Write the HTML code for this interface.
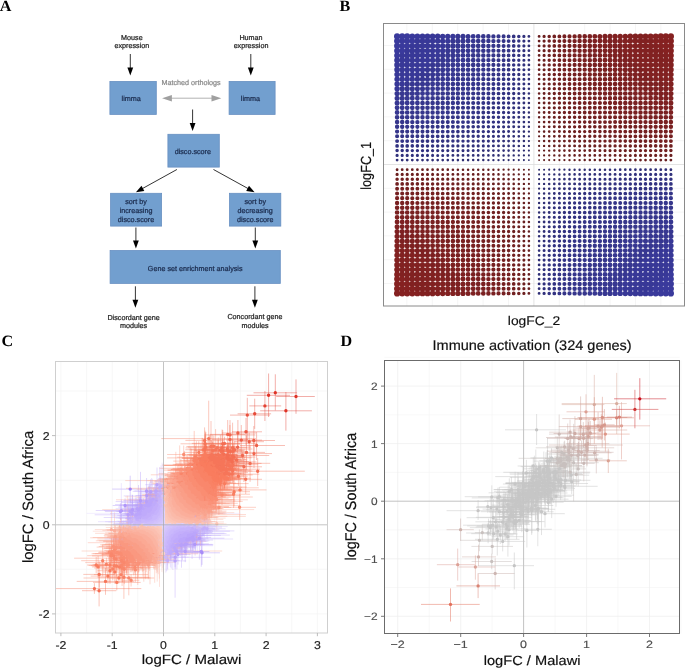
<!DOCTYPE html>
<html><head><meta charset="utf-8"><style>
html,body{margin:0;padding:0;background:#fff;}
body{width:685px;height:669px;overflow:hidden;}
svg{display:block;will-change:transform;}
text{text-rendering:geometricPrecision;}
</style></head><body>
<svg width="685" height="669" viewBox="0 0 685 669">
<rect width="685" height="669" fill="#fff"/>
<text transform="translate(-0.2,10.6) scale(1.030,1)" font-size="15.7" fill="#000" text-anchor="start" font-family='"Liberation Serif", serif' font-weight="bold" >A</text>
<text transform="translate(339.6,10.7) scale(1.030,1)" font-size="15.7" fill="#000" text-anchor="start" font-family='"Liberation Serif", serif' font-weight="bold" >B</text>
<text transform="translate(1.4,345.6) scale(1.030,1)" font-size="15.7" fill="#000" text-anchor="start" font-family='"Liberation Serif", serif' font-weight="bold" >C</text>
<text transform="translate(340.6,345.6) scale(1.030,1)" font-size="15.7" fill="#000" text-anchor="start" font-family='"Liberation Serif", serif' font-weight="bold" >D</text>
<text transform="translate(131.9,39.9)" font-size="7.2" fill="#222" text-anchor="middle" font-family='"Liberation Sans", sans-serif' font-weight="normal"  stroke="#222" stroke-width="0.22">Mouse</text>
<text transform="translate(131.9,47.9)" font-size="7.2" fill="#222" text-anchor="middle" font-family='"Liberation Sans", sans-serif' font-weight="normal"  stroke="#222" stroke-width="0.22">expression</text>
<text transform="translate(251,40.4)" font-size="7.2" fill="#222" text-anchor="middle" font-family='"Liberation Sans", sans-serif' font-weight="normal"  stroke="#222" stroke-width="0.22">Human</text>
<text transform="translate(251,48.4)" font-size="7.2" fill="#222" text-anchor="middle" font-family='"Liberation Sans", sans-serif' font-weight="normal"  stroke="#222" stroke-width="0.22">expression</text>
<line x1="130.3" y1="54" x2="130.3" y2="68.5" stroke="#000" stroke-width="0.8"/>
<path d="M130.3 75.5L127.4 67.5L133.2 67.5Z" fill="#000"/>
<line x1="250.8" y1="54" x2="250.8" y2="68.5" stroke="#000" stroke-width="0.8"/>
<path d="M250.8 75.5L247.9 67.5L253.7 67.5Z" fill="#000"/>
<rect x="109.9" y="81.4" width="46.4" height="33" fill="#729fcf" stroke="#6890c2" stroke-width="0.8"/>
<text transform="translate(131.2,101.1)" font-size="7.2" fill="#1a2a4c" text-anchor="middle" font-family='"Liberation Sans", sans-serif' font-weight="normal"  stroke="#1a2a4c" stroke-width="0.22">limma</text>
<rect x="229.1" y="81.4" width="46" height="33" fill="#729fcf" stroke="#6890c2" stroke-width="0.8"/>
<text transform="translate(250.4,101.1)" font-size="7.2" fill="#1a2a4c" text-anchor="middle" font-family='"Liberation Sans", sans-serif' font-weight="normal"  stroke="#1a2a4c" stroke-width="0.22">limma</text>
<text transform="translate(191,84.8)" font-size="7.2" fill="#8a8a8a" text-anchor="middle" font-family='"Liberation Sans", sans-serif' font-weight="normal"  stroke="#8a8a8a" stroke-width="0.22">Matched orthologs</text>
<line x1="192" y1="98.2" x2="170.9" y2="98.2" stroke="#a0a0a0" stroke-width="0.8"/>
<path d="M162.1 98.2L171.9 94.9L171.9 101.5Z" fill="#a0a0a0"/>
<line x1="192" y1="98.2" x2="212.5" y2="98.2" stroke="#a0a0a0" stroke-width="0.8"/>
<path d="M221.3 98.2L211.5 101.5L211.5 94.9Z" fill="#a0a0a0"/>
<line x1="192.6" y1="109.5" x2="192.6" y2="124" stroke="#000" stroke-width="0.8"/>
<path d="M192.6 131.0L189.7 123.0L195.5 123.0Z" fill="#000"/>
<rect x="167.9" y="134.3" width="51.4" height="32.8" fill="#729fcf" stroke="#6890c2" stroke-width="0.8"/>
<text transform="translate(192.8,153.8)" font-size="7.2" fill="#1a2a4c" text-anchor="middle" font-family='"Liberation Sans", sans-serif' font-weight="normal"  stroke="#1a2a4c" stroke-width="0.22">disco.score</text>
<line x1="176.9" y1="169.5" x2="142" y2="188.8" stroke="#000" stroke-width="0.8"/>
<path d="M135.9 192.2L141.5 185.8L144.3 190.9Z" fill="#000"/>
<line x1="213.5" y1="169.5" x2="248.5" y2="188.8" stroke="#000" stroke-width="0.8"/>
<path d="M254.6 192.2L246.2 190.9L249.0 185.8Z" fill="#000"/>
<rect x="110.6" y="193.3" width="51" height="32.8" fill="#729fcf" stroke="#6890c2" stroke-width="0.8"/>
<text transform="translate(136,204.4)" font-size="7.2" fill="#1a2a4c" text-anchor="middle" font-family='"Liberation Sans", sans-serif' font-weight="normal"  stroke="#1a2a4c" stroke-width="0.22">sort by</text>
<text transform="translate(136,213.2)" font-size="7.2" fill="#1a2a4c" text-anchor="middle" font-family='"Liberation Sans", sans-serif' font-weight="normal"  stroke="#1a2a4c" stroke-width="0.22">increasing</text>
<text transform="translate(136,221.8)" font-size="7.2" fill="#1a2a4c" text-anchor="middle" font-family='"Liberation Sans", sans-serif' font-weight="normal"  stroke="#1a2a4c" stroke-width="0.22">disco.score</text>
<rect x="229.5" y="193.3" width="51.3" height="32.8" fill="#729fcf" stroke="#6890c2" stroke-width="0.8"/>
<text transform="translate(255.2,204.4)" font-size="7.2" fill="#1a2a4c" text-anchor="middle" font-family='"Liberation Sans", sans-serif' font-weight="normal"  stroke="#1a2a4c" stroke-width="0.22">sort by</text>
<text transform="translate(255.2,213.2)" font-size="7.2" fill="#1a2a4c" text-anchor="middle" font-family='"Liberation Sans", sans-serif' font-weight="normal"  stroke="#1a2a4c" stroke-width="0.22">decreasing</text>
<text transform="translate(255.2,221.8)" font-size="7.2" fill="#1a2a4c" text-anchor="middle" font-family='"Liberation Sans", sans-serif' font-weight="normal"  stroke="#1a2a4c" stroke-width="0.22">disco.score</text>
<line x1="135.9" y1="227.5" x2="135.9" y2="241.5" stroke="#000" stroke-width="0.8"/>
<path d="M135.9 248.5L133.0 240.5L138.8 240.5Z" fill="#000"/>
<line x1="255.3" y1="227.5" x2="255.3" y2="241.5" stroke="#000" stroke-width="0.8"/>
<path d="M255.3 248.5L252.4 240.5L258.2 240.5Z" fill="#000"/>
<rect x="110.1" y="250.5" width="170.2" height="32.9" fill="#729fcf" stroke="#6890c2" stroke-width="0.8"/>
<text transform="translate(195.2,271.1)" font-size="7.2" fill="#1a2a4c" text-anchor="middle" font-family='"Liberation Sans", sans-serif' font-weight="normal"  stroke="#1a2a4c" stroke-width="0.22">Gene set enrichment analysis</text>
<line x1="135.4" y1="286.3" x2="135.4" y2="300.8" stroke="#000" stroke-width="0.8"/>
<path d="M135.4 307.8L132.5 299.8L138.3 299.8Z" fill="#000"/>
<line x1="254.9" y1="286.3" x2="254.9" y2="300.8" stroke="#000" stroke-width="0.8"/>
<path d="M254.9 307.8L252.0 299.8L257.8 299.8Z" fill="#000"/>
<text transform="translate(133.6,320)" font-size="7.2" fill="#222" text-anchor="middle" font-family='"Liberation Sans", sans-serif' font-weight="normal"  stroke="#222" stroke-width="0.22">Discordant gene</text>
<text transform="translate(133.6,328.2)" font-size="7.2" fill="#222" text-anchor="middle" font-family='"Liberation Sans", sans-serif' font-weight="normal"  stroke="#222" stroke-width="0.22">modules</text>
<text transform="translate(255,319.4)" font-size="7.2" fill="#222" text-anchor="middle" font-family='"Liberation Sans", sans-serif' font-weight="normal"  stroke="#222" stroke-width="0.22">Concordant gene</text>
<text transform="translate(255,327.6)" font-size="7.2" fill="#222" text-anchor="middle" font-family='"Liberation Sans", sans-serif' font-weight="normal"  stroke="#222" stroke-width="0.22">modules</text>
<rect x="383.5" y="23.5" width="301.0" height="282.5" fill="#fff"/>
<path d="M406.9 23.5V306.0M383.5 45.5H684.5M432.3 23.5V306.0M383.5 69.3H684.5M457.7 23.5V306.0M383.5 93.1H684.5M483.1 23.5V306.0M383.5 116.9H684.5M508.5 23.5V306.0M383.5 140.7H684.5M559.3 23.5V306.0M383.5 188.3H684.5M584.7 23.5V306.0M383.5 212.1H684.5M610.1 23.5V306.0M383.5 235.9H684.5M635.5 23.5V306.0M383.5 259.7H684.5M660.9 23.5V306.0M383.5 283.5H684.5" stroke="#efefef" stroke-width="0.6" fill="none"/>
<path d="M533.9 23.5V306.0M383.5 164.5H684.5" stroke="#dcdcdc" stroke-width="0.8" fill="none"/>
<path d="M528.9 160.1h0M539.1 169.7h0" stroke="#2b2b67" stroke-width="1.94" stroke-linecap="round" fill="none"/>
<path d="M528.9 169.7h0M539.1 160.1h0" stroke="#5c1e20" stroke-width="1.94" stroke-linecap="round" fill="none"/>
<path d="M528.9 155.4h0M539.1 174.4h0M523.9 160.1h0M544.1 169.7h0" stroke="#2c2c6c" stroke-width="2.08" stroke-linecap="round" fill="none"/>
<path d="M528.9 174.4h0M539.1 155.4h0M523.9 169.7h0M544.1 160.1h0" stroke="#601f20" stroke-width="2.08" stroke-linecap="round" fill="none"/>
<path d="M528.9 150.6h0M539.1 179.2h0M518.8 160.1h0M549.2 169.7h0" stroke="#2c2c6c" stroke-width="2.16" stroke-linecap="round" fill="none"/>
<path d="M528.9 179.2h0M539.1 150.6h0M518.8 169.7h0M549.2 160.1h0" stroke="#601f20" stroke-width="2.16" stroke-linecap="round" fill="none"/>
<path d="M528.9 145.9h0M539.1 183.9h0M523.9 155.4h0M544.1 174.4h0M513.7 160.1h0M554.3 169.7h0" stroke="#2c2c6c" stroke-width="2.22" stroke-linecap="round" fill="none"/>
<path d="M528.9 183.9h0M539.1 145.9h0M523.9 174.4h0M544.1 155.4h0M513.7 169.7h0M554.3 160.1h0" stroke="#601f20" stroke-width="2.22" stroke-linecap="round" fill="none"/>
<path d="M528.9 141.1h0M539.1 188.7h0M508.6 160.1h0M559.4 169.7h0" stroke="#2c2c6c" stroke-width="2.26" stroke-linecap="round" fill="none"/>
<path d="M528.9 188.7h0M539.1 141.1h0M508.6 169.7h0M559.4 160.1h0" stroke="#601f20" stroke-width="2.26" stroke-linecap="round" fill="none"/>
<path d="M528.9 136.3h0M539.1 193.5h0M523.9 150.6h0M544.1 179.2h0M518.8 155.4h0M549.2 174.4h0M503.6 160.1h0M564.4 169.7h0" stroke="#2e2e71" stroke-width="2.32" stroke-linecap="round" fill="none"/>
<path d="M528.9 193.5h0M539.1 136.3h0M523.9 179.2h0M544.1 150.6h0M518.8 174.4h0M549.2 155.4h0M503.6 169.7h0M564.4 160.1h0" stroke="#641f20" stroke-width="2.32" stroke-linecap="round" fill="none"/>
<path d="M528.9 131.6h0M539.1 198.2h0M498.5 160.1h0M569.5 169.7h0" stroke="#2e2e71" stroke-width="2.36" stroke-linecap="round" fill="none"/>
<path d="M528.9 198.2h0M539.1 131.6h0M498.5 169.7h0M569.5 160.1h0" stroke="#641f20" stroke-width="2.36" stroke-linecap="round" fill="none"/>
<path d="M528.9 126.8h0M539.1 203.0h0M523.9 145.9h0M544.1 183.9h0M513.7 155.4h0M554.3 174.4h0M493.4 160.1h0M574.6 169.7h0" stroke="#2e2e71" stroke-width="2.40" stroke-linecap="round" fill="none"/>
<path d="M528.9 203.0h0M539.1 126.8h0M523.9 183.9h0M544.1 145.9h0M513.7 174.4h0M554.3 155.4h0M493.4 169.7h0M574.6 160.1h0" stroke="#641f20" stroke-width="2.40" stroke-linecap="round" fill="none"/>
<path d="M528.9 122.1h0M539.1 207.7h0M518.8 150.6h0M549.2 179.2h0M488.4 160.1h0M579.6 169.7h0" stroke="#2e2e71" stroke-width="2.44" stroke-linecap="round" fill="none"/>
<path d="M528.9 207.7h0M539.1 122.1h0M518.8 179.2h0M549.2 150.6h0M488.4 169.7h0M579.6 160.1h0" stroke="#641f20" stroke-width="2.44" stroke-linecap="round" fill="none"/>
<path d="M528.9 117.3h0M539.1 212.5h0M523.9 141.1h0M544.1 188.7h0M508.6 155.4h0M559.4 174.4h0M483.3 160.1h0M584.7 169.7h0" stroke="#2e2e71" stroke-width="2.46" stroke-linecap="round" fill="none"/>
<path d="M528.9 212.5h0M539.1 117.3h0M523.9 188.7h0M544.1 141.1h0M508.6 174.4h0M559.4 155.4h0M483.3 169.7h0M584.7 160.1h0" stroke="#641f20" stroke-width="2.46" stroke-linecap="round" fill="none"/>
<path d="M528.9 112.5h0M539.1 217.3h0M478.2 160.1h0M589.8 169.7h0" stroke="#2e2e71" stroke-width="2.50" stroke-linecap="round" fill="none"/>
<path d="M528.9 217.3h0M539.1 112.5h0M478.2 169.7h0M589.8 160.1h0" stroke="#641f20" stroke-width="2.50" stroke-linecap="round" fill="none"/>
<path d="M528.9 107.8h0M539.1 222.0h0M523.9 136.3h0M544.1 193.5h0M518.8 145.9h0M549.2 183.9h0M513.7 150.6h0M554.3 179.2h0M503.6 155.4h0M564.4 174.4h0M473.2 160.1h0M594.8 169.7h0" stroke="#2e2e71" stroke-width="2.52" stroke-linecap="round" fill="none"/>
<path d="M528.9 222.0h0M539.1 107.8h0M523.9 193.5h0M544.1 136.3h0M518.8 183.9h0M549.2 145.9h0M513.7 179.2h0M554.3 150.6h0M503.6 174.4h0M564.4 155.4h0M473.2 169.7h0M594.8 160.1h0" stroke="#641f20" stroke-width="2.52" stroke-linecap="round" fill="none"/>
<path d="M528.9 103.0h0M539.1 226.8h0M468.1 160.1h0M599.9 169.7h0" stroke="#2e2e71" stroke-width="2.56" stroke-linecap="round" fill="none"/>
<path d="M528.9 226.8h0M539.1 103.0h0M468.1 169.7h0M599.9 160.1h0" stroke="#641f20" stroke-width="2.56" stroke-linecap="round" fill="none"/>
<path d="M528.9 98.3h0M539.1 231.5h0M523.9 131.6h0M544.1 198.2h0M498.5 155.4h0M569.5 174.4h0M463.0 160.1h0M605.0 169.7h0" stroke="#2e2e71" stroke-width="2.58" stroke-linecap="round" fill="none"/>
<path d="M528.9 231.5h0M539.1 98.3h0M523.9 198.2h0M544.1 131.6h0M498.5 174.4h0M569.5 155.4h0M463.0 169.7h0M605.0 160.1h0" stroke="#641f20" stroke-width="2.58" stroke-linecap="round" fill="none"/>
<path d="M528.9 93.5h0M539.1 236.3h0M518.8 141.1h0M549.2 188.7h0M508.6 150.6h0M559.4 179.2h0M457.9 160.1h0M610.0 169.7h0" stroke="#303077" stroke-width="2.60" stroke-linecap="round" fill="none"/>
<path d="M528.9 236.3h0M539.1 93.5h0M518.8 188.7h0M549.2 141.1h0M508.6 179.2h0M559.4 150.6h0M457.9 169.7h0M610.0 160.1h0" stroke="#681f20" stroke-width="2.60" stroke-linecap="round" fill="none"/>
<path d="M528.9 88.7h0M539.1 241.1h0M523.9 126.8h0M544.1 203.0h0M513.7 145.9h0M554.3 183.9h0M493.4 155.4h0M574.6 174.4h0M452.9 160.1h0M615.1 169.7h0" stroke="#303077" stroke-width="2.62" stroke-linecap="round" fill="none"/>
<path d="M528.9 241.1h0M539.1 88.7h0M523.9 203.0h0M544.1 126.8h0M513.7 183.9h0M554.3 145.9h0M493.4 174.4h0M574.6 155.4h0M452.9 169.7h0M615.1 160.1h0" stroke="#681f20" stroke-width="2.62" stroke-linecap="round" fill="none"/>
<path d="M528.9 84.0h0M539.1 245.8h0M447.8 160.1h0M620.2 169.7h0" stroke="#303077" stroke-width="2.66" stroke-linecap="round" fill="none"/>
<path d="M528.9 245.8h0M539.1 84.0h0M447.8 169.7h0M620.2 160.1h0" stroke="#681f20" stroke-width="2.66" stroke-linecap="round" fill="none"/>
<path d="M528.9 79.2h0M539.1 250.6h0M523.9 122.1h0M544.1 207.7h0M518.8 136.3h0M549.2 193.5h0M503.6 150.6h0M564.4 179.2h0M488.4 155.4h0M579.6 174.4h0M442.7 160.1h0M625.3 169.7h0" stroke="#303077" stroke-width="2.68" stroke-linecap="round" fill="none"/>
<path d="M528.9 250.6h0M539.1 79.2h0M523.9 207.7h0M544.1 122.1h0M518.8 193.5h0M549.2 136.3h0M503.6 179.2h0M564.4 150.6h0M488.4 174.4h0M579.6 155.4h0M442.7 169.7h0M625.3 160.1h0" stroke="#681f20" stroke-width="2.68" stroke-linecap="round" fill="none"/>
<path d="M528.9 74.5h0M539.1 255.3h0M437.7 160.1h0M630.3 169.7h0" stroke="#303077" stroke-width="2.70" stroke-linecap="round" fill="none"/>
<path d="M528.9 255.3h0M539.1 74.5h0M437.7 169.7h0M630.3 160.1h0" stroke="#681f20" stroke-width="2.70" stroke-linecap="round" fill="none"/>
<path d="M528.9 69.7h0M539.1 260.1h0M523.9 117.3h0M544.1 212.5h0M513.7 141.1h0M554.3 188.7h0M508.6 145.9h0M559.4 183.9h0M483.3 155.4h0M584.7 174.4h0M432.6 160.1h0M635.4 169.7h0" stroke="#303077" stroke-width="2.72" stroke-linecap="round" fill="none"/>
<path d="M528.9 260.1h0M539.1 69.7h0M523.9 212.5h0M544.1 117.3h0M513.7 188.7h0M554.3 141.1h0M508.6 183.9h0M559.4 145.9h0M483.3 174.4h0M584.7 155.4h0M432.6 169.7h0M635.4 160.1h0" stroke="#681f20" stroke-width="2.72" stroke-linecap="round" fill="none"/>
<path d="M528.9 64.9h0M539.1 264.9h0M518.8 131.6h0M549.2 198.2h0M498.5 150.6h0M569.5 179.2h0M427.5 160.1h0M640.5 169.7h0" stroke="#303077" stroke-width="2.74" stroke-linecap="round" fill="none"/>
<path d="M528.9 264.9h0M539.1 64.9h0M518.8 198.2h0M549.2 131.6h0M498.5 179.2h0M569.5 150.6h0M427.5 169.7h0M640.5 160.1h0" stroke="#681f20" stroke-width="2.74" stroke-linecap="round" fill="none"/>
<path d="M528.9 60.2h0M539.1 269.6h0M523.9 112.5h0M544.1 217.3h0M478.2 155.4h0M589.8 174.4h0M422.5 160.1h0M645.5 169.7h0" stroke="#303077" stroke-width="2.76" stroke-linecap="round" fill="none"/>
<path d="M528.9 269.6h0M539.1 60.2h0M523.9 217.3h0M544.1 112.5h0M478.2 174.4h0M589.8 155.4h0M422.5 169.7h0M645.5 160.1h0" stroke="#681f20" stroke-width="2.76" stroke-linecap="round" fill="none"/>
<path d="M528.9 55.4h0M539.1 274.4h0M417.4 160.1h0M650.6 169.7h0" stroke="#303077" stroke-width="2.78" stroke-linecap="round" fill="none"/>
<path d="M528.9 274.4h0M539.1 55.4h0M417.4 169.7h0M650.6 160.1h0" stroke="#681f20" stroke-width="2.78" stroke-linecap="round" fill="none"/>
<path d="M528.9 50.7h0M539.1 279.1h0M523.9 107.8h0M544.1 222.0h0M518.8 126.8h0M549.2 203.0h0M513.7 136.3h0M554.3 193.5h0M503.6 145.9h0M564.4 183.9h0M493.4 150.6h0M574.6 179.2h0M473.2 155.4h0M594.8 174.4h0M412.3 160.1h0M655.7 169.7h0" stroke="#303077" stroke-width="2.80" stroke-linecap="round" fill="none"/>
<path d="M528.9 279.1h0M539.1 50.7h0M523.9 222.0h0M544.1 107.8h0M518.8 203.0h0M549.2 126.8h0M513.7 193.5h0M554.3 136.3h0M503.6 183.9h0M564.4 145.9h0M493.4 179.2h0M574.6 150.6h0M473.2 174.4h0M594.8 155.4h0M412.3 169.7h0M655.7 160.1h0" stroke="#681f20" stroke-width="2.80" stroke-linecap="round" fill="none"/>
<path d="M528.9 45.9h0M539.1 283.9h0M508.6 141.1h0M559.4 188.7h0M407.2 160.1h0M660.8 169.7h0" stroke="#303077" stroke-width="2.82" stroke-linecap="round" fill="none"/>
<path d="M528.9 283.9h0M539.1 45.9h0M508.6 188.7h0M559.4 141.1h0M407.2 169.7h0M660.8 160.1h0" stroke="#681f20" stroke-width="2.82" stroke-linecap="round" fill="none"/>
<path d="M528.9 41.1h0M539.1 288.7h0M523.9 103.0h0M544.1 226.8h0M468.1 155.4h0M599.9 174.4h0M402.2 160.1h0M665.8 169.7h0" stroke="#303077" stroke-width="2.84" stroke-linecap="round" fill="none"/>
<path d="M528.9 288.7h0M539.1 41.1h0M523.9 226.8h0M544.1 103.0h0M468.1 174.4h0M599.9 155.4h0M402.2 169.7h0M665.8 160.1h0" stroke="#681f20" stroke-width="2.84" stroke-linecap="round" fill="none"/>
<path d="M528.9 36.4h0M539.1 293.4h0M523.9 98.3h0M544.1 231.5h0M518.8 122.1h0M549.2 207.7h0M513.7 131.6h0M554.3 198.2h0M498.5 145.9h0M569.5 183.9h0M488.4 150.6h0M579.6 179.2h0M463.0 155.4h0M605.0 174.4h0M397.1 160.1h0M670.9 169.7h0" stroke="#303077" stroke-width="2.86" stroke-linecap="round" fill="none"/>
<path d="M528.9 293.4h0M539.1 36.4h0M523.9 231.5h0M544.1 98.3h0M518.8 207.7h0M549.2 122.1h0M513.7 198.2h0M554.3 131.6h0M498.5 183.9h0M569.5 145.9h0M488.4 179.2h0M579.6 150.6h0M463.0 174.4h0M605.0 155.4h0M397.1 169.7h0M670.9 160.1h0" stroke="#681f20" stroke-width="2.86" stroke-linecap="round" fill="none"/>
<path d="M523.9 93.5h0M544.1 236.3h0M518.8 117.3h0M549.2 212.5h0M508.6 136.3h0M559.4 193.5h0M503.6 141.1h0M564.4 188.7h0M483.3 150.6h0M584.7 179.2h0M457.9 155.4h0M610.0 174.4h0" stroke="#303077" stroke-width="2.90" stroke-linecap="round" fill="none"/>
<path d="M523.9 236.3h0M544.1 93.5h0M518.8 212.5h0M549.2 117.3h0M508.6 193.5h0M559.4 136.3h0M503.6 188.7h0M564.4 141.1h0M483.3 179.2h0M584.7 150.6h0M457.9 174.4h0M610.0 155.4h0" stroke="#681f20" stroke-width="2.90" stroke-linecap="round" fill="none"/>
<path d="M523.9 88.7h0M544.1 241.1h0M513.7 126.8h0M554.3 203.0h0M493.4 145.9h0M574.6 183.9h0M452.9 155.4h0M615.1 174.4h0" stroke="#303077" stroke-width="2.94" stroke-linecap="round" fill="none"/>
<path d="M523.9 241.1h0M544.1 88.7h0M513.7 203.0h0M554.3 126.8h0M493.4 183.9h0M574.6 145.9h0M452.9 174.4h0M615.1 155.4h0" stroke="#681f20" stroke-width="2.94" stroke-linecap="round" fill="none"/>
<path d="M523.9 84.0h0M544.1 245.8h0M518.8 112.5h0M549.2 217.3h0M478.2 150.6h0M589.8 179.2h0M447.8 155.4h0M620.2 174.4h0" stroke="#31317c" stroke-width="2.96" stroke-linecap="round" fill="none"/>
<path d="M523.9 245.8h0M544.1 84.0h0M518.8 217.3h0M549.2 112.5h0M478.2 179.2h0M589.8 150.6h0M447.8 174.4h0M620.2 155.4h0" stroke="#6c2020" stroke-width="2.96" stroke-linecap="round" fill="none"/>
<path d="M508.6 131.6h0M559.4 198.2h0M498.5 141.1h0M569.5 188.7h0" stroke="#31317c" stroke-width="2.98" stroke-linecap="round" fill="none"/>
<path d="M508.6 198.2h0M559.4 131.6h0M498.5 188.7h0M569.5 141.1h0" stroke="#6c2020" stroke-width="2.98" stroke-linecap="round" fill="none"/>
<path d="M523.9 79.2h0M544.1 250.6h0M518.8 107.8h0M549.2 222.0h0M513.7 122.1h0M554.3 207.7h0M503.6 136.3h0M564.4 193.5h0M488.4 145.9h0M579.6 183.9h0M473.2 150.6h0M594.8 179.2h0M442.7 155.4h0M625.3 174.4h0" stroke="#31317c" stroke-width="3.00" stroke-linecap="round" fill="none"/>
<path d="M523.9 250.6h0M544.1 79.2h0M518.8 222.0h0M549.2 107.8h0M513.7 207.7h0M554.3 122.1h0M503.6 193.5h0M564.4 136.3h0M488.4 183.9h0M579.6 145.9h0M473.2 179.2h0M594.8 150.6h0M442.7 174.4h0M625.3 155.4h0" stroke="#6c2020" stroke-width="3.00" stroke-linecap="round" fill="none"/>
<path d="M523.9 74.5h0M544.1 255.3h0M437.7 155.4h0M630.3 174.4h0" stroke="#31317c" stroke-width="3.02" stroke-linecap="round" fill="none"/>
<path d="M523.9 255.3h0M544.1 74.5h0M437.7 174.4h0M630.3 155.4h0" stroke="#6c2020" stroke-width="3.02" stroke-linecap="round" fill="none"/>
<path d="M518.8 103.0h0M549.2 226.8h0M468.1 150.6h0M599.9 179.2h0" stroke="#31317c" stroke-width="3.04" stroke-linecap="round" fill="none"/>
<path d="M518.8 226.8h0M549.2 103.0h0M468.1 179.2h0M599.9 150.6h0" stroke="#6c2020" stroke-width="3.04" stroke-linecap="round" fill="none"/>
<path d="M523.9 69.7h0M544.1 260.1h0M513.7 117.3h0M554.3 212.5h0M508.6 126.8h0M559.4 203.0h0M493.4 141.1h0M574.6 188.7h0M483.3 145.9h0M584.7 183.9h0M432.6 155.4h0M635.4 174.4h0" stroke="#31317c" stroke-width="3.06" stroke-linecap="round" fill="none"/>
<path d="M523.9 260.1h0M544.1 69.7h0M513.7 212.5h0M554.3 117.3h0M508.6 203.0h0M559.4 126.8h0M493.4 188.7h0M574.6 141.1h0M483.3 183.9h0M584.7 145.9h0M432.6 174.4h0M635.4 155.4h0" stroke="#6c2020" stroke-width="3.06" stroke-linecap="round" fill="none"/>
<path d="M523.9 64.9h0M544.1 264.9h0M518.8 98.3h0M549.2 231.5h0M503.6 131.6h0M564.4 198.2h0M498.5 136.3h0M569.5 193.5h0M463.0 150.6h0M605.0 179.2h0M427.5 155.4h0M640.5 174.4h0" stroke="#31317c" stroke-width="3.08" stroke-linecap="round" fill="none"/>
<path d="M523.9 264.9h0M544.1 64.9h0M518.8 231.5h0M549.2 98.3h0M503.6 198.2h0M564.4 131.6h0M498.5 193.5h0M569.5 136.3h0M463.0 179.2h0M605.0 150.6h0M427.5 174.4h0M640.5 155.4h0" stroke="#6c2020" stroke-width="3.08" stroke-linecap="round" fill="none"/>
<path d="M523.9 60.2h0M544.1 269.6h0M513.7 112.5h0M554.3 217.3h0M478.2 145.9h0M589.8 183.9h0M422.5 155.4h0M645.5 174.4h0" stroke="#31317c" stroke-width="3.10" stroke-linecap="round" fill="none"/>
<path d="M523.9 269.6h0M544.1 60.2h0M513.7 217.3h0M554.3 112.5h0M478.2 183.9h0M589.8 145.9h0M422.5 174.4h0M645.5 155.4h0" stroke="#6c2020" stroke-width="3.10" stroke-linecap="round" fill="none"/>
<path d="M518.8 93.5h0M549.2 236.3h0M508.6 122.1h0M559.4 207.7h0M488.4 141.1h0M579.6 188.7h0M457.9 150.6h0M610.0 179.2h0" stroke="#31317c" stroke-width="3.12" stroke-linecap="round" fill="none"/>
<path d="M518.8 236.3h0M549.2 93.5h0M508.6 207.7h0M559.4 122.1h0M488.4 188.7h0M579.6 141.1h0M457.9 179.2h0M610.0 150.6h0" stroke="#6c2020" stroke-width="3.12" stroke-linecap="round" fill="none"/>
<path d="M523.9 55.4h0M544.1 274.4h0M417.4 155.4h0M650.6 174.4h0" stroke="#31317c" stroke-width="3.14" stroke-linecap="round" fill="none"/>
<path d="M523.9 274.4h0M544.1 55.4h0M417.4 174.4h0M650.6 155.4h0" stroke="#6c2020" stroke-width="3.14" stroke-linecap="round" fill="none"/>
<path d="M523.9 50.7h0M544.1 279.1h0M518.8 88.7h0M549.2 241.1h0M513.7 107.8h0M554.3 222.0h0M503.6 126.8h0M564.4 203.0h0M493.4 136.3h0M574.6 193.5h0M473.2 145.9h0M594.8 183.9h0M452.9 150.6h0M615.1 179.2h0M412.3 155.4h0M655.7 174.4h0" stroke="#31317c" stroke-width="3.16" stroke-linecap="round" fill="none"/>
<path d="M523.9 279.1h0M544.1 50.7h0M518.8 241.1h0M549.2 88.7h0M513.7 222.0h0M554.3 107.8h0M503.6 203.0h0M564.4 126.8h0M493.4 193.5h0M574.6 136.3h0M473.2 183.9h0M594.8 145.9h0M452.9 179.2h0M615.1 150.6h0M412.3 174.4h0M655.7 155.4h0" stroke="#6c2020" stroke-width="3.16" stroke-linecap="round" fill="none"/>
<path d="M523.9 45.9h0M544.1 283.9h0M508.6 117.3h0M559.4 212.5h0M498.5 131.6h0M569.5 198.2h0M483.3 141.1h0M584.7 188.7h0M407.2 155.4h0M660.8 174.4h0" stroke="#31317c" stroke-width="3.18" stroke-linecap="round" fill="none"/>
<path d="M523.9 283.9h0M544.1 45.9h0M508.6 212.5h0M559.4 117.3h0M498.5 198.2h0M569.5 131.6h0M483.3 188.7h0M584.7 141.1h0M407.2 174.4h0M660.8 155.4h0" stroke="#6c2020" stroke-width="3.18" stroke-linecap="round" fill="none"/>
<path d="M523.9 41.1h0M544.1 288.7h0M518.8 84.0h0M549.2 245.8h0M513.7 103.0h0M554.3 226.8h0M468.1 145.9h0M599.9 183.9h0M447.8 150.6h0M620.2 179.2h0M402.2 155.4h0M665.8 174.4h0" stroke="#31317c" stroke-width="3.20" stroke-linecap="round" fill="none"/>
<path d="M523.9 288.7h0M544.1 41.1h0M518.8 245.8h0M549.2 84.0h0M513.7 226.8h0M554.3 103.0h0M468.1 183.9h0M599.9 145.9h0M447.8 179.2h0M620.2 150.6h0M402.2 174.4h0M665.8 155.4h0" stroke="#6c2020" stroke-width="3.20" stroke-linecap="round" fill="none"/>
<path d="M523.9 36.4h0M544.1 293.4h0M518.8 79.2h0M549.2 250.6h0M508.6 112.5h0M559.4 217.3h0M503.6 122.1h0M564.4 207.7h0M488.4 136.3h0M579.6 193.5h0M478.2 141.1h0M589.8 188.7h0M442.7 150.6h0M625.3 179.2h0M397.1 155.4h0M670.9 174.4h0" stroke="#31317c" stroke-width="3.24" stroke-linecap="round" fill="none"/>
<path d="M523.9 293.4h0M544.1 36.4h0M518.8 250.6h0M549.2 79.2h0M508.6 217.3h0M559.4 112.5h0M503.6 207.7h0M564.4 122.1h0M488.4 193.5h0M579.6 136.3h0M478.2 188.7h0M589.8 141.1h0M442.7 179.2h0M625.3 150.6h0M397.1 174.4h0M670.9 155.4h0" stroke="#6c2020" stroke-width="3.24" stroke-linecap="round" fill="none"/>
<path d="M518.8 74.5h0M549.2 255.3h0M513.7 98.3h0M554.3 231.5h0M498.5 126.8h0M569.5 203.0h0M493.4 131.6h0M574.6 198.2h0M463.0 145.9h0M605.0 183.9h0M437.7 150.6h0M630.3 179.2h0" stroke="#31317c" stroke-width="3.26" stroke-linecap="round" fill="none"/>
<path d="M518.8 255.3h0M549.2 74.5h0M513.7 231.5h0M554.3 98.3h0M498.5 203.0h0M569.5 126.8h0M493.4 198.2h0M574.6 131.6h0M463.0 183.9h0M605.0 145.9h0M437.7 179.2h0M630.3 150.6h0" stroke="#6c2020" stroke-width="3.26" stroke-linecap="round" fill="none"/>
<path d="M518.8 69.7h0M549.2 260.1h0M513.7 93.5h0M554.3 236.3h0M508.6 107.8h0M559.4 222.0h0M503.6 117.3h0M564.4 212.5h0M483.3 136.3h0M584.7 193.5h0M473.2 141.1h0M594.8 188.7h0M457.9 145.9h0M610.0 183.9h0M432.6 150.6h0M635.4 179.2h0" stroke="#31317c" stroke-width="3.30" stroke-linecap="round" fill="none"/>
<path d="M518.8 260.1h0M549.2 69.7h0M513.7 236.3h0M554.3 93.5h0M508.6 222.0h0M559.4 107.8h0M503.6 212.5h0M564.4 117.3h0M483.3 193.5h0M584.7 136.3h0M473.2 188.7h0M594.8 141.1h0M457.9 183.9h0M610.0 145.9h0M432.6 179.2h0M635.4 150.6h0" stroke="#6c2020" stroke-width="3.30" stroke-linecap="round" fill="none"/>
<path d="M518.8 64.9h0M549.2 264.9h0M513.7 88.7h0M554.3 241.1h0M498.5 122.1h0M569.5 207.7h0M493.4 126.8h0M574.6 203.0h0M488.4 131.6h0M579.6 198.2h0M452.9 145.9h0M615.1 183.9h0M427.5 150.6h0M640.5 179.2h0" stroke="#323281" stroke-width="3.34" stroke-linecap="round" fill="none"/>
<path d="M518.8 264.9h0M549.2 64.9h0M513.7 241.1h0M554.3 88.7h0M498.5 207.7h0M569.5 122.1h0M493.4 203.0h0M574.6 126.8h0M488.4 198.2h0M579.6 131.6h0M452.9 183.9h0M615.1 145.9h0M427.5 179.2h0M640.5 150.6h0" stroke="#712021" stroke-width="3.34" stroke-linecap="round" fill="none"/>
<path d="M518.8 60.2h0M549.2 269.6h0M508.6 103.0h0M559.4 226.8h0M503.6 112.5h0M564.4 217.3h0M478.2 136.3h0M589.8 193.5h0M468.1 141.1h0M599.9 188.7h0M422.5 150.6h0M645.5 179.2h0" stroke="#323281" stroke-width="3.36" stroke-linecap="round" fill="none"/>
<path d="M518.8 269.6h0M549.2 60.2h0M508.6 226.8h0M559.4 103.0h0M503.6 217.3h0M564.4 112.5h0M478.2 193.5h0M589.8 136.3h0M468.1 188.7h0M599.9 141.1h0M422.5 179.2h0M645.5 150.6h0" stroke="#712021" stroke-width="3.36" stroke-linecap="round" fill="none"/>
<path d="M513.7 84.0h0M554.3 245.8h0M447.8 145.9h0M620.2 183.9h0" stroke="#323281" stroke-width="3.38" stroke-linecap="round" fill="none"/>
<path d="M513.7 245.8h0M554.3 84.0h0M447.8 183.9h0M620.2 145.9h0" stroke="#712021" stroke-width="3.38" stroke-linecap="round" fill="none"/>
<path d="M518.8 55.4h0M549.2 274.4h0M508.6 98.3h0M559.4 231.5h0M498.5 117.3h0M569.5 212.5h0M483.3 131.6h0M584.7 198.2h0M463.0 141.1h0M605.0 188.7h0M417.4 150.6h0M650.6 179.2h0" stroke="#323281" stroke-width="3.40" stroke-linecap="round" fill="none"/>
<path d="M518.8 274.4h0M549.2 55.4h0M508.6 231.5h0M559.4 98.3h0M498.5 212.5h0M569.5 117.3h0M483.3 198.2h0M584.7 131.6h0M463.0 188.7h0M605.0 141.1h0M417.4 179.2h0M650.6 150.6h0" stroke="#712021" stroke-width="3.40" stroke-linecap="round" fill="none"/>
<path d="M518.8 50.7h0M549.2 279.1h0M513.7 79.2h0M554.3 250.6h0M503.6 107.8h0M564.4 222.0h0M493.4 122.1h0M574.6 207.7h0M488.4 126.8h0M579.6 203.0h0M473.2 136.3h0M594.8 193.5h0M442.7 145.9h0M625.3 183.9h0M412.3 150.6h0M655.7 179.2h0" stroke="#323281" stroke-width="3.42" stroke-linecap="round" fill="none"/>
<path d="M518.8 279.1h0M549.2 50.7h0M513.7 250.6h0M554.3 79.2h0M503.6 222.0h0M564.4 107.8h0M493.4 207.7h0M574.6 122.1h0M488.4 203.0h0M579.6 126.8h0M473.2 193.5h0M594.8 136.3h0M442.7 183.9h0M625.3 145.9h0M412.3 179.2h0M655.7 150.6h0" stroke="#712021" stroke-width="3.42" stroke-linecap="round" fill="none"/>
<path d="M518.8 45.9h0M549.2 283.9h0M513.7 74.5h0M554.3 255.3h0M508.6 93.5h0M559.4 236.3h0M457.9 141.1h0M610.0 188.7h0M437.7 145.9h0M630.3 183.9h0M407.2 150.6h0M660.8 179.2h0" stroke="#323281" stroke-width="3.46" stroke-linecap="round" fill="none"/>
<path d="M518.8 283.9h0M549.2 45.9h0M513.7 255.3h0M554.3 74.5h0M508.6 236.3h0M559.4 93.5h0M457.9 188.7h0M610.0 141.1h0M437.7 183.9h0M630.3 145.9h0M407.2 179.2h0M660.8 150.6h0" stroke="#712021" stroke-width="3.46" stroke-linecap="round" fill="none"/>
<path d="M518.8 41.1h0M549.2 288.7h0M503.6 103.0h0M564.4 226.8h0M498.5 112.5h0M569.5 217.3h0M478.2 131.6h0M589.8 198.2h0M468.1 136.3h0M599.9 193.5h0M402.2 150.6h0M665.8 179.2h0" stroke="#323281" stroke-width="3.48" stroke-linecap="round" fill="none"/>
<path d="M518.8 288.7h0M549.2 41.1h0M503.6 226.8h0M564.4 103.0h0M498.5 217.3h0M569.5 112.5h0M478.2 198.2h0M589.8 131.6h0M468.1 193.5h0M599.9 136.3h0M402.2 179.2h0M665.8 150.6h0" stroke="#712021" stroke-width="3.48" stroke-linecap="round" fill="none"/>
<path d="M513.7 69.7h0M554.3 260.1h0M508.6 88.7h0M559.4 241.1h0M493.4 117.3h0M574.6 212.5h0M483.3 126.8h0M584.7 203.0h0M452.9 141.1h0M615.1 188.7h0M432.6 145.9h0M635.4 183.9h0" stroke="#323281" stroke-width="3.50" stroke-linecap="round" fill="none"/>
<path d="M513.7 260.1h0M554.3 69.7h0M508.6 241.1h0M559.4 88.7h0M493.4 212.5h0M574.6 117.3h0M483.3 203.0h0M584.7 126.8h0M452.9 188.7h0M615.1 141.1h0M432.6 183.9h0M635.4 145.9h0" stroke="#712021" stroke-width="3.50" stroke-linecap="round" fill="none"/>
<path d="M518.8 36.4h0M549.2 293.4h0M488.4 122.1h0M579.6 207.7h0M397.1 150.6h0M670.9 179.2h0" stroke="#323281" stroke-width="3.52" stroke-linecap="round" fill="none"/>
<path d="M518.8 293.4h0M549.2 36.4h0M488.4 207.7h0M579.6 122.1h0M397.1 179.2h0M670.9 150.6h0" stroke="#712021" stroke-width="3.52" stroke-linecap="round" fill="none"/>
<path d="M513.7 64.9h0M554.3 264.9h0M508.6 84.0h0M559.4 245.8h0M503.6 98.3h0M564.4 231.5h0M498.5 107.8h0M569.5 222.0h0M473.2 131.6h0M594.8 198.2h0M463.0 136.3h0M605.0 193.5h0M447.8 141.1h0M620.2 188.7h0M427.5 145.9h0M640.5 183.9h0" stroke="#323281" stroke-width="3.54" stroke-linecap="round" fill="none"/>
<path d="M513.7 264.9h0M554.3 64.9h0M508.6 245.8h0M559.4 84.0h0M503.6 231.5h0M564.4 98.3h0M498.5 222.0h0M569.5 107.8h0M473.2 198.2h0M594.8 131.6h0M463.0 193.5h0M605.0 136.3h0M447.8 188.7h0M620.2 141.1h0M427.5 183.9h0M640.5 145.9h0" stroke="#712021" stroke-width="3.54" stroke-linecap="round" fill="none"/>
<path d="M513.7 60.2h0M554.3 269.6h0M493.4 112.5h0M574.6 217.3h0M478.2 126.8h0M589.8 203.0h0M422.5 145.9h0M645.5 183.9h0" stroke="#323281" stroke-width="3.58" stroke-linecap="round" fill="none"/>
<path d="M513.7 269.6h0M554.3 60.2h0M493.4 217.3h0M574.6 112.5h0M478.2 203.0h0M589.8 126.8h0M422.5 183.9h0M645.5 145.9h0" stroke="#712021" stroke-width="3.58" stroke-linecap="round" fill="none"/>
<path d="M513.7 55.4h0M554.3 274.4h0M508.6 79.2h0M559.4 250.6h0M503.6 93.5h0M564.4 236.3h0M498.5 103.0h0M569.5 226.8h0M488.4 117.3h0M579.6 212.5h0M483.3 122.1h0M584.7 207.7h0M468.1 131.6h0M599.9 198.2h0M457.9 136.3h0M610.0 193.5h0M442.7 141.1h0M625.3 188.7h0M417.4 145.9h0M650.6 183.9h0" stroke="#323281" stroke-width="3.60" stroke-linecap="round" fill="none"/>
<path d="M513.7 274.4h0M554.3 55.4h0M508.6 250.6h0M559.4 79.2h0M503.6 236.3h0M564.4 93.5h0M498.5 226.8h0M569.5 103.0h0M488.4 212.5h0M579.6 117.3h0M483.3 207.7h0M584.7 122.1h0M468.1 198.2h0M599.9 131.6h0M457.9 193.5h0M610.0 136.3h0M442.7 188.7h0M625.3 141.1h0M417.4 183.9h0M650.6 145.9h0" stroke="#712021" stroke-width="3.60" stroke-linecap="round" fill="none"/>
<path d="M513.7 50.7h0M554.3 279.1h0M508.6 74.5h0M559.4 255.3h0M503.6 88.7h0M564.4 241.1h0M493.4 107.8h0M574.6 222.0h0M473.2 126.8h0M594.8 203.0h0M452.9 136.3h0M615.1 193.5h0M437.7 141.1h0M630.3 188.7h0M412.3 145.9h0M655.7 183.9h0" stroke="#323281" stroke-width="3.64" stroke-linecap="round" fill="none"/>
<path d="M513.7 279.1h0M554.3 50.7h0M508.6 255.3h0M559.4 74.5h0M503.6 241.1h0M564.4 88.7h0M493.4 222.0h0M574.6 107.8h0M473.2 203.0h0M594.8 126.8h0M452.9 193.5h0M615.1 136.3h0M437.7 188.7h0M630.3 141.1h0M412.3 183.9h0M655.7 145.9h0" stroke="#712021" stroke-width="3.64" stroke-linecap="round" fill="none"/>
<path d="M498.5 98.3h0M569.5 231.5h0M488.4 112.5h0M579.6 217.3h0M478.2 122.1h0M589.8 207.7h0M463.0 131.6h0M605.0 198.2h0" stroke="#323281" stroke-width="3.66" stroke-linecap="round" fill="none"/>
<path d="M498.5 231.5h0M569.5 98.3h0M488.4 217.3h0M579.6 112.5h0M478.2 207.7h0M589.8 122.1h0M463.0 198.2h0M605.0 131.6h0" stroke="#712021" stroke-width="3.66" stroke-linecap="round" fill="none"/>
<path d="M513.7 45.9h0M554.3 283.9h0M508.6 69.7h0M559.4 260.1h0M483.3 117.3h0M584.7 212.5h0M432.6 141.1h0M635.4 188.7h0M407.2 145.9h0M660.8 183.9h0" stroke="#323281" stroke-width="3.68" stroke-linecap="round" fill="none"/>
<path d="M513.7 283.9h0M554.3 45.9h0M508.6 260.1h0M559.4 69.7h0M483.3 212.5h0M584.7 117.3h0M432.6 188.7h0M635.4 141.1h0M407.2 183.9h0M660.8 145.9h0" stroke="#712021" stroke-width="3.68" stroke-linecap="round" fill="none"/>
<path d="M513.7 41.1h0M554.3 288.7h0M503.6 84.0h0M564.4 245.8h0M493.4 103.0h0M574.6 226.8h0M468.1 126.8h0M599.9 203.0h0M447.8 136.3h0M620.2 193.5h0M402.2 145.9h0M665.8 183.9h0" stroke="#323281" stroke-width="3.70" stroke-linecap="round" fill="none"/>
<path d="M513.7 288.7h0M554.3 41.1h0M503.6 245.8h0M564.4 84.0h0M493.4 226.8h0M574.6 103.0h0M468.1 203.0h0M599.9 126.8h0M447.8 193.5h0M620.2 136.3h0M402.2 183.9h0M665.8 145.9h0" stroke="#712021" stroke-width="3.70" stroke-linecap="round" fill="none"/>
<path d="M508.6 64.9h0M559.4 264.9h0M498.5 93.5h0M569.5 236.3h0M457.9 131.6h0M610.0 198.2h0M427.5 141.1h0M640.5 188.7h0" stroke="#323281" stroke-width="3.72" stroke-linecap="round" fill="none"/>
<path d="M508.6 264.9h0M559.4 64.9h0M498.5 236.3h0M569.5 93.5h0M457.9 198.2h0M610.0 131.6h0M427.5 188.7h0M640.5 141.1h0" stroke="#712021" stroke-width="3.72" stroke-linecap="round" fill="none"/>
<path d="M513.7 36.4h0M554.3 293.4h0M503.6 79.2h0M564.4 250.6h0M488.4 107.8h0M579.6 222.0h0M473.2 122.1h0M594.8 207.7h0M442.7 136.3h0M625.3 193.5h0M397.1 145.9h0M670.9 183.9h0" stroke="#323281" stroke-width="3.74" stroke-linecap="round" fill="none"/>
<path d="M513.7 293.4h0M554.3 36.4h0M503.6 250.6h0M564.4 79.2h0M488.4 222.0h0M579.6 107.8h0M473.2 207.7h0M594.8 122.1h0M442.7 193.5h0M625.3 136.3h0M397.1 183.9h0M670.9 145.9h0" stroke="#712021" stroke-width="3.74" stroke-linecap="round" fill="none"/>
<path d="M508.6 60.2h0M559.4 269.6h0M483.3 112.5h0M584.7 217.3h0M478.2 117.3h0M589.8 212.5h0M422.5 141.1h0M645.5 188.7h0" stroke="#323281" stroke-width="3.76" stroke-linecap="round" fill="none"/>
<path d="M508.6 269.6h0M559.4 60.2h0M483.3 217.3h0M584.7 112.5h0M478.2 212.5h0M589.8 117.3h0M422.5 188.7h0M645.5 141.1h0" stroke="#712021" stroke-width="3.76" stroke-linecap="round" fill="none"/>
<path d="M498.5 88.7h0M569.5 241.1h0M493.4 98.3h0M574.6 231.5h0M463.0 126.8h0M605.0 203.0h0M452.9 131.6h0M615.1 198.2h0" stroke="#343487" stroke-width="3.76" stroke-linecap="round" fill="none"/>
<path d="M498.5 241.1h0M569.5 88.7h0M493.4 231.5h0M574.6 98.3h0M463.0 203.0h0M605.0 126.8h0M452.9 198.2h0M615.1 131.6h0" stroke="#752021" stroke-width="3.76" stroke-linecap="round" fill="none"/>
<path d="M503.6 74.5h0M564.4 255.3h0M437.7 136.3h0M630.3 193.5h0" stroke="#343487" stroke-width="3.78" stroke-linecap="round" fill="none"/>
<path d="M503.6 255.3h0M564.4 74.5h0M437.7 193.5h0M630.3 136.3h0" stroke="#752021" stroke-width="3.78" stroke-linecap="round" fill="none"/>
<path d="M508.6 55.4h0M559.4 274.4h0M488.4 103.0h0M579.6 226.8h0M468.1 122.1h0M599.9 207.7h0M417.4 141.1h0M650.6 188.7h0" stroke="#343487" stroke-width="3.80" stroke-linecap="round" fill="none"/>
<path d="M508.6 274.4h0M559.4 55.4h0M488.4 226.8h0M579.6 103.0h0M468.1 207.7h0M599.9 122.1h0M417.4 188.7h0M650.6 141.1h0" stroke="#752021" stroke-width="3.80" stroke-linecap="round" fill="none"/>
<path d="M508.6 50.7h0M559.4 279.1h0M503.6 69.7h0M564.4 260.1h0M498.5 84.0h0M569.5 245.8h0M493.4 93.5h0M574.6 236.3h0M483.3 107.8h0M584.7 222.0h0M473.2 117.3h0M594.8 212.5h0M457.9 126.8h0M610.0 203.0h0M447.8 131.6h0M620.2 198.2h0M432.6 136.3h0M635.4 193.5h0M412.3 141.1h0M655.7 188.7h0" stroke="#343487" stroke-width="3.82" stroke-linecap="round" fill="none"/>
<path d="M508.6 279.1h0M559.4 50.7h0M503.6 260.1h0M564.4 69.7h0M498.5 245.8h0M569.5 84.0h0M493.4 236.3h0M574.6 93.5h0M483.3 222.0h0M584.7 107.8h0M473.2 212.5h0M594.8 117.3h0M457.9 203.0h0M610.0 126.8h0M447.8 198.2h0M620.2 131.6h0M432.6 193.5h0M635.4 136.3h0M412.3 188.7h0M655.7 141.1h0" stroke="#752021" stroke-width="3.82" stroke-linecap="round" fill="none"/>
<path d="M478.2 112.5h0M589.8 217.3h0" stroke="#343487" stroke-width="3.84" stroke-linecap="round" fill="none"/>
<path d="M478.2 217.3h0M589.8 112.5h0" stroke="#752021" stroke-width="3.84" stroke-linecap="round" fill="none"/>
<path d="M508.6 45.9h0M559.4 283.9h0M407.2 141.1h0M660.8 188.7h0" stroke="#343487" stroke-width="3.86" stroke-linecap="round" fill="none"/>
<path d="M508.6 283.9h0M559.4 45.9h0M407.2 188.7h0M660.8 141.1h0" stroke="#752021" stroke-width="3.86" stroke-linecap="round" fill="none"/>
<path d="M503.6 64.9h0M564.4 264.9h0M498.5 79.2h0M569.5 250.6h0M493.4 88.7h0M574.6 241.1h0M488.4 98.3h0M579.6 231.5h0M463.0 122.1h0M605.0 207.7h0M452.9 126.8h0M615.1 203.0h0M442.7 131.6h0M625.3 198.2h0M427.5 136.3h0M640.5 193.5h0" stroke="#343487" stroke-width="3.88" stroke-linecap="round" fill="none"/>
<path d="M503.6 264.9h0M564.4 64.9h0M498.5 250.6h0M569.5 79.2h0M493.4 241.1h0M574.6 88.7h0M488.4 231.5h0M579.6 98.3h0M463.0 207.7h0M605.0 122.1h0M452.9 203.0h0M615.1 126.8h0M442.7 198.2h0M625.3 131.6h0M427.5 193.5h0M640.5 136.3h0" stroke="#752021" stroke-width="3.88" stroke-linecap="round" fill="none"/>
<path d="M508.6 41.1h0M559.4 288.7h0M483.3 103.0h0M584.7 226.8h0M468.1 117.3h0M599.9 212.5h0M402.2 141.1h0M665.8 188.7h0" stroke="#343487" stroke-width="3.90" stroke-linecap="round" fill="none"/>
<path d="M508.6 288.7h0M559.4 41.1h0M483.3 226.8h0M584.7 103.0h0M468.1 212.5h0M599.9 117.3h0M402.2 188.7h0M665.8 141.1h0" stroke="#752021" stroke-width="3.90" stroke-linecap="round" fill="none"/>
<path d="M503.6 60.2h0M564.4 269.6h0M498.5 74.5h0M569.5 255.3h0M478.2 107.8h0M589.8 222.0h0M473.2 112.5h0M594.8 217.3h0M437.7 131.6h0M630.3 198.2h0M422.5 136.3h0M645.5 193.5h0" stroke="#343487" stroke-width="3.92" stroke-linecap="round" fill="none"/>
<path d="M503.6 269.6h0M564.4 60.2h0M498.5 255.3h0M569.5 74.5h0M478.2 222.0h0M589.8 107.8h0M473.2 217.3h0M594.8 112.5h0M437.7 198.2h0M630.3 131.6h0M422.5 193.5h0M645.5 136.3h0" stroke="#752021" stroke-width="3.92" stroke-linecap="round" fill="none"/>
<path d="M508.6 36.4h0M559.4 293.4h0M493.4 84.0h0M574.6 245.8h0M488.4 93.5h0M579.6 236.3h0M457.9 122.1h0M610.0 207.7h0M447.8 126.8h0M620.2 203.0h0M397.1 141.1h0M670.9 188.7h0" stroke="#343487" stroke-width="3.94" stroke-linecap="round" fill="none"/>
<path d="M508.6 293.4h0M559.4 36.4h0M493.4 245.8h0M574.6 84.0h0M488.4 236.3h0M579.6 93.5h0M457.9 207.7h0M610.0 122.1h0M447.8 203.0h0M620.2 126.8h0M397.1 188.7h0M670.9 141.1h0" stroke="#752021" stroke-width="3.94" stroke-linecap="round" fill="none"/>
<path d="M503.6 55.4h0M564.4 274.4h0M498.5 69.7h0M569.5 260.1h0M483.3 98.3h0M584.7 231.5h0M463.0 117.3h0M605.0 212.5h0M432.6 131.6h0M635.4 198.2h0M417.4 136.3h0M650.6 193.5h0" stroke="#343487" stroke-width="3.96" stroke-linecap="round" fill="none"/>
<path d="M503.6 274.4h0M564.4 55.4h0M498.5 260.1h0M569.5 69.7h0M483.3 231.5h0M584.7 98.3h0M463.0 212.5h0M605.0 117.3h0M432.6 198.2h0M635.4 131.6h0M417.4 193.5h0M650.6 136.3h0" stroke="#752021" stroke-width="3.96" stroke-linecap="round" fill="none"/>
<path d="M478.2 103.0h0M589.8 226.8h0M468.1 112.5h0M599.9 217.3h0" stroke="#343487" stroke-width="3.98" stroke-linecap="round" fill="none"/>
<path d="M478.2 226.8h0M589.8 103.0h0M468.1 217.3h0M599.9 112.5h0" stroke="#752021" stroke-width="3.98" stroke-linecap="round" fill="none"/>
<path d="M503.6 50.7h0M564.4 279.1h0M493.4 79.2h0M574.6 250.6h0M488.4 88.7h0M579.6 241.1h0M473.2 107.8h0M594.8 222.0h0M452.9 122.1h0M615.1 207.7h0M442.7 126.8h0M625.3 203.0h0M412.3 136.3h0M655.7 193.5h0" stroke="#343487" stroke-width="4.00" stroke-linecap="round" fill="none"/>
<path d="M503.6 279.1h0M564.4 50.7h0M493.4 250.6h0M574.6 79.2h0M488.4 241.1h0M579.6 88.7h0M473.2 222.0h0M594.8 107.8h0M452.9 207.7h0M615.1 122.1h0M442.7 203.0h0M625.3 126.8h0M412.3 193.5h0M655.7 136.3h0" stroke="#752021" stroke-width="4.00" stroke-linecap="round" fill="none"/>
<path d="M498.5 64.9h0M569.5 264.9h0M427.5 131.6h0M640.5 198.2h0" stroke="#343487" stroke-width="4.02" stroke-linecap="round" fill="none"/>
<path d="M498.5 264.9h0M569.5 64.9h0M427.5 198.2h0M640.5 131.6h0" stroke="#752021" stroke-width="4.02" stroke-linecap="round" fill="none"/>
<path d="M503.6 45.9h0M564.4 283.9h0M493.4 74.5h0M574.6 255.3h0M483.3 93.5h0M584.7 236.3h0M457.9 117.3h0M610.0 212.5h0M437.7 126.8h0M630.3 203.0h0M407.2 136.3h0M660.8 193.5h0" stroke="#343487" stroke-width="4.04" stroke-linecap="round" fill="none"/>
<path d="M503.6 283.9h0M564.4 45.9h0M493.4 255.3h0M574.6 74.5h0M483.3 236.3h0M584.7 93.5h0M457.9 212.5h0M610.0 117.3h0M437.7 203.0h0M630.3 126.8h0M407.2 193.5h0M660.8 136.3h0" stroke="#752021" stroke-width="4.04" stroke-linecap="round" fill="none"/>
<path d="M498.5 60.2h0M569.5 269.6h0M488.4 84.0h0M579.6 245.8h0M478.2 98.3h0M589.8 231.5h0M463.0 112.5h0M605.0 217.3h0M447.8 122.1h0M620.2 207.7h0M422.5 131.6h0M645.5 198.2h0" stroke="#343487" stroke-width="4.06" stroke-linecap="round" fill="none"/>
<path d="M498.5 269.6h0M569.5 60.2h0M488.4 245.8h0M579.6 84.0h0M478.2 231.5h0M589.8 98.3h0M463.0 217.3h0M605.0 112.5h0M447.8 207.7h0M620.2 122.1h0M422.5 198.2h0M645.5 131.6h0" stroke="#752021" stroke-width="4.06" stroke-linecap="round" fill="none"/>
<path d="M503.6 41.1h0M564.4 288.7h0M473.2 103.0h0M594.8 226.8h0M468.1 107.8h0M599.9 222.0h0M402.2 136.3h0M665.8 193.5h0" stroke="#343487" stroke-width="4.08" stroke-linecap="round" fill="none"/>
<path d="M503.6 288.7h0M564.4 41.1h0M473.2 226.8h0M594.8 103.0h0M468.1 222.0h0M599.9 107.8h0M402.2 193.5h0M665.8 136.3h0" stroke="#752021" stroke-width="4.08" stroke-linecap="round" fill="none"/>
<path d="M498.5 55.4h0M569.5 274.4h0M493.4 69.7h0M574.6 260.1h0M483.3 88.7h0M584.7 241.1h0M452.9 117.3h0M615.1 212.5h0M432.6 126.8h0M635.4 203.0h0M417.4 131.6h0M650.6 198.2h0" stroke="#343487" stroke-width="4.10" stroke-linecap="round" fill="none"/>
<path d="M498.5 274.4h0M569.5 55.4h0M493.4 260.1h0M574.6 69.7h0M483.3 241.1h0M584.7 88.7h0M452.9 212.5h0M615.1 117.3h0M432.6 203.0h0M635.4 126.8h0M417.4 198.2h0M650.6 131.6h0" stroke="#752021" stroke-width="4.10" stroke-linecap="round" fill="none"/>
<path d="M503.6 36.4h0M564.4 293.4h0M488.4 79.2h0M579.6 250.6h0M478.2 93.5h0M589.8 236.3h0M457.9 112.5h0M610.0 217.3h0M442.7 122.1h0M625.3 207.7h0M397.1 136.3h0M670.9 193.5h0" stroke="#343487" stroke-width="4.12" stroke-linecap="round" fill="none"/>
<path d="M503.6 293.4h0M564.4 36.4h0M488.4 250.6h0M579.6 79.2h0M478.2 236.3h0M589.8 93.5h0M457.9 217.3h0M610.0 112.5h0M442.7 207.7h0M625.3 122.1h0M397.1 193.5h0M670.9 136.3h0" stroke="#752021" stroke-width="4.12" stroke-linecap="round" fill="none"/>
<path d="M498.5 50.7h0M569.5 279.1h0M493.4 64.9h0M574.6 264.9h0M473.2 98.3h0M594.8 231.5h0M463.0 107.8h0M605.0 222.0h0M427.5 126.8h0M640.5 203.0h0M412.3 131.6h0M655.7 198.2h0" stroke="#343487" stroke-width="4.14" stroke-linecap="round" fill="none"/>
<path d="M498.5 279.1h0M569.5 50.7h0M493.4 264.9h0M574.6 64.9h0M473.2 231.5h0M594.8 98.3h0M463.0 222.0h0M605.0 107.8h0M427.5 203.0h0M640.5 126.8h0M412.3 198.2h0M655.7 131.6h0" stroke="#752021" stroke-width="4.14" stroke-linecap="round" fill="none"/>
<path d="M488.4 74.5h0M579.6 255.3h0M483.3 84.0h0M584.7 245.8h0M468.1 103.0h0M599.9 226.8h0M447.8 117.3h0M620.2 212.5h0M437.7 122.1h0M630.3 207.7h0" stroke="#343487" stroke-width="4.16" stroke-linecap="round" fill="none"/>
<path d="M488.4 255.3h0M579.6 74.5h0M483.3 245.8h0M584.7 84.0h0M468.1 226.8h0M599.9 103.0h0M447.8 212.5h0M620.2 117.3h0M437.7 207.7h0M630.3 122.1h0" stroke="#752021" stroke-width="4.16" stroke-linecap="round" fill="none"/>
<path d="M498.5 45.9h0M569.5 283.9h0M407.2 131.6h0M660.8 198.2h0" stroke="#343487" stroke-width="4.18" stroke-linecap="round" fill="none"/>
<path d="M498.5 283.9h0M569.5 45.9h0M407.2 198.2h0M660.8 131.6h0" stroke="#752021" stroke-width="4.18" stroke-linecap="round" fill="none"/>
<path d="M493.4 60.2h0M574.6 269.6h0M478.2 88.7h0M589.8 241.1h0M452.9 112.5h0M615.1 217.3h0M422.5 126.8h0M645.5 203.0h0" stroke="#343487" stroke-width="4.20" stroke-linecap="round" fill="none"/>
<path d="M493.4 269.6h0M574.6 60.2h0M478.2 241.1h0M589.8 88.7h0M452.9 217.3h0M615.1 112.5h0M422.5 203.0h0M645.5 126.8h0" stroke="#752021" stroke-width="4.20" stroke-linecap="round" fill="none"/>
<path d="M498.5 41.1h0M569.5 288.7h0M488.4 69.7h0M579.6 260.1h0M483.3 79.2h0M584.7 250.6h0M473.2 93.5h0M594.8 236.3h0M468.1 98.3h0M599.9 231.5h0M463.0 103.0h0M605.0 226.8h0M457.9 107.8h0M610.0 222.0h0M442.7 117.3h0M625.3 212.5h0M432.6 122.1h0M635.4 207.7h0M402.2 131.6h0M665.8 198.2h0" stroke="#343487" stroke-width="4.22" stroke-linecap="round" fill="none"/>
<path d="M498.5 288.7h0M569.5 41.1h0M488.4 260.1h0M579.6 69.7h0M483.3 250.6h0M584.7 79.2h0M473.2 236.3h0M594.8 93.5h0M468.1 231.5h0M599.9 98.3h0M463.0 226.8h0M605.0 103.0h0M457.9 222.0h0M610.0 107.8h0M442.7 212.5h0M625.3 117.3h0M432.6 207.7h0M635.4 122.1h0M402.2 198.2h0M665.8 131.6h0" stroke="#752021" stroke-width="4.22" stroke-linecap="round" fill="none"/>
<path d="M493.4 55.4h0M574.6 274.4h0M417.4 126.8h0M650.6 203.0h0" stroke="#36368c" stroke-width="4.24" stroke-linecap="round" fill="none"/>
<path d="M493.4 274.4h0M574.6 55.4h0M417.4 203.0h0M650.6 126.8h0" stroke="#792021" stroke-width="4.24" stroke-linecap="round" fill="none"/>
<path d="M498.5 36.4h0M569.5 293.4h0M488.4 64.9h0M579.6 264.9h0M478.2 84.0h0M589.8 245.8h0M447.8 112.5h0M620.2 217.3h0M427.5 122.1h0M640.5 207.7h0M397.1 131.6h0M670.9 198.2h0" stroke="#36368c" stroke-width="4.26" stroke-linecap="round" fill="none"/>
<path d="M498.5 293.4h0M569.5 36.4h0M488.4 264.9h0M579.6 64.9h0M478.2 245.8h0M589.8 84.0h0M447.8 217.3h0M620.2 112.5h0M427.5 207.7h0M640.5 122.1h0M397.1 198.2h0M670.9 131.6h0" stroke="#792021" stroke-width="4.26" stroke-linecap="round" fill="none"/>
<path d="M493.4 50.7h0M574.6 279.1h0M483.3 74.5h0M584.7 255.3h0M473.2 88.7h0M594.8 241.1h0M452.9 107.8h0M615.1 222.0h0M437.7 117.3h0M630.3 212.5h0M412.3 126.8h0M655.7 203.0h0" stroke="#36368c" stroke-width="4.28" stroke-linecap="round" fill="none"/>
<path d="M493.4 279.1h0M574.6 50.7h0M483.3 255.3h0M584.7 74.5h0M473.2 241.1h0M594.8 88.7h0M452.9 222.0h0M615.1 107.8h0M437.7 212.5h0M630.3 117.3h0M412.3 203.0h0M655.7 126.8h0" stroke="#792021" stroke-width="4.28" stroke-linecap="round" fill="none"/>
<path d="M468.1 93.5h0M599.9 236.3h0M463.0 98.3h0M605.0 231.5h0M457.9 103.0h0M610.0 226.8h0" stroke="#36368c" stroke-width="4.30" stroke-linecap="round" fill="none"/>
<path d="M468.1 236.3h0M599.9 93.5h0M463.0 231.5h0M605.0 98.3h0M457.9 226.8h0M610.0 103.0h0" stroke="#792021" stroke-width="4.30" stroke-linecap="round" fill="none"/>
<path d="M493.4 45.9h0M574.6 283.9h0M488.4 60.2h0M579.6 269.6h0M483.3 69.7h0M584.7 260.1h0M478.2 79.2h0M589.8 250.6h0M442.7 112.5h0M625.3 217.3h0M432.6 117.3h0M635.4 212.5h0M422.5 122.1h0M645.5 207.7h0M407.2 126.8h0M660.8 203.0h0" stroke="#36368c" stroke-width="4.32" stroke-linecap="round" fill="none"/>
<path d="M493.4 283.9h0M574.6 45.9h0M488.4 269.6h0M579.6 60.2h0M483.3 260.1h0M584.7 69.7h0M478.2 250.6h0M589.8 79.2h0M442.7 217.3h0M625.3 112.5h0M432.6 212.5h0M635.4 117.3h0M422.5 207.7h0M645.5 122.1h0M407.2 203.0h0M660.8 126.8h0" stroke="#792021" stroke-width="4.32" stroke-linecap="round" fill="none"/>
<path d="M488.4 55.4h0M579.6 274.4h0M473.2 84.0h0M594.8 245.8h0M447.8 107.8h0M620.2 222.0h0M417.4 122.1h0M650.6 207.7h0" stroke="#36368c" stroke-width="4.36" stroke-linecap="round" fill="none"/>
<path d="M488.4 274.4h0M579.6 55.4h0M473.2 245.8h0M594.8 84.0h0M447.8 222.0h0M620.2 107.8h0M417.4 207.7h0M650.6 122.1h0" stroke="#792021" stroke-width="4.36" stroke-linecap="round" fill="none"/>
<path d="M493.4 41.1h0M574.6 288.7h0M483.3 64.9h0M584.7 264.9h0M478.2 74.5h0M589.8 255.3h0M468.1 88.7h0M599.9 241.1h0M463.0 93.5h0M605.0 236.3h0M457.9 98.3h0M610.0 231.5h0M452.9 103.0h0M615.1 226.8h0M437.7 112.5h0M630.3 217.3h0M427.5 117.3h0M640.5 212.5h0M402.2 126.8h0M665.8 203.0h0" stroke="#36368c" stroke-width="4.38" stroke-linecap="round" fill="none"/>
<path d="M493.4 288.7h0M574.6 41.1h0M483.3 264.9h0M584.7 64.9h0M478.2 255.3h0M589.8 74.5h0M468.1 241.1h0M599.9 88.7h0M463.0 236.3h0M605.0 93.5h0M457.9 231.5h0M610.0 98.3h0M452.9 226.8h0M615.1 103.0h0M437.7 217.3h0M630.3 112.5h0M427.5 212.5h0M640.5 117.3h0M402.2 203.0h0M665.8 126.8h0" stroke="#792021" stroke-width="4.38" stroke-linecap="round" fill="none"/>
<path d="M493.4 36.4h0M574.6 293.4h0M488.4 50.7h0M579.6 279.1h0M473.2 79.2h0M594.8 250.6h0M442.7 107.8h0M625.3 222.0h0M412.3 122.1h0M655.7 207.7h0M397.1 126.8h0M670.9 203.0h0" stroke="#36368c" stroke-width="4.42" stroke-linecap="round" fill="none"/>
<path d="M493.4 293.4h0M574.6 36.4h0M488.4 279.1h0M579.6 50.7h0M473.2 250.6h0M594.8 79.2h0M442.7 222.0h0M625.3 107.8h0M412.3 207.7h0M655.7 122.1h0M397.1 203.0h0M670.9 126.8h0" stroke="#792021" stroke-width="4.42" stroke-linecap="round" fill="none"/>
<path d="M483.3 60.2h0M584.7 269.6h0M478.2 69.7h0M589.8 260.1h0M468.1 84.0h0M599.9 245.8h0M447.8 103.0h0M620.2 226.8h0M432.6 112.5h0M635.4 217.3h0M422.5 117.3h0M645.5 212.5h0" stroke="#36368c" stroke-width="4.44" stroke-linecap="round" fill="none"/>
<path d="M483.3 269.6h0M584.7 60.2h0M478.2 260.1h0M589.8 69.7h0M468.1 245.8h0M599.9 84.0h0M447.8 226.8h0M620.2 103.0h0M432.6 217.3h0M635.4 112.5h0M422.5 212.5h0M645.5 117.3h0" stroke="#792021" stroke-width="4.44" stroke-linecap="round" fill="none"/>
<path d="M488.4 45.9h0M579.6 283.9h0M463.0 88.7h0M605.0 241.1h0M457.9 93.5h0M610.0 236.3h0M452.9 98.3h0M615.1 231.5h0M407.2 122.1h0M660.8 207.7h0" stroke="#36368c" stroke-width="4.46" stroke-linecap="round" fill="none"/>
<path d="M488.4 283.9h0M579.6 45.9h0M463.0 241.1h0M605.0 88.7h0M457.9 236.3h0M610.0 93.5h0M452.9 231.5h0M615.1 98.3h0M407.2 207.7h0M660.8 122.1h0" stroke="#792021" stroke-width="4.46" stroke-linecap="round" fill="none"/>
<path d="M483.3 55.4h0M584.7 274.4h0M473.2 74.5h0M594.8 255.3h0M437.7 107.8h0M630.3 222.0h0M417.4 117.3h0M650.6 212.5h0" stroke="#36368c" stroke-width="4.48" stroke-linecap="round" fill="none"/>
<path d="M483.3 274.4h0M584.7 55.4h0M473.2 255.3h0M594.8 74.5h0M437.7 222.0h0M630.3 107.8h0M417.4 212.5h0M650.6 117.3h0" stroke="#792021" stroke-width="4.48" stroke-linecap="round" fill="none"/>
<path d="M488.4 41.1h0M579.6 288.7h0M478.2 64.9h0M589.8 264.9h0M468.1 79.2h0M599.9 250.6h0M442.7 103.0h0M625.3 226.8h0M427.5 112.5h0M640.5 217.3h0M402.2 122.1h0M665.8 207.7h0" stroke="#36368c" stroke-width="4.50" stroke-linecap="round" fill="none"/>
<path d="M488.4 288.7h0M579.6 41.1h0M478.2 264.9h0M589.8 64.9h0M468.1 250.6h0M599.9 79.2h0M442.7 226.8h0M625.3 103.0h0M427.5 217.3h0M640.5 112.5h0M402.2 207.7h0M665.8 122.1h0" stroke="#792021" stroke-width="4.50" stroke-linecap="round" fill="none"/>
<path d="M463.0 84.0h0M605.0 245.8h0M447.8 98.3h0M620.2 231.5h0" stroke="#36368c" stroke-width="4.52" stroke-linecap="round" fill="none"/>
<path d="M463.0 245.8h0M605.0 84.0h0M447.8 231.5h0M620.2 98.3h0" stroke="#792021" stroke-width="4.52" stroke-linecap="round" fill="none"/>
<path d="M483.3 50.7h0M584.7 279.1h0M478.2 60.2h0M589.8 269.6h0M473.2 69.7h0M594.8 260.1h0M457.9 88.7h0M610.0 241.1h0M452.9 93.5h0M615.1 236.3h0M432.6 107.8h0M635.4 222.0h0M422.5 112.5h0M645.5 217.3h0M412.3 117.3h0M655.7 212.5h0" stroke="#36368c" stroke-width="4.54" stroke-linecap="round" fill="none"/>
<path d="M483.3 279.1h0M584.7 50.7h0M478.2 269.6h0M589.8 60.2h0M473.2 260.1h0M594.8 69.7h0M457.9 241.1h0M610.0 88.7h0M452.9 236.3h0M615.1 93.5h0M432.6 222.0h0M635.4 107.8h0M422.5 217.3h0M645.5 112.5h0M412.3 212.5h0M655.7 117.3h0" stroke="#792021" stroke-width="4.54" stroke-linecap="round" fill="none"/>
<path d="M488.4 36.4h0M579.6 293.4h0M468.1 74.5h0M599.9 255.3h0M437.7 103.0h0M630.3 226.8h0M397.1 122.1h0M670.9 207.7h0" stroke="#36368c" stroke-width="4.56" stroke-linecap="round" fill="none"/>
<path d="M488.4 293.4h0M579.6 36.4h0M468.1 255.3h0M599.9 74.5h0M437.7 226.8h0M630.3 103.0h0M397.1 207.7h0M670.9 122.1h0" stroke="#792021" stroke-width="4.56" stroke-linecap="round" fill="none"/>
<path d="M483.3 45.9h0M584.7 283.9h0M407.2 117.3h0M660.8 212.5h0" stroke="#36368c" stroke-width="4.58" stroke-linecap="round" fill="none"/>
<path d="M483.3 283.9h0M584.7 45.9h0M407.2 212.5h0M660.8 117.3h0" stroke="#792021" stroke-width="4.58" stroke-linecap="round" fill="none"/>
<path d="M478.2 55.4h0M589.8 274.4h0M473.2 64.9h0M594.8 264.9h0M463.0 79.2h0M605.0 250.6h0M457.9 84.0h0M610.0 245.8h0M447.8 93.5h0M620.2 236.3h0M442.7 98.3h0M625.3 231.5h0M427.5 107.8h0M640.5 222.0h0M417.4 112.5h0M650.6 217.3h0" stroke="#36368c" stroke-width="4.60" stroke-linecap="round" fill="none"/>
<path d="M478.2 274.4h0M589.8 55.4h0M473.2 264.9h0M594.8 64.9h0M463.0 250.6h0M605.0 79.2h0M457.9 245.8h0M610.0 84.0h0M447.8 236.3h0M620.2 93.5h0M442.7 231.5h0M625.3 98.3h0M427.5 222.0h0M640.5 107.8h0M417.4 217.3h0M650.6 112.5h0" stroke="#792021" stroke-width="4.60" stroke-linecap="round" fill="none"/>
<path d="M452.9 88.7h0M615.1 241.1h0" stroke="#36368c" stroke-width="4.62" stroke-linecap="round" fill="none"/>
<path d="M452.9 241.1h0M615.1 88.7h0" stroke="#792021" stroke-width="4.62" stroke-linecap="round" fill="none"/>
<path d="M483.3 41.1h0M584.7 288.7h0M468.1 69.7h0M599.9 260.1h0M432.6 103.0h0M635.4 226.8h0M402.2 117.3h0M665.8 212.5h0" stroke="#36368c" stroke-width="4.64" stroke-linecap="round" fill="none"/>
<path d="M483.3 288.7h0M584.7 41.1h0M468.1 260.1h0M599.9 69.7h0M432.6 226.8h0M635.4 103.0h0M402.2 212.5h0M665.8 117.3h0" stroke="#792021" stroke-width="4.64" stroke-linecap="round" fill="none"/>
<path d="M478.2 50.7h0M589.8 279.1h0M473.2 60.2h0M594.8 269.6h0M463.0 74.5h0M605.0 255.3h0M437.7 98.3h0M630.3 231.5h0M422.5 107.8h0M645.5 222.0h0M412.3 112.5h0M655.7 217.3h0" stroke="#36368c" stroke-width="4.66" stroke-linecap="round" fill="none"/>
<path d="M478.2 279.1h0M589.8 50.7h0M473.2 269.6h0M594.8 60.2h0M463.0 255.3h0M605.0 74.5h0M437.7 231.5h0M630.3 98.3h0M422.5 222.0h0M645.5 107.8h0M412.3 217.3h0M655.7 112.5h0" stroke="#792021" stroke-width="4.66" stroke-linecap="round" fill="none"/>
<path d="M483.3 36.4h0M584.7 293.4h0M457.9 79.2h0M610.0 250.6h0M452.9 84.0h0M615.1 245.8h0M447.8 88.7h0M620.2 241.1h0M442.7 93.5h0M625.3 236.3h0M397.1 117.3h0M670.9 212.5h0" stroke="#36368c" stroke-width="4.68" stroke-linecap="round" fill="none"/>
<path d="M483.3 293.4h0M584.7 36.4h0M457.9 250.6h0M610.0 79.2h0M452.9 245.8h0M615.1 84.0h0M447.8 241.1h0M620.2 88.7h0M442.7 236.3h0M625.3 93.5h0M397.1 212.5h0M670.9 117.3h0" stroke="#792021" stroke-width="4.68" stroke-linecap="round" fill="none"/>
<path d="M478.2 45.9h0M589.8 283.9h0M473.2 55.4h0M594.8 274.4h0M468.1 64.9h0M599.9 264.9h0M427.5 103.0h0M640.5 226.8h0M417.4 107.8h0M650.6 222.0h0M407.2 112.5h0M660.8 217.3h0" stroke="#36368c" stroke-width="4.70" stroke-linecap="round" fill="none"/>
<path d="M478.2 283.9h0M589.8 45.9h0M473.2 274.4h0M594.8 55.4h0M468.1 264.9h0M599.9 64.9h0M427.5 226.8h0M640.5 103.0h0M417.4 222.0h0M650.6 107.8h0M407.2 217.3h0M660.8 112.5h0" stroke="#792021" stroke-width="4.70" stroke-linecap="round" fill="none"/>
<path d="M463.0 69.7h0M605.0 260.1h0M432.6 98.3h0M635.4 231.5h0" stroke="#36368c" stroke-width="4.72" stroke-linecap="round" fill="none"/>
<path d="M463.0 260.1h0M605.0 69.7h0M432.6 231.5h0M635.4 98.3h0" stroke="#792021" stroke-width="4.72" stroke-linecap="round" fill="none"/>
<path d="M478.2 41.1h0M589.8 288.7h0M468.1 60.2h0M599.9 269.6h0M457.9 74.5h0M610.0 255.3h0M437.7 93.5h0M630.3 236.3h0M422.5 103.0h0M645.5 226.8h0M402.2 112.5h0M665.8 217.3h0" stroke="#36368c" stroke-width="4.74" stroke-linecap="round" fill="none"/>
<path d="M478.2 288.7h0M589.8 41.1h0M468.1 269.6h0M599.9 60.2h0M457.9 255.3h0M610.0 74.5h0M437.7 236.3h0M630.3 93.5h0M422.5 226.8h0M645.5 103.0h0M402.2 217.3h0M665.8 112.5h0" stroke="#792021" stroke-width="4.74" stroke-linecap="round" fill="none"/>
<path d="M473.2 50.7h0M594.8 279.1h0M452.9 79.2h0M615.1 250.6h0M447.8 84.0h0M620.2 245.8h0M442.7 88.7h0M625.3 241.1h0M412.3 107.8h0M655.7 222.0h0" stroke="#373791" stroke-width="4.76" stroke-linecap="round" fill="none"/>
<path d="M473.2 279.1h0M594.8 50.7h0M452.9 250.6h0M615.1 79.2h0M447.8 245.8h0M620.2 84.0h0M442.7 241.1h0M625.3 88.7h0M412.3 222.0h0M655.7 107.8h0" stroke="#7d2021" stroke-width="4.76" stroke-linecap="round" fill="none"/>
<path d="M463.0 64.9h0M605.0 264.9h0M427.5 98.3h0M640.5 231.5h0" stroke="#373791" stroke-width="4.78" stroke-linecap="round" fill="none"/>
<path d="M463.0 264.9h0M605.0 64.9h0M427.5 231.5h0M640.5 98.3h0" stroke="#7d2021" stroke-width="4.78" stroke-linecap="round" fill="none"/>
<path d="M478.2 36.4h0M589.8 293.4h0M468.1 55.4h0M599.9 274.4h0M417.4 103.0h0M650.6 226.8h0M397.1 112.5h0M670.9 217.3h0" stroke="#373791" stroke-width="4.80" stroke-linecap="round" fill="none"/>
<path d="M478.2 293.4h0M589.8 36.4h0M468.1 274.4h0M599.9 55.4h0M417.4 226.8h0M650.6 103.0h0M397.1 217.3h0M670.9 112.5h0" stroke="#7d2021" stroke-width="4.80" stroke-linecap="round" fill="none"/>
<path d="M473.2 45.9h0M594.8 283.9h0M457.9 69.7h0M610.0 260.1h0M452.9 74.5h0M615.1 255.3h0M437.7 88.7h0M630.3 241.1h0M432.6 93.5h0M635.4 236.3h0M407.2 107.8h0M660.8 222.0h0" stroke="#373791" stroke-width="4.82" stroke-linecap="round" fill="none"/>
<path d="M473.2 283.9h0M594.8 45.9h0M457.9 260.1h0M610.0 69.7h0M452.9 255.3h0M615.1 74.5h0M437.7 241.1h0M630.3 88.7h0M432.6 236.3h0M635.4 93.5h0M407.2 222.0h0M660.8 107.8h0" stroke="#7d2021" stroke-width="4.82" stroke-linecap="round" fill="none"/>
<path d="M463.0 60.2h0M605.0 269.6h0M447.8 79.2h0M620.2 250.6h0M442.7 84.0h0M625.3 245.8h0M422.5 98.3h0M645.5 231.5h0" stroke="#373791" stroke-width="4.84" stroke-linecap="round" fill="none"/>
<path d="M463.0 269.6h0M605.0 60.2h0M447.8 250.6h0M620.2 79.2h0M442.7 245.8h0M625.3 84.0h0M422.5 231.5h0M645.5 98.3h0" stroke="#7d2021" stroke-width="4.84" stroke-linecap="round" fill="none"/>
<path d="M473.2 41.1h0M594.8 288.7h0M468.1 50.7h0M599.9 279.1h0M412.3 103.0h0M655.7 226.8h0M402.2 107.8h0M665.8 222.0h0" stroke="#373791" stroke-width="4.86" stroke-linecap="round" fill="none"/>
<path d="M473.2 288.7h0M594.8 41.1h0M468.1 279.1h0M599.9 50.7h0M412.3 226.8h0M655.7 103.0h0M402.2 222.0h0M665.8 107.8h0" stroke="#7d2021" stroke-width="4.86" stroke-linecap="round" fill="none"/>
<path d="M457.9 64.9h0M610.0 264.9h0M427.5 93.5h0M640.5 236.3h0" stroke="#373791" stroke-width="4.88" stroke-linecap="round" fill="none"/>
<path d="M457.9 264.9h0M610.0 64.9h0M427.5 236.3h0M640.5 93.5h0" stroke="#7d2021" stroke-width="4.88" stroke-linecap="round" fill="none"/>
<path d="M463.0 55.4h0M605.0 274.4h0M452.9 69.7h0M615.1 260.1h0M447.8 74.5h0M620.2 255.3h0M437.7 84.0h0M630.3 245.8h0M432.6 88.7h0M635.4 241.1h0M417.4 98.3h0M650.6 231.5h0" stroke="#373791" stroke-width="4.90" stroke-linecap="round" fill="none"/>
<path d="M463.0 274.4h0M605.0 55.4h0M452.9 260.1h0M615.1 69.7h0M447.8 255.3h0M620.2 74.5h0M437.7 245.8h0M630.3 84.0h0M432.6 241.1h0M635.4 88.7h0M417.4 231.5h0M650.6 98.3h0" stroke="#7d2021" stroke-width="4.90" stroke-linecap="round" fill="none"/>
<path d="M473.2 36.4h0M594.8 293.4h0M468.1 45.9h0M599.9 283.9h0M442.7 79.2h0M625.3 250.6h0M407.2 103.0h0M660.8 226.8h0M397.1 107.8h0M670.9 222.0h0" stroke="#373791" stroke-width="4.92" stroke-linecap="round" fill="none"/>
<path d="M473.2 293.4h0M594.8 36.4h0M468.1 283.9h0M599.9 45.9h0M442.7 250.6h0M625.3 79.2h0M407.2 226.8h0M660.8 103.0h0M397.1 222.0h0M670.9 107.8h0" stroke="#7d2021" stroke-width="4.92" stroke-linecap="round" fill="none"/>
<path d="M457.9 60.2h0M610.0 269.6h0M422.5 93.5h0M645.5 236.3h0" stroke="#373791" stroke-width="4.94" stroke-linecap="round" fill="none"/>
<path d="M457.9 269.6h0M610.0 60.2h0M422.5 236.3h0M645.5 93.5h0" stroke="#7d2021" stroke-width="4.94" stroke-linecap="round" fill="none"/>
<path d="M468.1 41.1h0M599.9 288.7h0M463.0 50.7h0M605.0 279.1h0M452.9 64.9h0M615.1 264.9h0M427.5 88.7h0M640.5 241.1h0M412.3 98.3h0M655.7 231.5h0M402.2 103.0h0M665.8 226.8h0" stroke="#373791" stroke-width="4.96" stroke-linecap="round" fill="none"/>
<path d="M468.1 288.7h0M599.9 41.1h0M463.0 279.1h0M605.0 50.7h0M452.9 264.9h0M615.1 64.9h0M427.5 241.1h0M640.5 88.7h0M412.3 231.5h0M655.7 98.3h0M402.2 226.8h0M665.8 103.0h0" stroke="#7d2021" stroke-width="4.96" stroke-linecap="round" fill="none"/>
<path d="M447.8 69.7h0M620.2 260.1h0M442.7 74.5h0M625.3 255.3h0M437.7 79.2h0M630.3 250.6h0M432.6 84.0h0M635.4 245.8h0" stroke="#373791" stroke-width="4.98" stroke-linecap="round" fill="none"/>
<path d="M447.8 260.1h0M620.2 69.7h0M442.7 255.3h0M625.3 74.5h0M437.7 250.6h0M630.3 79.2h0M432.6 245.8h0M635.4 84.0h0" stroke="#7d2021" stroke-width="4.98" stroke-linecap="round" fill="none"/>
<path d="M457.9 55.4h0M610.0 274.4h0M417.4 93.5h0M650.6 236.3h0" stroke="#373791" stroke-width="5.00" stroke-linecap="round" fill="none"/>
<path d="M457.9 274.4h0M610.0 55.4h0M417.4 236.3h0M650.6 93.5h0" stroke="#7d2021" stroke-width="5.00" stroke-linecap="round" fill="none"/>
<path d="M468.1 36.4h0M599.9 293.4h0M463.0 45.9h0M605.0 283.9h0M452.9 60.2h0M615.1 269.6h0M422.5 88.7h0M645.5 241.1h0M407.2 98.3h0M660.8 231.5h0M397.1 103.0h0M670.9 226.8h0" stroke="#373791" stroke-width="5.02" stroke-linecap="round" fill="none"/>
<path d="M468.1 293.4h0M599.9 36.4h0M463.0 283.9h0M605.0 45.9h0M452.9 269.6h0M615.1 60.2h0M422.5 241.1h0M645.5 88.7h0M407.2 231.5h0M660.8 98.3h0M397.1 226.8h0M670.9 103.0h0" stroke="#7d2021" stroke-width="5.02" stroke-linecap="round" fill="none"/>
<path d="M447.8 64.9h0M620.2 264.9h0M427.5 84.0h0M640.5 245.8h0" stroke="#373791" stroke-width="5.04" stroke-linecap="round" fill="none"/>
<path d="M447.8 264.9h0M620.2 64.9h0M427.5 245.8h0M640.5 84.0h0" stroke="#7d2021" stroke-width="5.04" stroke-linecap="round" fill="none"/>
<path d="M457.9 50.7h0M610.0 279.1h0M442.7 69.7h0M625.3 260.1h0M437.7 74.5h0M630.3 255.3h0M432.6 79.2h0M635.4 250.6h0M412.3 93.5h0M655.7 236.3h0" stroke="#373791" stroke-width="5.06" stroke-linecap="round" fill="none"/>
<path d="M457.9 279.1h0M610.0 50.7h0M442.7 260.1h0M625.3 69.7h0M437.7 255.3h0M630.3 74.5h0M432.6 250.6h0M635.4 79.2h0M412.3 236.3h0M655.7 93.5h0" stroke="#7d2021" stroke-width="5.06" stroke-linecap="round" fill="none"/>
<path d="M463.0 41.1h0M605.0 288.7h0M452.9 55.4h0M615.1 274.4h0M417.4 88.7h0M650.6 241.1h0M402.2 98.3h0M665.8 231.5h0" stroke="#373791" stroke-width="5.08" stroke-linecap="round" fill="none"/>
<path d="M463.0 288.7h0M605.0 41.1h0M452.9 274.4h0M615.1 55.4h0M417.4 241.1h0M650.6 88.7h0M402.2 231.5h0M665.8 98.3h0" stroke="#7d2021" stroke-width="5.08" stroke-linecap="round" fill="none"/>
<path d="M447.8 60.2h0M620.2 269.6h0M422.5 84.0h0M645.5 245.8h0" stroke="#373791" stroke-width="5.10" stroke-linecap="round" fill="none"/>
<path d="M447.8 269.6h0M620.2 60.2h0M422.5 245.8h0M645.5 84.0h0" stroke="#7d2021" stroke-width="5.10" stroke-linecap="round" fill="none"/>
<path d="M463.0 36.4h0M605.0 293.4h0M457.9 45.9h0M610.0 283.9h0M442.7 64.9h0M625.3 264.9h0M427.5 79.2h0M640.5 250.6h0M407.2 93.5h0M660.8 236.3h0M397.1 98.3h0M670.9 231.5h0" stroke="#373791" stroke-width="5.12" stroke-linecap="round" fill="none"/>
<path d="M463.0 293.4h0M605.0 36.4h0M457.9 283.9h0M610.0 45.9h0M442.7 264.9h0M625.3 64.9h0M427.5 250.6h0M640.5 79.2h0M407.2 236.3h0M660.8 93.5h0M397.1 231.5h0M670.9 98.3h0" stroke="#7d2021" stroke-width="5.12" stroke-linecap="round" fill="none"/>
<path d="M452.9 50.7h0M615.1 279.1h0M437.7 69.7h0M630.3 260.1h0M432.6 74.5h0M635.4 255.3h0M412.3 88.7h0M655.7 241.1h0" stroke="#373791" stroke-width="5.14" stroke-linecap="round" fill="none"/>
<path d="M452.9 279.1h0M615.1 50.7h0M437.7 260.1h0M630.3 69.7h0M432.6 255.3h0M635.4 74.5h0M412.3 241.1h0M655.7 88.7h0" stroke="#7d2021" stroke-width="5.14" stroke-linecap="round" fill="none"/>
<path d="M457.9 41.1h0M610.0 288.7h0M402.2 93.5h0M665.8 236.3h0" stroke="#373791" stroke-width="5.16" stroke-linecap="round" fill="none"/>
<path d="M457.9 288.7h0M610.0 41.1h0M402.2 236.3h0M665.8 93.5h0" stroke="#7d2021" stroke-width="5.16" stroke-linecap="round" fill="none"/>
<path d="M447.8 55.4h0M620.2 274.4h0M417.4 84.0h0M650.6 245.8h0" stroke="#373791" stroke-width="5.18" stroke-linecap="round" fill="none"/>
<path d="M447.8 274.4h0M620.2 55.4h0M417.4 245.8h0M650.6 84.0h0" stroke="#7d2021" stroke-width="5.18" stroke-linecap="round" fill="none"/>
<path d="M452.9 45.9h0M615.1 283.9h0M442.7 60.2h0M625.3 269.6h0M437.7 64.9h0M630.3 264.9h0M432.6 69.7h0M635.4 260.1h0M427.5 74.5h0M640.5 255.3h0M422.5 79.2h0M645.5 250.6h0M407.2 88.7h0M660.8 241.1h0" stroke="#373791" stroke-width="5.20" stroke-linecap="round" fill="none"/>
<path d="M452.9 283.9h0M615.1 45.9h0M442.7 269.6h0M625.3 60.2h0M437.7 264.9h0M630.3 64.9h0M432.6 260.1h0M635.4 69.7h0M427.5 255.3h0M640.5 74.5h0M422.5 250.6h0M645.5 79.2h0M407.2 241.1h0M660.8 88.7h0" stroke="#7d2021" stroke-width="5.20" stroke-linecap="round" fill="none"/>
<path d="M457.9 36.4h0M610.0 293.4h0M397.1 93.5h0M670.9 236.3h0" stroke="#373791" stroke-width="5.22" stroke-linecap="round" fill="none"/>
<path d="M457.9 293.4h0M610.0 36.4h0M397.1 236.3h0M670.9 93.5h0" stroke="#7d2021" stroke-width="5.22" stroke-linecap="round" fill="none"/>
<path d="M447.8 50.7h0M620.2 279.1h0M412.3 84.0h0M655.7 245.8h0" stroke="#373791" stroke-width="5.24" stroke-linecap="round" fill="none"/>
<path d="M447.8 279.1h0M620.2 50.7h0M412.3 245.8h0M655.7 84.0h0" stroke="#7d2021" stroke-width="5.24" stroke-linecap="round" fill="none"/>
<path d="M452.9 41.1h0M615.1 288.7h0M442.7 55.4h0M625.3 274.4h0M417.4 79.2h0M650.6 250.6h0M402.2 88.7h0M665.8 241.1h0" stroke="#373791" stroke-width="5.26" stroke-linecap="round" fill="none"/>
<path d="M452.9 288.7h0M615.1 41.1h0M442.7 274.4h0M625.3 55.4h0M417.4 250.6h0M650.6 79.2h0M402.2 241.1h0M665.8 88.7h0" stroke="#7d2021" stroke-width="5.26" stroke-linecap="round" fill="none"/>
<path d="M437.7 60.2h0M630.3 269.6h0M432.6 64.9h0M635.4 264.9h0M427.5 69.7h0M640.5 260.1h0M422.5 74.5h0M645.5 255.3h0" stroke="#373791" stroke-width="5.28" stroke-linecap="round" fill="none"/>
<path d="M437.7 269.6h0M630.3 60.2h0M432.6 264.9h0M635.4 64.9h0M427.5 260.1h0M640.5 69.7h0M422.5 255.3h0M645.5 74.5h0" stroke="#7d2021" stroke-width="5.28" stroke-linecap="round" fill="none"/>
<path d="M447.8 45.9h0M620.2 283.9h0M407.2 84.0h0M660.8 245.8h0" stroke="#373791" stroke-width="5.30" stroke-linecap="round" fill="none"/>
<path d="M447.8 283.9h0M620.2 45.9h0M407.2 245.8h0M660.8 84.0h0" stroke="#7d2021" stroke-width="5.30" stroke-linecap="round" fill="none"/>
<path d="M452.9 36.4h0M615.1 293.4h0M442.7 50.7h0M625.3 279.1h0M412.3 79.2h0M655.7 250.6h0M397.1 88.7h0M670.9 241.1h0" stroke="#383897" stroke-width="5.32" stroke-linecap="round" fill="none"/>
<path d="M452.9 293.4h0M615.1 36.4h0M442.7 279.1h0M625.3 50.7h0M412.3 250.6h0M655.7 79.2h0M397.1 241.1h0M670.9 88.7h0" stroke="#812121" stroke-width="5.32" stroke-linecap="round" fill="none"/>
<path d="M437.7 55.4h0M630.3 274.4h0M432.6 60.2h0M635.4 269.6h0M422.5 69.7h0M645.5 260.1h0M417.4 74.5h0M650.6 255.3h0" stroke="#383897" stroke-width="5.34" stroke-linecap="round" fill="none"/>
<path d="M437.7 274.4h0M630.3 55.4h0M432.6 269.6h0M635.4 60.2h0M422.5 260.1h0M645.5 69.7h0M417.4 255.3h0M650.6 74.5h0" stroke="#812121" stroke-width="5.34" stroke-linecap="round" fill="none"/>
<path d="M447.8 41.1h0M620.2 288.7h0M427.5 64.9h0M640.5 264.9h0M402.2 84.0h0M665.8 245.8h0" stroke="#383897" stroke-width="5.36" stroke-linecap="round" fill="none"/>
<path d="M447.8 288.7h0M620.2 41.1h0M427.5 264.9h0M640.5 64.9h0M402.2 245.8h0M665.8 84.0h0" stroke="#812121" stroke-width="5.36" stroke-linecap="round" fill="none"/>
<path d="M442.7 45.9h0M625.3 283.9h0M407.2 79.2h0M660.8 250.6h0" stroke="#383897" stroke-width="5.38" stroke-linecap="round" fill="none"/>
<path d="M442.7 283.9h0M625.3 45.9h0M407.2 250.6h0M660.8 79.2h0" stroke="#812121" stroke-width="5.38" stroke-linecap="round" fill="none"/>
<path d="M437.7 50.7h0M630.3 279.1h0M412.3 74.5h0M655.7 255.3h0" stroke="#383897" stroke-width="5.40" stroke-linecap="round" fill="none"/>
<path d="M437.7 279.1h0M630.3 50.7h0M412.3 255.3h0M655.7 74.5h0" stroke="#812121" stroke-width="5.40" stroke-linecap="round" fill="none"/>
<path d="M447.8 36.4h0M620.2 293.4h0M432.6 55.4h0M635.4 274.4h0M427.5 60.2h0M640.5 269.6h0M422.5 64.9h0M645.5 264.9h0M417.4 69.7h0M650.6 260.1h0M397.1 84.0h0M670.9 245.8h0" stroke="#383897" stroke-width="5.42" stroke-linecap="round" fill="none"/>
<path d="M447.8 293.4h0M620.2 36.4h0M432.6 274.4h0M635.4 55.4h0M427.5 269.6h0M640.5 60.2h0M422.5 264.9h0M645.5 64.9h0M417.4 260.1h0M650.6 69.7h0M397.1 245.8h0M670.9 84.0h0" stroke="#812121" stroke-width="5.42" stroke-linecap="round" fill="none"/>
<path d="M442.7 41.1h0M625.3 288.7h0M402.2 79.2h0M665.8 250.6h0" stroke="#383897" stroke-width="5.44" stroke-linecap="round" fill="none"/>
<path d="M442.7 288.7h0M625.3 41.1h0M402.2 250.6h0M665.8 79.2h0" stroke="#812121" stroke-width="5.44" stroke-linecap="round" fill="none"/>
<path d="M437.7 45.9h0M630.3 283.9h0M407.2 74.5h0M660.8 255.3h0" stroke="#383897" stroke-width="5.46" stroke-linecap="round" fill="none"/>
<path d="M437.7 283.9h0M630.3 45.9h0M407.2 255.3h0M660.8 74.5h0" stroke="#812121" stroke-width="5.46" stroke-linecap="round" fill="none"/>
<path d="M432.6 50.7h0M635.4 279.1h0M412.3 69.7h0M655.7 260.1h0" stroke="#383897" stroke-width="5.48" stroke-linecap="round" fill="none"/>
<path d="M432.6 279.1h0M635.4 50.7h0M412.3 260.1h0M655.7 69.7h0" stroke="#812121" stroke-width="5.48" stroke-linecap="round" fill="none"/>
<path d="M442.7 36.4h0M625.3 293.4h0M427.5 55.4h0M640.5 274.4h0M422.5 60.2h0M645.5 269.6h0M417.4 64.9h0M650.6 264.9h0M397.1 79.2h0M670.9 250.6h0" stroke="#383897" stroke-width="5.50" stroke-linecap="round" fill="none"/>
<path d="M442.7 293.4h0M625.3 36.4h0M427.5 274.4h0M640.5 55.4h0M422.5 269.6h0M645.5 60.2h0M417.4 264.9h0M650.6 64.9h0M397.1 250.6h0M670.9 79.2h0" stroke="#812121" stroke-width="5.50" stroke-linecap="round" fill="none"/>
<path d="M437.7 41.1h0M630.3 288.7h0M402.2 74.5h0M665.8 255.3h0" stroke="#383897" stroke-width="5.52" stroke-linecap="round" fill="none"/>
<path d="M437.7 288.7h0M630.3 41.1h0M402.2 255.3h0M665.8 74.5h0" stroke="#812121" stroke-width="5.52" stroke-linecap="round" fill="none"/>
<path d="M432.6 45.9h0M635.4 283.9h0M407.2 69.7h0M660.8 260.1h0" stroke="#383897" stroke-width="5.54" stroke-linecap="round" fill="none"/>
<path d="M432.6 283.9h0M635.4 45.9h0M407.2 260.1h0M660.8 69.7h0" stroke="#812121" stroke-width="5.54" stroke-linecap="round" fill="none"/>
<path d="M427.5 50.7h0M640.5 279.1h0M422.5 55.4h0M645.5 274.4h0M417.4 60.2h0M650.6 269.6h0M412.3 64.9h0M655.7 264.9h0" stroke="#383897" stroke-width="5.56" stroke-linecap="round" fill="none"/>
<path d="M427.5 279.1h0M640.5 50.7h0M422.5 274.4h0M645.5 55.4h0M417.4 269.6h0M650.6 60.2h0M412.3 264.9h0M655.7 64.9h0" stroke="#812121" stroke-width="5.56" stroke-linecap="round" fill="none"/>
<path d="M437.7 36.4h0M630.3 293.4h0M397.1 74.5h0M670.9 255.3h0" stroke="#383897" stroke-width="5.58" stroke-linecap="round" fill="none"/>
<path d="M437.7 293.4h0M630.3 36.4h0M397.1 255.3h0M670.9 74.5h0" stroke="#812121" stroke-width="5.58" stroke-linecap="round" fill="none"/>
<path d="M432.6 41.1h0M635.4 288.7h0M402.2 69.7h0M665.8 260.1h0" stroke="#383897" stroke-width="5.60" stroke-linecap="round" fill="none"/>
<path d="M432.6 288.7h0M635.4 41.1h0M402.2 260.1h0M665.8 69.7h0" stroke="#812121" stroke-width="5.60" stroke-linecap="round" fill="none"/>
<path d="M427.5 45.9h0M640.5 283.9h0M407.2 64.9h0M660.8 264.9h0" stroke="#383897" stroke-width="5.62" stroke-linecap="round" fill="none"/>
<path d="M427.5 283.9h0M640.5 45.9h0M407.2 264.9h0M660.8 64.9h0" stroke="#812121" stroke-width="5.62" stroke-linecap="round" fill="none"/>
<path d="M422.5 50.7h0M645.5 279.1h0M417.4 55.4h0M650.6 274.4h0M412.3 60.2h0M655.7 269.6h0" stroke="#383897" stroke-width="5.64" stroke-linecap="round" fill="none"/>
<path d="M422.5 279.1h0M645.5 50.7h0M417.4 274.4h0M650.6 55.4h0M412.3 269.6h0M655.7 60.2h0" stroke="#812121" stroke-width="5.64" stroke-linecap="round" fill="none"/>
<path d="M432.6 36.4h0M635.4 293.4h0M427.5 41.1h0M640.5 288.7h0M402.2 64.9h0M665.8 264.9h0M397.1 69.7h0M670.9 260.1h0" stroke="#383897" stroke-width="5.68" stroke-linecap="round" fill="none"/>
<path d="M432.6 293.4h0M635.4 36.4h0M427.5 288.7h0M640.5 41.1h0M402.2 264.9h0M665.8 64.9h0M397.1 260.1h0M670.9 69.7h0" stroke="#812121" stroke-width="5.68" stroke-linecap="round" fill="none"/>
<path d="M422.5 45.9h0M645.5 283.9h0M417.4 50.7h0M650.6 279.1h0M412.3 55.4h0M655.7 274.4h0M407.2 60.2h0M660.8 269.6h0" stroke="#383897" stroke-width="5.70" stroke-linecap="round" fill="none"/>
<path d="M422.5 283.9h0M645.5 45.9h0M417.4 279.1h0M650.6 50.7h0M412.3 274.4h0M655.7 55.4h0M407.2 269.6h0M660.8 60.2h0" stroke="#812121" stroke-width="5.70" stroke-linecap="round" fill="none"/>
<path d="M427.5 36.4h0M640.5 293.4h0M422.5 41.1h0M645.5 288.7h0M402.2 60.2h0M665.8 269.6h0M397.1 64.9h0M670.9 264.9h0" stroke="#383897" stroke-width="5.76" stroke-linecap="round" fill="none"/>
<path d="M427.5 293.4h0M640.5 36.4h0M422.5 288.7h0M645.5 41.1h0M402.2 269.6h0M665.8 60.2h0M397.1 264.9h0M670.9 64.9h0" stroke="#812121" stroke-width="5.76" stroke-linecap="round" fill="none"/>
<path d="M417.4 45.9h0M650.6 283.9h0M412.3 50.7h0M655.7 279.1h0M407.2 55.4h0M660.8 274.4h0" stroke="#383897" stroke-width="5.78" stroke-linecap="round" fill="none"/>
<path d="M417.4 283.9h0M650.6 45.9h0M412.3 279.1h0M655.7 50.7h0M407.2 274.4h0M660.8 55.4h0" stroke="#812121" stroke-width="5.78" stroke-linecap="round" fill="none"/>
<path d="M422.5 36.4h0M645.5 293.4h0M417.4 41.1h0M650.6 288.7h0M412.3 45.9h0M655.7 283.9h0M407.2 50.7h0M660.8 279.1h0M402.2 55.4h0M665.8 274.4h0M397.1 60.2h0M670.9 269.6h0" stroke="#383897" stroke-width="5.84" stroke-linecap="round" fill="none"/>
<path d="M422.5 293.4h0M645.5 36.4h0M417.4 288.7h0M650.6 41.1h0M412.3 283.9h0M655.7 45.9h0M407.2 279.1h0M660.8 50.7h0M402.2 274.4h0M665.8 55.4h0M397.1 269.6h0M670.9 60.2h0" stroke="#812121" stroke-width="5.84" stroke-linecap="round" fill="none"/>
<path d="M417.4 36.4h0M650.6 293.4h0M397.1 55.4h0M670.9 274.4h0" stroke="#3a3a9c" stroke-width="5.90" stroke-linecap="round" fill="none"/>
<path d="M417.4 293.4h0M650.6 36.4h0M397.1 274.4h0M670.9 55.4h0" stroke="#852121" stroke-width="5.90" stroke-linecap="round" fill="none"/>
<path d="M412.3 41.1h0M655.7 288.7h0M407.2 45.9h0M660.8 283.9h0M402.2 50.7h0M665.8 279.1h0" stroke="#3a3a9c" stroke-width="5.92" stroke-linecap="round" fill="none"/>
<path d="M412.3 288.7h0M655.7 41.1h0M407.2 283.9h0M660.8 45.9h0M402.2 279.1h0M665.8 50.7h0" stroke="#852121" stroke-width="5.92" stroke-linecap="round" fill="none"/>
<path d="M412.3 36.4h0M655.7 293.4h0M407.2 41.1h0M660.8 288.7h0M402.2 45.9h0M665.8 283.9h0M397.1 50.7h0M670.9 279.1h0" stroke="#3a3a9c" stroke-width="5.98" stroke-linecap="round" fill="none"/>
<path d="M412.3 293.4h0M655.7 36.4h0M407.2 288.7h0M660.8 41.1h0M402.2 283.9h0M665.8 45.9h0M397.1 279.1h0M670.9 50.7h0" stroke="#852121" stroke-width="5.98" stroke-linecap="round" fill="none"/>
<path d="M407.2 36.4h0M660.8 293.4h0M402.2 41.1h0M665.8 288.7h0M397.1 45.9h0M670.9 283.9h0" stroke="#3a3a9c" stroke-width="6.06" stroke-linecap="round" fill="none"/>
<path d="M407.2 293.4h0M660.8 36.4h0M402.2 288.7h0M665.8 41.1h0M397.1 283.9h0M670.9 45.9h0" stroke="#852121" stroke-width="6.06" stroke-linecap="round" fill="none"/>
<path d="M402.2 36.4h0M665.8 293.4h0M397.1 41.1h0M670.9 288.7h0" stroke="#3a3a9c" stroke-width="6.12" stroke-linecap="round" fill="none"/>
<path d="M402.2 293.4h0M665.8 36.4h0M397.1 288.7h0M670.9 41.1h0" stroke="#852121" stroke-width="6.12" stroke-linecap="round" fill="none"/>
<path d="M397.1 36.4h0M670.9 293.4h0" stroke="#3a3a9c" stroke-width="6.20" stroke-linecap="round" fill="none"/>
<path d="M397.1 293.4h0M670.9 36.4h0" stroke="#852121" stroke-width="6.20" stroke-linecap="round" fill="none"/>
<rect x="383.5" y="23.5" width="301.0" height="282.5" fill="none" stroke="#8a8a8a" stroke-width="1"/>
<text transform="translate(534,324.7) scale(1.100,1)" font-size="12.6" fill="#111" text-anchor="middle" font-family='"Liberation Sans", sans-serif' font-weight="normal"  stroke="#111" stroke-width="0.15">logFC_2</text>
<text transform="translate(371.2,165.8) scale(1.150,1) rotate(-90)" font-size="12.7" fill="#111" text-anchor="middle" font-family='"Liberation Sans", sans-serif' font-weight="normal"  stroke="#111" stroke-width="0.15">logFC_1</text>
<defs><clipPath id="clipC"><rect x="55.5" y="361.5" width="272.0" height="271.5"/></clipPath></defs>
<path d="M60.9 361.5V633M86.6 361.5V633M112.2 361.5V633M137.8 361.5V633M189.2 361.5V633M214.8 361.5V633M240.4 361.5V633M266.1 361.5V633M291.8 361.5V633M317.4 361.5V633M55.5 613.9H327.5M55.5 569.3H327.5M55.5 480.2H327.5M55.5 435.6H327.5M55.5 391H327.5" stroke="#f3f3f3" stroke-width="0.7" fill="none"/>
<g clip-path="url(#clipC)">
<path d="M151.1 525.2H175.6M163.3 528.9V521.4" stroke="#fde6df" stroke-width="0.8" stroke-opacity="0.5" fill="none"/>
<path d="M144.9 524.9H177.1M161 536.8V512.9M157.3 524.7H177.6M167.4 531.8V517.6M154.6 516.7H172.5M163.5 531.5V501.9M154.4 531.3H172.4M163.4 544V518.6" stroke="#fde1d8" stroke-width="0.8" stroke-opacity="0.5" fill="none"/>
<path d="M152.2 526.5H173.2M162.7 534.3V518.7M131.9 515.1H195.7M163.8 519.5V510.6M128 523.5H202.4M165.2 527.7V519.3M146.8 518.1H180.6M163.7 525.2V511.1M125.9 536.3H200.7M163.3 546.9V525.6M136.1 527.3H190.2M163.2 540.4V514.2M159.2 524.3H171.9M165.5 537V511.6M162.1 524.6H193.6M177.9 553.3V496M150.7 517.8H176.9M163.8 522.6V513.1M143.5 525H171.1M157.3 539.7V510.3M182.9 524.7H203.9M193.4 542.8V506.5M138.8 524.6H198M168.4 542.9V506.2M147.4 525H170.5M159 543.5V506.6M147.7 525H166.6M157.1 534.3V515.7M133.4 524.4H208.8M171.1 533.1V515.6M145.3 529.4H180.9M163.1 546.3V512.4M154.2 527.9H171.9M163.1 536.6V519.1" stroke="#fcdbd2" stroke-width="0.8" stroke-opacity="0.5" fill="none"/>
<path d="M145.1 526.7H178.2M161.7 552.7V500.7M148.5 523.8H193.7M171.1 531V516.6M152.7 513.5H175.4M164.1 519.9V507.1M126.9 526.4H190.9M158.9 540.1V512.7M113.7 525.1H189.1M151.4 529.7V520.5M166.6 524.2H191M178.8 532.6V515.8M147 513.6H181.3M164.2 540V487.2M148.7 527.5H174.6M161.6 539.7V515.2M121.3 525.1H166.7M144 544.3V505.9M170.8 524.5H203.3M187 531.2V517.7M141 525.8H172.5M156.8 534.4V517.2M151.9 524.4H198.5M175.2 545.1V503.6M124.8 513.1H203.3M164 531.5V494.8M140.4 526.6H180.7M160.5 533V520.3M116 528.5H207.1M161.5 539.1V517.9M156.3 507.4H171.5M163.9 514.3V500.4M147.5 526.7H174.4M161 553.1V500.2M162.2 523.3H175.1M168.6 542.5V504.2M149.9 530.2H175.4M162.7 544.8V515.7M148.8 535.4H177M162.9 546V524.7M131.2 525.2H166.9M149 540.9V509.5M140.2 525.1H164.2M152.2 531.7V518.5M138.6 523.2H194.6M166.6 527.9V518.6M148.7 525.7H164.9M156.8 536.9V514.5M156.5 520.5H173.8M165.1 533.2V507.8M140.5 525.5H168.9M154.7 532.6V518.4M136.9 523.1H198.6M167.8 530.1V516.1M143.4 523.4H191.6M167.5 536.1V510.7M153.4 515.3H175.2M164.3 525.7V505M142.3 526.1H178.8M160.5 545V507.3" stroke="#fcd6cb" stroke-width="0.8" stroke-opacity="0.5" fill="none"/>
<path d="M136.9 547H188.9M162.9 562.6V531.3M153.1 523.4H190.3M171.7 527.7V519M133.8 531H187.8M160.8 536.1V526M154.1 523.7H191.5M172.8 538V509.5M154.4 520.4H179.9M167.1 544.9V496M160 520.6H174M167 525.9V515.2M134.6 529.9H188.9M161.7 553.2V506.5M143.4 509.4H185M164.2 520.1V498.7M142.3 532.6H180.3M161.3 537.7V527.4M127.6 526.1H178.8M153.2 531.9V520.4M138.6 521.1H194.7M166.6 535.3V506.9M122.6 526.7H186.9M154.8 533.4V520M150.5 522H182.8M166.7 543.7V500.2M129.7 525.6H173.5M151.6 535V516.2M139.2 528.8H183.1M161.2 541.1V516.4M147.2 521.7H188M167.6 532.5V511M146.9 521.7H185.7M166.3 530.3V513M153.1 514.9H176M164.6 519.9V509.9M127.1 534.9H198.3M162.7 547V522.7M145.2 527.2H168.1M156.7 532.8V521.5M149.3 529.6H172.5M160.9 533.3V525.9M154.9 511.4H173.5M164.2 532.2V490.6M150.1 520.3H181.2M165.7 529.2V511.3M138 529.5H182.3M160.2 537.2V521.8M142.2 528.3H178.8M160.5 541.3V515.4M149.8 553.8H176.5M163.1 562.6V545.1M145 525.9H154.6M149.8 550.7V501.1M139.6 530.9H182.3M160.9 539.6V522.1M137.7 515.6H192.9M165.3 524.6V506.7M138.1 529.1H182.9M160.5 534.4V523.8M140.2 518.2H190.8M165.5 524.1V512.4" stroke="#fcd0c4" stroke-width="0.8" stroke-opacity="0.5" fill="none"/>
<path d="M157.4 508.5H172.2M164.8 521.2V495.8M147.5 512.8H183M165.3 529.9V495.7M155.5 520.2H181.6M168.5 539V501.5M160 522.8H195.3M177.7 538.1V507.5M157.5 521.8H187.2M172.4 528.9V514.7M134.9 528.6H182.7M158.8 537.5V519.6M123.9 526.5H175.3M149.6 536.9V516.2M133.5 505H196.3M164.9 512.4V497.6M158.8 522.1H188.1M173.5 536.5V507.6M148 533.9H173.1M160.5 536.8V531.1M139.9 526.6H163.6M151.7 537.4V515.7M143.6 522.1H201.5M172.6 532V512.3M142.8 529.7H171.7M157.3 535V524.5M123.7 527H173.3M148.5 533.4V520.5M127.3 514.5H204.1M165.7 522V507.1M150.5 521.1H191M170.7 531.7V510.6M155.7 521.7H185.6M170.7 527.9V515.4M149.4 544H174.3M161.8 556.5V531.6M153.6 519.8H185.1M169.3 525.8V513.8M126 526.3H173.3M149.7 548.3V504.4M133.9 529.5H183.1M158.5 538.6V520.5M135.5 505.4H193.6M164.5 520.6V490.2M141.7 527.9H170.1M155.9 545.3V510.5M149.1 526.9H160.3M154.7 534.2V519.5M148.2 528.8H164.3M156.2 537.3V520.4M127.8 527.9H186.8M157.3 532.6V523.3M161.8 521.6H178.9M170.4 528.2V515M136.2 526.1H157.2M146.7 532.2V520M162.7 523H199.5M181.1 545V501M135.6 527.2H170.6M153.1 543.3V511.2M169 523.3H202.8M185.9 533.3V513.3M138.9 520.4H199.6M169.3 527V513.9M152.5 534.5H169.5M161 541.8V527.1M133.9 528.5H178.7M156.3 548.1V508.9M127.4 531.3H192.1M159.7 549.5V513.2M125.7 526.4H162.6M144.1 534.9V517.9M143.6 527.6H166.6M155.1 532.9V522.4M138.4 530.2H178.1M158.2 534.7V525.6M165.2 521.4H177.1M171.2 532.6V510.1M182.7 524H193.4M188 544.5V503.6M173.2 523.7H204.2M188.7 538.4V509M147.4 509.5H182.6M165 519.3V499.8M169.1 522.1H176.3M172.7 534.7V509.5M152.8 528.8H162.9M157.9 542V515.6M140.8 527.9H173.1M156.9 536.1V519.7M166 523.3H193.2M179.6 533.8V512.7M152.8 530.7H167.3M160.1 546.9V514.6M144.6 529.5H174.1M159.3 534.4V524.6M170.3 523.1H194.1M182.2 532.9V513.3M150.5 535.7H172.1M161.3 543.2V528.3M149.6 515.2H183.2M166.4 527.6V502.8M132.8 527.3H169.2M151 538.5V516.1" stroke="#fccabd" stroke-width="0.8" stroke-opacity="0.5" fill="none"/>
<path d="M147.8 518.1H193M170.4 521.9V514.2M138.5 530.8H172.7M155.6 539.4V522.2M158.4 513.1H174.9M166.6 524.7V501.4M137.5 529.4H170.1M153.8 537.3V521.5M159.8 517.2H181.8M170.8 528.4V506M137.5 533.7H177.9M157.7 551.9V515.4M152.6 514.3H182.8M167.7 521V507.7M207.1 523.8H226.5M216.8 531.4V516.2M139.4 528.5H162.1M150.8 534.1V522.8M142.1 535.5H175.6M158.9 553.5V517.5M139.4 538.2H181.7M160.6 563.5V512.9M143.5 516.4H192.4M168 533.4V499.4M161.3 511H171.5M166.4 518.9V503.1M137.3 535.6H182.8M160.1 559.2V512M145.9 516.6H191.3M168.6 530.2V503M151.2 531H164.7M158 544.4V517.7M134.3 529.8H179.2M156.8 541.3V518.3M135.7 528.5H169.6M152.6 554V503.1M170.8 522.5H194.4M182.6 535.2V509.7M156.5 520.5H188M172.3 539.4V501.7M140.6 529.7H170.3M155.4 539.1V520.3M162.8 513.4H171.9M167.4 523.1V503.7M141.9 529.4H163.8M152.8 534.5V524.3M162.5 521.5H195.5M179 540.2V502.8M156.6 516H180.1M168.3 526.7V505.2M130.9 535.3H189.1M160 547.8V522.8M137.4 516.9H201.4M169.4 529.8V504.1M136.3 497.6H193.6M165 507.9V487.3M147.1 530H160.8M153.9 548.3V511.8M141 530.8H167M154 544.7V516.8M146.9 519.1H197.9M172.4 537.6V500.7M157 511.4H178.4M167.7 522.6V500.3M139.5 540.3H180.7M160.1 546.9V533.7M164.7 523.4H213.5M189.1 533.9V513M138.3 537.4H180.1M159.2 545.1V529.7M160.5 514.3H177.5M169 527.7V500.9M116.5 541.4H205.9M161.2 561.3V521.5M152.1 505.4H178.4M165.3 515.2V495.5M152.7 520H190.1M171.4 545.6V494.3M140.9 530.4H172.8M156.9 558.6V502.1M177.1 523.2H195.5M186.3 534.7V511.6M134.5 527.9H161.3M147.9 544.6V511.1M154.6 513.6H178.7M166.7 530.1V497.1M134 537.7H186M160 543.9V531.5M118.3 527.4H165.4M141.8 539.5V515.2M142 532.4H171.8M156.9 557.6V507.1M139.6 532.1H172.7M156.2 541V523.1M164.8 518.6H179.5M172.2 524.8V512.3M127.2 528.8H180.6M153.9 534.1V523.4M146.4 511.4H186.3M166.4 517.4V505.5M153.6 518.1H185.3M169.4 527.7V508.5M180.9 523.4H223.7M202.3 531.5V515.2" stroke="#fcc5b6" stroke-width="0.8" stroke-opacity="0.5" fill="none"/>
<path d="M143.7 535.3H166.5M155.1 541.3V529.4M142.1 494.5H190.9M166.5 513.6V475.4M159.1 520.8H197.9M178.5 528.4V513.1M151.6 490.4H180.3M165.9 494.3V486.5M155.2 499H177.2M166.2 510.1V487.9M155.4 519.8H200.4M177.9 532.8V506.8M116.8 534.7H192.5M154.6 559.5V509.9M173.8 520.9H200.5M187.2 532.1V509.7M165.4 518H186.2M175.8 523V513M162.2 516H185.4M173.8 523.2V508.7M152.2 501.2H180.4M166.3 510.8V491.6M113.6 535.2H197.9M155.7 547.2V523.3M156.5 505H179.9M168.2 514.1V496M147.5 532H158.6M153 536.1V527.9M138.3 537.1H177.8M158 553.3V520.9M161.2 516.6H182.1M171.6 535.6V497.7M170.8 520.5H186.6M178.7 532V509M136.6 529.9H164.5M150.6 536.1V523.7M140.9 538.2H175.3M158.1 544.1V532.3M121.9 530.2H174.6M148.3 537.1V523.2M151.4 535.7H164.4M157.9 547.4V524.1M173.6 520.9H188.1M180.9 537.3V504.4M129.7 531.4H170.4M150.1 544V518.8M141.5 544.6H178.4M160 550.5V538.6M145.6 531.3H159.2M152.4 536.7V525.9M136.9 532.6H172.1M154.5 539V526.3M163.4 519.4H189.6M176.5 531.5V507.2M146.8 501.7H188M167.4 511.9V491.6M135.2 529H154.3M144.7 537.4V520.6M130.9 528.7H159.4M145.2 535.9V521.5M154.6 511.5H185.1M169.9 530.1V492.9M139.1 532.5H164.5M151.8 540V524.9M121.3 535.4H192.8M157 545.9V524.9M169.9 519.6H191M180.4 539.9V499.3M131.7 530.5H164.4M148 538.4V522.5M165.6 520.5H199M182.3 535.3V505.8M179.7 522.2H202.3M191 528.9V515.5M142.2 531.2H164.4M153.3 536.9V525.6M139.2 531.1H158.3M148.8 546.3V515.9M126.7 534H186.1M156.4 545.3V522.6M150.7 517.6H198.7M174.7 525V510.1M158.1 514.7H184.8M171.5 545.1V484.3M143.1 532H163.8M153.5 541.9V522.1M146.9 536.3H166.6M156.8 548.6V524M142.3 535H169.1M155.7 550.5V519.4M155.1 517.1H191M173 528.7V505.5M153.5 520H205M179.3 530V510.1M152.8 514.9H190M171.4 526.2V503.6M156.4 517H187.1M171.7 526.2V507.8M163.9 513H175.3M169.6 521.8V504.3M127.9 530.9H171.8M149.8 536.1V525.7M133.8 532.2H169.1M151.5 542.1V522.2M145.9 542.3H171.7M158.8 547.2V537.4M152.5 520.6H205.2M178.8 529.7V511.5M142.1 535.4H174M158 545.7V525.1M147.3 537.1H169M158.2 554.9V519.4M146.9 513.7H193.4M170.2 519.8V507.5M141.6 510.8H194.9M168.2 517.8V503.8M135.9 532.3H169.8M152.9 540.5V524.2M159.4 518.6H189.6M174.5 532.9V504.2M160.2 517.6H186M173.1 533.5V501.7M131.8 536.7H180.8M156.3 562.3V511.2M135.4 530.3H158.6M147 541.3V519.3M138.6 528.9H158.4M148.5 547.5V510.3M143.9 532.1H166.7M155.3 535.5V528.8M158.1 518.7H195.2M176.6 528V509.4M160.1 519.9H200.6M180.4 535.2V504.5M134.6 529.1H161.8M148.2 537.5V520.8M160.9 511.9H180.4M170.6 519.8V503.9M151 515.7H188.8M169.9 529.4V501.9M142.2 532.9H163.4M152.8 541.6V524.1M162.9 516.2H184.8M173.9 528V504.4" stroke="#fbbfb0" stroke-width="0.8" stroke-opacity="0.5" fill="none"/>
<path d="M161.1 512.9H189M175.1 519.4V506.5M140.7 532.6H160.7M150.7 544.9V520.3M132.1 532.4H158.8M145.4 538.8V526M166.7 513.8H184.9M175.8 527.5V500M154.2 511.9H189.9M172 530.4V493.3M164.6 517.9H200.9M182.7 529.2V506.5M159.9 513.3H188.3M174.1 523.5V503.1M117.9 529.6H153.7M135.8 538.5V520.7M128.7 530.6H160.1M144.4 540.3V520.9M128.2 530.9H164.7M146.5 541.7V520M145.9 536.2H158.4M152.2 549.9V522.5M160.4 513.9H190.5M175.4 527.2V500.6M155.9 514.1H195.5M175.7 527.5V500.7M132.1 533.8H164.3M148.2 552.1V515.5M161.4 512.3H182.5M172 523V501.7M121.7 536.3H188.8M155.3 557.9V514.6M175.6 520.3H211.2M193.4 526.6V513.9M143.4 513.2H205.6M174.5 534.2V492.2M150.5 517.4H202.2M176.4 526V508.8M136.3 535.8H167.4M151.8 546.2V525.5M126.2 532.2H169.7M148 539.9V524.4M152.4 516.2H197.2M174.8 522.5V509.9M137.3 546.9H176.9M157.1 558.4V535.3M134 532.1H159.4M146.7 543.2V521M135.6 533H157.9M146.8 547.2V518.7M168.1 518.6H197M182.6 525.3V511.8M160.8 513.7H185.3M173.1 520.7V506.8M155.8 513.1H189.3M172.6 526.5V499.6M158.9 503.6H181.2M170 514.1V493M129.6 539.3H180.5M155.1 546.1V532.5M150 504.9H186.6M168.3 512.2V497.6M140.5 533.7H156.5M148.5 542.1V525.3M130 531.8H160.7M145.4 543.1V520.5M128.3 530.1H147.2M137.7 536.8V523.4M149.7 502.9H187.6M168.7 510.2V495.7M152.8 513.8H193.7M173.3 529.8V497.9M163.7 516.4H190.3M177 533.4V499.4M135.1 532.4H167M151.1 547.4V517.4M145.2 534.8H157.4M151.3 544.5V525.1M132.5 531.7H166M149.3 542.6V520.9M156.9 516.6H195.5M176.2 534.7V498.6M144.6 537H163M153.8 542.8V531.2M155.4 500.1H183.1M169.3 517.4V482.8M164.2 518.1H200.2M182.2 532.1V504.2M150.4 542.2H163.1M156.8 547.1V537.2M167 516.7H195.3M181.2 527.2V506.1M137.9 551.1H181.1M159.5 586.9V515.4M182.4 520.6H193.5M188 528V513.2M143.8 535.2H162.1M153 548.6V521.9M154.8 510.5H188.7M171.8 519.8V501.3M135.4 537.6H170.5M153 547.2V528M130.6 534.7H171.6M151.1 540.4V529.1M171.8 518H185.1M178.5 538.8V497.2M157 515H192.8M174.9 521.7V508.3M161.5 518.8H203M182.2 526V511.7M148.1 516.5H207M177.6 523.3V509.7M148.6 499.2H186M167.3 516.5V481.8M155.1 510.5H186.1M170.6 524.8V496.2M144.7 515.3H202.2M173.5 519.5V511M112.6 531.1H182.2M147.4 544.9V517.3M149.3 490.7H185.7M167.5 504.2V477.2M149.6 503.1H188.1M168.8 514.6V491.6M127.3 530.3H157.3M142.3 537.4V523.2" stroke="#fbbaa9" stroke-width="0.8" stroke-opacity="0.5" fill="none"/>
<path d="M125.9 540.2H177M151.4 549.1V531.3M128.4 543.1H176.4M152.4 553.4V532.7M141.4 500.7H200.7M171.1 517.5V483.8M155 504.2H192M173.5 513.2V495.2M135.6 536.5H166M150.8 546.4V526.7M141 504.6H202M171.5 512.8V496.3M147.9 503.2H195.3M171.6 523.7V482.7M148.7 505.3H193.3M171 539.2V471.4M128.7 531.9H154.6M141.6 545.2V518.6M167 514.2H188.8M177.9 525.4V503M163.1 514.8H195M179.1 521.2V508.3M140.2 544.5H172.2M156.2 553.7V535.2M168.4 516.1H201.5M185 529.9V502.3M130.8 546.2H179.3M155 560.6V531.8M144 554.2H170.3M157.2 581.6V526.8M130.3 541.6H172.8M151.5 549.2V534.1M167 514.9H200.7M183.9 532.8V496.9M154.3 499H186.7M170.5 511.7V486.4M150.4 506.4H197.6M174 515V497.8M125.1 533.1H158.2M141.7 550.7V515.5M170.5 517.4H208.7M189.6 527.9V506.8M134.8 513.1H224.5M179.6 544.5V481.8M148.8 554.4H165.2M157 568.9V539.8M137.7 539.4H164.6M151.1 557.3V521.6M120.7 533.3H167M143.8 536.6V530M171.8 516.4H192.2M182 528.9V504M164 514.9H196M180 521.2V508.6M170.1 517.8H200.7M185.4 542.6V493M142.1 537H156.3M149.2 545.6V528.4M110.4 552.8H202.2M156.3 573.2V532.4M178 516.6H199.3M188.6 521.4V511.9M147.9 516.3H227.3M187.6 529.4V503.2M163.8 494.4H176.1M169.9 498.1V490.6M172.6 512.5H184.6M178.6 520.4V504.7M129.5 531.6H145.2M137.3 541.7V521.4M142 535.8H154M148 546.7V524.8M155.9 514H207.8M181.8 525.2V502.7M159.9 496.9H182M171 503.3V490.6M129.2 534.9H161.8M145.5 540.1V529.7M155 506.6H189.7M172.4 518.9V494.4M143.3 540H158.7M151 556V524M171.6 514.3H189.8M180.7 535.1V493.5M131.2 538.2H165.2M148.2 548.7V527.8M166.4 516.7H202.4M184.4 523.5V509.9M127.2 539.6H172.8M150 553.6V525.7M162.5 510.9H192.5M177.5 516.7V505.2M169.1 514.1H190.6M179.9 526.2V501.9M128.4 534.5H159.8M144.1 541.3V527.7M119.4 532.5H158M138.7 559.3V505.6M173 515.7H190.6M181.8 525.5V505.8M177.4 517.8H199.5M188.5 527.7V507.8M114.1 535.6H181.6M147.8 537.2V534M129.3 541.4H176.6M152.9 552.5V530.3M123.3 531.4H145.5M134.4 547.1V515.7M185.6 519.8H204.8M195.2 523.3V516.2M144.6 539.7H157.6M151.1 553.2V526.3M152.6 518.1H225.6M189.1 523.6V512.7M152.2 508.7H196M174.1 515.9V501.5M130.3 533.8H159.7M145 542.8V524.9M112.9 531.7H163.9M138.4 543.6V519.9M158.9 512.8H193.3M176.1 549V476.7M126.5 531.5H153.2M139.8 543.1V519.9M124.7 533.6H169.9M147.3 542.7V524.5M163.1 509.8H189.9M176.5 518.5V501.1M174.7 514.2H191M182.8 529.3V499.1M155.6 507.7H192.6M174.1 513.4V502M140.7 562.3H175.8M158.2 574.2V550.4M139.8 546.6H171.8M155.8 554.5V538.7M106.9 537.7H189.3M148.1 555.4V519.9M167.7 515H194.3M181 529.8V500.2M154 490.9H183.8M168.9 501.3V480.5M168.5 514.3H186M177.3 520.4V508.2M129.8 535.7H160.5M145.2 555.3V516M126.4 533H158.9M142.6 543.7V522.2M137.1 540.6H171.1M154.1 552V529.2M144.8 541.8H161.6M153.2 556.2V527.5M158.5 513.1H197.4M177.9 531.3V495M175.3 515.3H194.7M185 519.7V510.8M168.1 515.1H191.7M179.9 524.5V505.7M163.9 509.8H183.2M173.6 524.3V495.3M177.8 517.4H195.8M186.8 526V508.8M150.2 503.4H190.3M170.2 511.4V495.4M152.8 508.2H197.3M175.1 518.8V497.7M125.7 543.4H179.9M152.8 558.8V527.9M162.5 514.8H201.5M182 536.3V493.2M145.1 539.9H162.2M153.6 550.4V529.4M165.5 511.2H183.6M174.6 522.4V500.1M144.4 501.2H199M171.7 510.8V491.5" stroke="#fbb4a2" stroke-width="0.8" stroke-opacity="0.5" fill="none"/>
<path d="M140.2 513.8H225.4M182.8 532.7V494.8M166.2 514H202M184.1 525.3V502.8M111.9 541H186.6M149.2 556.9V525M175 512.4H192.1M183.6 523.2V501.7M135.4 537.8H158M146.7 548.4V527.1M119.7 537.2H166.2M143 544.3V530.2M108 533.1H166.2M137.1 546.1V520.2M170.6 515.4H204.9M187.7 540.9V490M145.5 494.6H200.7M173.1 514.9V474.4M132.2 543.6H163.8M148 559V528.3M116.7 539.1H176.8M146.8 548.8V529.4M112.8 537.6H170.8M141.8 543.1V532.2M133.7 537H149.2M141.4 553.8V520.2M161.2 500.2H189M175.1 512.5V487.9M131.8 541.7H163.9M147.9 562.9V520.5M140.6 559.8H170.9M155.8 567.6V552M118 536.6H168.9M143.4 541.7V531.6M172.2 513.9H200.6M186.4 524.9V502.9M156.2 501.2H190.2M173.2 513.7V488.6M116.5 536.2H162.8M139.6 545.7V526.7M156.7 513.3H221.3M189 519.6V507M139.1 548H168.8M154 552.3V543.7M133.1 541.7H167.9M150.5 549.1V534.3M168.7 509.2H186.8M177.7 522.6V495.8M161.7 513.6H207.9M184.8 548.3V478.8M173.1 510.2H190.6M181.8 518.6V501.8M165.9 509.1H193.1M179.5 523.1V495M153.3 504.8H195.7M174.5 510.4V499.2M170.5 509.9H193.7M182.1 517.8V502M140.8 546.6H164.7M152.7 565.9V527.3M162.3 507.8H191.8M177 522.2V493.4M117.8 544.7H181.6M149.7 564.6V524.8M182.7 514.6H199M190.9 525.4V503.8M132 541H161.6M146.8 549.9V532M123.2 541H175.3M149.2 551.2V530.8M128.1 544.4H169M148.6 555.4V533.4M173.4 514.3H198.9M186.2 519.7V508.9M155.2 505.8H196M175.6 513.7V497.9M124.2 539.9H168.5M146.4 548.7V531.1M183.4 516.6H198.9M191.2 534.9V498.3M140.9 503.4H212.5M176.7 513.7V493.2M157.9 507H200.1M179 530.1V483.9M139.8 547.5H163.7M151.8 555.5V539.4M138 551.7H173.2M155.6 558.9V544.4M161.6 505.9H191.3M176.4 513.7V498.1M122.4 535.7H150.9M136.6 541.8V529.5M159.7 510.5H204.5M182.1 520.2V500.9M127.2 534.6H152.5M139.8 556.6V512.5M137.1 541.6H160.3M148.7 551.5V531.7M110.7 537.3H179.2M144.9 550.1V524.5M129.6 536.7H152.1M140.8 549.6V523.8M186.1 517.4H212.2M199.1 524.4V510.4M139.9 549.3H166.5M153.2 558.4V540.2M158.2 503.5H190.6M174.4 521.4V485.7M170.2 513.7H207.1M188.6 531.2V496.2M152.9 495.4H190.1M171.5 509.5V481.3M132.6 545.9H173.3M153 554.7V537.2M141.9 539.5H150.2M146.1 549.5V529.6M102.4 530.6H126.6M114.5 548.6V512.5M173.9 511.5H187.7M180.8 515.2V507.9M166.5 505.1H187.5M177 511.5V498.6M145.5 512.2H217.5M181.5 535.3V489M145.5 555.6H165.6M155.6 563.8V547.4M187.8 517.5H217.5M202.7 522.9V512M122.3 532.4H139.8M131.1 539.7V525.1M129.5 538.6H156.4M142.9 555V522.3M161.7 511.2H202.4M182 529.5V492.9" stroke="#fbae9b" stroke-width="0.8" stroke-opacity="0.5" fill="none"/>
<path d="M169.9 510.9H205M187.4 525.1V496.6M108.4 536.2H156.5M132.4 557V515.3M153.8 490.9H192.5M173.1 497.4V484.4M131 541.6H154M142.5 554.4V528.9M172.8 506.1H192.4M182.6 518.3V493.9M174.5 506.3H194.9M184.7 513.8V498.9M172.1 511.8H216.1M194.1 524.6V499.1M164.7 499.3H189.6M177.2 513.6V484.9M117.2 540.2H168.1M142.7 559.3V521M161.4 504.6H202.3M181.8 513.7V495.5M168.8 512.4H212.2M190.5 527.6V497.2M135.1 543.3H152.3M143.7 556.1V530.4M160.8 505.4H203.9M182.3 517.6V493.3M158.3 503.2H201.6M179.9 532.7V473.7M131.9 547H164.5M148.2 556.6V537.3M97.4 540H184.4M140.9 550.9V529.1M173.5 510.6H200.8M187.1 516.3V504.8M160.8 500.7H199.8M180.3 512.2V489.2M135.8 539.5H148M141.9 548.2V530.7M136.7 548.7H160.1M148.4 559.2V538.2M119.1 536.5H150.9M135 546.8V526.2M176.7 513.1H216.7M196.7 520.8V505.4M132.5 548.6H169.3M150.9 559.5V537.7M81.6 551H222.2M151.9 558.3V543.7M125.6 541.6H152.5M139.1 553.6V529.6M169.7 511.1H204.4M187.1 521V501.2M123.4 537.1H141M132.2 549.9V524.3M112.8 543H178.8M145.8 546.8V539.2M166.2 498.4H190.4M178.3 510.3V486.5M170 511H201.9M185.9 517.5V504.6M159.1 497.5H194.5M176.8 507.5V487.5M163.2 505H202.6M182.9 513V497.1M150.7 490.8H196.9M173.8 498.1V483.6M129.8 536.8H143.7M136.8 544.4V529.2M128.1 500.1H232.1M180.1 521.5V478.7M158.8 499.7H196.3M177.5 512.7V486.8M167.6 509.3H199.5M183.6 515.7V503M161.8 494.7H188.7M175.2 503.5V485.8M164.2 507.7H201.9M183 523.8V491.7M121.7 537.7H155M138.4 543.4V532M142.8 561.1H166.7M154.8 569.3V552.9M175.4 512.8H208.3M191.9 521.5V504.1M138.5 542.4H152.2M145.4 553.5V531.2M125.6 538.8H147.5M136.5 542.5V535.1M103.8 535.4H151.5M127.7 554.7V516.1M143.5 550.7H159.4M151.4 558.9V542.5M171.2 509.3H198.9M185 513.9V504.6M114 535.4H140.5M127.2 543.5V527.4M122 541.8H160.4M141.2 555V528.6M170 498.4H181.2M175.6 506.6V490.2M185.4 512.9H198M191.7 528.9V497M118.1 534.6H146M132.1 544V525.1M161.1 507.4H209.3M185.2 516.3V498.6M173.5 512.4H205.1M189.3 528.7V496.2M174.8 504.8H188.5M181.7 515.2V494.4M137 558.4H170.1M153.6 569.2V547.6M167.5 511.3H211.4M189.4 529.6V493M123.3 537.1H141.4M132.4 542.2V531.9M175.4 507.7H196.5M185.9 522.3V493.1M190.5 513.5H209.5M200 520.1V506.9M168 505.1H195.8M181.9 514.3V495.9M169.4 506.2H197.2M183.3 525.5V487M159.4 492.3H189.6M174.5 500.5V484M169 507.5H201.9M185.4 512.9V502.1M153.9 503.3H208.9M181.4 516.9V489.8M165.7 507.5H197.8M181.7 513V502.1M166.2 512.8H214.1M190.1 517.4V508.2" stroke="#fba994" stroke-width="0.8" stroke-opacity="0.5" fill="none"/>
<path d="M183.9 512.3H212.8M198.3 524.5V500M184.2 510.3H201.6M192.9 517.7V502.8M128.6 544.4H143.3M136 560.4V528.3M183.8 510.1H211.7M197.7 518V502.1M170.6 496.9H195.1M182.8 504.7V489.1M160.3 501H203.1M181.7 524V478M121.6 548.2H166M143.8 555.1V541.2M173.1 506.3H204.4M188.8 516.2V496.3M159.2 493.9H201.7M180.5 504.5V483.4M165.8 498H197.9M181.8 518.7V477.3M168.1 501.3H200.4M184.3 508.8V493.9M129.5 547.9H152.1M140.8 559.8V536.1M135.9 553.5H154.8M145.4 560.7V546.2M175.4 503.3H200.9M188.1 512.2V494.3M128.1 544.7H148.6M138.4 559.8V529.7M153.6 483.9H200.3M176.9 498.1V469.7M104.3 534.7H139.5M121.9 547.2V522.1M126.5 542.2H147.8M137.1 561.8V522.7M181.6 508.4H202.9M192.2 514.5V502.3M115.2 542.7H157M136.1 548.6V536.7M182.6 508.6H201.2M191.9 512.7V504.4M169.7 498.7H190.4M180 506.1V491.4M170.4 500.9H200M185.2 530.3V471.5M114.1 538.4H139M126.5 555.3V521.5M179.4 511H207.6M193.5 517.2V504.8M136 547.7H149.5M142.7 569V526.3M107.9 551.4H184.8M146.3 556.1V546.7M165.6 497.8H199M182.3 504.1V491.4M184 509.8H199.4M191.7 518.1V501.6M200.7 512.5H216.7M208.7 527.4V497.6M180.8 506.7H207.4M194.1 521.3V492.2M163.4 501.6H202.4M182.9 511.5V491.8M130.5 550.5H158.9M144.7 566.9V534.1M181.8 507.8H202.1M191.9 517.3V498.3M150 482.1H198.8M174.4 490.2V474M127.8 556.1H168.6M148.2 569.5V542.8M166.6 490.7H189M177.8 498V483.4M174.8 505.2H200.2M187.5 512.1V498.4M128.7 547.1H156.1M142.4 571.8V522.3M133.7 553.4H163.2M148.4 578.4V528.4M124.9 544.3H146.6M135.7 557.1V531.5M168.5 496.5H193.2M180.9 506V487.1M193.9 510.1H208.2M201 522.1V498M127 544.9H147.9M137.4 563.6V526.3M145.2 494H211.5M178.4 500.9V487.2M162.9 498.9H197.5M180.2 516.8V481M166 495.1H188.9M177.4 516.4V473.8M175.7 508.8H216.7M196.2 517.5V500.2M170.8 506.7H208.4M189.6 519.2V494.3M122.3 545.1H157.2M139.7 560.9V529.4" stroke="#faa38e" stroke-width="0.8" stroke-opacity="0.5" fill="none"/>
<path d="M176.5 503.6H212.3M194.4 508.8V498.5M187.3 505.9H208.7M198 518.8V492.9M129.6 554.7H156.5M143 567.7V541.8M168.3 501H209.8M189.1 506.9V495.1M122.3 549.8H151.9M137.1 556.3V543.3M163.8 500.5H218.1M190.9 515.3V485.7M174.9 503.6H213M193.9 517.7V489.5M131.5 553.5H150.7M141.1 559.7V547.3M175.1 504.1H212.2M193.7 519.7V488.6M116.1 544.6H152.6M134.3 548.4V540.7M168.5 492.7H201.6M185.1 503.9V481.5M184.1 502.3H198.7M191.4 509.1V495.5M126 548.9H149.7M137.8 552.5V545.3M111.7 539.7H139.6M125.7 548V531.5M192.8 508.6H222.2M207.5 530.8V486.3M113.4 548.8H160.7M137 555V542.7M149.6 497.7H220.6M185.1 510.6V484.7M133 562.7H159.4M146.2 571.9V553.5M173.9 503.8H214.2M194 512V495.5M117 552.2H160.6M138.8 559.9V544.5M168.3 498.4H203.1M185.7 504.8V492M184.7 505.6H208.1M196.4 512.7V498.5M112.6 539.2H136.5M124.6 548.2V530.1M174 501.4H204.9M189.5 519.3V483.4M164.8 494.7H209.9M187.4 504.5V484.9M176.9 500.4H199.6M188.3 506.2V494.7M118.5 546.7H151.1M134.8 558.4V534.9M126.6 550H154.4M140.5 556.6V543.4M129.8 552.4H152.2M141 568.7V536.2M166.4 495.7H206.3M186.4 500.3V491.2M167.2 501.1H218.5M192.9 512.3V490M164.3 504H232.8M198.6 510.3V497.7M117.9 548.1H155.8M136.9 558.7V537.5M119 541.2H138.2M128.6 550.4V532.1M123.3 550H157.6M140.4 558.1V542M159.3 490H202M180.6 512.8V467.2M125.5 547.5H150.8M138.1 556.1V538.9M173.8 496H196.9M185.4 505.3V486.6M125.3 551.2H151.3M138.3 567V535.3M180.6 496.1H193.6M187.1 510.6V481.6M173.9 497.4H202.9M188.4 509.9V485M115.5 557.9H175.9M145.7 579.3V536.6M184.4 506H205.5M194.9 511.9V500M115.9 547.1H159M137.4 561.1V533.1M118.6 546.8H149M133.8 554.6V538.9M179.6 507.8H216.1M197.8 526.5V489.1M116 543.1H145.6M130.8 554.5V531.6M162.2 487.1H196.8M179.5 496.3V477.9M164.6 495.3H201.2M182.9 506.6V483.9M155.2 498.2H214.4M184.8 514.6V481.8M176.7 499.1H200.7M188.7 506V492.3M175.4 498H201.2M188.3 527.5V468.4" stroke="#fa9e87" stroke-width="0.8" stroke-opacity="0.5" fill="none"/>
<path d="M149.8 521.2H177.1M163.4 541.3V501.1M170.4 524.8H194.7M182.5 531.7V517.8M126.4 524.7H166.2M146.3 536.4V513M147 524.2H179.4M163.2 533.1V515.2" stroke="#e4dafe" stroke-width="0.8" stroke-opacity="0.5" fill="none"/>
<path d="M154.1 519.3H172.6M163.4 525.2V513.4M146.5 523.4H178.5M162.5 534.3V512.6M154.5 526.1H173.8M164.1 533V519.3M141.5 524.6H171.7M156.6 536.4V512.7M151.2 532.6H176M163.6 542.1V523.1M145.9 524.5H174.4M160.2 528.3V520.7M146.5 524.7H164.4M155.4 550.1V499.2M137.7 522.8H188.1M162.9 534V511.7M152.9 526.6H175.3M164.1 539.3V514M150.3 524.2H171.3M160.8 530.3V518.1M143.5 524.4H176.7M160.1 531.1V517.8M131.1 523.9H193.3M162.2 530V517.8M141.2 518H185.5M163.3 536.3V499.8" stroke="#e1d5fd" stroke-width="0.8" stroke-opacity="0.5" fill="none"/>
<path d="M131.9 524.3H176.2M154.1 534.5V514.1M151.6 521.5H173.9M162.8 536V507M140.5 525.5H193M166.7 539.1V511.9M135.7 510H191.1M163.4 518.6V501.4M144 527.5H185.4M164.7 545.3V509.6M149.5 516.7H176.5M163 527.1V506.4M137.5 524.5H161.7M149.6 539.4V509.7M166.6 524.9H190.9M178.7 537.9V511.9M137.6 524.4H180.7M159.2 533.8V514.9M150.4 515H176M163.2 521.1V508.9M154.3 540.9H173.1M163.7 552.1V529.8M144 524H171.7M157.9 544V504.1M153.8 515.1H172.3M163.1 518.9V511.3M144.2 524.4H173.2M158.7 533.9V514.8M145.4 525.7H189.8M167.6 535V516.4M143.9 522.4H181.4M162.7 530.6V514.1M152.1 521.1H173.9M163 532.5V509.6M151.4 520H173.9M162.7 531.1V508.8M157.1 515.4H169.2M163.2 531.8V499.1M147.9 524.2H170.8M159.4 529.8V518.6M153 527.8H176.6M164.8 536.6V518.9" stroke="#ddd0fd" stroke-width="0.8" stroke-opacity="0.5" fill="none"/>
<path d="M151.9 518.9H172.3M162.1 524.9V512.9M148.7 530.2H179.9M164.3 549.2V511.3M137 526H204.4M170.7 535.5V516.5M155.1 547.7H172.4M163.7 562.1V533.3M133.1 523.6H181.5M157.3 531.1V516M148.4 530.8H180.4M164.4 553.6V508M153.6 522.6H168.2M160.9 530.7V514.4M128.9 524.1H180.7M154.8 535.5V512.8M149.8 529.1H180.7M165.2 532.6V525.6M141.2 524.2H158.7M149.9 535.9V512.6M140.4 540H187.2M163.8 555.1V524.9M134.9 524.2H165.6M150.2 531.6V516.7M151.5 510H174.8M163.1 522.8V497.2M153.7 527.2H177.9M165.8 534V520.3M155.7 502.7H170.6M163.2 541V464.5M165.6 525.4H187.2M176.4 542.4V508.5M108.3 522H212.8M160.5 536.2V507.8" stroke="#d9ccfd" stroke-width="0.8" stroke-opacity="0.5" fill="none"/>
<path d="M139.1 523.8H158.6M148.9 538.8V508.8M149.3 506.5H176M162.7 519.3V493.7M148.1 529.9H183.3M165.7 543.5V516.2M160.8 527.5H178.1M169.4 536.8V518.3M143.7 518.7H179.7M161.7 538.3V499.2M139.1 521.3H178.9M159 524.7V517.9M160 527.6H177.6M168.8 537.6V517.5M157.8 525.9H186.1M172 537.5V514.2M135 517.4H189M162 531.7V503.2M152.7 527H187.2M169.9 537V517M159.3 526.5H186.4M172.9 541.8V511.2M161.2 525.4H196.2M178.7 536V514.8M139.7 523.4H171.1M155.4 530.8V515.9M135.2 523.5H164.8M150 554.5V492.6M156.2 525.9H196.3M176.2 532.5V519.2M157.9 544.2H170.3M164.1 550.4V538M139.5 521.2H177M158.3 528.7V513.7M143.8 537.5H186M164.9 545.8V529.2M164.3 526H191.3M177.8 541V510.9M131.8 524.1H159.7M145.8 548.2V500.1M147.3 511.9H177.1M162.2 528.4V495.4M116.2 524.1H160.9M138.6 541.2V507M140.5 513.3H184.1M162.3 530.5V496M152 521.6H166.1M159.1 527.7V515.5M137.5 532.5H192M164.8 541.1V523.9M146 522.1H167.8M156.9 531.8V512.5M136.1 522.7H172.7M154.4 545.4V500.1M126.7 524H173.7M150.2 540.3V507.8M149.1 521.6H166.7M157.9 531.7V511.5M146.3 520.3H176.3M161.3 537.7V503M149 528.4H183.4M166.2 534V522.7" stroke="#d6c7fc" stroke-width="0.8" stroke-opacity="0.5" fill="none"/>
<path d="M153.9 514.7H167.9M160.9 520.3V509.1M148.7 503.1H176M162.3 518.4V487.9M159.7 527.6H188.3M174 544.8V510.4M169.5 526.7H184.8M177.2 550.2V503.2M156.1 532H177.8M167 543.6V520.3M156.4 528.2H183M169.7 544.4V512.1M112.8 523.9H162.2M137.5 536.4V511.5M142.9 530.3H194.9M168.9 545.2V515.3M144 519.6H170.4M157.2 531.5V507.6M162.1 534H171M166.6 546.7V521.3M140.5 522.5H160.5M150.5 533.3V511.6M152.4 505.4H171.4M161.9 518V492.9M148.5 518.4H169.3M158.9 525.8V511M159.2 528.6H178.2M168.7 532.7V524.5M151.1 536.1H181.3M166.2 546.1V526.1M151 528.9H186.3M168.6 535.9V521.9M143.2 530.2H193.2M168.2 538.3V522.1M138.3 520.4H179.1M158.7 535V505.8M129.4 519.9H185M157.2 523.8V516M142.9 517.5H178.7M160.8 532.8V502.3M172.8 525.8H196.2M184.5 539.6V512.1M147.4 495.9H178.2M162.8 513.5V478.4M157.8 527.1H185.3M171.5 540.8V513.4M165 527.6H184.5M174.7 537.5V517.7M138.9 519.2H181.1M160 528.5V509.9M157 531.7H175.9M166.4 555.5V507.8M143.8 515.6H178.8M161.3 523V508.2M133 521.6H181.1M157 545.5V497.7M141.5 518.4H176.5M159 536V500.9M145.5 526.3H222M183.8 543.6V509.1M133.5 529.1H202.5M168 538.4V519.9M139.7 535.2H192.4M166 556.7V513.8M133.3 522.4H172.9M153.1 531.8V513M154.1 528H190.3M172.2 537.7V518.4M155.6 529.3H185.7M170.7 540.8V517.8M153.9 534.6H177.4M165.7 542.3V527M129.1 518.2H188.7M158.9 536.3V500M154.8 525.8H215.7M185.3 536.6V514.9M151.7 535.8H180.5M166.1 549.2V522.3M137.2 522.8H162.4M149.8 530.4V515.2M152.2 528.3H190.4M171.3 536.8V519.7M145.3 507H179M162.1 551.3V462.7M173.8 526.1H186.3M180 537.6V514.7M146.3 533.4H185.1M165.7 543.7V523.1" stroke="#d2c2fc" stroke-width="0.8" stroke-opacity="0.5" fill="none"/>
<path d="M126.9 522.7H149.3M138.1 531.8V513.5M142.9 520.6H160.9M151.9 539.3V501.9M132 522.2H166.2M149.1 533.8V510.6M145.6 517.4H168.5M157 536.5V498.4M134.1 522.5H161.7M147.9 541.1V503.9M129.8 518.9H181.1M155.4 524.9V513M145 542.2H186.9M165.9 552.3V532.1M151.5 516.7H165.4M158.5 523.1V510.2M138.5 520.8H162.2M150.4 527.5V514.2M149.2 527.7H213.4M181.3 546.9V508.5M159.6 530.4H181.1M170.4 535.7V525.1M132.6 519.8H179.6M156.1 528.7V511M168.6 527.8H190.7M179.7 533.7V522M132.8 544.9H198.9M165.8 554.8V535.1M141.8 510.1H180.3M161.1 522.9V497.2M157.4 543.7H175.2M166.3 555.5V532M158.5 542.6H172.2M165.4 561.1V524.1M155.7 530.9H188.2M172 540.7V521.1M130 518.7H179.2M154.6 528V509.4M157.2 527H204.8M181 544.4V509.6M146.3 519.1H163.7M155 534.4V503.9M138.2 519.8H171.5M154.8 528.2V511.3M131.7 539.6H200.8M166.2 547V532.2M153.2 529.7H188.7M170.9 542.7V516.7M151.8 510.5H168.7M160.3 521.6V499.3M161.3 531.3H180.8M171.1 541.9V520.6M156.1 531.4H187.1M171.6 540.5V522.3M161.5 538.9H171M166.3 549.5V528.4M143.7 511.1H178.4M161.1 533.1V489.1M145.3 517H168M156.6 526.2V507.8M146.4 527.9H201.8M174.1 538.5V517.4M160.6 528.3H196M178.3 541.9V514.6M120.1 523.6H148.8M134.4 537.1V510.1M151.9 544.5H179.8M165.9 561.1V527.9M146.6 517.6H167.6M157.1 531.8V503.4M163.6 530.3H182.3M172.9 548.4V512.3M150.7 510.6H170.2M160.5 526.3V494.9M144.3 515.6H171.9M158.1 529.2V502M134.5 546H196.5M165.5 554V538M166.3 527.6H188.3M177.3 542.2V513M118.9 505.8H203.3M161.1 522.5V489.1M146.5 536H188.4M167.4 544.6V527.4" stroke="#cebdfc" stroke-width="0.8" stroke-opacity="0.5" fill="none"/>
<path d="M143 557.1H188.6M165.8 572.6V541.6M147.5 511.5H169.1M158.3 523.9V499.1M146.1 530.7H201.1M173.6 541V520.3M162.2 528.7H193M177.6 534.6V522.7M157.4 531H196.8M177.1 536.7V525.2M158 532.4H188.1M173 538.7V526.2M146.5 517.2H165.5M156 530V504.3M118.5 518.3H185.3M151.9 532.2V504.4M156.7 529.9H191.9M174.3 549.4V510.3M129 518.6H172.5M150.8 530.6V506.7M141.5 516H167.2M154.4 530.8V501.3M141.2 519.5H162.5M151.9 535.5V503.5M141.4 519H163.5M152.4 527.9V510.2M171.5 528.9H196.5M184 535.4V522.4M150 532.1H196M173 541.9V522.4M147.2 505.4H174M160.6 520.5V490.3M143 514.4H172M157.5 521.9V506.8M165.6 529.1H191.9M178.8 535.6V522.5M141.7 517.2H165.1M153.4 522V512.5M135.7 501.2H185.5M160.6 515V487.5M144.9 515.7H168.1M156.5 524.2V507.3M144.4 509.6H173.6M159 518.6V500.7M147.4 509.3H170.5M158.9 520.2V498.4M155.3 529H208M181.6 536.1V522M168.2 528.9H186.3M177.2 535.7V522M145.4 515.5H164.2M154.8 527.4V503.5M180.1 526.6H209.1M194.6 532.5V520.6M161.1 534.5H182.3M171.7 546.8V522.2M133 520.8H155.1M144.1 524.8V516.7M138.3 514.6H172.4M155.3 523V506.2M152 516.6H160.4M156.2 531.3V501.8M170.9 528.5H190.2M180.5 540.9V516M145.2 543.2H188.6M166.9 557V529.4M138.2 513.2H178.3M158.3 539.1V487.3" stroke="#cab8fc" stroke-width="0.8" stroke-opacity="0.5" fill="none"/>
<path d="M149.3 510.5H164.9M157.1 518.8V502.2M171.4 532.4H187.4M179.4 546.8V517.9M125.8 518.3H169M147.4 525.9V510.6M141.5 502.2H177.5M159.5 513V491.3M140.4 515.2H161.2M150.8 522.2V508.1M160 532.2H198M179 545.2V519.2M160.4 529.8H201.9M181.1 555.6V504M158.1 546.5H179.7M168.9 549.5V543.5M147.8 493.5H172.5M160.1 511.4V475.7M145.3 508.8H170.8M158.1 519.4V498.3M148.2 512H163.8M156 518.6V505.4M147.1 542H190.6M168.9 552.8V531.2M140.7 514.2H164M152.3 549V479.3M137.1 542.8H203.4M170.3 567.4V518.1M163.1 537.2H179.1M171.1 547.1V527.4M147.9 508.2H163.9M155.9 514V502.4M143.1 516.3H157.5M150.3 528.8V503.7M154.6 548.6H180.2M167.4 565.3V531.8M143.1 513.2H168M155.6 533V493.4M137.6 516.5H163.2M150.4 521.8V511.2M159.2 540.6H181.7M170.5 549.4V531.7M139.5 533H212.9M176.2 545.7V520.3M163.4 540.3H177.1M170.2 553.9V526.7M179 530H191M185 533.9V526.2M146.2 529.8H215.9M181.1 542V517.6M154.7 486H166.8M160.7 494.5V477.4M157.5 536.8H189.2M173.3 560V513.6M159.5 530.4H210M184.8 538.3V522.5M152.8 539.7H188.7M170.7 552.2V527.2M134.8 516.2H166.4M150.6 522.9V509.4" stroke="#c6b3fc" stroke-width="0.8" stroke-opacity="0.5" fill="none"/>
<path d="M191.7 500.5H211.6M201.6 505V496M179.9 499.4H208.9M194.4 506.5V492.4M121 550.9H144.7M132.9 561.8V539.9M172.8 487H197.5M185.1 497V476.9M157 495.5H226.8M191.9 518V473.1M122.8 554.5H151.5M137.1 559.2V549.8M123.4 551.6H143.7M133.6 569.3V533.9M182.5 499.7H207.6M195 518.7V480.8M119.1 551.5H149.4M134.2 557.8V545.2M170.8 490.9H211.6M191.2 497.4V484.5M101.6 545.2H148M124.8 562.2V528.2M180.6 497H204.1M192.3 510.2V483.8M161.7 486.5H204M182.9 496V477M169.6 493.9H210.6M190.1 500.8V487M179 499.5H209.9M194.4 507.9V491.1M176.9 498.7H212.2M194.6 507.9V489.4M111.7 555H153.8M132.8 571.1V538.9M111.6 548.3H142M126.8 559.6V537.1M177.2 493H201.7M189.5 511.5V474.5M163.7 500.9H235.4M199.6 508.2V493.5M167.2 490.9H214.5M190.9 496.1V485.6M172.2 489.5H204.3M188.2 495.1V483.8M168.1 477.3H196.1M182.1 488.5V466M176.1 482.7H193M184.6 489.9V475.5M193.2 503.6H206.8M200 523.6V483.5M171.9 495.3H211.7M191.8 501.4V489.2M172.4 496.5H208.4M190.4 522.6V470.5M113.1 543.4H131.6M122.4 554.4V532.4M192.8 502.4H218.2M205.5 512.3V492.6M194.1 503.4H220.5M207.3 513.7V493M116.1 545.5H130.3M123.2 556.8V534.2M185.9 494.3H198.1M192 505.3V483.2M118.7 551.9H139.8M129.3 558.8V545M192.9 504.5H208M200.5 546.1V462.9M178.4 492.7H197.9M188.1 500.8V484.6M178.6 506.5H228.9M203.7 520.7V492.4M172.3 493.7H207.2M189.8 502.6V484.9M166.8 476.5H196.9M181.9 487.8V465.2M171.7 485.9H203M187.4 507V464.8M174.6 497H207.1M190.8 508.2V485.7M126.7 556.8H150.7M138.7 572.6V541.1M158.9 478.5H204.5M181.7 488.3V468.7M174.7 493.4H209.9M192.3 499.8V487.1M102.2 544.6H147.6M124.9 564.4V524.8M178.8 501H212.4M195.6 527.6V474.5M171 491.7H201.4M186.2 499.6V483.8M160.6 487.4H214.1M187.4 505.5V469.3M129.7 559.2H152.4M141 569.4V549M167 483.6H196.5M181.7 499.7V467.5M113.5 552.6H156.9M135.2 558.3V547M174 489.5H196.4M185.2 502.3V476.6" stroke="#fa9880" stroke-width="0.8" stroke-opacity="0.5" fill="none"/>
<path d="M154.2 541H192.4M173.3 552.6V529.4M158.4 553.5H178.9M168.7 559.5V547.5M163.9 536.4H185.3M174.6 547.6V525.3M143.7 509.1H163.6M153.7 513.2V505M157.2 541.1H186.8M172 546.7V535.5M162.1 534.3H192.1M177.1 540.7V527.9M170.9 530.6H211.6M191.2 550.5V510.6M142.4 533.5H226.5M184.5 540.3V526.6M168.3 532.6H197.5M182.9 537.7V527.4M140.2 509.2H168.5M154.3 515.4V503M148.2 538.9H196.9M172.5 544.8V533M161.5 534.2H195.4M178.4 542.4V526M178.3 529.6H207M192.7 548.6V510.6M129.7 515.3H166.2M147.9 539.8V490.8M139.7 512.7H160.1M149.9 531.3V494.1M140.3 507.6H167.9M154.1 516.9V498.2M141.5 512.2H164.3M152.9 524.1V500.4M129.3 514.1H167.9M148.6 527.4V500.8M133 510.9H168.7M150.8 522.6V499.2M137.8 509.8H168.2M153 518.5V501.1M128.7 515.3H160.6M144.6 526V504.6M127.4 517H163.5M145.5 534.8V499.2M125.5 509H180.2M152.9 514.1V503.9" stroke="#c3aefb" stroke-width="0.8" stroke-opacity="0.5" fill="none"/>
<path d="M138.6 504.4H166.6M152.6 517.4V491.4M170.5 534.4H197.9M184.2 551.6V517.2M138.3 509.8H162.3M150.3 518.8V500.7M162.4 535.2H203.4M182.9 542V528.4M170.8 537.8H193.5M182.1 555.2V520.4M124.9 514.1H165.5M145.2 520.5V507.6M133.5 516.1H147.9M140.7 530.8V501.5M157 551.7H185.3M171.2 560.8V542.6M129.5 511H167.9M148.7 523.3V498.7M128.9 503H181.1M155 512V493.9M165.9 538.7H192.4M179.1 544.9V532.5M134 511.3H163.5M148.8 519.9V502.7M127.1 517.3H150.5M138.8 522.7V512M159.8 540.5H198.8M179.3 554.8V526.1M147.2 533.2H224.4M185.8 542V524.5M124 507.3H178.3M151.2 523.1V491.6M143.4 505.8H158.5M150.9 518.3V493.3M128 514.8H159.2M143.6 530.9V498.7M125.4 513H159.2M142.3 519.8V506.1M165.8 541.2H188.2M177 547.3V535.2" stroke="#bfaafb" stroke-width="0.8" stroke-opacity="0.5" fill="none"/>
<path d="M130.1 502.2H172.2M151.2 517V487.4M134.3 509.9H146.9M140.6 519.2V500.5M127.6 514.9H144.5M136.1 531.5V498.3M132.7 505.9H163M147.8 515.3V496.6M142.4 544.8H213.4M177.9 549.7V539.9M139.1 503.2H159.3M149.2 520.3V486M156.8 550.6H193.3M175.1 566.9V534.3M144.1 503.5H152.5M148.3 521.4V485.6M124.9 514H150.7M137.8 526V501.9M134.6 504.8H158.4M146.5 516.5V493M127.7 513.6H151.5M139.6 530.4V496.8M121.5 502.6H180.8M151.1 512V493.3" stroke="#bba5fb" stroke-width="0.8" stroke-opacity="0.5" fill="none"/>
<path d="M168.5 492.8H231.4M199.9 506.7V478.9M170 487.1H219.5M194.8 495.4V478.8M117.5 552H130.7M124.1 564.7V539.3M117.3 563.5H160.6M138.9 571.8V555.3M184.2 491.8H215.7M199.9 505.3V478.4M174.1 473.9H194.7M184.4 496.7V451.1M164.2 478.6H208.5M186.4 483.9V473.4M167.3 470.1H194.5M180.9 481.2V459.1M176.8 483.1H200.2M188.5 494.5V471.6M180.1 492.1H204.9M192.5 499.7V484.5M179.9 485.1H199.7M189.8 495.7V474.5M113.2 559.7H153.6M133.4 575.3V544.2M190.5 492.4H209.1M199.8 500.2V484.6M179.7 495.1H219.9M199.8 510.4V479.7M176.5 484.6H202.1M189.3 494.1V475.1M173.5 487.7H210.2M191.9 501.3V474.2M186 490.2H207.7M196.9 508.6V471.7M120 564.5H154.8M137.4 578.8V550.3M202.5 503.8H216.5M209.5 513.7V494M182.5 492.8H206.4M194.4 503.5V482.2M109.6 561.8H156M132.8 570.5V553M115.3 551.7H138.2M126.8 566.3V537.1M185.5 492.1H205.2M195.3 507.2V477M167.4 497H230.8M199.1 512V481.9M165.5 478.4H210.1M187.8 485.3V471.6M176.3 492.4H223.4M199.8 495.5V489.3M180 501.4H242.7M211.3 517.3V485.5M184.6 495.3H219.9M202.3 502.7V488M191.4 490.8H202.7M197.1 510.3V471.3M185 494.4H206.6M195.8 511.6V477.1M118.5 558H139.9M129.2 565.4V550.6M191.8 494.4H206.9M199.4 504.6V484.2M96.6 547.1H135.8M116.2 556.4V537.9M106 553.8H141.6M123.8 564.2V543.4M187.2 502.7H233.2M210.2 514.9V490.6M117.3 558.1H146.6M132 568.1V548.1M161.4 482.4H220.9M191.2 497.7V467.1M110.9 555.5H144.9M127.9 566.5V544.5M170.4 483.3H203.4M186.9 496.6V470M167.4 476.3H205.5M186.4 482.4V470.2M175.8 492.7H224.9M200.4 509.2V476.2M167.1 485.4H214.5M190.8 499.8V471.1M112 552.7H144.9M128.4 556.3V549.2" stroke="#fa9279" stroke-width="0.8" stroke-opacity="0.5" fill="none"/>
<path d="M123.7 509.8H153.2M138.5 534.6V485M95.7 510.5H168.5M132.1 521.3V499.8M110 513.5H154.4M132.2 532.4V494.6M172.2 544H200.5M186.4 555.6V532.4M134.4 506.8H147.8M141.1 525.6V488M162.1 543.9H208.8M185.5 552.7V535.2M139.8 557.3H210.7M175.2 568.7V545.9M115.7 501.6H177.2M146.4 506.4V496.8M176.5 539.7H197.3M186.9 549.3V530.1M164.1 560.9H186.2M175.1 597.7V524" stroke="#b8a0fa" stroke-width="0.8" stroke-opacity="0.5" fill="none"/>
<path d="M104.2 510.7H138.7M121.4 521.9V499.5M174.4 538.2H224.4M199.4 559.6V516.9M128.9 509.6H136.1M132.5 524.2V495" stroke="#b49bfa" stroke-width="0.8" stroke-opacity="0.5" fill="none"/>
<path d="M176.8 544.4H212.7M194.7 548.6V540.1" stroke="#b096fa" stroke-width="0.8" stroke-opacity="0.5" fill="none"/>
<path d="M174.7 481.1H218.5M196.6 495.2V467M168.4 485.1H230.2M199.3 500.3V469.9M184.3 481H201.7M193 494.6V467.4M183 486.8H216.5M199.7 504.4V469.1M193.1 487.4H207.9M200.5 492.2V482.5M158.6 473.7H218.3M188.5 485.4V462M181.4 478.4H204.5M193 487.9V468.9M196.3 491.3H213.2M204.7 501V481.7M179.5 484H218.9M199.2 494V474.1M186.8 495.3H234M210.4 505.8V484.8M183.8 474.4H196.5M190.2 484.3V464.5M190.8 483.8H204.4M197.6 491.7V475.9M187.4 472.9H195.8M191.6 497.3V448.6M173.7 492.5H235.2M204.5 506.3V478.6M192.6 488.2H207.9M200.3 500.9V475.5M107.3 562.4H144.9M126.1 570.5V554.3M192.4 481.7H200.7M196.6 495V468.4M164.7 497H252.8M208.8 509.5V484.6M187.6 485.5H210.7M199.1 500.1V470.9M167.1 454.5H200.3M183.7 463.3V445.6M188 488.7H215M201.5 493.5V483.9M183.1 493.4H226.1M204.6 503.1V483.7M125.8 569.9H145.1M135.4 582.1V557.7M188.4 491.7H219.2M203.8 503.7V479.7M224 507.3H256M239.6 520V494M172.4 476.1H212.6M192.5 482.7V469.4M178 484.4H218.2M198.1 490.4V478.4M183.8 484.3H216.3M200.1 497.9V470.7M111.3 557.9H137M124.1 576.8V539.1M179.4 480.2H202.6M191 488.7V471.6M168.9 492.9H236M202.5 521.6V464.2" stroke="#fa8d72" stroke-width="0.8" stroke-opacity="0.5" fill="none"/>
<path d="M107.1 577.9H150.5M128.8 595.3V560.6M92.1 555.9H135.2M113.7 575.4V536.5M174.4 474.1H223.9M199.1 486V462.3M109.6 569.3H139M124.3 584.1V554.6M102.1 554.7H120.4M111.3 562.3V547.2M165.7 487H246.8M206.3 490.7V483.3M110.3 562.7H137.4M123.8 570.4V555.1M182.5 478.7H224M203.3 493.4V463.9M193.5 483.4H217.4M205.4 496.5V470.2M191.5 484.1H210.1M200.8 494.9V473.2M186.9 480.6H215.8M201.4 485.1V476.2M187.9 482.7H223.6M205.7 488V477.5M181.8 482.1H216.9M199.3 515.6V448.7M198.4 487.7H216M207.2 503.1V472.4M197.5 487.4H216.4M206.9 495.7V479.2M196.6 489.8H223.2M209.9 495.2V484.4M205.3 491.8H219.3M212.3 508.7V474.9M94.1 568H150.2M122.1 575.8V560.2M169.4 476.3H226.1M197.7 498.6V454M190.2 482.3H208.3M199.3 491.2V473.5M187.2 485.3H222.3M204.8 494.8V475.8M204.7 489.8H214.8M209.8 495.5V484M190.3 489.7H227.5M208.9 505V474.4M183.1 490H239.7M211.4 501.6V478.4M175.9 483.1H236.1M206 494.2V472M210.1 495.1H233.9M222 505.2V485.1M186.7 470H208.1M197.4 482V457.9M187.4 481.7H223.6M205.5 484.9V478.4M174.7 464.5H205.8M190.3 481.2V447.7M176.4 482.5H233M204.7 487.8V477.2M180.1 477.7H215.5M197.8 488.7V466.6M74.1 558.2H154.4M114.2 565.3V551M189.5 495.5H240.8M215.2 509.3V481.8M200.3 490.3H214M207.1 503.2V477.3M193.1 480.6H217M205 494.5V466.8M107.6 559.1H124.7M116.1 582.3V536M185.2 481.8H219.7M202.5 503.6V459.9M185.2 485.1H219.1M202.2 496.2V473.9" stroke="#f9876c" stroke-width="0.8" stroke-opacity="0.5" fill="none"/>
<path d="M112.2 489.1H148.1M130.2 502.5V475.7" stroke="#a386f5" stroke-width="0.8" stroke-opacity="0.5" fill="none"/>
<path d="M168.1 477.5H240.1M204.1 496.6V458.4M190 480H221.4M205.7 488.6V471.4M181.8 476.9H232.7M207.2 484.1V469.7M162.3 465.1H236.3M199.3 476.1V454.1M174.4 478.2H242.3M208.4 493.3V463.1M81.2 560.7H124.2M102.7 576.4V545.1M181.8 457.9H211.2M196.5 465.4V450.4M186.8 487.3H242.1M214.5 494.9V479.6M93.4 566H139.8M116.6 575.8V556.2M189.7 472.3H214.5M202.1 488.2V456.3M170.7 469.4H235.1M202.9 484.5V454.2M196 474.8H217.3M206.7 483.5V466M159.5 468.3H236.3M197.9 479V457.5M196 478.9H220.4M208.2 489.8V468M170.9 469.4H232M201.5 480.3V458.5M207.9 481.7H223.6M215.8 497.7V465.6M195.5 467.7H208.2M201.9 475.7V459.6M180.2 460.6H212.2M196.2 466.8V454.5M201.3 479.8H216.2M208.8 489.5V470.1M190.7 477.2H225.4M208.1 482.5V471.9M93.9 574.6H148.2M121 580.8V568.4M192 479.2H221.3M206.6 483.9V474.6M187.9 470.1H211.4M199.6 480.3V459.9" stroke="#f98265" stroke-width="0.8" stroke-opacity="0.5" fill="none"/>
<path d="M206.5 481H234.5M220.5 496.3V465.7M195.4 467.1H225.5M210.5 483.7V450.4M182.3 458.2H236.5M209.4 467.2V449.2M206.3 472.4H216.2M211.2 486V458.8M97.5 570.7H122.6M110 583.9V557.6M188.8 464.6H228.6M208.7 476.4V452.7M206.8 468.8H224.4M215.6 508.5V429.1M198.9 473.7H226.8M212.8 490.6V456.8M184.7 474H241.2M212.9 486.5V461.5M200.4 480.6H232.7M216.6 489.7V471.5M189.8 475.9H244.2M217 484.8V467M192.9 459H211.3M202.1 480.1V437.8M187.2 454.5H223.2M205.2 474.2V434.7M92 566.9H104.1M98.1 577.9V555.9M191.3 468.5H235.9M213.6 479.1V457.9M190.6 470H237.4M214 479.6V460.4M192 470.5H224.7M208.3 482.9V458.2M195.6 474.7H234.2M214.9 486.4V463M190.6 458.6H218.4M204.5 465.1V452.2M192.5 469.7H224.8M208.6 478.2V461.3M196.6 459.2H219.1M207.8 477.7V440.6M87 565H105.4M96.2 573.3V556.8M187.9 473.5H235.1M211.5 484.6V462.4M191.6 458.7H223.3M207.5 469.7V447.6M102.9 572H126.8M114.8 583.8V560.3M207.2 481.1H229.1M218.1 493.1V469.2M206.1 469.5H231.6M218.9 477.7V461.4M199.4 462.9H220.3M209.9 479.4V446.5M183.5 452.4H214.1M198.8 463.6V441.2M201.6 472.2H217.8M209.7 485.6V458.9M195.7 474.3H233.4M214.6 483.4V465.1M189.4 469.1H235.8M212.6 496.3V441.9M200.6 483.6H248.6M224.6 488.6V478.7M194.1 455.7H218.5M206.3 468.2V443.1M199.4 479.2H228.6M214 487V471.4M192.9 479.7H240.1M216.5 497.1V462.4M217.5 478.6H236.5M227 488.2V468.9M213.6 489.9H266.5M240 502V477.8" stroke="#f97c5e" stroke-width="0.8" stroke-opacity="0.5" fill="none"/>
<path d="M198 456.8H246.3M222.2 460.9V452.8M202 460.4H244.1M223 473.7V447.1M216.5 465H239M227.7 478.3V451.7M186.4 446.5H235.7M211 472V421M203.6 469.2H260M231.8 477.3V461.2M202.7 458.5H234.4M218.6 469.4V447.5M207.4 447.6H227M217.2 455.3V439.8M202.1 469.6H247.4M224.7 474.4V464.7M207.7 457.6H242.5M225.1 464.1V451.2M203.8 457.8H233.8M218.8 467.6V448M184.6 461.7H247.4M216 469.6V453.7M194.5 458.5H227.1M210.8 468.5V448.4M222.3 465.3H243.3M232.8 473.2V457.4M195.1 459.1H228.5M211.8 466.6V451.6M198.4 458.4H232.7M215.6 464.2V452.6M201.9 462.6H239.7M220.8 470.9V454.3M199.8 470.3H242.2M221 486.2V454.5M203.1 463.8H235.2M219.1 473.6V454M198.2 458.6H237.1M217.6 465.7V451.6M204 457.6H215.2M209.6 479.7V435.4M218.9 471H246.5M232.7 482.7V459.2M208.4 446.2H219.3M213.8 456.9V435.6" stroke="#f67559" stroke-width="0.8" stroke-opacity="0.5" fill="none"/>
<path d="M207.9 461.9H256.5M232.2 471V452.8M223 450.4H243.7M233.4 456.7V444.2M205.5 449.9H235.3M220.4 464.9V434.8M236 471.2H304.8M257.7 486V458M214.6 455.9H241.1M227.9 466.9V444.8M221.4 451.3H244.7M233 462.3V440.3M211.7 454.9H242.6M227.1 464.6V445.3" stroke="#f46e53" stroke-width="0.8" stroke-opacity="0.5" fill="none"/>
<path d="M212 439.4H248M229.9 454V425" stroke="#f1664e" stroke-width="0.8" stroke-opacity="0.5" fill="none"/>
<path d="M234.4 441.7H264M249.2 450.6V432.8" stroke="#ee5f48" stroke-width="0.8" stroke-opacity="0.5" fill="none"/>
<path d="M230 415.1H270M247.3 440V397.8" stroke="#e9513e" stroke-width="0.8" stroke-opacity="0.5" fill="none"/>
<path d="M253.5 392.8H297.1M275.3 410.4V374.3" stroke="#de3428" stroke-width="0.8" stroke-opacity="0.5" fill="none"/>
<path d="M133.8 524.7H200M166.9 537.9V511.6M152.5 533H174.5M163.5 551.9V514.2" stroke="#fde6df" stroke-width="0.8" stroke-opacity="0.5" fill="none"/>
<path d="M153.7 516.6H173.4M163.6 528.8V504.5M150.8 537.9H176.1M163.5 544.3V531.5M141.3 525.3H184.2M162.8 542.2V508.5M142.8 516.6H184.3M163.5 526V507.1M149.9 526.2H176.4M163.2 541.4V511M150.2 524.4H179M164.6 530.9V517.8M150.8 526H175.4M163.1 535.8V516.2" stroke="#fde1d8" stroke-width="0.8" stroke-opacity="0.5" fill="none"/>
<path d="M152.4 516.9H175.3M163.8 523.9V509.9M138.1 515.5H189.6M163.8 524.4V506.5M147.6 525.1H169.5M158.5 541.2V509.1M164.5 524.6H182.3M173.4 532.5V516.7M152.9 522.9H176.3M164.6 535V510.9M151.9 500.5H175.2M163.5 506.7V494.2M151.6 524.6H202.3M177 529.7V519.5M172.6 524.6H195.2M183.9 532V517.3M148.2 523.1H182M165.1 536V510.1M141 527.2H183.7M162.3 539.3V515.2M152.5 525.3H170.8M161.6 537.7V512.8M148.3 529.3H178.3M163.3 546.2V512.4M161 524.5H176.8M168.9 560.9V488.1M140.3 531.8H186.3M163.3 541.9V521.6M149.7 516.7H177.5M163.6 528V505.5" stroke="#fcdbd2" stroke-width="0.8" stroke-opacity="0.5" fill="none"/>
<path d="M168.5 524.5H211M189.8 536V513M150.7 526.6H172.5M161.6 538.5V514.6M151.4 523.6H181.1M166.3 540V507.2M137 510H191M164 523.2V496.8M145.7 514.7H182.2M163.9 524.9V504.5M153.7 523.4H178.6M166.1 531.2V515.5M155.9 553.3H170.8M163.3 573.4V533.2M128.5 525.3H177.8M153.1 531.3V519.3M158.5 523.7H178.6M168.5 535.6V511.9M154.1 524.4H196.6M175.4 529.5V519.3M116.2 525.1H178.4M147.3 532.7V517.5M157.2 520.9H173.2M165.2 530V511.8M134.9 525.5H183.1M159 537.5V513.5M146.5 522.6H187.1M166.8 529.8V515.5M152.5 523.8H187.2M169.9 529.9V517.7M166.4 524.3H199.8M183.1 532.6V516.1M146.3 530.5H178.3M162.3 537.1V523.9M154.4 519.6H174.2M164.3 524.9V514.4M156.1 524.4H189.4M172.8 527.6V521.2M150.4 517.7H177.5M164 535.4V500.1M148.4 523.6H188.6M168.5 539.5V507.6M150 521.5H180.2M165.1 534.9V508.1M142.3 519.2H186.7M164.5 522.9V515.5M130.8 516.4H198.1M164.4 529.9V502.9M151.2 520.5H179.4M165.3 541.7V499.2M154 521H176.7M165.4 528.8V513.3M154.3 514.5H174M164.2 533.2V495.9M147.1 520.6H182.7M164.9 529.8V511.3M167.2 524.3H182.9M175 533.7V514.8M149.9 524.5H205.1M177.5 533.4V515.6M144.8 523.6H190M167.4 550.5V496.7M143.7 526.3H174.8M159.2 544.2V508.5M136.6 515.4H191.6M164.1 523.3V507.5M145.5 534.4H180.7M163.1 540.5V528.4M149 526.6H169.6M159.3 535.3V517.9M159 523.1H174.7M166.9 533.7V512.5" stroke="#fcd6cb" stroke-width="0.8" stroke-opacity="0.5" fill="none"/>
<path d="M144.1 546.6H181.7M162.9 557.1V536.1M109.8 527.5H207.6M158.7 537.4V517.5M148.7 525.8H160.5M154.6 535V516.6M149.8 503.2H178.2M164 511.8V494.6M150.8 527.9H165.9M158.3 534.6V521.3M118.4 527.1H199.4M158.9 539V515.3M155.6 506.6H173.2M164.4 515.9V497.4M145 523H194.6M169.8 533V512.9M154.3 523.9H197.9M176.1 537.3V510.5M135.9 533.3H188.4M162.1 544.7V521.9M150.9 530.8H173.3M162.1 541.7V519.8M143.8 528.3H176.7M160.2 540V516.7M131.3 526.2H181.8M156.5 535.6V516.7M148.1 526.7H166M157.1 536.9V516.5M154.7 520.3H179.1M166.9 527.5V513.1M155.2 528H166.4M160.8 544.7V511.3M174.9 523.7H184M179.5 527.8V519.6M140.4 528.4H180.3M160.4 539.6V517.1M152.7 534H171.5M162.1 553.7V514.4M157.7 521H178.6M168.2 542.6V499.4M146.5 529.2H173.7M160.1 561.5V496.9M123.1 537.8H202.4M162.8 549.8V525.7M154.6 522.5H182.5M168.6 528.6V516.4M121.8 526.3H184.8M153.3 543.6V509M167.7 524.4H202.6M185.1 538.9V509.8M135 532.6H189.5M162.2 541.3V524M138.1 513.2H190.4M164.3 522.3V504.1M150.8 517.4H178.9M164.9 525.8V509.1M135.7 525.5H159.7M147.7 532V519M151.1 530.2H172.7M161.9 542.1V518.2M147.2 534.8H177.7M162.5 542.4V527.2M123.5 525.5H181.3M152.4 532.2V518.9M141.9 503.3H186.3M164.1 519.3V487.4M150.7 519.2H179.9M165.3 544.8V493.5" stroke="#fcd0c4" stroke-width="0.8" stroke-opacity="0.5" fill="none"/>
<path d="M166 522.1H185M175.5 532.5V511.8M148.8 534.7H171.6M160.2 545.1V524.2M147.9 535.6H173.3M160.6 562.1V509.1M146 496.4H182.4M164.2 510.5V482.3M140.9 520H198.1M169.5 536.9V503.1M129.2 530.4H187M158.1 542V518.9M162 522.8H188.7M175.3 537.4V508.3M150.9 541.5H172.8M161.9 549.2V533.7M153.3 533.3H168.1M160.7 544V522.6M154.3 517.7H181.4M167.9 541.4V494M137.6 516.7H196.8M167.2 529.7V503.6M145.6 520.5H191.6M168.6 529V512M154 518.2H179.2M166.6 530.7V505.7M145.1 531.6H175.6M160.3 546.1V517M138 529.5H176M157 540.8V518.3M149.1 528.9H165M157 539.1V518.7M165.1 523.2H193.8M179.4 535.5V510.9M140.2 527.1H171.9M156 535V519.2M139.7 527H164.3M152 540.6V513.5M124.8 527.8H181.9M153.4 539.4V516.2M138.4 527.1H161.3M149.9 539.2V515M147.7 514.2H184.3M166 521.3V507.2M152.1 520.1H188.8M170.5 525.1V515.1M151.8 510.1H178.4M165.1 531V489.1M156.2 519.7H178.5M167.3 534.3V505.1M150.9 501.1H178.3M164.6 510.1V492.1M145.7 528.8H168.3M157 537.7V519.9M147.3 527.9H162.1M154.7 535V520.8M153.2 513.1H177.2M165.2 523.4V502.8M165 522H178.1M171.5 529.2V514.7M159.7 516.8H171.8M165.7 526.7V506.8M145.8 517.8H188M166.9 534.5V501.1M144.7 504.3H184.8M164.8 523V485.6M145.1 527.2H158.5M151.8 533.3V521.1M167.7 523.3H189.8M178.7 528.6V518M140 527.1H162.6M151.3 531.5V522.7M134.1 534H189M161.5 545.5V522.6" stroke="#fccabd" stroke-width="0.8" stroke-opacity="0.5" fill="none"/>
<path d="M144.5 511.3H189.8M167.1 525V497.5M150.5 516.6H187.5M169 529.4V503.8M154.3 518.9H185.1M169.7 531.5V506.3M148 534.5H169.6M158.8 552.4V516.5M143.4 515.4H194M168.7 533V497.9M159 521.2H190M174.5 529.3V513M147 534.1H170.2M158.6 552.8V515.4M142.7 538.4H177M159.8 546.4V530.5M152.9 512.4H181.6M167.2 526.2V498.6M164.5 521.6H193.3M178.9 545.3V497.9M154.5 518.6H187.1M170.8 528.3V508.9M145.4 532.2H166.3M155.8 546.1V518.3M148.4 514H185.7M167.1 530.1V498M144.9 529.9H163.1M154 551.3V508.5M125 496.8H205.1M165 519.1V474.5M123.7 529.6H180.7M152.2 539.8V519.5M147.8 538.3H171.4M159.6 546V530.7M159.1 517.8H182.8M171 543.9V491.7M150.3 532.7H166.5M158.4 568.2V497.2M134.7 528.3H165.6M150.2 549.4V507.2M153.9 518.5H187.6M170.7 530.9V506.1M154.6 511.5H180.7M167.6 523.1V500M151.8 535.2H165.3M158.5 541.5V528.9M138.2 532.2H174.8M156.5 540V524.4M147.7 547.3H175.6M161.7 561.3V533.3M140.5 510.3H192.8M166.6 517.6V503M147.8 497H183M165.4 508.3V485.8M118.2 526.7H154.4M136.3 539.6V513.8M124.3 529.2H179.2M151.8 536V522.4M155.1 517.1H182.2M168.6 543.4V490.8M141.1 547.5H182.7M161.9 571.9V523.1M160.8 522H191.8M176.3 532.5V511.4M166.2 522H189.7M177.9 537.9V506.1M134.2 530.3H173.5M153.8 546.8V513.8M142.3 529.8H170.3M156.3 539.3V520.3M143.7 540.4H176.6M160.1 548.2V532.6M110.3 526.1H144.3M127.3 535.7V516.6M129 528.6H174.7M151.9 533.7V523.4M138.4 531.1H176M157.2 543.5V518.8M155.7 520.6H194.7M175.2 528.1V513M174.6 522.6H202M188.3 533.2V512M159.7 517.5H183.1M171.4 529.2V505.7M131.7 528.4H165.3M148.5 536.9V520M117.4 526.7H167.6M142.5 535.4V518M135.6 527.7H159.6M147.6 537.5V518M119.4 529.5H183.4M151.4 536.8V522.2M159.2 522.4H211.5M185.3 532V512.9M137.4 516.5H203.6M170.5 524.9V508.2M143.6 506.7H187.1M165.4 512.1V501.3M131.1 532.9H185.6M158.3 541V524.8M169.9 521.3H186.5M178.2 529.1V513.6M165.4 519.6H183.2M174.3 531.5V507.6M166.2 522.3H202.2M184.2 529.4V515.1M169.6 522.1H189.1M179.3 533.2V510.9M149.4 510.3H185.1M167.2 520.6V499.9M160.4 514.7H177.8M169.1 531.1V498.4M149.3 509.8H182.6M165.9 530V489.6M131.5 526.9H156.9M144.2 535.7V518.1M155.9 517.4H185.8M170.8 524.8V509.9M127.7 528.1H169.7M148.7 533.9V522.3M118.9 532.8H196.1M157.5 541.9V523.7M147.4 510.3H185.3M166.3 523.2V497.3M153.1 517.3H183.8M168.5 524.4V510.3M146.1 501.6H184.6M165.4 517.5V485.7M129 528.1H164.9M146.9 540.8V515.4M134.1 528H164.4M149.3 536.2V519.7M164.4 521H189.5M176.9 529V513M147.5 511.6H184.9M166.2 522.3V500.9" stroke="#fcc5b6" stroke-width="0.8" stroke-opacity="0.5" fill="none"/>
<path d="M149.1 548.7H170.3M159.7 557.2V540.3M150.8 513.4H192.5M171.7 527.3V499.6M145.9 537.5H171.8M158.8 541.7V533.3M152.4 511.1H183.4M167.9 520.2V501.9M145.4 530.9H162.3M153.9 543V518.9M120 530.1H179.3M149.7 536.3V523.8M128.7 534.8H180.5M154.6 542.5V527.1M176.9 521.5H193.4M185.1 535.2V507.7M153.8 517.1H189.3M171.6 525.6V508.6M162.2 518.5H183.9M173 533.3V503.6M130.6 536.8H186.6M158.6 551.7V522M148.8 516.2H197.3M173 530.7V501.7M167.5 519.6H186.6M177 533.5V505.8M157.5 520.8H200.4M178.9 542.5V499.1M149.9 518.4H196.8M173.4 521.7V515.1M136.9 531.3H161.9M149.4 540V522.6M140.2 533.5H170.2M155.2 549.7V517.3M121.3 528.8H170.1M145.7 537.4V520.2M140.7 534.9H168.3M154.5 541.1V528.8M162.3 516.8H184.5M173.4 533.3V500.3M171.6 521.7H201.2M186.4 547.1V496.4M157.2 516.4H186.6M171.9 529.8V502.9M162.3 513.1H177.2M169.8 525V501.1M160.4 513.6H177.4M168.9 517.9V509.4M157 519.5H200.8M178.9 532.5V506.4M142.5 537H169.5M156 543.6V530.4M155.4 517H194.2M174.8 527.4V506.6M137.4 539.2H177.1M157.3 547.6V530.8M145.3 520.3H208.5M176.9 532.9V507.7M170.3 520.5H192.4M181.3 536.1V504.9M166.3 522.3H210.2M188.2 531V513.5M150 519.3H203.1M176.5 531.8V506.8M136.5 547.7H182.7M159.6 558.2V537.2M152.3 508.2H185.9M169.1 525.6V490.8M154.3 513H187.6M170.9 520.2V505.8M151.3 501.3H182.1M166.7 507.2V495.5M139.2 530.7H156.5M147.8 536.3V525.1M140.1 528.8H155.6M147.9 554.8V502.7M157.6 518.3H198M177.8 530.6V505.9M155.6 517.1H193.6M174.6 554.1V480.2M150.9 507H185.6M168.2 514.1V499.8M168.6 520.1H195.3M181.9 540.6V499.7M156.7 499.9H175M165.8 508.1V491.7M142.5 530.2H161M151.8 539.5V520.9M148.6 537.2H167M157.8 543.2V531.3M127.9 527.5H156.5M142.2 542V513.1M163.6 518.8H187.4M175.5 531.9V505.6M123.1 527.4H159.5M141.3 541.5V513.3M151.3 483.9H179.3M165.3 489.8V478.1M157 511.6H179M168 521.8V501.4M160.3 513.5H180.4M170.3 520.7V506.3M147.5 535.8H165M156.2 545.5V526.1M139.1 531.5H165.9M152.5 542.5V520.5M162.3 518.9H196.1M179.2 523.9V514M134.8 534.9H180.2M157.5 546.4V523.4M149.5 519.7H201.6M175.6 526.2V513.2M164.1 516.8H179.7M171.9 527.6V505.9M151.3 511.2H186.7M169 521.2V501.2M121.1 527.6H147.1M134.1 535.4V519.8M145.3 519.2H211M178.1 528V510.5M147 537.3H170.2M158.6 550.3V524.3M155 514.7H190.4M172.7 523.3V506M155.1 514.4H186.6M170.9 523.6V505.2M169.5 519.3H190.7M180.1 542.8V495.7M144.2 532.4H159.6M151.9 542.8V522M160.4 518.9H188.7M174.5 527.1V510.7M164.8 518.1H190M177.4 528.2V508M169.3 521.1H190.1M179.7 527.5V514.7M149.4 550H172.9M161.1 558.9V541.1M182.2 522.9H212.1M197.1 530V515.9M152.4 483.6H177.9M165.1 493.7V473.4" stroke="#fbbfb0" stroke-width="0.8" stroke-opacity="0.5" fill="none"/>
<path d="M110.2 536.6H198.4M154.3 547.3V525.8M131.6 537.6H175.2M153.4 547.6V527.5M144.4 541.4H168.9M156.7 549.1V533.7M184.9 520.5H201M193 544.2V496.8M163.2 505.2H176.5M169.8 519.8V490.6M157.6 515.9H195.9M176.7 523.4V508.4M107 529.8H166.2M136.6 538.7V520.8M137.7 536.1H171.4M154.6 548.6V523.6M156 514.1H190.4M173.2 537.9V490.2M173.1 521.4H215.2M194.1 528.7V514.2M160.2 510.9H183.3M171.7 515.8V506M151.5 493.1H181.4M166.5 504.7V481.5M118.2 531H167M142.6 537.2V524.8M126.5 534.4H172.6M149.6 557.5V511.2M117.9 530.3H157.5M137.7 542.4V518.2M135.6 504.5H204.3M169.9 521V488M113.9 528.3H155.9M134.9 534.7V521.9M162.9 520.3H208.5M185.7 539.2V501.3M127 535.3H176.8M151.9 547.6V523M161 518.1H198.7M179.8 524.1V512.2M141.8 551.6H175.6M158.7 557.1V546.1M165.7 519.2H200.9M183.3 527.9V510.5M137.2 533.8H167.9M152.5 548.9V518.8M151.5 538.3H161M156.3 548.3V528.3M140.6 540.1H169.5M155 544.1V536.1M139.7 537.9H171M155.3 559.8V515.9M155.1 508.7H189.6M172.4 516.6V500.8M158.6 508.7H184.1M171.4 514V503.5M92.8 531.2H202.5M147.7 546.3V516M158.8 510.9H183.4M171.1 521.6V500.2M116.3 527.6H143.5M129.9 543.8V511.4M183.1 521.2H203.4M193.3 539.1V503.2M183.1 521.5H217M200.1 534.4V508.7M146.6 503.4H191.2M168.9 517.1V489.7M155.5 509.5H185.8M170.7 514.4V504.6M143.9 540.9H166.3M155.1 553.4V528.4M145.5 540.2H164.4M154.9 554.6V525.8M144.3 543.5H167.5M155.9 551.5V535.5M113.6 529.4H163.5M138.5 537.4V521.3M129.6 533.1H163.7M146.6 561.3V505M149.3 516.6H204.2M176.7 532V501.1M144.6 502.9H194M169.3 509.9V496M119 535.5H187.1M153.1 554.5V516.5M151.3 514.4H201.6M176.4 527.6V501.2M158.6 518.6H207.9M183.2 539.1V498.1M150.3 553.3H168.2M159.3 578.5V528.1M137.3 548.1H177.6M157.4 557.7V538.4M176.7 520.9H210.7M193.7 530.1V511.7M142.7 511.7H206.2M174.4 518.9V504.4M165.5 516.9H196.1M180.8 536.6V497.1M174 517.4H185.6M179.8 529.3V505.5M140.4 542.9H172.9M156.6 570.6V515.1M180.8 520.8H200.8M190.8 538.5V503.1M152.9 513H193.1M173 518.9V507M156.1 505.5H185.1M170.6 518.3V492.6M154.1 497.2H181.1M167.6 521V473.3M155.6 507H185.6M170.6 526.7V487.2M159.4 516.3H195.8M177.6 524.2V508.4M153.5 511.8H191.7M172.6 525.2V498.4M120 530.2H165.5M142.7 550.2V510.2M133.2 532.8H165M149.1 561.6V504M167.4 517.7H188.4M177.9 531.3V504.2M116.6 530.4H162.1M139.4 547.8V513" stroke="#fbbaa9" stroke-width="0.8" stroke-opacity="0.5" fill="none"/>
<path d="M166.6 512.6H190.7M178.6 515.8V509.5M127.3 530H142.9M135.1 547.2V512.8M158.6 509.2H193.9M176.2 518V500.4M150 507.8H200.4M175.2 545.8V469.8M143.2 543.3H167.4M155.3 549.8V536.7M105.2 532.8H179.7M142.4 544.7V520.9M170.7 511.8H185.3M178 528.1V495.6M188.3 519.7H206.5M197.4 542.4V497M123.9 536.3H168.4M146.2 544.9V527.7M105.6 529.7H141.8M123.7 539V520.4M139.5 535.2H152.6M146.1 541.7V528.7M135.4 542H169.4M152.4 549.7V534.2M157.5 508.9H193.6M175.5 527.6V490.2M176 518.9H208M192 537.3V500.4M128.3 535.5H162.6M145.5 542.1V528.9M167.8 506.9H181.1M174.5 515.6V498.1M141 539.5H162.3M151.6 548.4V530.5M140 536.4H156.1M148 544.4V528.3M138 537.7H165.4M151.7 545.1V530.4M123.7 531.9H156.3M140 538.2V525.6M167.3 515H199.8M183.5 528.6V501.3M115.1 529.6H137.2M126.2 542.3V516.8M172.5 514.9H194M183.3 527.4V502.5M143.5 539.8H158.9M151.2 550.5V529.1M131.8 541.9H173.1M152.4 547.3V536.6M172.1 516.3H193.2M182.7 526.3V506.4M136.7 534.6H152.4M144.6 555.2V514.1M152.5 509.5H199.1M175.8 521.7V497.3M138.5 539.6H166.3M152.4 545.7V533.5M142.6 539.8H163.3M153 550.4V529.2M169.8 516.3H204.6M187.2 540.5V492.1M175.9 516.7H191.8M183.8 520.3V513M180.2 518.1H200.3M190.3 523.7V512.6M163.9 506.6H183.5M173.7 510.4V502.8M163.7 504.8H179.1M171.4 521.2V488.5M161 500.6H178.2M169.6 505.4V495.7M140.7 538H163.9M152.3 548.2V527.9M174 516.4H194.3M184.2 533V499.8M152 494.3H186.7M169.3 502.8V485.7M132.1 532.6H149.4M140.7 541.2V524M165.7 512.7H188.4M177.1 518.8V506.6M143.3 547.3H167.2M155.2 555.4V539.2M159.1 504H186M172.5 509.4V498.7M139.2 535.1H159.8M149.5 550.3V519.9M123.5 531.5H141.5M132.5 541V522M137.7 535.1H151.7M144.7 560.1V510.1M156.2 500.2H186.9M171.6 509.3V491.2M151 508.2H194M172.5 525.4V491M139.9 540.7H168.5M154.2 557.8V523.7M160.5 503.9H182M171.3 526.9V480.8M130.9 535.5H161.1M146 541.1V529.9M147 510.4H200.3M173.6 518.1V502.6M128.1 537.5H169M148.6 542.6V532.3M183.3 518.7H208M195.6 528.1V509.4M133 548.5H180.6M156.8 565.3V531.6M158.5 508.1H190.6M174.6 524.9V491.4M164 502.4H179.7M171.8 509.6V495.3M159.1 510.1H190.6M174.8 527V493.2M142.2 536.6H155.1M148.6 549.6V523.5M140.9 538.3H159.2M150 546.1V530.6M172.6 519.4H223.3M197.9 531.6V507.2M161.9 505.2H182.9M172.4 512.4V498.1M114.2 531.7H168.4M141.3 541V522.5" stroke="#fbb4a2" stroke-width="0.8" stroke-opacity="0.5" fill="none"/>
<path d="M142.4 495.1H203.1M172.8 518.6V471.6M160.6 508.6H200.9M180.7 543V474.3M133.7 535.4H152.7M143.2 547.7V523.2M166.3 515.7H210.5M188.4 534.2V497.3M125.8 535.8H155.8M140.8 546.6V525M157.3 494.4H183.6M170.5 506.7V482.1M137.8 543.8H163.7M150.8 554.6V532.9M154.8 507.6H200.2M177.5 516.6V498.7M125.8 536.9H161M143.4 550V523.8M138 544.5H162.6M150.3 555.3V533.7M129.2 546.8H174.1M151.7 565.1V528.5M129.5 539.5H158.9M144.2 550V528.9M130.8 536.7H160.4M145.6 546.2V527.2M160.7 509.7H196.5M178.6 533.2V486.2M163.4 506.3H188.7M176 515.1V497.6M162.5 497.2H183.8M173.2 509V485.5M143.1 550.2H164.1M153.6 558.3V542M179.6 517.3H216.4M198 523.1V511.5M122.9 542.1H171.4M147.1 554V530.3M186.2 516H199.2M192.7 524.5V507.6M161.2 498.5H186.5M173.9 504.8V492.1M162.4 508.7H196.7M179.6 517.4V500M118.8 533.7H156M137.4 551.3V516.2M175.2 509.7H189.8M182.5 519.5V499.9M176.1 514.5H198.8M187.4 530.7V498.2M133 540.6H156.6M144.8 551V530.2M123.6 538.3H170.9M147.3 554.2V522.4M117.9 531.3H138.3M128.1 547.8V514.8M107.3 535.7H167.6M137.5 541.3V530.1M135.8 545.2H162.3M149.1 551.2V539.2M122.8 540.7H167.5M145.1 548.9V532.5M112.4 536.9H170.9M141.6 547.1V526.7M145.8 548H162.8M154.3 555.3V540.7M131.7 537.9H153.3M142.5 552.7V523.1M163.8 507.1H191.9M177.9 519.7V494.4M170.1 515H201.9M186 530.9V499.1M102.2 509.6H254.2M178.2 518.7V500.6M175.6 515.5H199.7M187.7 522.5V508.6M178.2 513.6H189M183.6 523.5V503.7M145.6 502.8H205.1M175.3 525.2V480.4M116.2 539.7H181.6M148.9 554.6V524.7M141.3 542.3H160.3M150.8 550.2V534.5M168.4 511.1H198.6M183.5 531.5V490.6M117.9 541.7H179.9M148.9 546.3V537.1M179.8 515.7H198.5M189.1 524.6V506.7M130.1 538.9H162.3M146.2 556.1V521.8M127.8 544.3H175.6M151.7 563.2V525.3M168.3 513.9H204.1M186.2 522.8V505M176.2 512.6H195.5M185.8 522.6V502.6M139.8 551.6H166.6M153.2 558.4V544.9M157.1 506.1H193.2M175.1 512.3V500M133.7 539.4H158.9M146.3 552.5V526.3M110.4 535.1H172.3M141.4 543.6V526.5M138.6 543.6H159.6M149.1 558.7V528.4M119.3 538.2H168.2M143.8 544.1V532.3M154.1 504.6H200.5M177.3 512.8V496.3M130 548.5H178.8M154.4 554.3V542.7M169.3 511.8H194.5M181.9 521.5V502M134.6 542.2H158.3M146.5 561V523.4M119.2 538H170.2M144.7 547V529M176.2 510.4H191.9M184 520V500.9M159.6 506.8H196.1M177.9 514.8V498.8M135.7 538.5H155.6M145.6 544.2V532.9M178.1 516.1H207.2M192.6 520.3V512M164 507.2H196.2M180.1 517.7V496.6M159.9 501.9H187.2M173.6 511.9V491.9M159.4 510.5H199.5M179.5 518.5V502.6M121.5 542.5H180.9M151.2 557.3V527.6M163.8 506.2H188M175.9 520.3V492M137.1 539H153.7M145.4 547V530.9M126.3 540.6H163.5M144.9 549.2V532M164.4 506.4H194.9M179.6 512.8V500M137.2 550.1H171.6M154.4 555.7V544.6M169.9 510.4H198.1M184 518.1V502.7M159.2 506.3H199.8M179.5 516.8V495.7M164.8 512.8H209.9M187.3 523V502.7M132.2 536H150.6M141.4 545.8V526.3M169.4 508.3H190M179.7 523.8V492.7M165.8 508.9H188.1M177 517.8V500.1M164.3 511.8H208.5M186.4 517.5V506.2" stroke="#fbae9b" stroke-width="0.8" stroke-opacity="0.5" fill="none"/>
<path d="M160.5 509.2H210.6M185.6 520.2V498.1M171.3 509.4H199.8M185.6 517V501.7M154.5 491.1H195.7M175.1 500.7V481.5M108.7 533.4H130.4M119.6 544.6V522.2M124.5 537.1H153.5M139 549.5V524.6M135.4 546.1H158.4M146.9 563.4V528.7M166.1 504.5H196.1M181.1 513.7V495.2M162.1 498.4H193.1M177.6 513.3V483.5M129.8 547.2H169.3M149.6 570.8V523.7M184.2 513.9H209.9M197.1 523V504.8M163.9 516.4H245.8M204.9 525.7V507.1M172.8 509.2H194.1M183.5 514.8V503.6M166.5 505.5H194.6M180.5 512.2V498.7M164.6 506.4H198.7M181.7 514.6V498.2M174 510.7H197.5M185.8 521.9V499.5M122.6 541.1H166.2M144.4 556.7V525.4M166.7 497.7H186.4M176.5 506.4V489M170.8 513.4H226.6M198.7 529.2V497.7M116.1 538.9H167.3M141.7 559.5V518.2M160.6 502.9H195.8M178.2 520.6V485.1M122.6 549.9H174.9M148.8 558.6V541.2M143.7 553.3H156.1M149.9 561.4V545.2M170.4 509.6H196.6M183.5 526.5V492.6M136.4 552.2H161.5M149 568.9V535.5M133.8 542.5H153.1M143.5 554V531M145 562.5H164.3M154.7 582.8V542.2M150.7 496.6H202.9M176.8 506.2V487M157.9 495.7H189.9M173.9 501.1V490.3M175 507.9H195.5M185.2 521.2V494.5M154.2 499.8H205.5M179.9 508V491.6M156.4 504.3H201.4M178.9 516.3V492.3M125.6 550H177.2M151.4 562.2V537.7M161.7 496H187.3M174.5 509.2V482.9M115.9 540.1H165.7M140.8 547.9V532.3M116 548.9H183M149.5 553.2V544.5M163.8 491H184.6M174.2 503V478.9M127.6 546.1H168.4M148 558.4V533.9M156.2 508.2H219.7M188 519.7V496.7M146.7 498.6H209.6M178.1 508.9V488.2M176.2 510.7H207.5M191.9 524.8V496.6M154.4 498.7H199.7M177 514V483.5M110.2 536.1H149.3M129.8 548.4V523.7M125.7 546.5H165.4M145.6 554.4V538.6M92.7 537.5H174.5M133.6 555.7V519.4M118.4 535.5H148.5M133.5 547.3V523.7M174.2 508.7H197.7M185.9 520V497.3M132.9 537.9H148.7M140.8 552.7V523.2M162.7 504H196.8M179.7 518.9V489.2M171.9 509.4H202.2M187 533V485.8M150.9 506.6H220.9M185.9 515.2V498.1M147.3 480.7H194.9M171.1 487.9V473.4M167.4 500.8H185.8M176.6 518V483.6M165.6 493.7H182.9M174.2 506.4V480.9M167.2 504.3H194.9M181.1 514.2V494.5M173 505.1H195.2M184.1 511.5V498.7M149.5 499H201.9M175.7 509.2V488.7M131.2 546.5H162.7M146.9 561.3V531.7M170.4 503.5H192.4M181.4 516.3V490.7M150.2 501.9H207.3M178.8 519.7V484.2M164.8 508.2H200.2M182.5 517.5V498.8M166.8 507.9H197.2M182 524.8V491M154.2 497.8H202.1M178.2 506.8V488.9M168.6 510.1H201.7M185.1 518.5V501.6M127.7 542.3H152.7M140.2 553.3V531.4M174 510.3H197.1M185.5 527.7V492.8M159.4 503.3H205M182.2 520.9V485.6M167.8 499.5H190.9M179.4 531V467.9M175.5 512.2H202.1M188.8 523.4V501M151 508.5H222.6M186.8 530.5V486.5M135.6 545.3H154.4M145 558.6V532.1M172.9 500H184.3M178.6 509.9V490.1M162.7 503.9H202.3M182.5 513.2V494.7M164.7 497.9H192.3M178.5 515.2V480.7M129 547.3H166M147.5 555V539.5M158 505.6H205.3M181.7 515.8V495.5M140.4 553H159.5M149.9 564.1V541.9" stroke="#fba994" stroke-width="0.8" stroke-opacity="0.5" fill="none"/>
<path d="M163.1 484.9H188.8M176 500.9V468.8M178.8 499.2H188.5M183.6 508.8V489.5M171.1 504H201.6M186.4 511.9V496.1M177.1 506.3H195.8M186.5 515.5V497.1M117.9 550.7H171.9M144.9 565.2V536.3M167.6 501.4H196.5M182.1 511.1V491.8M114.7 539.5H143.5M129.1 545.8V533.2M128.1 552.3H162.3M145.2 577.7V526.9M175.7 506.2H199.1M187.4 521.4V491M162 489.6H195.9M179 503.2V476M106.2 546.4H181.5M143.9 559.2V533.6M114.6 537.6H141M127.8 548.2V527M172.7 500H192.1M182.4 513.5V486.5M136.4 549.6H157.4M146.9 560.5V538.8M173.5 509.4H213.4M193.5 526.2V492.7M177.8 499.2H190M183.9 528.3V470.1M158.5 500.9H203.1M180.8 527.4V474.3M180 512.1H225.8M202.9 523.5V500.6M118.4 546.9H169.4M143.9 553.7V540.2M133.2 551.8H157M145.1 557.1V546.5M95.8 540.8H172.8M134.3 547.2V534.3M130.2 547.6H152.3M141.3 556.7V538.4M171.6 502.4H195.8M183.7 510V494.8M130.6 552.5H157.4M144 562.9V542.1M115.8 547.2H162M138.9 552.8V541.6M180.6 504.3H194.8M187.7 515.6V493M169.5 505.8H203.2M186.3 517.6V494.1M126.2 546.8H151.5M138.9 557.3V536.3M167 488.7H186.8M176.9 496.5V480.8M129.5 540.8H144.3M136.9 551.1V530.5M173.3 508.8H212.8M193 517.1V500.5M161.4 495.6H198.3M179.8 510.2V481M116 499.8H247.9M181.9 518.2V481.4M131.2 548.3H154.6M142.9 576.6V520M164.4 492.9H194.4M179.4 508.5V477.2M173.8 493.9H188.2M181 509.7V478.1M109.3 538.6H151.6M130.5 545.8V531.4M165 510.9H222.2M193.6 525.2V496.5M177.7 509.7H204.7M191.2 518.9V500.4M164 504.5H205.8M184.9 512.2V496.9M119.6 544.2H156.7M138.2 556.5V531.9M155.5 496.8H201.3M178.4 502.2V491.5M126.4 539.6H141.1M133.8 547.7V531.4M124.6 540H146.8M135.7 547.5V532.6M164.3 514.6H246M205.2 528V501.2M179.6 505.4H195M187.3 513V497.8M162.9 500.7H203M182.9 520.9V480.4M170.4 499.8H194.1M182.3 510.6V489M122.9 542H148.6M135.7 549.9V534M177.9 501.1H193.3M185.6 513.6V488.6M170.2 501.4H195.9M183 509V493.8M157.2 496.4H203M180.1 520.3V472.5M169.8 502H201.6M185.7 509.8V494.1M111.6 541.2H160.7M136.2 553.2V529.3M144.6 502.3H222.5M183.6 512.3V492.4M157.3 508.7H223.7M190.5 522.3V495.2M175 504.3H197.1M186.1 514.4V494.2M162.2 495.8H195.8M179 520V471.6M112.4 539.1H145.2M128.8 545.3V532.9M91.4 553.8H198M144.7 561.8V545.7M133.3 545.2H150.8M142 556.1V534.3M163.7 501.9H203.8M183.8 524.4V479.5M122.9 540.5H146.1M134.5 550V531" stroke="#faa38e" stroke-width="0.8" stroke-opacity="0.5" fill="none"/>
<path d="M174.7 492.6H194.5M184.6 502.1V483.1M129.3 551.5H150.4M139.9 559.4V543.7M104 548.6H162.3M133.2 554.9V542.3M169.3 497.3H203.2M186.3 517.5V477.1M173.3 495.1H202.3M187.8 508.6V481.6M178.6 506.2H208.9M193.8 513.7V498.7M182.5 502.3H201.8M192.2 510.6V494.1M103.6 541.2H150.6M127.1 549.8V532.5M182.9 503.9H201.8M192.3 510.7V497.1M99.2 540.9H139.8M119.5 557.4V524.4M170.4 503.6H211M190.7 510.8V496.4M127.3 547.2H147.5M137.4 560.4V534.1M126 488.3H238.1M182 498.4V478.2M164.6 489.1H195.5M180.1 501.6V476.6M187.3 509.1H210.8M199.1 512.8V505.4M150.8 474.8H200.8M175.8 497.8V451.8M172.9 492.7H195.2M184 515.5V469.9M200 509.4H218.6M209.3 520.3V498.6M122.4 551.1H155.8M139.1 558.2V544.1M186.4 502.3H204.8M195.6 511.9V492.7M166.2 498.7H207.2M186.7 509.2V488.3M133.8 555.9H153.8M143.8 581.7V530M172.2 497.4H200.1M186.1 509.7V485.2M179.3 502.8H198.9M189.1 510.5V495.1M117.7 545.8H150.7M134.2 555.2V536.4M129.6 550.4H154M141.8 565.8V535M127.8 550.8H153.5M140.6 563.1V538.4M160.3 486.4H195.8M178.1 507.1V465.6M168.3 490.7H197.1M182.7 508.2V473.3M104.3 536.8H126.6M115.4 548.3V525.2M132 561.2H157.4M144.7 569.2V553.3M119.2 546.1H142M130.6 560.4V531.7M153.1 505.6H240.3M196.7 513.4V497.9M181.5 501.2H197.3M189.4 517.5V485M156.4 494.3H214.6M185.5 501.2V487.3M173.3 498.6H204.2M188.8 505.9V491.2M178 498.7H194.5M186.3 511.7V485.6M165.7 489.8H198M181.8 498.1V481.5M120.5 552.2H159M139.7 565.6V538.7M183.9 504.4H203.3M193.6 513.5V495.4M102.9 541.4H155.1M129 554.7V528.1M183 505.3H202.3M192.7 520.3V490.3M181.1 504.9H205.7M193.4 511.9V497.9M181.3 500H196.9M189.1 519V481.1" stroke="#fa9e87" stroke-width="0.8" stroke-opacity="0.5" fill="none"/>
<path d="M124.8 526.7H202.2M163.5 532.4V521" stroke="#e8dffe" stroke-width="0.8" stroke-opacity="0.5" fill="none"/>
<path d="M86.6 513.4H240.4M163.5 534V492.8M144.6 525.2H183.4M164 539.4V511.1" stroke="#e4dafe" stroke-width="0.8" stroke-opacity="0.5" fill="none"/>
<path d="M145 524.6H158.4M151.7 544.1V505.2M143.1 516.2H183.5M163.3 526.1V506.4M151.6 524.9H189.1M170.3 533.8V516M122.4 520.1H203.9M163.2 527.4V512.9M141.8 523.3H184.1M163 545.6V501M139.5 525.3H189.1M164.3 533.5V517M151.8 535.9H175.3M163.6 548.4V523.4M146.1 527.5H181.5M163.8 545.3V509.8M149.3 524.2H175.5M162.4 530.6V517.9M156 523.9H169.9M163 537.4V510.5M137.5 524.4H181.8M159.6 539.4V509.3M130.3 525.4H200.8M165.6 538.6V512.2M154.4 525.3H174.2M164.3 545.2V505.5M156.9 525H181.2M169.1 537.3V512.6M145.7 525.8H182.7M164.2 532.8V518.7" stroke="#e1d5fd" stroke-width="0.8" stroke-opacity="0.5" fill="none"/>
<path d="M143.5 521.7H181.6M162.5 537.4V506M138 524.2H175.2M156.6 532.8V515.6M131.6 528.7H197.4M164.5 540V517.4M147.2 532.9H180.4M163.8 543.5V522.3M147.5 548.1H179.6M163.6 566.5V529.8M140.5 529.3H188.1M164.3 539.8V518.7M148.2 525.6H183.7M165.9 534.3V516.9M161.8 525.2H185.7M173.7 536.8V513.5M152.7 532.5H174.9M163.8 537.2V527.7M146 533.7H181.9M164 539.2V528.2M147.9 529.6H179.9M163.9 540.3V518.9M149.4 526.5H180.3M164.9 534.9V518.1M164.4 525H194.9M179.7 532.6V517.4M150.8 525.4H181.1M165.9 533.1V517.8M153.7 538.8H173.5M163.6 550.2V527.4" stroke="#ddd0fd" stroke-width="0.8" stroke-opacity="0.5" fill="none"/>
<path d="M173.3 525.2H195.8M184.5 534.4V516M129.5 530.6H199.2M164.4 543.6V517.6M150.1 526.3H184M167.1 544.2V508.4M149.4 532.2H179.3M164.4 551.1V513.3M147.3 513.8H178.1M162.7 533V494.6M140.9 523.8H171M155.9 530V517.7M144.4 525.7H195.5M169.9 541.1V510.3M150.1 525.8H188.6M169.3 549.5V502.1M158.3 531.5H170.2M164.3 551.5V511.4M148.2 521.1H176.2M162.2 525.5V516.6M151.3 515.6H174.2M162.7 532V499.3M144.8 523.3H172.9M158.8 543.2V503.5M136.6 535.5H191.6M164.1 549.8V521.2M133.1 523.4H183.8M158.5 536.1V510.8M148.9 527.6H182.2M165.6 537.2V518M150.7 529.9H179.2M165 539V520.8M130.6 522.8H186.6M158.6 529.8V515.8M145 525.9H193.1M169 535.3V516.5M153.5 522.4H167.5M160.5 536.2V508.5M137.4 523.9H167.4M152.4 527.4V520.4M133 523H184.5M158.8 528.8V517.1M154.2 508.1H171.7M162.9 536.8V479.5M154.2 527.3H178.2M166.2 533.6V521M156.1 527.9H174.7M165.4 537.1V518.7M154.2 527.8H177.4M165.8 544.2V511.3M137.5 524H176.5M157 540.1V507.8M136 520.8H188.3M162.2 525.8V515.9M155.4 519.1H168.4M161.9 539.4V498.8M154.3 526.6H180.8M167.5 539.7V513.5" stroke="#d9ccfd" stroke-width="0.8" stroke-opacity="0.5" fill="none"/>
<path d="M140 522.9H167.8M153.9 537V508.9M162.8 526H185.9M174.3 534.4V517.6M158.3 525.3H204M181.2 539.8V510.8M146 534.7H183.3M164.6 564.5V504.9M141.9 520.6H178.6M160.2 549.4V491.9M140.4 520.7H180.1M160.3 535V506.5M144.1 544H184.6M164.4 548.9V539.1M144.5 513.4H180.1M162.3 532.1V494.8M146.3 537.7H182.3M164.3 542.2V533.2M132.4 514H192.4M162.4 536.1V491.9M148.3 516.9H174.2M161.2 532.3V501.4M120.9 524.2H167.7M144.3 529.5V518.8M138 523.5H172.1M155.1 534.6V512.5M145.8 515.2H177.5M161.7 530.5V499.8M138 523.9H161.1M149.6 541V506.9M150.9 509.3H173.7M162.3 513.6V505M170.6 525.3H192.7M181.7 535.3V515.3M147.9 522.3H167.9M157.9 538V506.5M146.2 512H177.9M162 521.4V502.7M176.5 525.2H198.5M187.5 537.9V512.4M124.3 531.7H207.1M165.7 550.4V513.1M147 509.7H178.2M162.6 522.6V496.8M145.8 519.2H174.8M160.3 539.2V499.1M162.3 527.5H173.6M167.9 536.4V518.6M142.9 517.1H181M162 528.5V505.8M145.4 538.1H183.6M164.5 548.3V527.8M141.5 523.1H171.2M156.3 533.1V513M152.3 527.4H183.2M167.7 541.4V513.3M120.4 524.2H149.9M135.2 532.1V516.2M146.3 517.4H176.9M161.6 533.6V501.2M148.1 513.7H175.7M161.9 530.9V496.5M142.6 519.8H178.3M160.5 530.2V509.5M156.3 530.9H176.6M166.5 545.4V516.5" stroke="#d6c7fc" stroke-width="0.8" stroke-opacity="0.5" fill="none"/>
<path d="M134.7 510.1H188.1M161.4 517.8V502.3M142.6 520.3H175.1M158.9 527.7V512.9M114.3 523.7H161.9M138.1 538.3V509.2M123 515.6H199.1M161 523.8V507.3M129.4 523.1H172.1M150.8 534.3V511.9M144 510.1H178.9M161.4 515.4V504.8M167.3 527.1H186.3M176.8 550.2V504M157.4 526.5H190.8M174.1 536.9V516.1M152.7 533.1H179.9M166.3 543.3V523M145.7 509.3H177.6M161.6 523.9V494.7M168.3 526.2H191.9M180.1 544.1V508.2M148.6 527.2H204.9M176.8 540.2V514.2M117.6 521.5H196.2M156.9 532.8V510.2M133.5 519.3H186.6M160 530.1V508.5M148 528H198.5M173.3 534V522.1M155.8 506.6H167.9M161.9 521V492.2M156.7 527.2H186.6M171.6 533.9V520.4M153.5 536.5H178.6M166 544.4V528.7M112.8 524.1H129.8M121.3 565V483.1M154.7 501.3H170.6M162.6 510V492.6M155.7 537.9H174.8M165.3 559.6V516.1M147.3 530.8H189.9M168.6 541.3V520.3M155.6 526.9H194.7M175.2 539.3V514.5M157.9 528.9H183M170.4 536.3V521.4M150.5 518.8H169.8M160.1 535.6V501.9M139.5 512.6H184.3M161.9 526.9V498.3M145.3 512.5H178M161.6 528.3V496.7M149.9 514.9H170.5M160.2 532.3V497.6M157.4 534.7H173.4M165.4 542.9V526.6M153.4 531.2H182.7M168 547.2V515.2M158.1 528.9H181.4M169.7 544.8V513M124.2 507.8H200.5M162.4 524.4V491.2M149 517.1H172.2M160.6 521.8V512.4M136.9 522.4H172.3M154.6 536.2V508.5M133.9 501.5H191.4M162.7 509.4V493.7M157 531.2H180.1M168.5 541.7V520.7M122.5 524H146.9M134.7 536.6V511.5M147.8 506.9H176.7M162.3 520.3V493.5M136 539.3H194.7M165.3 551.1V527.5M162 526.8H187.7M174.9 530.9V522.6M149.9 546.9H179.3M164.6 556V537.7M148 511.4H174.6M161.3 515.5V507.4M152.7 531.6H182.1M167.4 542.4V520.8M159.8 529.2H181.1M170.5 537.2V521.1M134.6 518.8H183.8M159.2 529.6V507.9M141.3 538.4H188.6M164.9 546.6V530.1M154 533.1H178.7M166.3 543.2V523M150.6 516.1H171M160.8 528.5V503.8M127.6 522.3H183.4M155.5 530.5V514.2M153.6 527.8H186.9M170.3 531.1V524.6M142.1 531H195.1M168.6 541.3V520.8M136.7 507.3H186.7M161.7 519.6V494.9M165.2 526.8H186.3M175.7 547.8V505.9M141.1 522.5H159.6M150.3 532.2V512.7M128 517.8H192.6M160.3 530.9V504.8" stroke="#d2c2fc" stroke-width="0.8" stroke-opacity="0.5" fill="none"/>
<path d="M135.9 511.6H184.4M160.2 517.4V505.8M140.1 522.3H159.2M149.7 537.2V507.4M137.4 512.6H183.3M160.3 537.3V487.9M152.2 537.1H180.8M166.5 547.5V526.8M148.8 510.7H173.1M160.9 526.6V494.7M126.7 533.1H208.5M167.6 569V497.2M146.1 518.1H168.7M157.4 537.7V498.6M169.8 528H181.3M175.5 536.3V519.6M161.3 533.3H175.3M168.3 542.7V523.8M155.5 528.4H192M173.7 536.6V520.2M127.1 520.8H178.6M152.8 545.3V496.4M132.4 519.6H179.7M156.1 529V510.2M156.3 532.5H183.4M169.9 548V517.1M142.2 510.3H178M160.1 534.9V485.8M134.8 521.2H168.5M151.7 545.7V496.7M144.7 541.5H186.9M165.8 557.6V525.5M98 521.7H206.3M152.2 534.5V508.9M158.3 530.5H181.5M169.9 541.7V519.3M137.8 518H175.9M156.9 536.9V499.1M158.9 528.6H189.2M174 538.2V518.9M147.9 544H184.4M166.2 558.8V529.2M148.5 531.3H192.2M170.4 542.2V520.5M156 529.7H186.1M171.1 540.1V519.3M156.5 527H200.6M178.5 537.8V516.2M135.3 513.1H183M159.1 527.2V499.1M157.3 529.8H188.3M172.8 543.5V516.1M122.9 521.7H168.6M145.7 526.6V516.8M174.6 527.2H194.4M184.5 543.4V511M168.3 527.2H190.4M179.4 537.5V516.9M143.6 522.1H158.2M150.9 525.5V518.7M158.4 529.3H191.1M174.7 543.6V515M133.1 543.1H198.8M165.9 554.3V531.9M155.7 535.6H178.2M166.9 549.4V521.7M140.6 520.5H161.4M151 528.8V512.2M157.4 533.6H177.8M167.6 537.1V530.2" stroke="#cebdfc" stroke-width="0.8" stroke-opacity="0.5" fill="none"/>
<path d="M128.3 511.6H186.5M157.4 523.3V499.9M133.2 538.6H203.2M168.2 544.6V532.5M150.7 531.7H196.8M173.7 542.9V520.6M137.6 511.7H178.5M158 522.9V500.5M161.6 534.6H180M170.8 548.1V521M132.3 518.1H174.8M153.5 534.1V502.2M152.6 532.5H192.1M172.4 540.8V524.2M153.2 538.2H186M169.6 550.9V525.4M126.7 520.6H170M148.3 529.2V511.9M119.6 522.1H152.2M135.9 548.6V495.5M158.6 538.8H177.6M168.1 550.9V526.8M157.5 528.5H203.8M180.6 542.9V514.1M152.1 513.2H165.2M158.6 523.6V502.8M135.2 515.7H177.4M156.3 524.8V506.7M136.9 521.2H154.8M145.9 533.6V508.9M147.7 516.2H165.1M156.4 525.5V506.9M151.4 539.5H186.4M168.9 546.3V532.7M139.1 538.5H198.7M168.9 551.4V525.6M164.2 528.8H202M183.1 538.1V519.5M159.6 539.9H177.6M168.6 546.4V533.4M167.2 532.6H179.8M173.5 541.2V524M105.2 521.7H178.8M142 529.5V513.9M159.8 531.7H182.9M171.4 544.3V519.1M145.1 550.2H187M166.1 561.7V538.6M142.4 506.2H176.4M159.4 516.6V495.8M157 540.6H177.6M167.3 547.9V533.4M143.7 537.8H192M167.8 549.7V526M136.9 519.5H161.1M149 525.3V513.8M148.1 512.3H169.3M158.7 519.4V505.2M155.8 532.5H186M170.9 536.1V528.9M146 514.6H169.9M157.9 528.5V500.8M128.3 521.9H148.3M138.3 529.4V514.3M155.2 531.6H192.5M173.9 553.3V509.8M125.2 518.5H181.7M153.4 525.3V511.7M144.9 517.9H165.6M155.2 534.6V501.1" stroke="#cab8fc" stroke-width="0.8" stroke-opacity="0.5" fill="none"/>
<path d="M130.3 510.7H182M156.2 519.7V501.7M164 528.6H215.2M189.6 535.9V521.3M154 544.8H185.5M169.8 559.8V529.9M165.8 529.1H200.7M183.3 537.6V520.7M164.2 531.2H190.5M177.4 538.4V524M128.2 520.5H151.2M139.7 529.8V511.2M129.1 508.7H186.7M157.9 518.7V498.6M118 521.6H145M131.5 527.7V515.5M125.2 518.7H172.2M148.7 532.5V504.8M138.6 512.8H172.9M155.8 527.9V497.7M156.1 540.7H186.4M171.3 568.6V512.9M150.9 512.2H161M156 519.1V505.2M134.4 510.8H176.5M155.5 520.1V501.6M178.6 529.8H194.6M186.6 545.9V513.6M167.6 533.6H186.9M177.3 553.2V514M130.3 517.7H161.5M145.9 532V503.4M161.4 535.1H185.2M173.3 562.2V507.9M132.9 518.1H156.1M144.5 527.9V508.3M145.3 510.9H169.2M157.2 528V493.9M140.7 542.6H196.6M168.6 554.4V530.8M128.7 518.7H167.5M148.1 532V505.4M172.5 528.7H204.6M188.5 538.7V518.8M168.5 529.4H199.2M183.9 537V521.8" stroke="#c6b3fc" stroke-width="0.8" stroke-opacity="0.5" fill="none"/>
<path d="M115.2 547.4H142.6M128.9 557.9V537M166.7 497.1H218.5M192.6 518.7V475.4M158.5 493.4H224.8M191.6 502V484.9M129.1 557.2H146.5M137.8 585V529.5M99.1 552.1H164.8M131.9 571.5V532.8M171.5 498.5H214.8M193.1 504.7V492.2M125.8 553.4H145.1M135.4 568.5V538.4M121.9 554.3H145M133.5 564.8V543.7M173.4 495.5H204.6M189 507.9V483.1M175.1 494.7H205.5M190.3 503.5V485.9M111 546.1H142.8M126.9 553.2V539.1M113.3 557.8H167.3M140.3 567.8V547.8M169.6 488.3H199.6M184.6 500.9V475.6M166 489.5H208.5M187.3 498.8V480.3M119.7 547.7H137.9M128.8 555.6V539.9M167.4 476H190.8M179.1 482.7V469.4M122.5 559.1H154.6M138.5 568.5V549.6M168.2 490.8H211.4M189.8 499.6V482.1M177.5 495.9H200.5M189 504.7V487M175.7 493.5H211.5M193.6 502.1V484.9M167.3 483.7H201M184.1 491.2V476.3M106.4 547.2H149.1M127.8 566.1V528.3M127.3 551.7H142.2M134.8 573.3V530M179.7 499.7H209.8M194.7 517.6V481.9M159.3 485.2H215M187.1 494.2V476.2M114.6 550.8H152.2M133.4 563.7V538M122 547.6H140.4M131.2 562.1V533.1M180.8 502.7H212.9M196.8 514V491.4M170.9 473.5H184.9M177.9 481.4V465.5M167.1 493.6H212.4M189.8 500.5V486.7M182.7 503.6H229.6M206.1 521.4V485.8M173.5 499.6H223.1M198.3 509.9V489.2M181.4 493.6H198.3M189.8 511.8V475.3M181.6 492H193.5M187.6 501.7V482.3M170.4 480.7H198.6M184.5 489.7V471.7M178.5 491.4H197.7M188.1 510.6V472.2M119 554.6H149.8M134.4 569.3V539.9M172.3 496.8H210.5M191.4 508.3V485.3M185.6 496.9H201M193.3 500.1V493.8M177.2 489.8H199.9M188.5 507.8V471.8M201.2 506.6H221.5M211.4 513.3V499.8M184.2 507.2H228.9M206.6 520.1V494.2M179 498.8H208.2M193.6 509.7V488M108.8 557.1H167.5M138.1 572.3V541.9M179.6 499.7H209.2M194.4 520V479.4M166.6 483.4H197.5M182.1 493.2V473.6M185.1 502.2H214.2M199.6 519.2V485.3M105.4 543.8H139.1M122.2 549V538.6M168.4 503.3H237.8M203.1 516.4V490.1M104.6 544.6H148.5M126.6 549.4V539.9" stroke="#fa9880" stroke-width="0.8" stroke-opacity="0.5" fill="none"/>
<path d="M139.8 506.4H172M155.9 513.1V499.8M145.7 546.6H195.2M170.5 558.9V534.4M126.7 510.8H175.3M151 523.5V498.2M186.7 527.9H222.1M204.4 537.3V518.5M123.7 495.9H192.8M158.3 502.9V488.9M162.2 531.9H210.9M186.5 548.3V515.5M178.2 531.7H196.9M187.6 538.9V524.5M188.7 528.8H225.6M207.1 538.6V519M136.4 513.3H164.5M150.5 525V501.6M171.3 533.4H193.4M182.4 542.4V524.4M136.6 515H161M148.8 529.4V500.5M153.7 550.4H183.7M168.7 556V544.9M127.4 519.5H147.4M137.4 531.8V507.3M127.9 509.8H181M154.5 524.4V495.2M139.4 509.5H168.3M153.9 520.7V498.3M158.3 538.5H191M174.7 547V530.1M165.9 535.8H184.2M175.1 546.2V525.4M129.9 515.3H168.9M149.4 548.2V482.3M140.9 510.7H160.1M150.5 520.2V501.2M132.9 511.2H172.4M152.6 519.5V502.8M155.6 537.6H198.1M176.9 569.4V505.7M165.8 535.3H188.1M177 547.9V522.7M130.7 512.1H172.9M151.8 520.2V503.9M131.7 512H174.4M153 524.6V499.4M177.1 532.4H194.3M185.7 540.8V524M119.3 516H176.2M147.8 525.4V506.6M140.3 511.1H161.8M151.1 522.4V499.7M141.8 510.9H161.8M151.8 518.2V503.5M124.6 509.8H179.3M151.9 521.1V498.4M158.3 540H187.4M172.8 557.9V522M158.6 538H188.7M173.6 544.2V531.7M139.7 535.5H211.3M175.5 545.6V525.5M137.1 517.1H156.2M146.7 527.3V506.8M191.1 529.1H214.4M202.8 535V523.1M152.6 548.9H188.1M170.3 558.3V539.6" stroke="#c3aefb" stroke-width="0.8" stroke-opacity="0.5" fill="none"/>
<path d="M122.5 513.3H163.3M142.9 524.9V501.7M118.1 507.1H180.2M149.1 523.2V491M165 541.3H186.6M175.8 554.7V527.9M169.5 535.6H200.9M185.2 546.2V525.1M168.3 541.3H181.5M174.9 549.5V533M170.1 535.6H199.1M184.6 544.9V526.4M164.5 531.2H229.9M197.2 553.6V508.8M175.3 534.8H195.5M185.4 540.8V528.8M152.1 539.9H204.8M178.5 545.4V534.5M164.5 540.9H185.9M175.2 559.1V522.6M172.5 536.2H190.9M181.7 541.8V530.5M103.7 517.5H170.3M137 530.8V504.1M158.3 530.9H234.4M196.3 539V522.8M132.6 510.9H165.3M149 516V505.9M165.6 536H203.9M184.7 545.9V526.2M168.1 535.6H196M182 552.8V518.3M138 509.8H155.5M146.8 523.8V495.7M136 508.7H159.6M147.8 519V498.4M155 539.4H198.6M176.8 547.6V531.1M115.5 518.1H141.4M128.5 528.4V507.7" stroke="#bfaafb" stroke-width="0.8" stroke-opacity="0.5" fill="none"/>
<path d="M178.9 537.7H197.3M188.1 546.4V529.1M162.7 547.8H186.6M174.7 551.8V543.8M164 550H187.2M175.6 557.3V542.7M124.5 510.9H155.7M140.1 524.2V497.6M185.2 533.3H205.3M195.2 549.5V517.1M118.1 510.6H160.3M139.2 519.9V501.4M125.8 505.9H164.8M145.3 516.6V495.3M157.5 541.3H207.5M182.5 560.2V522.4M180.3 534.7H204.2M192.3 550.2V519.3M179.8 537H200.7M190.3 550.4V523.6M182.7 534.8H204.1M193.4 542.1V527.5M164.9 541.3H194.5M179.7 551.5V531.2M115.7 508.8H170.5M143.1 519.8V497.9M133.4 500.8H166.9M150.2 508.4V493.2M127.8 499.1H178.2M153 507.2V490.9" stroke="#bba5fb" stroke-width="0.8" stroke-opacity="0.5" fill="none"/>
<path d="M175.5 492.8H220.2M197.9 499V486.6M181.3 492.3H205.8M193.6 508.7V475.9M163.8 487.9H215M189.4 491.9V483.8M178.8 485.1H203.9M191.4 490.7V479.4M191 496.7H210.6M200.8 506V487.4M188.6 496.5H209.6M199.1 510.6V482.3M182 491.1H204.2M193.1 498.7V483.5M173.2 493.9H223.8M198.5 499.6V488.3M107 556.3H156.9M131.9 572.4V540.1M108 552.9H139.5M123.8 564.1V541.6M189.9 493.2H206.7M198.3 498.2V488.3M174.1 491.3H215.2M194.6 499V483.5M198.7 499.3H206.3M202.5 512V486.7M168.3 491.1H220M194.1 502.5V479.6M182.1 493H210.8M196.4 545V441.1M100.8 554.8H148M124.4 561.1V548.5M181.2 491.5H215.4M198.3 505.4V477.6M98.7 546.5H128.3M113.5 555.5V537.6M167 483.2H209.3M188.1 492.2V474.3M182.9 492.3H212.6M197.7 512V472.7M170.7 475.9H195M182.9 480.6V471.2M166.6 483.1H206M186.3 488.3V477.8M191.6 499.3H211.1M201.3 503.3V495.3M179.1 489H203.1M191.1 499.4V478.7M190.9 492.1H207.2M199.1 501.8V482.3M115 556.8H144M129.5 568.3V545.2M176.3 493.1H219.4M197.8 501.4V484.7" stroke="#fa9279" stroke-width="0.8" stroke-opacity="0.5" fill="none"/>
<path d="M172.4 544.8H190.1M181.3 550.3V539.3M140.7 491.7H160.5M150.6 504.1V479.3M132.9 508.2H147.8M140.4 521.5V495M170.8 538.8H208.5M189.7 547.9V529.7M175.8 545.6H186.4M181.1 554V537.1" stroke="#b8a0fa" stroke-width="0.8" stroke-opacity="0.5" fill="none"/>
<path d="M105.1 511.6H135.7M120.4 520V503.2M169.1 551.5H201.3M185.2 562.2V540.8" stroke="#b49bfa" stroke-width="0.8" stroke-opacity="0.5" fill="none"/>
<path d="M192 492.4H219.1M205.5 500V484.8M188.3 482.5H204.4M196.3 492.1V473M168.5 486.3H232.9M200.7 493.7V479M199.5 495.1H228.9M214.2 503.9V486.4M165.6 474.5H221.3M193.4 487.8V461.2M188.5 487.3H214M201.2 508.8V465.8M104.3 550.5H124.2M114.3 558.7V542.2M189.3 490.6H215.5M202.4 495.9V485.4M168.2 470.2H207.3M187.7 483V457.4M194.9 494.7H215.4M205.2 504.8V484.5M179.9 482.9H217M198.4 494.7V471.1M181.5 488.1H213.6M197.5 497.1V479.1M172.3 480.8H219.1M195.7 485.4V476.1M109.9 559.6H134.4M122.1 586V533.3M188.8 482.1H203.4M196.1 496.1V468.1M115.7 567.4H154.6M135.1 575V559.8M198.6 499.5H234.5M216.6 511.5V487.4M147.6 487.8H258.8M203.2 500.2V475.3M169.9 483.2H221.7M195.8 491.2V475.3M185.7 485.4H210.5M198.1 498.7V472M193.4 488.3H215.6M204.5 498.1V478.6M191.4 494.3H214.8M203.1 504.6V484.1M85.2 562.6H169.2M127.2 575.9V549.2M192.7 496.5H225.7M209.2 501.1V492M103.5 552.4H131.1M117.3 562.7V542.1M174.6 475H208.5M191.5 479.2V470.9M180.9 494.8H232.5M206.7 503.9V485.6M108.3 557.9H133.4M120.9 572.6V543.1M201.3 498.2H228.6M215 508.8V487.5M174.7 477.2H205.4M190 492.5V462M187.2 483.2H201.7M194.5 491.7V474.7M185 489.8H224.3M204.7 498.6V481M191.4 488.9H213M202.2 507.2V470.7M176.7 483.5H220.3M198.5 504.6V462.3M164.7 475.5H220.6M192.6 493.6V457.3M176.1 483.4H210.8M193.5 500.9V465.9M190.3 491.4H213.5M201.9 513.5V469.2" stroke="#fa8d72" stroke-width="0.8" stroke-opacity="0.5" fill="none"/>
<path d="M112.7 505.5H137.4M125.1 512.7V498.4" stroke="#b096fa" stroke-width="0.8" stroke-opacity="0.5" fill="none"/>
<path d="M186.7 479.8H209.7M198.2 489.2V470.3M178.6 479.4H216.8M197.7 483.4V475.5M107.7 567.8H137.3M122.5 582.3V553.4M190.1 480.3H204.9M197.5 487.5V473.1M188.8 481H220.6M204.7 490.4V471.6M164.2 465.4H224.9M194.6 473.4V457.5M122.9 580.3H139.3M131.1 586.5V574M182.9 470.4H205.5M194.2 510V430.9M187.3 483.7H224.5M205.9 504.2V463.3M193.2 476.8H208M200.6 494.2V459.4M184.8 476.7H219.1M201.9 491.2V462.2M180.9 474.5H209.6M195.2 483.4V465.7M177.8 474.7H215.5M196.7 481.2V468.2M182.8 477H218M200.4 485.6V468.4M193.8 483.4H215.5M204.7 494.3V472.5M188.3 479H207.4M197.8 495.5V462.5M194 485.7H225.6M209.8 496.9V474.5M101.7 567.8H142.7M122.2 581.6V554M177.5 473.3H210.3M193.9 482V464.6M202.5 487.1H214.3M208.4 496V478.1M206.7 492.1H217.7M212.2 500.6V483.7M196.8 485.1H220.1M208.4 495.3V474.9M181.2 473.8H210.7M196 482.5V465.1M198.5 490.9H217.6M208.1 502.7V479.1M182.1 482.3H217.4M199.8 496.8V467.7M198.8 489.7H232.2M215.5 497.8V481.6M190 488.2H220.2M205.1 503.3V473.1" stroke="#f9876c" stroke-width="0.8" stroke-opacity="0.5" fill="none"/>
<path d="M193.2 551.5H209.4M201.3 566.7V536.3" stroke="#ac91f8" stroke-width="0.8" stroke-opacity="0.5" fill="none"/>
<path d="M186.6 552.8H219.9M202 564.9V540.3" stroke="#a78bf7" stroke-width="0.8" stroke-opacity="0.5" fill="none"/>
<path d="M177 474.6H226.2M201.6 487.3V461.8M198.4 476.9H220.1M209.3 490.1V463.7M184.6 471.8H214.7M199.6 485V458.6M188.8 469.7H213M200.9 495.4V444.1M109.1 567.1H129.8M119.5 576.5V557.7M90.9 565.7H137.9M114.4 572.6V558.9M92.6 564.4H120.3M106.4 571V557.8M177.1 457.2H212.6M194.9 471V443.3M98.7 577.3H149.2M123.9 598.9V555.6M218 494.2H250M233.6 508V480M173.3 461.1H217.7M195.5 475.9V446.2M195.1 479H216.7M205.9 491.4V466.7M202 482.2H218.9M210.5 494.9V469.5M181.6 458.2H211.4M196.5 464.5V451.8M190.8 476.1H213.5M202.1 487.1V465.1M167.5 472.4H235.7M201.6 480V464.7M183.7 467.3H213.7M198.7 470.6V463.9M190.1 468.3H216.6M203.4 480.4V456.1" stroke="#f98265" stroke-width="0.8" stroke-opacity="0.5" fill="none"/>
<path d="M175.1 470.1H237.1M206.1 480.5V459.8M184.8 463.1H239.2M212 475.6V450.6M210.3 470.1H229.2M219.7 479.8V460.5M197.6 450H209M203.3 460.1V440M90.7 576.1H125.1M107.9 583.6V568.6M192.6 469H243.9M218.3 483.4V454.6M207.2 470H225.9M216.6 477.7V462.3M93 582.4H140.7M116.8 590.3V574.5M191.3 468.8H230.6M211 480.3V457.4M184.5 465.6H232.6M208.5 473.5V457.8M177.4 468.7H238.4M207.9 487.3V450.1M200.8 476H233.7M217.3 488.8V463.2M177.8 465.2H230.4M204.1 475.4V455M163.9 465.4H244.7M204.3 474.7V456.1M197.8 478.3H250.9M224.4 489.9V466.6M172.7 464.4H234.2M203.4 475.4V453.3M195.4 465.4H214.3M204.9 480.7V450.1M203.5 468.4H232.4M217.9 478V458.9M196.1 458.5H217.5M206.8 465.8V451.2M203.5 479.8H237.3M220.4 486V473.6M194.8 470.5H218.2M206.5 479.6V461.4M198.6 472.4H222.9M210.8 481.6V463.2M201.7 471.2H216.3M209 484.9V457.5M187.7 464.8H239.7M213.7 476.2V453.4M200.3 474.3H226M213.1 488.2V460.5M186.6 470.8H233.3M210 488.9V452.8" stroke="#f97c5e" stroke-width="0.8" stroke-opacity="0.5" fill="none"/>
<path d="M194.3 461.8H249.2M221.8 473.1V450.4M200.3 454.6H236.3M218.3 471.7V437.5M208 473.7H241.5M224.7 488.7V458.7M208.3 473.3H244.2M226.3 484.4V462.2M175.8 463.3H270.2M223 472V454.7M205.3 462.5H223.7M214.5 467.3V457.7M190.2 459.6H238.1M214.1 470.4V448.8M185.4 440.4H223.8M204.6 453.4V427.4M206.2 472.6H247.9M227.1 477.8V467.5M199.2 474.2H259.3M229.2 483.6V464.8M196.5 457.2H229.6M213.1 464.3V450.1M185.6 447.9H224.6M205.1 465.1V430.7M207.7 467H226.9M217.3 485.2V448.9M188.8 455.2H234.2M211.5 466.3V444.1M161.3 438.6H256M208.7 476.5V400.7M200.3 465.5H244.4M222.4 473.6V457.4M198.5 463.2H243.5M221 472.4V453.9M208.7 461.2H238.9M223.8 475.6V446.7M221.9 465.7H237.1M229.5 477.6V453.8M205.1 457.9H234.7M219.9 466.2V449.5M208.2 454.3H237.1M222.6 465.6V443M209.4 467.6H237.2M223.3 475.6V459.6" stroke="#f67559" stroke-width="0.8" stroke-opacity="0.5" fill="none"/>
<path d="M218.5 447.6H225.6M222.1 465.8V429.5M215.8 450.9H229.6M222.7 460.8V441.1M211.1 454.1H236.6M223.9 463V445.3M225.5 459.9H247.5M236.5 466.2V453.5M205 444H240.6M222.8 448.8V439.3M82 590.7H116.3M99.1 606.4V575M224 449.8H245.5M234.7 458.7V440.8M205 443.8H240M222.7 458V430M218.7 455.8H237.8M228.2 466.1V445.5M218.3 459.4H238.9M228.6 475.6V443.2" stroke="#f46e53" stroke-width="0.8" stroke-opacity="0.5" fill="none"/>
<path d="M215.8 455.5H269.2M242.5 459.1V451.9M238 453.6H272M254 468V440M228 452.4H265M246.5 469.4V435.5M204.6 434.9H255.4M230 449.7V420.1" stroke="#f1664e" stroke-width="0.8" stroke-opacity="0.5" fill="none"/>
<path d="M238 440.5H275M253.8 456V426M222 433H256M237.9 448V420M226 440.1H262M241.3 455V425" stroke="#ee5f48" stroke-width="0.8" stroke-opacity="0.5" fill="none"/>
<path d="M249.3 405.9H281.2M264.9 421V391" stroke="#e34233" stroke-width="0.8" stroke-opacity="0.5" fill="none"/>
<path d="M246.8 395.3H290M268.6 417V373.5" stroke="#de3428" stroke-width="0.8" stroke-opacity="0.5" fill="none"/>
<path d="M147.9 523.7H179.5M163.7 539.4V507.9M151.9 522.2H175.4M163.7 529.4V515.1M149.4 524.8H170.1M159.8 535.4V514.3" stroke="#fde1d8" stroke-width="0.8" stroke-opacity="0.5" fill="none"/>
<path d="M127 525.7H197.2M162.1 538.4V513M145.8 529.9H180.9M163.3 541.3V518.6M146.6 528.9H179.8M163.2 540.8V517.1M155.5 536H171.2M163.3 545.9V526M147.9 521.1H180.2M164.1 527.9V514.2M149.7 528.3H176.5M163.1 533.4V523.2M143.9 525.2H173.9M158.9 545.1V505.2M143.9 526.3H179.4M161.6 532.5V520.1M135.2 524.9H170.5M152.8 533.4V516.5M145.3 524.6H191.1M168.2 547.5V501.6M123.3 524.9H163.8M143.6 531.2V518.5M155 521.5H173.3M164.2 529.7V513.3M129.9 528.1H196.4M163.2 533.9V522.4M132.3 524.9H150M141.2 531V518.8M138 525.6H185.2M161.6 533.9V517.2M153.1 521.5H175.1M164.1 530.1V513M144.2 529.4H181.8M163 538V520.8" stroke="#fcdbd2" stroke-width="0.8" stroke-opacity="0.5" fill="none"/>
<path d="M159.7 524.4H197.6M178.6 531.4V517.3M153.8 523.5H184M168.9 538.2V508.8M142.8 525.5H168.2M155.5 539.7V511.4M144.4 528.2H179.7M162.1 544.4V512M167 524.5H192.9M179.9 537.2V511.7M105.1 525.1H181.7M143.4 539V511.2M132.5 530.1H192.1M162.3 536.3V524M153.3 518.6H175.7M164.5 528.7V508.5M127.6 525.2H166.7M147.2 533.5V516.9M142 504.5H185.3M163.7 543V466.1M156 523.4H176M166 534.1V512.8M150.3 523.7H192.4M171.3 542.7V504.7M156 523.8H183.4M169.7 534.4V513.1M154.4 534.2H171.2M162.8 552.3V516M147 525.5H171M159 537.3V513.6M153.9 517.8H174.9M164.4 529.5V506.1M152.1 526.9H169.7M160.9 544V509.7M148.3 517.6H180.1M164.2 528.1V507.2M160.5 523.4H176.4M168.4 546.6V500.3M156.8 524.1H189.6M173.2 532.4V515.8M144.4 514.6H184M164.2 527.9V501.3M151 538.5H175M163 549.9V527.2M141.6 538H184.5M163.1 546.4V529.5M159.7 522.7H171.4M165.6 533.8V511.6" stroke="#fcd6cb" stroke-width="0.8" stroke-opacity="0.5" fill="none"/>
<path d="M132.3 516H197.3M164.8 527V505M140.8 527H173.6M157.2 539.8V514.3M137.3 529H185.5M161.4 536.7V521.2M151.4 533.4H172.2M161.8 542.9V523.8M140.6 526.8H170.3M155.4 537.9V515.6M162.1 521.7H173.5M167.8 533.1V510.3M139.3 527.6H176.7M158 539V516.1M141.5 529.1H179.6M160.6 541.2V516.9M137.8 505.5H190.1M164 517V493.9M147.9 532.5H175.4M161.7 541.2V523.9M148 541.5H177.8M162.9 554.9V528.2M154.1 529.6H166.5M160.3 538.6V520.5M149.9 527.3H169.2M159.6 540.8V513.9M144.1 516.8H186.1M165.1 532.7V500.9M158.9 522H179M169 532.7V511.2M154.2 523.7H187.8M171 533.7V513.6M152.2 528.5H168M160.1 546V511M162.3 521.9H171.7M167 526.9V516.9M145 527.2H174.4M159.7 541.3V513.1M128.7 526.5H186.7M157.7 537.9V515.1M131.2 526.1H172M151.6 536.2V516.1M133.8 530.6H188.6M161.2 535.6V525.6M130.9 522.6H205.7M168.3 535.8V509.4M158.9 523.8H189.6M174.3 540.4V507.2M151.7 536.3H173.1M162.4 547.2V525.5M151.6 526.9H166.1M158.9 534.1V519.7M152.4 520.9H180.3M166.4 529.5V512.2M126.6 526.1H182.1M154.3 544.4V507.8M154.3 519H177.4M165.9 536.1V502M137.1 525.4H161.2M149.2 533.6V517.2M159.4 523.6H185.5M172.5 545.5V501.6M155.9 521.8H178.7M167.3 530.1V513.5M147.3 533.2H175.8M161.6 549.7V516.8M147.7 523.7H199.9M173.8 543.7V503.7M150.7 523.4H192.2M171.4 530V516.7M140.5 512.6H188.4M164.5 522.8V502.4M143.5 530.1H179M161.3 545.6V514.6M152.4 519.3H178.1M165.3 528.2V510.5" stroke="#fcd0c4" stroke-width="0.8" stroke-opacity="0.5" fill="none"/>
<path d="M128.3 526.2H152.5M140.4 548V504.4M141.4 529.2H175.8M158.6 541.7V516.6M144.2 516.4H189.4M166.8 533.2V499.6M160.5 519.5H179.1M169.8 529.5V509.4M137.9 532.9H181.9M159.9 546.6V519.2M154.4 519H178.9M166.7 527.3V510.7M170.2 523.2H187.8M179 536.3V510.1M132.6 526.4H159.6M146.1 534.4V518.4M135.7 527H171.4M153.6 541.2V512.7M148.3 518.5H184.6M166.4 522V515M150.5 517.3H183.3M166.9 525.8V508.8M150.2 529H167.1M158.6 532.1V525.9M172.3 523.2H197.3M184.8 547.3V499.2M145.2 527H165.3M155.2 538V515.9M131.7 538.2H192.2M162 552.6V523.7M156.3 521.7H187.7M172 531.8V511.7M160.4 523.4H194.1M177.2 542.8V504M142.8 528H172.4M157.6 535.4V520.6M141.9 526.5H156.6M149.2 539.5V513.6M150.5 532.6H170.8M160.6 551V514.2M141.3 519.4H194.8M168.1 529.3V509.6M160.9 522.5H182.7M171.8 524.8V520.2M155.9 521.1H182.1M169 533.7V508.4M153.1 513.4H179.6M166.4 527.4V499.3M140.6 514.3H192.4M166.5 524.9V503.7M145.7 530.8H175.3M160.5 541.9V519.8M152 502.7H177.2M164.6 509.6V495.8M163.9 522.4H185.5M174.7 529.2V515.7M152.8 520.6H189.5M171.2 526.9V514.2M147.2 516.3H184.9M166.1 528.2V504.5M129 527.6H182.5M155.8 554V501.2M139.2 528.6H177.8M158.5 538.4V518.8M137.8 526H159.8M148.8 536.5V515.5M153.6 508.2H176.6M165.1 517.7V498.7M134.6 527.8H179.3M156.9 541V514.6M154.9 512.6H176.1M165.5 525V500.2M149.7 542.4H174.8M162.3 553.7V531M157.2 503.5H172.1M164.6 512.6V494.5M152.6 548.7H172M162.3 568.2V529.2M149 531.8H168.9M159 540.9V522.6M183.9 523.9H209.8M196.8 532.3V515.5M144.6 535.9H177M160.8 544.9V526.9M179.8 523.9H201.8M190.8 532.1V515.7M149.8 536.7H172.5M161.2 551.2V522.1" stroke="#fccabd" stroke-width="0.8" stroke-opacity="0.5" fill="none"/>
<path d="M139.9 507.7H193.3M166.6 514.9V500.6M148.9 543.7H173.8M161.3 552.4V535.1M157.1 519.7H187.1M172.1 524.7V514.7M145 529.7H165.5M155.2 546.6V512.9M176.9 522.7H204.3M190.6 541.9V503.6M162.3 519.8H182.6M172.5 534.1V505.4M137.7 535.8H183.2M160.5 538.6V533M159.2 518.1H178.4M168.8 533.3V502.9M130.2 529.4H177.8M154 547.2V511.7M151.9 503.2H179.6M165.8 508.5V497.8M160.7 520.7H186.4M173.5 527.5V514M114.5 530.4H195.9M155.2 541.4V519.3M155 512.4H180.9M168 521.6V503.2M146 533.9H172.2M159.1 553.5V514.3M133.5 516.1H204.4M168.9 526.5V505.6M142.3 533.7H175.1M158.7 545.2V522.2M148.5 531.1H163.5M156 543.3V518.8M154.3 513.6H182.2M168.2 522.7V504.5M156.2 513.1H180.1M168.1 527.8V498.5M140.8 529.3H168.5M154.7 538V520.6M148.2 531.4H163.9M156.1 536.8V526.1M155.5 515.7H180.7M168.1 524.7V506.6M145.8 512.8H187.6M166.7 535.3V490.4M145.5 532.2H166.3M155.9 545V519.4M156.5 509.7H176.6M166.6 523.6V495.7M134.4 528.2H171.9M153.2 535.7V520.7M157.2 518.6H181M169.1 527.4V509.9M133.9 527.7H166.1M150 539.2V516.3M149.6 532.3H163.1M156.3 539.1V525.5M153.8 516.8H182.9M168.3 534.1V499.6M147.2 529.8H165.4M156.3 537.5V522.1M156.4 510.6H178.7M167.5 516.7V504.4M147.5 511.2H184.4M166 531.2V491.2M124.1 530.7H186.6M155.3 544.5V516.9M142.1 517.4H197.2M169.6 526V508.8M167.3 521.7H182.3M174.8 537.4V506M159.8 522.2H210.6M185.2 533.9V510.4M151.4 516.6H184.9M168.2 523.4V509.7M154.2 520.6H195.7M175 525.3V515.9M148.7 537.1H172.4M160.6 552.8V521.3M159 515.5H177.3M168.2 521.6V509.5M165.5 521.8H198.6M182 534.9V508.6M173.7 522.3H198M185.8 531.3V513.3M159.8 517.9H179.6M169.7 527.6V508.2M151 546.3H171.9M161.4 561.2V531.4M165.4 520.3H182.3M173.9 531V509.7M166.3 521.5H187.7M177 532.8V510.2M150.4 515.6H188.7M169.6 523.6V507.5M139.6 528.3H158.8M149.2 534.4V522.2M162.8 520.1H186.4M174.6 524.2V516M158.6 518.7H184M171.3 531V506.4M135.5 530.2H172.4M153.9 540.3V520M160.7 521.8H198.5M179.6 534.8V508.8M137.5 543.2H185.6M161.6 553.8V532.6M117.5 528.2H185.1M151.3 545.4V510.9M142.5 531.7H172.7M157.6 539.2V524.2M133 531.9H180.3M156.7 543.1V520.7M155.2 515H183.3M169.2 524.5V505.4M162.5 520.3H187.1M174.8 530.7V509.8M158.4 518.1H185.7M172 534.3V501.8M143.7 530.8H167.3M155.5 552.5V509M141.5 531.1H172.6M157 543.5V518.7M141.4 516.5H199.1M170.2 526.5V506.4M152.9 546.5H170.5M161.7 562.8V530.2" stroke="#fcc5b6" stroke-width="0.8" stroke-opacity="0.5" fill="none"/>
<path d="M143.8 533.6H167.7M155.8 544.6V522.6M141 534.8H172.9M157 548.1V521.4M143.1 544.2H175.4M159.3 551.1V537.4M134.3 530.8H162.3M148.3 550.4V511.3M148.1 519.1H200.2M174.1 523.8V514.4M130.2 534.6H181M155.6 542.8V526.4M158.5 516H183.6M171.1 522.1V510M141.4 531H163.8M152.6 546.2V515.8M138.2 532.4H171.6M154.9 550.3V514.5M168 520.1H193.1M180.5 530V510.3M143.6 513.5H195.9M169.8 524.8V502.2M133.4 535.9H182.7M158.1 542.3V529.5M135.4 528.2H157.1M146.2 537.5V518.8M147 517.6H199.9M173.4 528.3V507M160.7 516H181.2M170.9 537.2V494.8M118.5 528.6H163.8M141.1 543.6V513.7M135.2 529.9H162.7M148.9 537V522.8M176.9 521.2H187.8M182.4 536.8V505.5M146.6 535.1H164.4M155.5 545.9V524.4M158.6 514.6H183.2M170.9 526V503.3M166.4 514.7H178.7M172.6 527.4V502.1M148.7 505.9H184.7M166.7 516.8V495M136.1 530.1H167M151.5 540.8V519.3M133.7 528.3H151.9M142.8 534.6V522M132.7 529.1H151.5M142.1 540.8V517.4M160 518.6H187.4M173.7 535.5V501.7M133 529.8H164.9M148.9 557.3V502.3M105.8 527.5H162.7M134.3 536.3V518.7M134.8 530.5H159.6M147.2 537.6V523.4M151.5 516.9H193.3M172.4 526.8V507.1M168.4 520.9H189.2M178.8 530.1V511.7M146.9 533.2H163.9M155.4 537.3V529.1M125.9 530.2H173.8M149.8 537.7V522.8M136.7 489.5H194.4M165.5 499.1V479.8M160.1 520H200.3M180.2 531.1V508.9M163.8 518H186.9M175.3 523.6V512.4M147.8 537.8H168.5M158.1 545.7V529.9M147.3 509.3H189.2M168.2 515.4V503.2M162.9 519.2H185.2M174 534.4V504M146.2 516.8H195.4M170.8 526.3V507.2M159.9 519.6H190.1M175 527.7V511.4M145.3 535.1H166.7M156 543.9V526.4M157.4 515.7H188.5M172.9 526.1V505.3M154.4 519.6H208.6M181.5 526.5V512.7M168.7 519.6H193M180.8 532.7V506.4M172.6 522.5H207.1M189.8 534.4V510.5M160.1 517.3H188.3M174.2 533.2V501.3M128.9 535.8H186.8M157.8 545.6V526M172 517.8H179M175.5 525.1V510.4M158.8 513.4H184.4M171.6 522V504.8M116.4 528.5H164.5M140.4 535.7V521.2M133.4 530.9H165.3M149.3 551.6V510.1M121.3 529.5H173.2M147.3 541.1V518M150.3 500.8H181.9M166.1 506.8V494.7M160.1 506.5H174.4M167.3 526.8V486.2M137.2 537.4H178.7M158 552.7V522M158.4 517.7H187.2M172.8 529.2V506.3M164.5 518.1H189M176.8 524.4V511.9M143.5 520.4H210.2M176.9 532.7V508.1M167.2 521.7H201.4M184.3 531.9V511.5M118.3 528.2H168.5M143.4 544.3V512.1M131.7 530.8H175.6M153.6 543.9V517.7M156.4 513.1H182.4M169.4 525.3V500.9" stroke="#fbbfb0" stroke-width="0.8" stroke-opacity="0.5" fill="none"/>
<path d="M141.3 534.4H161.1M151.2 542.3V526.4M176.4 519.6H191.5M183.9 528.1V511M143.1 509.2H201.6M172.3 521.5V496.9M125.4 532.3H164.5M144.9 538.7V525.8M160 516.1H195.2M177.6 527.6V504.6M177 519.6H187.3M182.1 536.5V502.7M138.7 536.2H164M151.4 555.7V516.7M155.3 510.5H189.8M172.6 516.3V504.7M160.7 508.6H180.3M170.5 517.7V499.5M161.9 514.3H192.4M177.1 521.6V507M139.9 537.8H169.2M154.6 560.5V515.1M137 538.3H174.4M155.7 545.7V530.9M166.9 519.4H197.7M182.3 544.6V494.1M163.7 512.1H183.4M173.6 545.2V479M169.4 520.8H208.7M189.1 537.6V504M144.9 505.5H192.9M168.9 513.3V497.8M143.1 550.7H176.5M159.8 567V534.5M159.9 502.3H178.9M169.4 509V495.7M144.1 503.8H194.4M169.2 510.8V496.8M179.8 519H190.1M185 527.3V510.8M134.8 547.7H181.8M158.3 554.5V540.9M159 514.8H187M173 533.9V495.6M154.4 515.5H201.9M178.1 526.4V504.6M163.3 513.8H189.6M176.5 522.1V505.6M122.2 530H151.8M137 538.7V521.3M135.8 532.9H157M146.4 542V523.9M164.2 519.1H201.4M182.8 541.5V496.6M126.5 530.6H154.8M140.6 542.1V519M154.6 517.6H199.5M177.1 544V491.3M167.8 514.2H185.8M176.8 528.9V499.5M126.3 540.5H185.1M155.7 548.3V532.7M135.2 535.5H167.6M151.4 539.5V531.4M169 515.9H183.7M176.3 526V505.7M157.7 511.7H187.8M172.7 523.9V499.6M148.9 509.3H191.9M170.4 520.6V498M161.1 506.9H178.3M169.7 525.4V488.3M166.9 516.9H184.2M175.5 529.8V503.9M131.7 532.4H159.8M145.8 542V522.8M158.1 517.7H206.5M182.3 532.6V502.7M144.6 517.5H218.5M181.5 530.3V504.8M173.7 520.7H203.2M188.5 526.9V514.6M139.2 531.9H154.8M147 545.3V518.4M163.8 514.8H191.3M177.5 527.2V502.4M158.5 515H190.9M174.7 522.8V507.2M163.6 516.8H190.2M176.9 532.2V501.5M139.9 536.8H168.4M154.1 548.1V525.4M124.2 532.8H168.9M146.5 538V527.5M170.7 521.9H224M197.3 530.4V513.4M133.1 540.1H176.8M155 557V523.2M143.4 536.6H165.2M154.3 548.1V525.1M158.7 510.8H183.5M171.1 529.5V492.1M136.8 531.2H156.3M146.6 538.9V523.5M128.9 532.8H171.7M150.3 545.4V520.2M160.5 515H186.3M173.4 520.3V509.6M155.5 505.9H182.1M168.8 525.8V486.1M169.9 520.8H211.4M190.6 549.3V492.2M122.6 530.4H155.9M139.2 535.4V525.4M152 513.5H199.1M175.6 535.9V491M163.6 513.6H185.9M174.8 527.3V500" stroke="#fbbaa9" stroke-width="0.8" stroke-opacity="0.5" fill="none"/>
<path d="M164.8 515.2H200.1M182.4 520.9V509.5M164.7 514H194M179.4 523.4V504.6M154 508.8H192M173 523.3V494.4M133.3 534.5H157.3M145.3 548.2V520.9M163.4 507.2H184.4M173.9 530.3V484.1M135.7 539.3H170.8M153.3 544.8V533.7M139.3 535.7H154.5M146.9 545V526.3M134.3 539.6H170.3M152.3 555V524.3M132.4 536.9H166.7M149.5 551.1V522.8M116.9 536.3H175.1M146 546V526.7M168.1 508H182.4M175.3 519.2V496.8M164.5 507.5H186.1M175.3 524V491M122.8 532.6H159.7M141.2 543.3V521.8M166.8 506.6H182.1M174.5 509.6V503.6M162.6 495.2H175.9M169.2 501.6V488.9M158.3 511.3H191M174.6 523.7V498.9M137.3 546H174.7M156 556.8V535.2M135 539.1H166M150.5 557.9V520.4M151.8 514.4H211.9M181.9 520.7V508.1M167.4 508.6H183.9M175.7 522V495.3M123 540.3H184.8M153.9 547.7V532.9M134 534H156.8M145.4 546.1V521.9M144.5 550H167.8M156.1 555.2V544.9M132.7 546H180M156.4 556.2V535.9M127.8 540.8H181M154.4 548.7V533M111.6 530.2H148.7M130.2 552.7V507.6M157.8 508.5H192.3M175.1 533.7V483.3M121.7 532.2H166.8M144.3 546.1V518.3M133.6 531.7H151.2M142.4 539.7V523.7M172 514.8H186.5M179.3 525V504.6M130.6 532.3H153.8M142.2 543.1V521.5M158.4 491.6H177.5M167.9 502.8V480.3M145.3 504.1H198.1M171.7 517.2V491M143.5 541.7H164.6M154 558.6V524.7M170 516.5H207.3M188.7 525.1V507.9M170.8 517.7H211.9M191.4 529.8V505.6M168.3 510.4H183.3M175.8 515.3V505.5M166.8 509.4H183.3M175 518.6V500.2M155.5 509.4H191M173.2 519.6V499.1M135.8 539.3H167.1M151.5 549.5V529M144.2 502.4H196.5M170.4 513.5V491.4M128.5 532.3H159.6M144 540.4V524.1M162 512.4H197.8M179.9 526.4V498.5M131.8 535.2H164.8M148.3 540.1V530.2M168.2 516.8H205.4M186.8 524.3V509.4M161.8 509.9H193M177.4 515.7V504.2M176.2 517.1H197.6M186.9 522.9V511.3M167.3 511.9H182.7M175 523.5V500.3M166.9 509.1H185.4M176.1 529.5V488.7M165.6 517.3H206.7M186.1 531.7V502.9M147.1 546.1H163.8M155.4 554.2V538.1M163 516.2H205.9M184.4 533.6V498.8M125.2 534H170.2M147.7 547.9V520.1M160.2 495.1H180.5M170.4 507.1V483.1M148 515.6H212.9M180.4 525.4V505.9M168.2 509.3H179.1M173.7 522.4V496.2M137.8 506.8H208.3M173.1 514V499.7M107.2 530.4H147.5M127.3 565.1V495.7M132.3 540.3H175M153.7 551V529.5M166.4 510.5H184M175.2 524.5V496.6M156.7 510.8H199.6M178.2 516V505.7M138.8 512.1H215M176.9 537.6V486.7M125.6 535.2H164.1M144.8 542.8V527.6M129.1 537H166.4M147.8 551.4V522.7M135.1 538.3H167.5M151.3 545.6V531.1M123.7 532.5H165.1M144.4 546.7V518.4M145.3 552.8H169.2M157.3 562.9V542.7M154.2 500.1H189.5M171.9 506.3V494M158.2 511.1H192.8M175.5 533.9V488.3M168.6 515.2H191.7M180.2 527.7V502.7M134.7 532.9H155M144.8 544V521.9M161.2 510.4H188.9M175 519.9V500.9M145.9 543.7H165.2M155.5 554.4V532.9M149.8 515.3H214.3M182.1 526.4V504.2M138.8 547.5H172.3M155.5 560V534.9M131.9 541H169.8M150.9 557.2V524.8M134.8 539.4H164.1M149.5 546.5V532.2M144.1 555.5H170.7M157.4 572.5V538.5M146.6 540.8H157.9M152.3 557.6V524M151.9 502.3H193.4M172.6 508.8V495.7M135.5 540H165.6M150.6 556.2V523.8M182 517.6H202.1M192 525.6V509.7M145.7 503H199.9M172.8 507.6V498.3M159.8 516.4H210.4M185.1 523.5V509.4M143.5 541.7H166.2M154.9 546.9V536.5M130.4 537.5H174M152.2 547.5V527.5" stroke="#fbb4a2" stroke-width="0.8" stroke-opacity="0.5" fill="none"/>
<path d="M187.8 516.5H196.6M192.2 532.4V500.7M121.2 535H150.4M135.8 544.6V525.4M161.5 506.2H196.2M178.8 530.2V482.2M150.7 496H195.2M173 503.5V488.5M148.2 502.4H201.9M175.1 514V490.8M137 540.1H162.4M149.7 546.8V533.4M94.8 529.6H128M111.4 548.3V510.8M137.3 546.4H167.1M152.2 556.5V536.3M131.5 534.6H139.7M135.6 547.5V521.6M175.9 511.6H195.9M185.9 526.3V496.8M135.4 541.5H159.9M147.6 557.6V525.5M115.5 534.5H152.2M133.9 547.8V521.1M174.5 510.9H189M181.7 520.8V501M129 536.7H157.2M143.1 544.4V529M169.6 511H194.6M182.1 526V496M138.6 541.2H156.3M147.5 547V535.4M161.6 485.1H180.2M170.9 496.8V473.3M163.8 505.4H188.8M176.3 520.3V490.6M108.8 533.5H160.4M134.6 543.9V523M140.4 505.7H208.7M174.6 529.2V482.2M132.7 535.9H151.4M142.1 559.1V512.6M164.4 511.6H207M185.7 525V498.3M167.2 504.9H184.3M175.7 513.7V496.2M174.5 513.8H198.5M186.5 532V495.7M186.1 516H200.3M193.2 526.1V505.9M116.4 540.1H171.8M144.1 549.7V530.5M176.2 513.8H198.2M187.2 526.1V501.6M105.1 534.4H169.4M137.2 542.9V525.9M151.5 503H195.6M173.6 513.6V492.4M143.6 513.5H223.1M183.3 524.9V502M133.3 542.4H166.6M150 552.6V532.3M158.7 501.4H190.2M174.4 511.7V491.1M130.1 539H162M146 545.3V532.8M172.4 505.9H185.1M178.7 515.5V496.2M165.6 506.2H189.2M177.4 514.9V497.5M169.9 512.9H193.7M181.8 518V507.9M179.9 516.7H201.7M190.8 525.8V507.6M156.1 514.9H216.2M186.1 529V500.8M138.1 503.4H208.8M173.5 512.2V494.5M164.2 506.6H195M179.6 515.5V497.7M163.4 503.7H191.3M177.3 511.1V496.2M178.3 515.6H195.4M186.9 525.3V505.9M168.2 510.5H195.7M182 534V487M171.7 514.4H204.8M188.3 526.3V502.6M153.5 508.1H206.9M180.2 522.5V493.7M134.4 559.7H176.1M155.3 569.7V549.7M163.9 510H196M180 528.5V491.5M125.5 554.1H186.2M155.9 565.6V542.5M177.7 511.9H194.4M186 517.3V506.5M141.4 512.7H234.3M187.8 520.3V505.1M136.1 547.1H165.5M150.8 551.2V543M164.4 505.5H190.9M177.7 514.9V496M137.8 539.3H159.7M148.8 548.4V530.2M135 541.5H157.9M146.5 553.2V529.7M176.6 515.1H200.5M188.5 527.7V502.6M138.8 546.2H164.4M151.6 557.3V535.1M127.1 537.7H161.5M144.3 546.8V528.6M164.4 508.9H191.8M178.1 521.5V496.4M123.3 533.1H152.6M137.9 543.3V522.9M127.5 535.8H160.2M143.8 547.8V523.8M152.2 488.6H187.2M169.7 495.8V481.4M172 508.6H190.9M181.4 522.9V494.3M158.9 499.1H190.5M174.7 505.6V492.6M146.9 501.4H202.8M174.9 512.5V490.2M128.9 535.5H149.1M139 552.1V518.8M179.2 513.8H191.4M185.3 523.4V504.1M144.5 490.9H199.8M172.1 501.2V480.6M168.5 505.5H184.8M176.6 513V497.9M134 544.3H169.7M151.9 549.5V539.1M168.6 510.8H192M180.3 528.8V492.7M123.1 547.2H183M153 555.5V538.9M146 550.3H159.2M152.6 558.3V542.3M160.4 507H198.5M179.5 519.9V494.2M135.6 539.4H160.9M148.3 550.5V528.3M151.5 504.6H201.9M176.7 512.9V496.4M119 542H180.8M149.9 568.4V515.7M128.5 541.3H163.2M145.9 554.3V528.3M167.4 511.4H200.2M183.8 526V496.7M129.6 542.3H172.9M151.3 558.4V526.2M166.4 514.5H205.6M186 526.5V502.5M138.2 543.1H160.7M149.5 560.4V525.8M166.1 505.2H183.5M174.8 514.1V496.4M161.3 500.6H188.8M175 511.8V489.4M180.6 514.4H204.1M192.4 528.7V500.2M161 505.3H189.1M175 517.4V493.3M161.1 502.1H191.8M176.5 507.7V496.4M154.6 488.1H186.8M170.7 498.4V477.8M131.3 540.4H160M145.6 569.6V511.3M112.5 543H188.2M150.4 551.8V534.2M143.7 555.6H167.9M155.8 568.4V542.7M145.7 555.6H163.7M154.7 561.6V549.6M162.6 505.4H190.5M176.6 512.8V497.9M161.5 500.4H185.5M173.5 511.6V489.2M161.4 511.3H205.3M183.3 537.6V484.9M135.5 542.2H161.9M148.7 548.8V535.6M169.3 499H180.7M175 503.9V494.1M139.7 550.5H170.8M155.3 558.9V542.1" stroke="#fbae9b" stroke-width="0.8" stroke-opacity="0.5" fill="none"/>
<path d="M119.1 537.5H149M134 546.7V528.3M138.8 545.2H158.9M148.8 566V524.5M170.2 510.4H203.8M187 519.5V501.4M160.9 504.6H199.4M180.2 514.1V495M169.6 501.9H190.9M180.3 513.9V489.8M167.7 495.7H187.5M177.6 505.2V486.1M168.3 509.8H205.8M187 517.6V502M140.5 552.6H162M151.2 559.9V545.3M131.2 549.5H168.1M149.7 556.1V542.9M123 538.7H153.9M138.5 549.1V528.2M173.9 506.4H193.4M183.7 515.1V497.8M176 513H210.4M193.2 529.6V496.4M167.1 507H196.7M181.9 526V488M95.1 533.3H151.7M123.4 541.6V525M137.8 545.1H156.2M147 551.2V539.1M178.5 512.9H209.5M194 521.3V504.6M170.6 503H184.8M177.7 517.4V488.7M171 505.5H195.6M183.3 518.5V492.6M97.4 538.2H175.6M136.5 548.1V528.2M142.2 495.6H209.7M175.9 503.3V487.9M128.8 537.4H142.8M135.8 548.4V526.5M114 534.6H136.4M125.2 539.8V529.4M117.1 536.5H141.1M129.1 543.3V529.8M123.5 550.5H175.4M149.4 560V540.9M167.7 505.9H196.5M182.1 527.1V484.7M162.5 507.8H204.1M183.3 522.4V493.2M138.6 547.6H160.1M149.4 559.9V535.2M169.2 503.2H188.9M179.1 515V491.4M118.3 548.4H176.1M147.2 558.7V538.1M118 544.1H167.5M142.8 552.4V535.9M125.4 536.2H146.9M136.2 545.6V526.8M138.1 551.5H161.8M150 562.6V540.4M174.2 511.8H206.6M190.4 516.9V506.8M111.2 535.5H139.8M125.5 543.5V527.6M136.1 544H153.8M144.9 552.4V535.5M147.4 493.9H199.8M173.6 513.3V474.4M126.6 540.7H160.7M143.7 551.4V529.9M168.8 503.7H193.4M181.1 511.1V496.3M169.1 499.9H187.3M178.2 508.3V491.4M151.7 508.7H220.8M186.2 522.4V495.1M162.9 508.7H205.3M184.1 525.3V492.2M169.9 512.1H217M193.4 519.3V504.9M173.1 511.2H213.8M193.4 521.1V501.3M129.7 540.6H155M142.4 549.2V532.1M159.4 505.2H209.7M184.5 545.2V465.1M133.8 541.5H154M143.9 550.8V532.3M173.8 507.9H201.5M187.6 515.7V500.1M151.9 503H208.4M180.2 513.9V492M157.4 497.3H193.2M175.3 512.8V481.8M184.4 513.8H206.1M195.3 533.9V493.7M163.5 499.4H194.8M179.2 509.2V489.6M168.9 501.1H190.7M179.8 511.5V490.6M131.3 545.6H160.7M146 562.3V529M166.4 501.8H190.5M178.5 510.6V492.9" stroke="#fba994" stroke-width="0.8" stroke-opacity="0.5" fill="none"/>
<path d="M161.1 491.2H193M177 498.8V483.6M112.8 539.8H151.1M131.9 550.3V529.2M135.9 559.3H164.2M150 564.5V554.1M191.5 510.1H202.9M197.2 518V502.2M169.3 506H208.5M188.9 516.3V495.8M170.4 508.3H207.6M189 522.5V494.1M131.8 555.5H165M148.4 565.8V545.1M171.7 500.3H197.3M184.5 511V489.6M87.8 542.7H192.1M140 548.2V537.3M178.2 509.2H215.2M196.7 519.1V499.3M162.5 490.2H189.1M175.8 501.1V479.4M175.2 499.9H187.5M181.4 510.4V489.3M160.1 495.1H202M181 508.1V482.1M115.4 540.7H151.4M133.4 550.7V530.6M166.2 502.2H199.4M182.8 524.2V480.2M145.6 494.4H214.9M180.2 504V484.8M175.3 505.4H207.3M191.3 525V485.8M164.5 499.9H200.8M182.7 518V481.8M172.6 506H199.1M185.8 516.2V495.7M169.2 504.8H205.2M187.2 514.9V494.7M178.6 502.6H198.1M188.4 509.1V496M121.9 544.9H156.3M139.1 549.9V540M174.9 502.4H200.9M187.9 514V490.8M172.6 502H192.8M182.7 517.5V486.5M125.2 480.6H225.3M175.2 488.1V473.2M119.5 541.9H145.9M132.7 569.5V514.4M177.5 503.4H201.2M189.3 520.9V486M128.7 539.6H140M134.4 543.3V536M187.7 509.7H210.9M199.3 527.8V491.5M154.4 499.9H217.3M185.8 513.8V486.1M177 502.7H194.1M185.6 535.4V470M166.8 500.3H196.7M181.8 510.1V490.5M130.8 558.9H169.1M149.9 563.4V554.5M175.6 508.5H203.5M189.6 526.1V490.9M164.6 499.3H203.5M184.1 509.7V488.9M171.5 508.8H218.9M195.2 517.9V499.6M134.7 547.4H149.2M141.9 560.4V534.4M154.4 481.3H193.1M173.8 492.2V470.3M107.2 536.8H150.9M129 545.5V528M182.5 509.3H205.2M193.9 524.6V493.9M110.8 546.3H172.7M141.8 568.8V523.8M125.2 545.8H159.6M142.4 560.8V530.7M128.5 556H171.6M150 584.3V527.8M158.8 494.5H197.9M178.3 502.9V486.2M171.4 503.3H197.4M184.4 508.8V497.8M157.1 496.9H207.1M182.1 506.9V486.8M181.3 510.8H212M196.6 517.3V504.2M173.4 506.5H212.6M193 525.5V487.6M123.5 550H165.1M144.3 567.4V532.6M164.3 501.9H202.2M183.3 511.5V492.4M159.2 496.7H206.1M182.6 506.3V487.2M133.5 545.6H152.5M143 552V539.1M122.3 544.8H149.6M136 555.8V533.7M121 545.6H164.4M142.7 564.4V526.8M117.4 545.6H158.3M137.8 555.6V535.5M117.4 541.1H141.9M129.6 554.3V527.9M188 512.4H208.8M198.4 525.2V499.5M167 499.2H196.7M181.8 510V488.5" stroke="#faa38e" stroke-width="0.8" stroke-opacity="0.5" fill="none"/>
<path d="M122.7 552H156.1M139.4 556.9V547M174 501.4H215.2M194.6 506.7V496.1M90.2 537.8H150.2M120.2 545.3V530.3M178 493.9H196M187 504.3V483.5M191.5 511.1H226.5M209 518.4V503.8M131.2 549.3H147.3M139.2 565.7V533M174.2 497H196.6M185.4 503.1V490.9M130 553.6H157.6M143.8 562.3V544.9M127.1 546.2H147.7M137.4 554.5V537.8M127.4 549.1H151.8M139.6 559V539.2M166.8 498.3H215.1M191 529.1V467.4M181.2 504.2H216M198.6 517.4V491M173 495.9H200.8M186.9 500.7V491M123.7 546.9H151.3M137.5 566.4V527.5M169.1 502H213.4M191.2 506.8V497.2M111.8 549.6H156.4M134.1 563.2V536M169.9 501.3H214.8M192.3 509.6V493M164.7 494.8H202.5M183.6 504.7V484.9M172.6 505.3H215M193.8 516.3V494.2M176.7 497.3H202.2M189.5 507.6V487.1M177.4 503.7H205.8M191.6 519V488.3M153 489.3H211.1M182.1 499.5V479.1M122 543.5H141.5M131.8 555.6V531.4M172.8 496.3H200.4M186.6 510.7V482M172.2 502H209M190.6 520.2V483.7M177 507H219.9M198.5 514.5V499.6M166.4 494.1H197.4M181.9 512.1V476.1M174.9 499.6H208.4M191.6 513.6V485.7M131 557.1H158M144.5 562.7V551.6M172 497.3H199.5M185.7 507.3V487.4M175.8 502.1H202.7M189.2 512.3V492M179.5 500.1H205.2M192.3 511.7V488.5M140.7 565H155.7M148.2 579.4V550.6M177.6 497.9H196.5M187.1 505.1V490.7M167.7 493.1H202.7M185.2 500.6V485.5M167.4 490.2H200.2M183.8 497.7V482.7M175.7 506.1H216.1M195.9 523.4V488.9M176.3 501.4H198.8M187.5 513.1V489.7M175.3 499.9H203.9M189.6 513.9V486M178 506.1H213.5M195.8 515.7V496.5M116.6 542.8H133.7M125.1 553.2V532.4M165.7 502.7H214.4M190 517.4V488M170.8 496.9H198.4M184.6 511.8V481.9M125.2 544.5H144.9M135.1 552.8V536.1" stroke="#fa9e87" stroke-width="0.8" stroke-opacity="0.5" fill="none"/>
<path d="M138.1 519.8H188.8M163.4 525.5V514.2M147.6 525.4H180.1M163.8 531.5V519.3M152 521.6H174.8M163.4 534.7V508.4M136.5 526H190.8M163.7 533.3V518.8" stroke="#e4dafe" stroke-width="0.8" stroke-opacity="0.5" fill="none"/>
<path d="M153.5 526.1H175.7M164.6 538.4V513.8M151 532.8H176.4M163.7 539.8V525.8M140.3 524.6H168M154.2 534.2V515M148 511.2H178.8M163.4 528V494.5M149 524.3H171.8M160.4 536.7V511.8M146 527.7H181.6M163.8 539.3V516M142.1 518.9H184.7M163.4 525V512.9M148.4 523.3H177.9M163.2 543V503.6M116.5 520.9H210.2M163.3 537.2V504.6M151.9 533.8H175.3M163.6 548.3V519.4M145.6 526.1H182.3M164 535.6V516.6" stroke="#e1d5fd" stroke-width="0.8" stroke-opacity="0.5" fill="none"/>
<path d="M149 515.7H177.3M163.1 524.6V506.8M173.5 524.9H190.6M182.1 531.3V518.6M149.5 529.6H178.7M164.1 536.1V523.1M155.6 527.1H174.5M165 535.5V518.7M142.3 523.9H175.1M158.7 543.7V504.1M123.4 524.7H150.9M137.1 535.9V513.5M151 547.9H176.2M163.6 557.8V537.9M153.1 526.4H176.9M165 532.7V520M137.5 524.4H176.1M156.8 536.5V512.2M168.4 524.9H187.9M178.1 532.2V517.7M127.3 521.2H198.5M162.9 529.5V512.8M154.2 514.4H172.2M163.2 525.9V502.9M151.4 539.5H176.1M163.7 550V529.1M152.5 517.3H173.9M163.2 522.2V512.3M153.2 523.3H169.5M161.4 534.5V512.2M135.8 525H218.7M177.2 531.7V518.4M147.5 528.3H181.1M164.3 532.9V523.7" stroke="#ddd0fd" stroke-width="0.8" stroke-opacity="0.5" fill="none"/>
<path d="M137 536.3H191.2M164.1 546.9V525.7M187.7 525H212.2M200 534.9V515M146.2 532.5H182.8M164.5 552.6V512.3M140.2 507.9H186M163.1 534.5V481.3M145.5 528H185.5M165.5 545.6V510.3M142.4 523.9H167.7M155.1 542.7V505.2M157 529.1H172.7M164.9 544V514.2M138.4 524.2H156.5M147.5 531.5V516.9M155 526.2H182.4M168.7 540.4V512.1M139.1 523.3H174.4M156.7 538.2V508.5M146.9 522.9H171.9M159.4 530.1V515.7M131.5 530.1H199M165.3 539.7V520.5M144.3 540.8H183.6M164 555.7V525.9M156.2 532.2H173.2M164.7 546.3V518.1M145.3 524.2H163.5M154.4 535.8V512.7M154 527.8H175.8M164.9 536V519.7M140.5 530.3H189.6M165.1 538.9V521.8M147.5 530.8H182.2M164.8 553.8V507.8M111.3 524.5H155.2M133.2 537.6V511.3M138.2 524.3H156M147.1 531.5V517.2M145.8 528H184.2M165 532.5V523.6M141.3 523.1H177M159.2 538.7V507.5M163.2 525.6H184.2M173.7 538.7V512.5" stroke="#d9ccfd" stroke-width="0.8" stroke-opacity="0.5" fill="none"/>
<path d="M132.4 522.4H183M157.7 531.2V513.6M149.6 534.9H180.3M165 540.7V529.2M150 525.7H210.4M180.2 532.2V519.3M155 530.5H175.5M165.3 545.7V515.4M155.3 525.9H201.5M178.4 536.2V515.6M144.8 520.7H173.2M159 537.9V503.5M141.2 523.3H166.3M153.8 539.2V507.4M147 521.7H173.2M160.1 528.9V514.4M118 524.3H150.3M134.2 541.7V506.8M154 521.2H167M160.5 534.6V507.9M153.7 516.2H169M161.3 524.3V508.1M153.6 529.2H181.6M167.6 544.1V514.3M130.4 522.9H180M155.2 534.7V511.1M128 523.8H172M150 534.7V512.8M184.7 525.2H202.8M193.7 536V514.4M150.8 541.5H177.6M164.2 551.1V531.9M159.5 527.4H175.1M167.3 535.3V519.6M152.6 526.8H188.6M170.6 532.2V521.3M129.6 528.6H205.9M167.7 547.8V509.4M149.7 502.5H176.1M162.9 516.1V488.9M149.4 522H166.9M158.2 537.5V506.4M128.6 523.6H165.9M147.3 529.7V517.5M157.5 538.7H171.2M164.4 546.7V530.6M138.9 520.4H180.4M159.6 529.8V510.9M168.1 525.5H199M183.6 535.8V515.1M154 520.8H167.2M160.6 530.2V511.4M143.4 522.9H167.6M155.5 530.6V515.3" stroke="#d6c7fc" stroke-width="0.8" stroke-opacity="0.5" fill="none"/>
<path d="M151.6 512.6H170.6M161.1 518.4V506.8M157.2 529.7H182.7M170 539.3V520.2M147 509.7H175.9M161.4 523.7V495.8M153.9 547.3H175.4M164.7 559.2V535.4M129.5 523.2H163.2M146.4 536.4V509.9M152.3 528.3H191.6M171.9 539.1V517.5M134.5 518.3H182.3M158.4 528V508.7M128.3 522.3H177.4M152.9 539.8V504.8M137.5 542.4H193.2M165.3 548.5V536.3M148.1 535H183.3M165.7 558.5V511.5M138.5 522.9H165.7M152.1 539.1V506.8M125 520.8H189.2M157.1 534.5V507M172.4 525.7H197.3M184.9 542.2V509.3M173.3 525.9H187.8M180.6 540.3V511.5M137.9 528.4H204.9M171.4 537.8V519.1M154 517.3H166.9M160.5 525.7V509M134.4 529.4H203.9M169.1 538V520.8M150.3 515.6H171.7M161 566V465.2M136.1 523.4H154.5M145.3 529.1V517.6M124 526.6H227.7M175.9 545.1V508.2M133.2 519.7H182.8M158 530.2V509.2M157.8 527.5H192.1M174.9 535V520M135.2 521.4H177.4M156.3 530.9V511.9M136.9 518.6H180.2M158.6 529V508.2M142.2 527.8H200.8M171.5 534.5V521.1M150.4 512.3H171.9M161.1 519V505.6M133.8 522.8H168.4M151.1 532.5V513.1M182.2 525.5H199.3M190.8 532.5V518.4M161.8 526.7H185.6M173.7 537.2V516.1M144.2 516H175.6M159.9 523.8V508.2M168.5 526.2H189.4M179 533.3V519.1M151 517.1H167.4M159.2 524.7V509.4M145.4 528.7H192.2M168.8 535V522.4M152.6 528H190.7M171.6 536.1V520M127.9 521.9H183.9M155.9 546.4V497.5M153.1 531.5H182M167.5 539.2V523.9M141.2 533.9H190.6M165.9 545.9V521.8" stroke="#d2c2fc" stroke-width="0.8" stroke-opacity="0.5" fill="none"/>
<path d="M142.4 518.6H172.3M157.3 526.4V510.8M148.3 514H171.7M160 528.2V499.9M170.8 527.3H194.3M182.6 545.2V509.4M152.8 540.3H179.7M166.3 554V526.6M143.2 519.5H168.3M155.7 525.8V513.3M155.5 531.1H182.8M169.2 542V520.2M134.1 510.7H187.9M161 533V488.3M148.5 512.5H173M160.7 517V508M154.6 533.2H184.6M169.6 543.5V522.9M161.2 533.5H177.7M169.5 544.6V522.4M139.6 522.1H154.9M147.3 532V512.2M174 527.2H187.2M180.6 538.8V515.5M151.2 531.4H192.1M171.7 548.1V514.7M143.9 507.2H178.6M161.2 517.9V496.5M175.6 526.8H192.2M183.9 534.5V519.2M150.6 515H169.1M159.8 528.7V501.2M160.8 526.7H217M188.9 536.6V516.8M137.5 514.2H179.8M158.7 519.5V508.9M166 527.3H193.1M179.5 537V517.6M148.4 542.4H183.2M165.8 547.6V537.2M132.1 518.4H181.8M157 525.8V511.1M156.3 530.8H183.2M169.7 538.7V522.9M155.9 528.1H193.7M174.8 542.3V513.8M139.9 516.2H178.3M159.1 526.5V506M154.6 534.2H183.2M168.9 547.9V520.5M136.5 521.6H161.7M149.1 533.7V509.4M145.7 513.7H172.5M159.1 522.3V505M156.4 528.2H199.5M178 535.3V521.1M163.4 533.7H175.2M169.3 546.8V520.7M157.1 529.6H189M173 545.5V513.7M145 502.5H177.2M161.1 517.9V487.1M168.1 528H183.8M175.9 534.1V521.8M122.5 523.3H156.7M139.6 528.4V518.2M149.9 537.7H185M167.4 549.5V525.9M145.5 549.3H185.3M165.4 560.2V538.5M157 527.4H198.5M177.8 536V518.8M143.8 529.7H198.5M171.1 560.5V499M146.8 499.7H175.9M161.3 511.3V488M140.5 520.9H159.9M150.2 534.1V507.7M161.2 528.3H189.7M175.5 543.5V513.1M134.3 519.1H178.5M156.4 532.7V505.6M141.4 519.1H169.8M155.6 530.7V507.5" stroke="#cebdfc" stroke-width="0.8" stroke-opacity="0.5" fill="none"/>
<path d="M136 516.1H177.1M156.6 522.4V509.9M132.3 518.6H172.3M152.3 532.9V504.3M157 534.2H182.7M169.9 553.6V514.7M128.7 521.9H151.7M140.2 532.3V511.6M141.4 514.1H171.7M156.6 532.3V495.9M104.5 539H233.1M168.8 552.7V525.4M158.3 530.6H193.6M175.9 541V520.2M169.8 529.3H194.5M182.1 538.2V520.4M127.8 519.5H167.2M147.5 547V492.1M135.8 519.7H163.2M149.5 525.1V514.3M174.8 527.2H201.3M188.1 538.4V516M119.3 517.6H186.7M153 529.9V505.3M152.1 533.4H190.8M171.4 542.4V524.4M144.7 516H165.2M155 522.4V509.6M138.8 514.1H173.7M156.3 519.7V508.6M142.5 500.6H178.5M160.5 510.1V491.2M135.6 513.3H177.2M156.4 526.2V500.5M137.3 521.1H153.3M145.3 534.7V507.5M159.4 528.3H209.5M184.4 548.7V507.9M141.7 551H191.5M166.6 558.5V543.4M120 545.7H213M166.5 571.2V520.1M137.8 518.4H170.8M154.3 525.9V510.9M157.5 536.6H181.9M169.7 549.3V523.9M142.9 515.2H167.8M155.3 525.1V505.3M127.6 521H156.2M141.9 537.9V504.2M145.7 532.5H197.3M171.5 539.2V525.7M142.6 510.6H176.7M159.6 527.4V493.8M144.8 507.3H174.7M159.7 518.6V496M163 529.8H194M178.5 540.8V518.9M156.6 529.6H196.2M176.4 539.8V519.4M146.2 503.8H173M159.6 519.4V488.2M141.8 512.4H175.1M158.5 529.9V494.8M141.5 510H175M158.2 518.9V501.2M133 520.4H161.9M147.4 526.1V514.7M155.5 530.3H193.2M174.4 549.2V511.4M146.2 512.7H169.3M157.8 540.1V485.4M147.8 504.5H172.1M160 509.8V499.2M155.7 533.5H184.9M170.3 544.3V522.7M168.2 528.8H191.2M179.7 533.5V524.2M167.7 528.2H193.6M180.7 536.2V520.2M156.3 531H188.1M172.2 540.5V521.5M141.4 512.2H175.6M158.5 546.5V477.9M140.9 503.6H179.3M160.1 515.5V491.6" stroke="#cab8fc" stroke-width="0.8" stroke-opacity="0.5" fill="none"/>
<path d="M134.7 517.8H166.4M150.6 526.8V508.8M174.3 529.1H200.4M187.3 539V519.1M156 546.9H179M167.5 552.8V540.9M149.3 537.2H194.6M171.9 543.7V530.6M174.1 529.7H196.8M185.4 537.2V522.3M162.4 531.4H194.6M178.5 541.7V521M131.4 517.8H164.1M147.8 524.3V511.4M154.3 536.9H187.5M170.9 554.9V518.9M144 529.7H219.3M181.6 541.6V517.8M157.3 541.7H180.7M169 551.2V532.1M135.3 511.7H177.6M156.4 516.7V506.7M147.1 499.6H172.6M159.8 516.5V482.7M169.1 530.6H189.1M179.1 537.9V523.2M139.3 507.4H177.3M158.3 515.3V499.6M148 535.4H196.5M172.3 545.6V525.3M149.3 509.2H162.6M156 522.9V495.5M171.9 529.4H206.9M189.4 537.4V521.4M142.6 506.6H174.9M158.8 532.3V480.8M167.7 531.9H192.6M180.2 540.8V523M141.6 504.9H172.8M157.2 519.7V490.2M161.6 533.1H190.3M176 539.7V526.4M141.2 547H196.7M169 564.2V529.8M135.4 518.5H163M149.2 530.6V506.4M133.6 516H166.6M150.1 535.8V496.3M171.8 530H192.5M182.2 533.9V526.1M166.2 530.3H195.7M180.9 540V520.6M158.1 539.3H182.4M170.3 552.4V526.3M141.3 513.4H166M153.7 519.3V507.6M135.1 516.3H166.4M150.7 537V495.7M137.9 518.9H154.1M146 529.3V508.5M139.9 517H156.1M148 527.1V506.8M148.6 530.6H212.7M180.7 539.4V521.7M163.9 534.1H185.3M174.6 541.4V526.8M161.2 541.5H177.6M169.4 554.8V528.2M161.9 532.1H188.5M175.2 539.4V524.7M121.1 521.3H140.5M130.8 528.8V513.7M141.7 510.7H168.1M154.9 521.8V499.5M153.8 505.3H161.4M157.6 520.3V490.3" stroke="#c6b3fc" stroke-width="0.8" stroke-opacity="0.5" fill="none"/>
<path d="M178.8 495.6H210.1M194.4 507.6V483.5M178.6 498.7H210.3M194.5 509.4V487.9M173.5 486.8H197.5M185.5 491.2V482.5M167.5 491.4H209M188.3 498.9V483.9M173.7 496.1H210.7M192.2 501.4V490.8M182.6 503H225.8M204.2 521V485M159.3 479.4H200.1M179.7 513.3V445.4M173.6 481.9H197.5M185.5 498V465.9M185.8 500.2H202.1M193.9 510.1V490.2M167.3 498.7H222.2M194.8 510.2V487.1M170.5 489.3H199.5M185 499.7V478.9M183.3 493.2H202.6M193 499.2V487.1M123.6 555.8H146.6M135.1 564.5V547.2M134 560.9H152.4M143.2 571.2V550.5M184.1 493.8H193.4M188.8 509.2V478.4M169.5 489.3H210.4M190 503.5V475.1M180.8 494.2H197.1M189 527.1V461.3M157.1 479.7H202.8M180 488.7V470.7M196.4 506.1H208.9M202.7 510.8V501.3M169.8 491.6H202.2M186 500.2V482.9M174.9 484.5H192.3M183.6 497.5V471.5M173.3 488H200.1M186.7 500V476M106 542.1H135.5M120.8 566.1V518.1M184.8 500.1H206M195.4 503.1V497.2M105 553.4H159.8M132.4 559.8V547M119.8 554.1H151.4M135.6 567.4V540.8M155.9 488.1H213.3M184.6 504V472.2M172.4 487.8H197.7M185 513.7V461.8M159.8 488.4H210M184.9 495.3V481.4M171.6 486.7H197.4M184.5 505V468.4M100 544.8H149.2M124.6 556.1V533.5M172.1 488.2H198.8M185.5 501.1V475.4M167.4 497.5H218.4M192.9 503.3V491.7M162 490.3H211.8M186.9 504.6V475.9M187.6 498.2H199.4M193.5 509.4V486.9M179.7 492.8H203M191.4 505.2V480.3M186.8 500.1H204.9M195.8 511.5V488.7M180.4 494.4H197.4M188.9 503.2V485.6M178.5 497.8H206.1M192.3 507.8V487.8M172.5 496.2H217.3M194.9 500.3V492.1M115.4 560.6H161.3M138.3 577.2V543.9" stroke="#fa9880" stroke-width="0.8" stroke-opacity="0.5" fill="none"/>
<path d="M137.8 514.4H158.3M148 520.2V508.5M164.3 533.2H201.2M182.7 544.4V522M164.2 541.2H183.4M173.8 550V532.4M132.3 508.4H178.9M155.6 518.8V498.1M155.8 560.5H179.6M167.7 570.4V550.5M128.8 517.6H157.5M143.2 522.2V513.1M159.7 544.7H182.3M171 552.8V536.7M146.1 509H162.8M154.5 533.5V484.6M164.7 532.6H195.1M179.9 541.3V523.9M157.8 536.7H196.1M177 542.8V530.6M132.4 511.4H168.3M150.4 524.1V498.8M154.4 538.5H197.9M176.1 545.7V531.3M157.8 540.2H187.8M172.8 569.9V510.6M160.5 540.7H185.7M173.1 549.5V531.9M163.1 534.7H191.2M177.2 555.1V514.4M159.7 539.3H191.9M175.8 545.7V532.8M120.3 504.9H193M156.7 525.6V484.2M150.1 505.3H162.7M156.4 525.1V485.6M153.5 487.6H165.8M159.7 508.2V467M172.7 533.6H184.8M178.7 543.6V523.7M120.8 514.6H175.4M148.1 519.6V509.6M126.1 506.3H186.5M156.3 522.5V490.1M143.1 504H167.7M155.4 518.6V489.3M150 547H192.6M171.3 558.8V535.2M138 516.1H155.3M146.7 523.5V508.7" stroke="#c3aefb" stroke-width="0.8" stroke-opacity="0.5" fill="none"/>
<path d="M142.2 552.5H198.9M170.6 560.6V544.3M151 535.4H220.9M185.9 550.1V520.6M160 539.1H197.8M178.9 547.3V530.8M117.3 515.4H159M138.1 523.9V506.9M132.8 515.5H142.4M137.6 531.8V499.2M177.5 531.4H213.1M195.3 551.8V511M127.8 511.2H164.2M146 519.2V503.2M157.9 536.1H201.4M179.6 543V529.3M148.5 500.4H158.9M153.7 513.8V486.9M115.1 504.5H191.4M153.2 516V493M154.1 544.8H192.6M173.4 550V539.5M177.8 535H197.7M187.8 541.2V528.8M171.1 532.5H212.1M191.6 541.4V523.5M127.6 504.8H175.8M151.7 531.5V478.1M162.5 546.5H181.6M172.1 557.2V535.8M174.3 533.8H199M186.7 542.4V525.2M140.5 493.1H170.8M155.7 502.1V484.2M165.6 536.5H194.4M180 546.4V526.6M166.4 533.6H209.1M187.8 543.8V523.4M132.4 511.5H157.1M144.7 516.2V506.8M133.6 512.7H153.7M143.6 520.5V504.9M112 516H159.4M135.7 523.8V508.1" stroke="#bfaafb" stroke-width="0.8" stroke-opacity="0.5" fill="none"/>
<path d="M124.1 513.9H155.5M139.8 536.8V491M151.5 535.1H229.8M190.6 552.6V517.6M172.8 539.9H198.9M185.8 554.7V525M172.1 535.5H204.6M188.4 544.8V526.3M156.7 540H213.1M184.9 549V531M140.3 501.4H161.2M150.8 510.5V492.3M171.3 538.8H196.5M183.9 547.9V529.8M151.4 540.9H209.4M180.4 556V525.7M136.6 505.6H161.6M149.1 523.3V488M165.9 538.5H202.4M184.2 547.8V529.2M145.3 484.7H168.7M157 501.9V467.5M184.5 533.4H205.7M195.1 555.6V511.2M134.4 490.9H177.3M155.9 501.8V480M166.4 540.9H196.5M181.5 567.7V514.1M134.7 505H157.4M146.1 521.4V488.6M172.2 540H191.3M181.7 550V529.9M162.3 539.6H199.6M180.9 552.5V526.7M126.6 504.9H173.3M149.9 524.5V485.3" stroke="#bba5fb" stroke-width="0.8" stroke-opacity="0.5" fill="none"/>
<path d="M118.1 553.4H137.3M127.7 564.7V542.1M167.3 483.3H210M188.6 498V468.6M206.4 507.5H231.3M218.9 514.9V500.1M160 481.8H218.1M189.1 492.3V471.3M102 548.7H129.5M115.8 559.8V537.6M195.6 499.4H221.1M208.3 506.3V492.4M105.7 548.4H137.8M121.8 561V535.8M184.2 499.5H220M202.1 510.2V488.9M117 552.1H127.3M122.1 562.3V541.8M185.6 492.8H213.1M199.4 501V484.7M114.4 552.4H138.7M126.6 572.7V532.2M109.9 560.6H150.9M130.4 572.3V548.9M181.6 492.7H217.8M199.7 523V462.4M181 489.8H203.9M192.5 499.5V480.1M103.8 547.7H137.1M120.5 557.9V537.5M116.9 553.7H142.4M129.6 565.4V542M164.2 479.7H206.6M185.4 490.2V469.3M185 491.7H208.4M196.7 499V484.5M174.4 486.9H210.3M192.4 496V477.8M177.8 482.6H201.7M189.7 492.6V472.7M182.2 487.5H197.4M189.8 492.6V482.5M173.8 487.9H209.1M191.4 493.2V482.6M183.7 491.2H214.2M199 501.2V481.3M115.6 553.3H132.1M123.9 573.5V533.2M187.9 498.7H212.7M200.3 511.6V485.7M181.7 491.3H203.5M192.6 501.2V481.3M175 489.2H213.3M194.1 508V470.4M92.6 553.6H162.5M127.5 567V540.2M178 490.2H214.7M196.3 513.3V467.1M117.9 554.3H138.1M128 564V544.7" stroke="#fa9279" stroke-width="0.8" stroke-opacity="0.5" fill="none"/>
<path d="M159.3 544.8H204.5M181.9 547.8V541.9M182.8 536.9H203.2M193 552.3V521.6M180.9 540.2H205.6M193.2 547.9V532.5M165.4 554.5H190.6M178 564.6V544.3M173.1 537.4H211.1M192.1 559V515.8M153.9 551.8H199.9M176.9 560.1V543.6M94.7 514.8H161.4M128.1 528.5V501.2M170 544.9H198.2M184.1 557.4V532.3M181.2 539H205.4M193.3 550.8V527.2M174.7 539.5H201.1M187.9 553.2V525.9M126.1 505.8H156.2M141.2 517.5V494.2M116.4 511.5H143.9M130.2 524.1V498.9M121.1 508.8H153.6M137.3 515.6V502.1" stroke="#b8a0fa" stroke-width="0.8" stroke-opacity="0.5" fill="none"/>
<path d="M135.7 495.6H158M146.8 503.6V487.6M132.7 491.3H160.9M146.6 504.7V478M123.4 500.6H157.6M140.5 529.2V471.9" stroke="#b49bfa" stroke-width="0.8" stroke-opacity="0.5" fill="none"/>
<path d="M185.8 484.8H203.4M194.6 491.2V478.4M178.7 488.9H231.4M205 497.5V480.3M171.9 483.4H222.5M197.2 489.2V477.7M182.2 494.5H226.6M204.4 505.1V483.8M180 485.6H209.7M194.8 490.7V480.6M94.9 553.7H146.9M120.9 565.5V542M198.4 495.2H230.3M214.3 509.1V481.3M172.3 468.4H201.8M187.1 481.6V455.3M105.9 551.4H117.9M111.9 558.4V544.3M115.2 562.5H139.5M127.4 565.9V559.2M174.9 472H206M190.5 485.7V458.4M175.1 489.9H232.6M203.8 507.1V472.6M179.1 490.1H230.1M204.6 500.8V479.5M180.9 489.5H217.1M199 498.8V480.2M118.6 564.7H134.9M126.7 573.5V555.8M118.4 565H137.8M128.1 573.4V556.6M177.5 488.6H228.1M202.8 496.2V481M193.2 487.8H214.9M204 497V478.6M173.2 468.8H205.3M189.2 475.5V462M176.3 482H219.9M198.1 497.6V466.5M204.8 499.8H219.2M212 515.3V484.2M178.4 475.9H202.2M190.3 488.8V462.9M180.2 481.4H208.7M194.5 491.5V471.3M198.2 493H212.6M205.4 508.1V477.9M196.3 497.4H225.7M211 505.1V489.6M98.1 552.3H120.4M109.2 561.3V543.3M105.8 553.2H131.3M118.6 565.9V540.6M98.8 563.1H153.6M126.2 574.7V551.5" stroke="#fa8d72" stroke-width="0.8" stroke-opacity="0.5" fill="none"/>
<path d="M184.1 476.5H212.5M198.3 492.6V460.4M87.2 555.7H134.6M110.9 564.2V547.2M187.1 482.1H211M199 489V475.1M201.2 482.5H213.5M207.3 488.6V476.4M178.5 474.4H209.8M194.1 496.9V451.9M199.1 484.9H218.9M209 490.5V479.3M185 483.4H217.8M201.4 500V466.9M194 493.2H228.7M211.4 499.5V486.9M178.3 473.4H219.6M199 486.4V460.3M179.2 474.6H214.4M196.8 489.2V459.9M170.6 473H219.2M194.9 479.4V466.6M174.2 476.7H217.2M195.7 489.3V464.1M102.1 553.9H120.8M111.4 569.6V538.3M194.7 485.2H214.3M204.5 499.3V471M187.7 483.6H212.7M200.2 487.9V479.3M88.6 565.4H154.9M121.7 573V557.9M189 490.3H242.6M215.8 511.5V469.2M179.5 480H217.9M198.7 487.7V472.2M186.6 484.8H229.6M208.1 492.3V477.3M180.6 482.3H227.5M204 492.2V472.4M176.5 481.6H226.1M201.3 493.6V469.5M190.9 484.2H215.7M203.3 493V475.3M179.7 472.4H209.7M194.7 483V461.7M181.1 475.3H212.9M197 491.8V458.7M109.4 560.6H133.4M121.4 570.4V550.7M188.7 474.3H206.2M197.5 486.2V462.4M186.8 486.2H222.5M204.7 508.5V463.9M202.5 485.3H216.4M209.4 500.5V470M182.6 476.4H208.9M195.7 487.9V464.8M200.6 494.4H226.7M213.7 510.6V478.3M162.5 479.2H240.8M201.6 496.7V461.8" stroke="#f9876c" stroke-width="0.8" stroke-opacity="0.5" fill="none"/>
<path d="M203.5 485.8H222.3M212.9 507.7V463.9M192.4 479.4H231.5M212 498.9V459.9M189.5 477.7H233.4M211.5 483.2V472.3M191.3 471.8H220.1M205.7 476.2V467.3M195.4 475.9H218.7M207 484.3V467.5M171.5 473.8H233.3M202.4 483.4V464.1M198.9 482.2H221.7M210.3 491V473.4M187.9 474.5H221.3M204.6 486.9V462.2M189.3 479.1H220.6M204.9 486.2V471.9M195.6 479.3H223.2M209.4 501.7V456.9M194.6 484.2H229.9M212.2 491.3V477M172.5 473.9H231M201.8 477.7V470.1M190.4 470.3H210.1M200.2 483.5V457M196.1 478.6H223.3M209.7 488.8V468.4M186 470.8H213.3M199.7 481.3V460.4M184.1 460.6H204M194 469.9V451.2M101.6 569.1H123.9M112.8 580.2V558.1M94.9 565H124.9M109.9 582.3V547.7M193.1 474H211.2M202.2 481.9V466.1M186.1 472.4H215.4M200.8 484.2V460.6" stroke="#f98265" stroke-width="0.8" stroke-opacity="0.5" fill="none"/>
<path d="M206.1 476.9H239.9M223 489V464.8M201.8 483.6H238.8M220.3 489.5V477.7M195.2 459.4H220.9M208 472V446.7M198.7 477.4H227.4M213.1 492.8V461.9M201 480.5H230.1M215.5 487.4V473.6M193.6 466.5H223.5M208.5 477.5V455.5M183 455.3H224.4M203.7 467.5V443M195.5 469.3H217.6M206.6 486.3V452.2M206.5 475.3H221.9M214.2 484.5V466.1M211.2 474.2H234.7M223 488.8V459.7M193 458.5H212.4M202.7 478.8V438.2M193.9 466.9H216.5M205.2 489V444.8M193.5 476.9H241.2M217.4 484.7V469M167.1 457.9H244.9M206 471.2V444.5M196.1 473.7H223M209.5 487.1V460.3M210.7 477.7H239.4M225 482V473.5M189.9 469.2H222.5M206.2 482.5V455.9M208.5 478.7H247.2M227.9 484.5V472.8M195.4 464.5H213.4M204.4 482.6V446.3M190.6 465H217.7M204.2 488.7V441.4M218.1 491.7H250M234.1 506.3V477.2M185.8 473H238.1M211.9 484.7V461.3M83.5 578H154.2M118.9 583.5V572.4M191.7 463.8H210.7M201.2 472.3V455.3M194.4 462.4H208.4M201.4 470.3V454.4M207.9 480.1H232.7M220.3 489.9V470.3M196.8 474.9H252.7M224.7 487.6V462.2M197.7 471.3H223.1M210.4 507.7V434.9M205.5 468.1H224.7M215.1 477V459.1M190.4 463.7H236.8M213.6 472.4V455M190.6 462.6H233.7M212.2 476.5V448.8M192.6 455.6H218.2M205.4 478.4V432.7M164 470.1H250.3M207.1 485.3V454.8M185.5 470.1H236.6M211.1 478.3V461.8M183.9 458.9H225.4M204.6 470.4V447.5M195.3 458.9H217.3M206.3 472.4V445.4M207.9 475.3H234.9M221.4 482.6V468.1" stroke="#f97c5e" stroke-width="0.8" stroke-opacity="0.5" fill="none"/>
<path d="M212.6 468.6H239.9M226.3 474.3V462.8M193.7 450.4H232.1M212.9 459.5V441.2M200.5 457.1H228M214.3 464.3V450M208.7 461.9H249M228.8 475.5V448.4M194.8 460.8H242.5M218.6 481.7V440M229.1 476.2H247.7M238.4 485.9V466.5M219.1 474.1H245.2M232.1 479.8V468.4M230 479.3H262M245.7 494V464M212.9 451.8H229.5M221.2 459.1V444.4M187.4 464.7H258.2M222.8 477.2V452.2M199.9 454.8H223.4M211.6 468.9V440.7M199 460.5H233.9M216.4 471V450M189.7 449.8H241.1M215.4 454.4V445.2M202.5 458.4H230.1M216.3 469.1V447.6M199.9 471H252.4M226.2 483.3V458.7M210 468.8H229M219.5 475.6V461.9M200.7 459.3H224.5M212.6 463.3V455.3M180.5 443.8H229.7M205.1 451.5V436M185.4 449.7H224.1M204.8 459.7V439.8M199.4 455H225M212.2 475.1V434.9M203.4 466.2H242.9M223.1 476.7V455.7M199.6 466H233.8M216.7 477.3V454.8M188 447.1H224M205.8 462V432M201.3 467.2H241.7M221.5 481V453.3M208.1 466.3H252.3M230.2 483.2V449.4M83.3 574.4H115M99.2 587.3V561.4M76.7 581.4H134.2M105.5 594.8V568" stroke="#f67559" stroke-width="0.8" stroke-opacity="0.5" fill="none"/>
<path d="M191.8 443.4H257.3M224.5 450.1V436.7M216.8 459.4H240.8M228.8 466.4V452.4M218.4 447.7H246.9M232.6 472.7V422.7M201.9 449H252.4M227.2 455.5V442.5M210.7 451.2H245.7M228.2 460.5V441.9M238.6 463.4H261.5M250.1 481.8V444.9M202.5 457.8H251.6M227.1 465.4V450.2M215.6 459.7H246.1M230.8 471.4V448M223.4 451.6H237.4M230.4 462.7V440.4M226 466.8H262M243.9 482V452M223.4 456.2H241.2M232.3 473.6V438.8M212.9 457.1H255.4M234.1 468V446.2M47.5 588.6H141.3M94.4 593.9V583.2" stroke="#f46e53" stroke-width="0.8" stroke-opacity="0.5" fill="none"/>
<path d="M224.7 447.2H250.6M237.6 462.9V431.5M210 434.4H245M227.7 450V420" stroke="#f1664e" stroke-width="0.8" stroke-opacity="0.5" fill="none"/>
<path d="M240 445.5H285M256.6 460V432" stroke="#ee5f48" stroke-width="0.8" stroke-opacity="0.5" fill="none"/>
<path d="M232 431.8H262M246 445V418" stroke="#ec5843" stroke-width="0.8" stroke-opacity="0.5" fill="none"/>
<path d="M237.6 413.8H271.1M254.7 428.9V398.7" stroke="#e64a38" stroke-width="0.8" stroke-opacity="0.5" fill="none"/>
<path d="M260.2 410.8H311.9M285.9 430.6V392M276.2 396.5H314.8M296 413.8V379.4" stroke="#de3428" stroke-width="0.8" stroke-opacity="0.5" fill="none"/>
<path d="M163.3 525.2h0M166.9 524.7h0M163.5 533h0" stroke="#fde6df" stroke-width="3.4" stroke-linecap="round" stroke-opacity="1.0" fill="none"/>
<path d="M161 524.9h0M167.4 524.7h0M163.5 516.7h0M163.4 531.3h0M163.6 516.6h0M163.5 537.9h0M162.8 525.3h0M163.5 516.6h0M163.2 526.2h0M164.6 524.4h0M163.1 526h0M163.7 523.7h0M163.7 522.2h0M159.8 524.8h0" stroke="#fde1d8" stroke-width="3.4" stroke-linecap="round" stroke-opacity="1.0" fill="none"/>
<path d="M162.7 526.5h0M163.8 515.1h0M165.2 523.5h0M163.7 518.1h0M163.3 536.3h0M163.2 527.3h0M165.5 524.3h0M177.9 524.6h0M163.8 517.8h0M157.3 525h0M193.4 524.7h0M168.4 524.6h0M159 525h0M157.1 525h0M171.1 524.4h0M163.1 529.4h0M163.1 527.9h0M163.8 516.9h0M163.8 515.5h0M158.5 525.1h0M173.4 524.6h0M164.6 522.9h0M163.5 500.5h0M177 524.6h0M183.9 524.6h0M165.1 523.1h0M162.3 527.2h0M161.6 525.3h0M163.3 529.3h0M168.9 524.5h0M163.3 531.8h0M163.6 516.7h0M162.1 525.7h0M163.3 529.9h0M163.2 528.9h0M163.3 536h0M164.1 521.1h0M163.1 528.3h0M158.9 525.2h0M161.6 526.3h0M152.8 524.9h0M168.2 524.6h0M143.6 524.9h0M164.2 521.5h0M163.2 528.1h0M141.2 524.9h0M161.6 525.6h0M164.1 521.5h0M163 529.4h0" stroke="#fcdbd2" stroke-width="3.4" stroke-linecap="round" stroke-opacity="1.0" fill="none"/>
<path d="M161.7 526.7h0M171.1 523.8h0M164.1 513.5h0M158.9 526.4h0M151.4 525.1h0M178.8 524.2h0M164.2 513.6h0M161.6 527.5h0M144 525.1h0M187 524.5h0M156.8 525.8h0M175.2 524.4h0M164 513.1h0M160.5 526.6h0M161.5 528.5h0M163.9 507.4h0M161 526.7h0M168.6 523.3h0M162.7 530.2h0M162.9 535.4h0M149 525.2h0M152.2 525.1h0M166.6 523.2h0M156.8 525.7h0M165.1 520.5h0M154.7 525.5h0M167.8 523.1h0M167.5 523.4h0M164.3 515.3h0M160.5 526.1h0M189.8 524.5h0M161.6 526.6h0M166.3 523.6h0M164 510h0M163.9 514.7h0M166.1 523.4h0M163.3 553.3h0M153.1 525.3h0M168.5 523.7h0M175.4 524.4h0M147.3 525.1h0M165.2 520.9h0M159 525.5h0M166.8 522.6h0M169.9 523.8h0M183.1 524.3h0M162.3 530.5h0M164.3 519.6h0M172.8 524.4h0M164 517.7h0M168.5 523.6h0M165.1 521.5h0M164.5 519.2h0M164.4 516.4h0M165.3 520.5h0M165.4 521h0M164.2 514.5h0M164.9 520.6h0M175 524.3h0M177.5 524.5h0M167.4 523.6h0M159.2 526.3h0M164.1 515.4h0M163.1 534.4h0M159.3 526.6h0M166.9 523.1h0M178.6 524.4h0M168.9 523.5h0M155.5 525.5h0M162.1 528.2h0M179.9 524.5h0M143.4 525.1h0M162.3 530.1h0M164.5 518.6h0M147.2 525.2h0M163.7 504.5h0M166 523.4h0M171.3 523.7h0M169.7 523.8h0M162.8 534.2h0M159 525.5h0M164.4 517.8h0M160.9 526.9h0M164.2 517.6h0M168.4 523.4h0M173.2 524.1h0M164.2 514.6h0M163 538.5h0M163.1 538h0M165.6 522.7h0" stroke="#fcd6cb" stroke-width="3.4" stroke-linecap="round" stroke-opacity="1.0" fill="none"/>
<path d="M162.9 547h0M171.7 523.4h0M160.8 531h0M172.8 523.7h0M167.1 520.4h0M167 520.6h0M161.7 529.9h0M164.2 509.4h0M161.3 532.6h0M153.2 526.1h0M166.6 521.1h0M154.8 526.7h0M166.7 522h0M151.6 525.6h0M161.2 528.8h0M167.6 521.7h0M166.3 521.7h0M164.6 514.9h0M162.7 534.9h0M156.7 527.2h0M160.9 529.6h0M164.2 511.4h0M165.7 520.3h0M160.2 529.5h0M160.5 528.3h0M163.1 553.8h0M149.8 525.9h0M160.9 530.9h0M165.3 515.6h0M160.5 529.1h0M165.5 518.2h0M162.9 546.6h0M158.7 527.5h0M154.6 525.8h0M164 503.2h0M158.3 527.9h0M158.9 527.1h0M164.4 506.6h0M169.8 523h0M176.1 523.9h0M162.1 533.3h0M162.1 530.8h0M160.2 528.3h0M156.5 526.2h0M157.1 526.7h0M166.9 520.3h0M160.8 528h0M179.5 523.7h0M160.4 528.4h0M162.1 534h0M168.2 521h0M160.1 529.2h0M162.8 537.8h0M168.6 522.5h0M153.3 526.3h0M185.1 524.4h0M162.2 532.6h0M164.3 513.2h0M164.9 517.4h0M147.7 525.5h0M161.9 530.2h0M162.5 534.8h0M152.4 525.5h0M164.1 503.3h0M165.3 519.2h0M164.8 516h0M157.2 527h0M161.4 529h0M161.8 533.4h0M155.4 526.8h0M167.8 521.7h0M158 527.6h0M160.6 529.1h0M164 505.5h0M161.7 532.5h0M162.9 541.5h0M160.3 529.6h0M159.6 527.3h0M165.1 516.8h0M169 522h0M171 523.7h0M160.1 528.5h0M167 521.9h0M159.7 527.2h0M157.7 526.5h0M151.6 526.1h0M161.2 530.6h0M168.3 522.6h0M174.3 523.8h0M162.4 536.3h0M158.9 526.9h0M166.4 520.9h0M154.3 526.1h0M165.9 519h0M149.2 525.4h0M172.5 523.6h0M167.3 521.8h0M161.6 533.2h0M173.8 523.7h0M171.4 523.4h0M164.5 512.6h0M161.3 530.1h0M165.3 519.3h0" stroke="#fcd0c4" stroke-width="3.4" stroke-linecap="round" stroke-opacity="1.0" fill="none"/>
<path d="M164.8 508.5h0M165.3 512.8h0M168.5 520.2h0M177.7 522.8h0M172.4 521.8h0M158.8 528.6h0M149.6 526.5h0M164.9 505h0M173.5 522.1h0M160.5 533.9h0M151.7 526.6h0M172.6 522.1h0M157.3 529.7h0M148.5 527h0M165.7 514.5h0M170.7 521.1h0M170.7 521.7h0M161.8 544h0M169.3 519.8h0M149.7 526.3h0M158.5 529.5h0M164.5 505.4h0M155.9 527.9h0M154.7 526.9h0M156.2 528.8h0M157.3 527.9h0M170.4 521.6h0M146.7 526.1h0M181.1 523h0M153.1 527.2h0M185.9 523.3h0M169.3 520.4h0M161 534.5h0M156.3 528.5h0M159.7 531.3h0M144.1 526.4h0M155.1 527.6h0M158.2 530.2h0M171.2 521.4h0M188 524h0M188.7 523.7h0M165 509.5h0M172.7 522.1h0M157.9 528.8h0M156.9 527.9h0M179.6 523.3h0M160.1 530.7h0M159.3 529.5h0M182.2 523.1h0M161.3 535.7h0M166.4 515.2h0M151 527.3h0M175.5 522.1h0M160.2 534.7h0M160.6 535.6h0M164.2 496.4h0M169.5 520h0M158.1 530.4h0M175.3 522.8h0M161.9 541.5h0M160.7 533.3h0M167.9 517.7h0M167.2 516.7h0M168.6 520.5h0M166.6 518.2h0M160.3 531.6h0M157 529.5h0M157 528.9h0M179.4 523.2h0M156 527.1h0M152 527h0M153.4 527.8h0M149.9 527.1h0M166 514.2h0M170.5 520.1h0M165.1 510.1h0M167.3 519.7h0M164.6 501.1h0M157 528.8h0M154.7 527.9h0M165.2 513.1h0M171.5 522h0M165.7 516.8h0M166.9 517.8h0M164.8 504.3h0M151.8 527.2h0M178.7 523.3h0M151.3 527.1h0M161.5 534h0M140.4 526.2h0M158.6 529.2h0M166.8 516.4h0M169.8 519.5h0M159.9 532.9h0M166.7 519h0M179 523.2h0M146.1 526.4h0M153.6 527h0M166.4 518.5h0M166.9 517.3h0M158.6 529h0M184.8 523.2h0M155.2 527h0M162 538.2h0M172 521.7h0M177.2 523.4h0M157.6 528h0M149.2 526.5h0M160.6 532.6h0M168.1 519.4h0M171.8 522.5h0M169 521.1h0M166.4 513.4h0M166.5 514.3h0M160.5 530.8h0M164.6 502.7h0M174.7 522.4h0M171.2 520.6h0M166.1 516.3h0M155.8 527.6h0M158.5 528.6h0M148.8 526h0M165.1 508.2h0M156.9 527.8h0M165.5 512.6h0M162.3 542.4h0M164.6 503.5h0M162.3 548.7h0M159 531.8h0M196.8 523.9h0M160.8 535.9h0M190.8 523.9h0M161.2 536.7h0" stroke="#fccabd" stroke-width="3.4" stroke-linecap="round" stroke-opacity="1.0" fill="none"/>
<path d="M170.4 518.1h0M155.6 530.8h0M166.6 513.1h0M153.8 529.4h0M170.8 517.2h0M157.7 533.7h0M167.7 514.3h0M216.8 523.8h0M150.8 528.5h0M158.9 535.5h0M160.6 538.2h0M168 516.4h0M166.4 511h0M160.1 535.6h0M168.6 516.6h0M158 531h0M156.8 529.8h0M152.6 528.5h0M182.6 522.5h0M172.3 520.5h0M155.4 529.7h0M167.4 513.4h0M152.8 529.4h0M179 521.5h0M168.3 516h0M160 535.3h0M169.4 516.9h0M165 497.6h0M153.9 530h0M154 530.8h0M172.4 519.1h0M167.7 511.4h0M160.1 540.3h0M189.1 523.4h0M159.2 537.4h0M169 514.3h0M161.2 541.4h0M165.3 505.4h0M171.4 520h0M156.9 530.4h0M186.3 523.2h0M147.9 527.9h0M166.7 513.6h0M160 537.7h0M141.8 527.4h0M156.9 532.4h0M156.2 532.1h0M172.2 518.6h0M153.9 528.8h0M166.4 511.4h0M169.4 518.1h0M202.3 523.4h0M167.1 511.3h0M169 516.6h0M169.7 518.9h0M158.8 534.5h0M168.7 515.4h0M174.5 521.2h0M158.6 534.1h0M159.8 538.4h0M167.2 512.4h0M178.9 521.6h0M170.8 518.6h0M155.8 532.2h0M167.1 514h0M154 529.9h0M165 496.8h0M152.2 529.6h0M159.6 538.3h0M171 517.8h0M158.4 532.7h0M150.2 528.3h0M170.7 518.5h0M167.6 511.5h0M158.5 535.2h0M156.5 532.2h0M161.7 547.3h0M166.6 510.3h0M165.4 497h0M136.3 526.7h0M151.8 529.2h0M168.6 517.1h0M161.9 547.5h0M176.3 522h0M177.9 522h0M153.8 530.3h0M156.3 529.8h0M160.1 540.4h0M127.3 526.1h0M151.9 528.6h0M157.2 531.1h0M175.2 520.6h0M188.3 522.6h0M171.4 517.5h0M148.5 528.4h0M142.5 526.7h0M147.6 527.7h0M151.4 529.5h0M185.3 522.4h0M170.5 516.5h0M165.4 506.7h0M158.3 532.9h0M178.2 521.3h0M174.3 519.6h0M184.2 522.3h0M179.3 522.1h0M167.2 510.3h0M169.1 514.7h0M165.9 509.8h0M144.2 526.9h0M170.8 517.4h0M148.7 528.1h0M157.5 532.8h0M166.3 510.3h0M168.5 517.3h0M165.4 501.6h0M146.9 528.1h0M149.3 528h0M176.9 521h0M166.2 511.6h0M166.6 507.7h0M161.3 543.7h0M172.1 519.7h0M155.2 529.7h0M190.6 522.7h0M172.5 519.8h0M160.5 535.8h0M168.8 518.1h0M154 529.4h0M165.8 503.2h0M173.5 520.7h0M155.2 530.4h0M168 512.4h0M159.1 533.9h0M168.9 516.1h0M158.7 533.7h0M156 531.1h0M168.2 513.6h0M168.1 513.1h0M154.7 529.3h0M156.1 531.4h0M168.1 515.7h0M166.7 512.8h0M155.9 532.2h0M166.6 509.7h0M153.2 528.2h0M169.1 518.6h0M150 527.7h0M156.3 532.3h0M168.3 516.8h0M156.3 529.8h0M167.5 510.6h0M166 511.2h0M155.3 530.7h0M169.6 517.4h0M174.8 521.7h0M185.2 522.2h0M168.2 516.6h0M175 520.6h0M160.6 537.1h0M168.2 515.5h0M182 521.8h0M185.8 522.3h0M169.7 517.9h0M161.4 546.3h0M173.9 520.3h0M177 521.5h0M169.6 515.6h0M149.2 528.3h0M174.6 520.1h0M171.3 518.7h0M153.9 530.2h0M179.6 521.8h0M161.6 543.2h0M151.3 528.2h0M157.6 531.7h0M156.7 531.9h0M169.2 515h0M174.8 520.3h0M172 518.1h0M155.5 530.8h0M157 531.1h0M170.2 516.5h0M161.7 546.5h0" stroke="#fcc5b6" stroke-width="3.4" stroke-linecap="round" stroke-opacity="1.0" fill="none"/>
<path d="M155.1 535.3h0M166.5 494.5h0M178.5 520.8h0M165.9 490.4h0M166.2 499h0M177.9 519.8h0M154.6 534.7h0M187.2 520.9h0M175.8 518h0M173.8 516h0M166.3 501.2h0M155.7 535.2h0M168.2 505h0M153 532h0M158 537.1h0M171.6 516.6h0M178.7 520.5h0M150.6 529.9h0M158.1 538.2h0M148.3 530.2h0M157.9 535.7h0M180.9 520.9h0M150.1 531.4h0M160 544.6h0M152.4 531.3h0M154.5 532.6h0M176.5 519.4h0M167.4 501.7h0M144.7 529h0M145.2 528.7h0M169.9 511.5h0M151.8 532.5h0M157 535.4h0M180.4 519.6h0M148 530.5h0M182.3 520.5h0M191 522.2h0M153.3 531.2h0M148.8 531.1h0M156.4 534h0M174.7 517.6h0M171.5 514.7h0M153.5 532h0M156.8 536.3h0M155.7 535h0M173 517.1h0M179.3 520h0M171.4 514.9h0M171.7 517h0M169.6 513h0M149.8 530.9h0M151.5 532.2h0M158.8 542.3h0M178.8 520.6h0M158 535.4h0M158.2 537.1h0M170.2 513.7h0M168.2 510.8h0M152.9 532.3h0M174.5 518.6h0M173.1 517.6h0M156.3 536.7h0M147 530.3h0M148.5 528.9h0M155.3 532.1h0M176.6 518.7h0M180.4 519.9h0M148.2 529.1h0M170.6 511.9h0M169.9 515.7h0M152.8 532.9h0M173.9 516.2h0M159.7 548.7h0M171.7 513.4h0M158.8 537.5h0M167.9 511.1h0M153.9 530.9h0M149.7 530.1h0M154.6 534.8h0M185.1 521.5h0M171.6 517.1h0M173 518.5h0M158.6 536.8h0M173 516.2h0M177 519.6h0M178.9 520.8h0M173.4 518.4h0M149.4 531.3h0M155.2 533.5h0M145.7 528.8h0M154.5 534.9h0M173.4 516.8h0M186.4 521.7h0M171.9 516.4h0M169.8 513.1h0M168.9 513.6h0M178.9 519.5h0M156 537h0M174.8 517h0M157.3 539.2h0M176.9 520.3h0M181.3 520.5h0M188.2 522.3h0M176.5 519.3h0M159.6 547.7h0M169.1 508.2h0M170.9 513h0M166.7 501.3h0M147.8 530.7h0M147.9 528.8h0M177.8 518.3h0M174.6 517.1h0M168.2 507h0M181.9 520.1h0M165.8 499.9h0M151.8 530.2h0M157.8 537.2h0M142.2 527.5h0M175.5 518.8h0M141.3 527.4h0M165.3 483.9h0M168 511.6h0M170.3 513.5h0M156.2 535.8h0M152.5 531.5h0M179.2 518.9h0M157.5 534.9h0M175.6 519.7h0M171.9 516.8h0M169 511.2h0M134.1 527.6h0M178.1 519.2h0M158.6 537.3h0M172.7 514.7h0M170.9 514.4h0M180.1 519.3h0M151.9 532.4h0M174.5 518.9h0M177.4 518.1h0M179.7 521.1h0M161.1 550h0M197.1 522.9h0M165.1 483.6h0M155.8 533.6h0M157 534.8h0M159.3 544.2h0M148.3 530.8h0M174.1 519.1h0M155.6 534.6h0M171.1 516h0M152.6 531h0M154.9 532.4h0M180.5 520.1h0M169.8 513.5h0M158.1 535.9h0M146.2 528.2h0M173.4 517.6h0M170.9 516h0M141.1 528.6h0M148.9 529.9h0M182.4 521.2h0M155.5 535.1h0M170.9 514.6h0M172.6 514.7h0M166.7 505.9h0M151.5 530.1h0M142.8 528.3h0M142.1 529.1h0M173.7 518.6h0M148.9 529.8h0M134.3 527.5h0M147.2 530.5h0M172.4 516.9h0M178.8 520.9h0M155.4 533.2h0M149.8 530.2h0M165.5 489.5h0M180.2 520h0M175.3 518h0M158.1 537.8h0M168.2 509.3h0M174 519.2h0M170.8 516.8h0M175 519.6h0M156 535.1h0M172.9 515.7h0M181.5 519.6h0M180.8 519.6h0M189.8 522.5h0M174.2 517.3h0M157.8 535.8h0M175.5 517.8h0M171.6 513.4h0M140.4 528.5h0M149.3 530.9h0M147.3 529.5h0M166.1 500.8h0M167.3 506.5h0M158 537.4h0M172.8 517.7h0M176.8 518.1h0M176.9 520.4h0M184.3 521.7h0M143.4 528.2h0M153.6 530.8h0M169.4 513.1h0" stroke="#fbbfb0" stroke-width="3.4" stroke-linecap="round" stroke-opacity="1.0" fill="none"/>
<path d="M175.1 512.9h0M150.7 532.6h0M145.4 532.4h0M175.8 513.8h0M172 511.9h0M182.7 517.9h0M174.1 513.3h0M135.8 529.6h0M144.4 530.6h0M146.5 530.9h0M152.2 536.2h0M175.4 513.9h0M175.7 514.1h0M148.2 533.8h0M172 512.3h0M155.3 536.3h0M193.4 520.3h0M174.5 513.2h0M176.4 517.4h0M151.8 535.8h0M148 532.2h0M174.8 516.2h0M157.1 546.9h0M146.7 532.1h0M146.8 533h0M182.6 518.6h0M173.1 513.7h0M172.6 513.1h0M170 503.6h0M155.1 539.3h0M168.3 504.9h0M148.5 533.7h0M145.4 531.8h0M137.7 530.1h0M168.7 502.9h0M173.3 513.8h0M177 516.4h0M151.1 532.4h0M151.3 534.8h0M149.3 531.7h0M176.2 516.6h0M153.8 537h0M169.3 500.1h0M182.2 518.1h0M156.8 542.2h0M181.2 516.7h0M159.5 551.1h0M188 520.6h0M153 535.2h0M171.8 510.5h0M153 537.6h0M151.1 534.7h0M178.5 518h0M174.9 515h0M182.2 518.8h0M177.6 516.5h0M167.3 499.2h0M170.6 510.5h0M173.5 515.3h0M147.4 531.1h0M167.5 490.7h0M168.8 503.1h0M142.3 530.3h0M154.3 536.6h0M153.4 537.6h0M156.7 541.4h0M193 520.5h0M169.8 505.2h0M176.7 515.9h0M136.6 529.8h0M154.6 536.1h0M173.2 514.1h0M194.1 521.4h0M171.7 510.9h0M166.5 493.1h0M142.6 531h0M149.6 534.4h0M137.7 530.3h0M169.9 504.5h0M134.9 528.3h0M185.7 520.3h0M151.9 535.3h0M179.8 518.1h0M158.7 551.6h0M183.3 519.2h0M152.5 533.8h0M156.3 538.3h0M155 540.1h0M155.3 537.9h0M172.4 508.7h0M171.4 508.7h0M147.7 531.2h0M171.1 510.9h0M129.9 527.6h0M193.3 521.2h0M200.1 521.5h0M168.9 503.4h0M170.7 509.5h0M155.1 540.9h0M154.9 540.2h0M155.9 543.5h0M138.5 529.4h0M146.6 533.1h0M176.7 516.6h0M169.3 502.9h0M153.1 535.5h0M176.4 514.4h0M183.2 518.6h0M159.3 553.3h0M157.4 548.1h0M193.7 520.9h0M174.4 511.7h0M180.8 516.9h0M179.8 517.4h0M156.6 542.9h0M190.8 520.8h0M173 513h0M170.6 505.5h0M167.6 497.2h0M170.6 507h0M177.6 516.3h0M172.6 511.8h0M142.7 530.2h0M149.1 532.8h0M177.9 517.7h0M139.4 530.4h0M151.2 534.4h0M183.9 519.6h0M172.3 509.2h0M144.9 532.3h0M177.6 516.1h0M182.1 519.6h0M151.4 536.2h0M172.6 510.5h0M170.5 508.6h0M177.1 514.3h0M154.6 537.8h0M155.7 538.3h0M182.3 519.4h0M173.6 512.1h0M189.1 520.8h0M168.9 505.5h0M159.8 550.7h0M169.4 502.3h0M169.2 503.8h0M185 519h0M158.3 547.7h0M173 514.8h0M178.1 515.5h0M176.5 513.8h0M137 530h0M146.4 532.9h0M182.8 519.1h0M140.6 530.6h0M177.1 517.6h0M176.8 514.2h0M155.7 540.5h0M151.4 535.5h0M176.3 515.9h0M172.7 511.7h0M170.4 509.3h0M169.7 506.9h0M175.5 516.9h0M145.8 532.4h0M182.3 517.7h0M181.5 517.5h0M188.5 520.7h0M147 531.9h0M177.5 514.8h0M174.7 515h0M176.9 516.8h0M154.1 536.8h0M146.5 532.8h0M197.3 521.9h0M155 540.1h0M154.3 536.6h0M171.1 510.8h0M146.6 531.2h0M150.3 532.8h0M173.4 515h0M168.8 505.9h0M190.6 520.8h0M139.2 530.4h0M175.6 513.5h0M174.8 513.6h0" stroke="#fbbaa9" stroke-width="3.4" stroke-linecap="round" stroke-opacity="1.0" fill="none"/>
<path d="M151.4 540.2h0M152.4 543.1h0M171.1 500.7h0M173.5 504.2h0M150.8 536.5h0M171.5 504.6h0M171.6 503.2h0M171 505.3h0M141.6 531.9h0M177.9 514.2h0M179.1 514.8h0M156.2 544.5h0M185 516.1h0M155 546.2h0M157.2 554.2h0M151.5 541.6h0M183.9 514.9h0M170.5 499h0M174 506.4h0M141.7 533.1h0M189.6 517.4h0M179.6 513.1h0M157 554.4h0M151.1 539.4h0M143.8 533.3h0M182 516.4h0M180 514.9h0M185.4 517.8h0M149.2 537h0M156.3 552.8h0M188.6 516.6h0M187.6 516.3h0M169.9 494.4h0M178.6 512.5h0M137.3 531.6h0M148 535.8h0M181.8 514h0M171 496.9h0M145.5 534.9h0M172.4 506.6h0M151 540h0M180.7 514.3h0M148.2 538.2h0M184.4 516.7h0M150 539.6h0M177.5 510.9h0M179.9 514.1h0M144.1 534.5h0M138.7 532.5h0M181.8 515.7h0M188.5 517.8h0M147.8 535.6h0M152.9 541.4h0M134.4 531.4h0M195.2 519.8h0M151.1 539.7h0M189.1 518.1h0M174.1 508.7h0M145 533.8h0M138.4 531.7h0M176.1 512.8h0M139.8 531.5h0M147.3 533.6h0M176.5 509.8h0M182.8 514.2h0M174.1 507.7h0M158.2 562.3h0M155.8 546.6h0M148.1 537.7h0M181 515h0M168.9 490.9h0M177.3 514.3h0M145.2 535.7h0M142.6 533h0M154.1 540.6h0M153.2 541.8h0M177.9 513.1h0M185 515.3h0M179.9 515.1h0M173.6 509.8h0M186.8 517.4h0M170.2 503.4h0M175.1 508.2h0M152.8 543.4h0M182 514.8h0M153.6 539.9h0M174.6 511.2h0M171.7 501.2h0M178.6 512.6h0M135.1 530h0M176.2 509.2h0M175.2 507.8h0M155.3 543.3h0M142.4 532.8h0M178 511.8h0M197.4 519.7h0M146.2 536.3h0M123.7 529.7h0M146.1 535.2h0M152.4 542h0M175.5 508.9h0M192 518.9h0M145.5 535.5h0M174.5 506.9h0M151.6 539.5h0M148 536.4h0M151.7 537.7h0M140 531.9h0M183.5 515h0M126.2 529.6h0M183.3 514.9h0M151.2 539.8h0M152.4 541.9h0M182.7 516.3h0M144.6 534.6h0M175.8 509.5h0M152.4 539.6h0M153 539.8h0M187.2 516.3h0M183.8 516.7h0M190.3 518.1h0M173.7 506.6h0M171.4 504.8h0M169.6 500.6h0M152.3 538h0M184.2 516.4h0M169.3 494.3h0M140.7 532.6h0M177.1 512.7h0M155.2 547.3h0M172.5 504h0M149.5 535.1h0M132.5 531.5h0M144.7 535.1h0M171.6 500.2h0M172.5 508.2h0M154.2 540.7h0M171.3 503.9h0M146 535.5h0M173.6 510.4h0M148.6 537.5h0M195.6 518.7h0M156.8 548.5h0M174.6 508.1h0M171.8 502.4h0M174.8 510.1h0M148.6 536.6h0M150 538.3h0M197.9 519.4h0M172.4 505.2h0M141.3 531.7h0M182.4 515.2h0M179.4 514h0M173 508.8h0M145.3 534.5h0M173.9 507.2h0M153.3 539.3h0M146.9 535.7h0M152.3 539.6h0M149.5 536.9h0M146 536.3h0M175.3 508h0M175.3 507.5h0M141.2 532.6h0M174.5 506.6h0M169.2 495.2h0M174.6 511.3h0M156 546h0M150.5 539.1h0M181.9 514.4h0M175.7 508.6h0M153.9 540.3h0M145.4 534h0M156.1 550h0M156.4 546h0M154.4 540.8h0M130.2 530.2h0M175.1 508.5h0M144.3 532.2h0M142.4 531.7h0M179.3 514.8h0M142.2 532.3h0M167.9 491.6h0M171.7 504.1h0M154 541.7h0M188.7 516.5h0M191.4 517.7h0M175.8 510.4h0M175 509.4h0M173.2 509.4h0M151.5 539.3h0M170.4 502.4h0M144 532.3h0M179.9 512.4h0M148.3 535.2h0M186.8 516.8h0M177.4 509.9h0M186.9 517.1h0M175 511.9h0M176.1 509.1h0M186.1 517.3h0M155.4 546.1h0M184.4 516.2h0M147.7 534h0M170.4 495.1h0M180.4 515.6h0M173.7 509.3h0M173.1 506.8h0M127.3 530.4h0M153.7 540.3h0M175.2 510.5h0M178.2 510.8h0M176.9 512.1h0M144.8 535.2h0M147.8 537h0M151.3 538.3h0M144.4 532.5h0M157.3 552.8h0M171.9 500.1h0M175.5 511.1h0M180.2 515.2h0M144.8 532.9h0M175 510.4h0M155.5 543.7h0M182.1 515.3h0M155.5 547.5h0M150.9 541h0M149.5 539.4h0M157.4 555.5h0M152.3 540.8h0M172.6 502.3h0M150.6 540h0M192 517.6h0M172.8 503h0M185.1 516.4h0M154.9 541.7h0M152.2 537.5h0" stroke="#fbb4a2" stroke-width="3.4" stroke-linecap="round" stroke-opacity="1.0" fill="none"/>
<path d="M182.8 513.8h0M184.1 514h0M149.2 541h0M183.6 512.4h0M146.7 537.8h0M143 537.2h0M137.1 533.1h0M187.7 515.4h0M173.1 494.6h0M148 543.6h0M146.8 539.1h0M141.8 537.6h0M141.4 537h0M175.1 500.2h0M147.9 541.7h0M155.8 559.8h0M143.4 536.6h0M186.4 513.9h0M173.2 501.2h0M139.6 536.2h0M189 513.3h0M154 548h0M150.5 541.7h0M177.7 509.2h0M184.8 513.6h0M181.8 510.2h0M179.5 509.1h0M174.5 504.8h0M182.1 509.9h0M152.7 546.6h0M177 507.8h0M149.7 544.7h0M190.9 514.6h0M146.8 541h0M149.2 541h0M148.6 544.4h0M186.2 514.3h0M175.6 505.8h0M146.4 539.9h0M191.2 516.6h0M176.7 503.4h0M179 507h0M151.8 547.5h0M155.6 551.7h0M176.4 505.9h0M136.6 535.7h0M182.1 510.5h0M139.8 534.6h0M148.7 541.6h0M144.9 537.3h0M140.8 536.7h0M199.1 517.4h0M153.2 549.3h0M174.4 503.5h0M188.6 513.7h0M171.5 495.4h0M153 545.9h0M146.1 539.5h0M114.5 530.6h0M180.8 511.5h0M177 505.1h0M181.5 512.2h0M155.6 555.6h0M202.7 517.5h0M131.1 532.4h0M142.9 538.6h0M182 511.2h0M172.8 495.1h0M180.7 508.6h0M143.2 535.4h0M188.4 515.7h0M140.8 535.8h0M170.5 494.4h0M150.8 543.8h0M177.5 507.6h0M143.4 536.9h0M150.3 544.5h0M151.7 546.8h0M144.2 539.5h0M145.6 536.7h0M178.6 509.7h0M176 506.3h0M173.2 497.2h0M153.6 550.2h0M198 517.3h0M147.1 542.1h0M192.7 516h0M173.9 498.5h0M179.6 508.7h0M137.4 533.7h0M182.5 509.7h0M187.4 514.5h0M144.8 540.6h0M147.3 538.3h0M128.1 531.3h0M137.5 535.7h0M149.1 545.2h0M145.1 540.7h0M141.6 536.9h0M154.3 548h0M142.5 537.9h0M177.9 507.1h0M186 515h0M178.2 509.6h0M187.7 515.5h0M183.6 513.6h0M175.3 502.8h0M148.9 539.7h0M150.8 542.3h0M183.5 511.1h0M148.9 541.7h0M189.1 515.7h0M146.2 538.9h0M151.7 544.3h0M186.2 513.9h0M185.8 512.6h0M153.2 551.6h0M175.1 506.1h0M146.3 539.4h0M141.4 535.1h0M149.1 543.6h0M143.8 538.2h0M177.3 504.6h0M154.4 548.5h0M181.9 511.8h0M146.5 542.2h0M144.7 538h0M184 510.4h0M177.9 506.8h0M145.6 538.5h0M192.6 516.1h0M180.1 507.2h0M173.6 501.9h0M179.5 510.5h0M151.2 542.5h0M175.9 506.2h0M145.4 539h0M144.9 540.6h0M179.6 506.4h0M154.4 550.1h0M184 510.4h0M179.5 506.3h0M187.3 512.8h0M141.4 536h0M179.7 508.3h0M177 508.9h0M186.4 511.8h0M192.2 516.5h0M135.8 535h0M178.8 506.2h0M173 496h0M175.1 502.4h0M149.7 540.1h0M111.4 529.6h0M152.2 546.4h0M135.6 534.6h0M185.9 511.6h0M147.6 541.5h0M133.9 534.5h0M181.7 510.9h0M143.1 536.7h0M182.1 511h0M147.5 541.2h0M170.9 485.1h0M176.3 505.4h0M134.6 533.5h0M174.6 505.7h0M142.1 535.9h0M185.7 511.6h0M175.7 504.9h0M186.5 513.8h0M193.2 516h0M144.1 540.1h0M187.2 513.8h0M137.2 534.4h0M173.6 503h0M183.3 513.5h0M150 542.4h0M174.4 501.4h0M146 539h0M178.7 505.9h0M177.4 506.2h0M181.8 512.9h0M190.8 516.7h0M186.1 514.9h0M173.5 503.4h0M179.6 506.6h0M177.3 503.7h0M186.9 515.6h0M182 510.5h0M188.3 514.4h0M180.2 508.1h0M155.3 559.7h0M180 510h0M155.9 554.1h0M186 511.9h0M187.8 512.7h0M150.8 547.1h0M177.7 505.5h0M148.8 539.3h0M146.5 541.5h0M188.5 515.1h0M151.6 546.2h0M144.3 537.7h0M178.1 508.9h0M137.9 533.1h0M143.8 535.8h0M169.7 488.6h0M181.4 508.6h0M174.7 499.1h0M174.9 501.4h0M139 535.5h0M185.3 513.8h0M172.1 490.9h0M176.6 505.5h0M151.9 544.3h0M180.3 510.8h0M153 547.2h0M152.6 550.3h0M179.5 507h0M148.3 539.4h0M176.7 504.6h0M149.9 542h0M145.9 541.3h0M183.8 511.4h0M151.3 542.3h0M186 514.5h0M149.5 543.1h0M174.8 505.2h0M175 500.6h0M192.4 514.4h0M175 505.3h0M176.5 502.1h0M170.7 488.1h0M145.6 540.4h0M150.4 543h0M155.8 555.6h0M154.7 555.6h0M176.6 505.4h0M173.5 500.4h0M183.3 511.3h0M148.7 542.2h0M175 499h0M155.3 550.5h0" stroke="#fbae9b" stroke-width="3.4" stroke-linecap="round" stroke-opacity="1.0" fill="none"/>
<path d="M187.4 510.9h0M132.4 536.2h0M173.1 490.9h0M142.5 541.6h0M182.6 506.1h0M184.7 506.3h0M194.1 511.8h0M177.2 499.3h0M142.7 540.2h0M181.8 504.6h0M190.5 512.4h0M143.7 543.3h0M182.3 505.4h0M179.9 503.2h0M148.2 547h0M140.9 540h0M187.1 510.6h0M180.3 500.7h0M141.9 539.5h0M148.4 548.7h0M135 536.5h0M196.7 513.1h0M150.9 548.6h0M151.9 551h0M139.1 541.6h0M187.1 511.1h0M132.2 537.1h0M145.8 543h0M178.3 498.4h0M185.9 511h0M176.8 497.5h0M182.9 505h0M173.8 490.8h0M136.8 536.8h0M180.1 500.1h0M177.5 499.7h0M183.6 509.3h0M175.2 494.7h0M183 507.7h0M138.4 537.7h0M154.8 561.1h0M191.9 512.8h0M145.4 542.4h0M136.5 538.8h0M127.7 535.4h0M151.4 550.7h0M185 509.3h0M127.2 535.4h0M141.2 541.8h0M175.6 498.4h0M191.7 512.9h0M132.1 534.6h0M185.2 507.4h0M189.3 512.4h0M181.7 504.8h0M153.6 558.4h0M189.4 511.3h0M132.4 537.1h0M185.9 507.7h0M200 513.5h0M181.9 505.1h0M183.3 506.2h0M174.5 492.3h0M185.4 507.5h0M181.4 503.3h0M181.7 507.5h0M190.1 512.8h0M185.6 509.2h0M185.6 509.4h0M175.1 491.1h0M119.6 533.4h0M139 537.1h0M146.9 546.1h0M181.1 504.5h0M177.6 498.4h0M149.6 547.2h0M197.1 513.9h0M204.9 516.4h0M183.5 509.2h0M180.5 505.5h0M181.7 506.4h0M185.8 510.7h0M144.4 541.1h0M176.5 497.7h0M198.7 513.4h0M141.7 538.9h0M178.2 502.9h0M148.8 549.9h0M149.9 553.3h0M183.5 509.6h0M149 552.2h0M143.5 542.5h0M154.7 562.5h0M176.8 496.6h0M173.9 495.7h0M185.2 507.9h0M179.9 499.8h0M178.9 504.3h0M151.4 550h0M174.5 496h0M140.8 540.1h0M149.5 548.9h0M174.2 491h0M148 546.1h0M188 508.2h0M178.1 498.6h0M191.9 510.7h0M177 498.7h0M129.8 536.1h0M145.6 546.5h0M133.6 537.5h0M133.5 535.5h0M185.9 508.7h0M140.8 537.9h0M179.7 504h0M187 509.4h0M185.9 506.6h0M171.1 480.7h0M176.6 500.8h0M174.2 493.7h0M181.1 504.3h0M184.1 505.1h0M175.7 499h0M146.9 546.5h0M181.4 503.5h0M178.8 501.9h0M182.5 508.2h0M182 507.9h0M178.2 497.8h0M185.1 510.1h0M140.2 542.3h0M185.5 510.3h0M182.2 503.3h0M179.4 499.5h0M188.8 512.2h0M186.8 508.5h0M145 545.3h0M178.6 500h0M182.5 503.9h0M178.5 497.9h0M147.5 547.3h0M181.7 505.6h0M149.9 553h0M134 537.5h0M148.8 545.2h0M187 510.4h0M180.2 504.6h0M180.3 501.9h0M177.6 495.7h0M187 509.8h0M151.2 552.6h0M149.7 549.5h0M138.5 538.7h0M183.7 506.4h0M193.2 513h0M181.9 507h0M123.4 533.3h0M147 545.1h0M194 512.9h0M177.7 503h0M183.3 505.5h0M136.5 538.2h0M175.9 495.6h0M135.8 537.4h0M125.2 534.6h0M129.1 536.5h0M149.4 550.5h0M182.1 505.9h0M183.3 507.8h0M149.4 547.6h0M179.1 503.2h0M147.2 548.4h0M142.8 544.1h0M136.2 536.2h0M150 551.5h0M190.4 511.8h0M125.5 535.5h0M144.9 544h0M173.6 493.9h0M143.7 540.7h0M181.1 503.7h0M178.2 499.9h0M186.2 508.7h0M184.1 508.7h0M193.4 512.1h0M193.4 511.2h0M142.4 540.6h0M184.5 505.2h0M143.9 541.5h0M187.6 507.9h0M180.2 503h0M175.3 497.3h0M195.3 513.8h0M179.2 499.4h0M179.8 501.1h0M146 545.6h0M178.5 501.8h0" stroke="#fba994" stroke-width="3.4" stroke-linecap="round" stroke-opacity="1.0" fill="none"/>
<path d="M198.3 512.3h0M192.9 510.3h0M136 544.4h0M197.7 510.1h0M182.8 496.9h0M181.7 501h0M143.8 548.2h0M188.8 506.3h0M180.5 493.9h0M181.8 498h0M184.3 501.3h0M140.8 547.9h0M145.4 553.5h0M188.1 503.3h0M138.4 544.7h0M176.9 483.9h0M121.9 534.7h0M137.1 542.2h0M192.2 508.4h0M136.1 542.7h0M191.9 508.6h0M180 498.7h0M185.2 500.9h0M126.5 538.4h0M193.5 511h0M142.7 547.7h0M146.3 551.4h0M182.3 497.8h0M191.7 509.8h0M208.7 512.5h0M194.1 506.7h0M182.9 501.6h0M144.7 550.5h0M191.9 507.8h0M174.4 482.1h0M148.2 556.1h0M177.8 490.7h0M187.5 505.2h0M142.4 547.1h0M148.4 553.4h0M135.7 544.3h0M180.9 496.5h0M201 510.1h0M137.4 544.9h0M178.4 494h0M180.2 498.9h0M177.4 495.1h0M196.2 508.8h0M189.6 506.7h0M139.7 545.1h0M176 484.9h0M183.6 499.2h0M186.4 504h0M186.5 506.3h0M144.9 550.7h0M182.1 501.4h0M129.1 539.5h0M145.2 552.3h0M187.4 506.2h0M179 489.6h0M143.9 546.4h0M127.8 537.6h0M182.4 500h0M146.9 549.6h0M193.5 509.4h0M183.9 499.2h0M180.8 500.9h0M202.9 512.1h0M143.9 546.9h0M145.1 551.8h0M134.3 540.8h0M141.3 547.6h0M183.7 502.4h0M144 552.5h0M138.9 547.2h0M187.7 504.3h0M186.3 505.8h0M138.9 546.8h0M176.9 488.7h0M136.9 540.8h0M193 508.8h0M179.8 495.6h0M181.9 499.8h0M142.9 548.3h0M179.4 492.9h0M181 493.9h0M130.5 538.6h0M193.6 510.9h0M191.2 509.7h0M184.9 504.5h0M138.2 544.2h0M178.4 496.8h0M133.8 539.6h0M135.7 540h0M205.2 514.6h0M187.3 505.4h0M182.9 500.7h0M182.3 499.8h0M135.7 542h0M185.6 501.1h0M183 501.4h0M180.1 496.4h0M185.7 502h0M136.2 541.2h0M183.6 502.3h0M190.5 508.7h0M186.1 504.3h0M179 495.8h0M128.8 539.1h0M144.7 553.8h0M142 545.2h0M183.8 501.9h0M134.5 540.5h0M177 491.2h0M131.9 539.8h0M150 559.3h0M197.2 510.1h0M188.9 506h0M189 508.3h0M148.4 555.5h0M184.5 500.3h0M140 542.7h0M196.7 509.2h0M175.8 490.2h0M181.4 499.9h0M181 495.1h0M133.4 540.7h0M182.8 502.2h0M180.2 494.4h0M191.3 505.4h0M182.7 499.9h0M185.8 506h0M187.2 504.8h0M188.4 502.6h0M139.1 544.9h0M187.9 502.4h0M182.7 502h0M175.2 480.6h0M132.7 541.9h0M189.3 503.4h0M134.4 539.6h0M199.3 509.7h0M185.8 499.9h0M185.6 502.7h0M181.8 500.3h0M149.9 558.9h0M189.6 508.5h0M184.1 499.3h0M195.2 508.8h0M141.9 547.4h0M173.8 481.3h0M129 536.8h0M193.9 509.3h0M141.8 546.3h0M142.4 545.8h0M150 556h0M178.3 494.5h0M184.4 503.3h0M182.1 496.9h0M196.6 510.8h0M193 506.5h0M144.3 550h0M183.3 501.9h0M182.6 496.7h0M143 545.6h0M136 544.8h0M142.7 545.6h0M137.8 545.6h0M129.6 541.1h0M198.4 512.4h0M181.8 499.2h0" stroke="#faa38e" stroke-width="3.4" stroke-linecap="round" stroke-opacity="1.0" fill="none"/>
<path d="M194.4 503.6h0M198 505.9h0M143 554.7h0M189.1 501h0M137.1 549.8h0M190.9 500.5h0M193.9 503.6h0M141.1 553.5h0M193.7 504.1h0M134.3 544.6h0M185.1 492.7h0M191.4 502.3h0M137.8 548.9h0M125.7 539.7h0M207.5 508.6h0M137 548.8h0M185.1 497.7h0M146.2 562.7h0M194 503.8h0M138.8 552.2h0M185.7 498.4h0M196.4 505.6h0M124.6 539.2h0M189.5 501.4h0M187.4 494.7h0M188.3 500.4h0M134.8 546.7h0M140.5 550h0M141 552.4h0M186.4 495.7h0M192.9 501.1h0M198.6 504h0M136.9 548.1h0M128.6 541.2h0M140.4 550h0M180.6 490h0M138.1 547.5h0M185.4 496h0M138.3 551.2h0M187.1 496.1h0M188.4 497.4h0M145.7 557.9h0M194.9 506h0M137.4 547.1h0M133.8 546.8h0M197.8 507.8h0M130.8 543.1h0M179.5 487.1h0M182.9 495.3h0M184.8 498.2h0M188.7 499.1h0M188.3 498h0M184.6 492.6h0M139.9 551.5h0M133.2 548.6h0M186.3 497.3h0M187.8 495.1h0M193.8 506.2h0M192.2 502.3h0M127.1 541.2h0M192.3 503.9h0M119.5 540.9h0M190.7 503.6h0M137.4 547.2h0M182 488.3h0M180.1 489.1h0M199.1 509.1h0M175.8 474.8h0M184 492.7h0M209.3 509.4h0M139.1 551.1h0M195.6 502.3h0M186.7 498.7h0M143.8 555.9h0M186.1 497.4h0M189.1 502.8h0M134.2 545.8h0M141.8 550.4h0M140.6 550.8h0M178.1 486.4h0M182.7 490.7h0M115.4 536.8h0M144.7 561.2h0M130.6 546.1h0M196.7 505.6h0M189.4 501.2h0M185.5 494.3h0M188.8 498.6h0M186.3 498.7h0M181.8 489.8h0M139.7 552.2h0M193.6 504.4h0M129 541.4h0M192.7 505.3h0M193.4 504.9h0M189.1 500h0M139.4 552h0M194.6 501.4h0M120.2 537.8h0M187 493.9h0M209 511.1h0M139.2 549.3h0M185.4 497h0M143.8 553.6h0M137.4 546.2h0M139.6 549.1h0M191 498.3h0M198.6 504.2h0M186.9 495.9h0M137.5 546.9h0M191.2 502h0M134.1 549.6h0M192.3 501.3h0M183.6 494.8h0M193.8 505.3h0M189.5 497.3h0M191.6 503.7h0M182.1 489.3h0M131.8 543.5h0M186.6 496.3h0M190.6 502h0M198.5 507h0M181.9 494.1h0M191.6 499.6h0M144.5 557.1h0M185.7 497.3h0M189.2 502.1h0M192.3 500.1h0M148.2 565h0M187.1 497.9h0M185.2 493.1h0M183.8 490.2h0M195.9 506.1h0M187.5 501.4h0M189.6 499.9h0M195.8 506.1h0M125.1 542.8h0M190 502.7h0M184.6 496.9h0M135.1 544.5h0" stroke="#fa9e87" stroke-width="3.4" stroke-linecap="round" stroke-opacity="1.0" fill="none"/>
<path d="M163.5 526.7h0" stroke="#e8dffe" stroke-width="3.4" stroke-linecap="round" stroke-opacity="1.0" fill="none"/>
<path d="M163.4 521.2h0M182.5 524.8h0M146.3 524.7h0M163.2 524.2h0M163.5 513.4h0M164 525.2h0M163.4 519.8h0M163.8 525.4h0M163.4 521.6h0M163.7 526h0" stroke="#e4dafe" stroke-width="3.4" stroke-linecap="round" stroke-opacity="1.0" fill="none"/>
<path d="M163.4 519.3h0M162.5 523.4h0M164.1 526.1h0M156.6 524.6h0M163.6 532.6h0M160.2 524.5h0M155.4 524.7h0M162.9 522.8h0M164.1 526.6h0M160.8 524.2h0M160.1 524.4h0M162.2 523.9h0M163.3 518h0M151.7 524.6h0M163.3 516.2h0M170.3 524.9h0M163.2 520.1h0M163 523.3h0M164.3 525.3h0M163.6 535.9h0M163.8 527.5h0M162.4 524.2h0M163 523.9h0M159.6 524.4h0M165.6 525.4h0M164.3 525.3h0M169.1 525h0M164.2 525.8h0M164.6 526.1h0M163.7 532.8h0M154.2 524.6h0M163.4 511.2h0M160.4 524.3h0M163.8 527.7h0M163.4 518.9h0M163.2 523.3h0M163.3 520.9h0M163.6 533.8h0M164 526.1h0" stroke="#e1d5fd" stroke-width="3.4" stroke-linecap="round" stroke-opacity="1.0" fill="none"/>
<path d="M154.1 524.3h0M162.8 521.5h0M166.7 525.5h0M163.4 510h0M164.7 527.5h0M163 516.7h0M149.6 524.5h0M178.7 524.9h0M159.2 524.4h0M163.2 515h0M163.7 540.9h0M157.9 524h0M163.1 515.1h0M158.7 524.4h0M167.6 525.7h0M162.7 522.4h0M163 521.1h0M162.7 520h0M163.2 515.4h0M159.4 524.2h0M164.8 527.8h0M162.5 521.7h0M156.6 524.2h0M164.5 528.7h0M163.8 532.9h0M163.6 548.1h0M164.3 529.3h0M165.9 525.6h0M173.7 525.2h0M163.8 532.5h0M164 533.7h0M163.9 529.6h0M164.9 526.5h0M179.7 525h0M165.9 525.4h0M163.6 538.8h0M163.1 515.7h0M182.1 524.9h0M164.1 529.6h0M165 527.1h0M158.7 523.9h0M137.1 524.7h0M163.6 547.9h0M165 526.4h0M156.8 524.4h0M178.1 524.9h0M162.9 521.2h0M163.2 514.4h0M163.7 539.5h0M163.2 517.3h0M161.4 523.3h0M177.2 525h0M164.3 528.3h0" stroke="#ddd0fd" stroke-width="3.4" stroke-linecap="round" stroke-opacity="1.0" fill="none"/>
<path d="M162.1 518.9h0M164.3 530.2h0M170.7 526h0M163.7 547.7h0M157.3 523.6h0M164.4 530.8h0M160.9 522.6h0M154.8 524.1h0M165.2 529.1h0M149.9 524.2h0M163.8 540h0M150.2 524.2h0M163.1 510h0M165.8 527.2h0M163.2 502.7h0M176.4 525.4h0M160.5 522h0M184.5 525.2h0M164.4 530.6h0M167.1 526.3h0M164.4 532.2h0M162.7 513.8h0M155.9 523.8h0M169.9 525.7h0M169.3 525.8h0M164.3 531.5h0M162.2 521.1h0M162.7 515.6h0M158.8 523.3h0M164.1 535.5h0M158.5 523.4h0M165.6 527.6h0M165 529.9h0M158.6 522.8h0M169 525.9h0M160.5 522.4h0M152.4 523.9h0M158.8 523h0M162.9 508.1h0M166.2 527.3h0M165.4 527.9h0M165.8 527.8h0M157 524h0M162.2 520.8h0M161.9 519.1h0M167.5 526.6h0M164.1 536.3h0M200 525h0M164.5 532.5h0M163.1 507.9h0M165.5 528h0M155.1 523.9h0M164.9 529.1h0M147.5 524.2h0M168.7 526.2h0M156.7 523.3h0M159.4 522.9h0M165.3 530.1h0M164 540.8h0M164.7 532.2h0M154.4 524.2h0M164.9 527.8h0M165.1 530.3h0M164.8 530.8h0M133.2 524.5h0M147.1 524.3h0M165 528h0M159.2 523.1h0M173.7 525.6h0" stroke="#d9ccfd" stroke-width="3.4" stroke-linecap="round" stroke-opacity="1.0" fill="none"/>
<path d="M148.9 523.8h0M162.7 506.5h0M165.7 529.9h0M169.4 527.5h0M161.7 518.7h0M159 521.3h0M168.8 527.6h0M172 525.9h0M162 517.4h0M169.9 527h0M172.9 526.5h0M178.7 525.4h0M155.4 523.4h0M150 523.5h0M176.2 525.9h0M164.1 544.2h0M158.3 521.2h0M164.9 537.5h0M177.8 526h0M145.8 524.1h0M162.2 511.9h0M138.6 524.1h0M162.3 513.3h0M159.1 521.6h0M164.8 532.5h0M156.9 522.1h0M154.4 522.7h0M150.2 524h0M157.9 521.6h0M161.3 520.3h0M166.2 528.4h0M153.9 522.9h0M174.3 526h0M181.2 525.3h0M164.6 534.7h0M160.2 520.6h0M160.3 520.7h0M164.4 544h0M162.3 513.4h0M164.3 537.7h0M162.4 514h0M161.2 516.9h0M144.3 524.2h0M155.1 523.5h0M161.7 515.2h0M149.6 523.9h0M162.3 509.3h0M181.7 525.3h0M157.9 522.3h0M162 512h0M187.5 525.2h0M165.7 531.7h0M162.6 509.7h0M160.3 519.2h0M167.9 527.5h0M162 517.1h0M164.5 538.1h0M156.3 523.1h0M167.7 527.4h0M135.2 524.2h0M161.6 517.4h0M161.9 513.7h0M160.5 519.8h0M166.5 530.9h0M157.7 522.4h0M165 534.9h0M180.2 525.7h0M165.3 530.5h0M178.4 525.9h0M159 520.7h0M153.8 523.3h0M160.1 521.7h0M134.2 524.3h0M160.5 521.2h0M161.3 516.2h0M167.6 529.2h0M155.2 522.9h0M150 523.8h0M193.7 525.2h0M164.2 541.5h0M167.3 527.4h0M170.6 526.8h0M167.7 528.6h0M162.9 502.5h0M158.2 522h0M147.3 523.6h0M164.4 538.7h0M159.6 520.4h0M183.6 525.5h0M160.6 520.8h0M155.5 522.9h0" stroke="#d6c7fc" stroke-width="3.4" stroke-linecap="round" stroke-opacity="1.0" fill="none"/>
<path d="M160.9 514.7h0M162.3 503.1h0M174 527.6h0M177.2 526.7h0M167 532h0M169.7 528.2h0M137.5 523.9h0M168.9 530.3h0M157.2 519.6h0M166.6 534h0M150.5 522.5h0M161.9 505.4h0M158.9 518.4h0M168.7 528.6h0M166.2 536.1h0M168.6 528.9h0M168.2 530.2h0M158.7 520.4h0M157.2 519.9h0M160.8 517.5h0M184.5 525.8h0M162.8 495.9h0M171.5 527.1h0M174.7 527.6h0M160 519.2h0M166.4 531.7h0M161.3 515.6h0M157 521.6h0M159 518.4h0M183.8 526.3h0M168 529.1h0M166 535.2h0M153.1 522.4h0M172.2 528h0M170.7 529.3h0M165.7 534.6h0M158.9 518.2h0M185.3 525.8h0M166.1 535.8h0M149.8 522.8h0M171.3 528.3h0M162.1 507h0M180 526.1h0M165.7 533.4h0M161.4 510.1h0M158.9 520.3h0M138.1 523.7h0M161 515.6h0M150.8 523.1h0M161.4 510.1h0M176.8 527.1h0M174.1 526.5h0M166.3 533.1h0M161.6 509.3h0M180.1 526.2h0M176.8 527.2h0M156.9 521.5h0M160 519.3h0M173.3 528h0M161.9 506.6h0M171.6 527.2h0M166 536.5h0M121.3 524.1h0M162.6 501.3h0M165.3 537.9h0M168.6 530.8h0M175.2 526.9h0M170.4 528.9h0M160.1 518.8h0M161.9 512.6h0M161.6 512.5h0M160.2 514.9h0M165.4 534.7h0M168 531.2h0M169.7 528.9h0M162.4 507.8h0M160.6 517.1h0M154.6 522.4h0M162.7 501.5h0M168.5 531.2h0M134.7 524h0M162.3 506.9h0M165.3 539.3h0M174.9 526.8h0M164.6 546.9h0M161.3 511.4h0M167.4 531.6h0M170.5 529.2h0M159.2 518.8h0M164.9 538.4h0M166.3 533.1h0M160.8 516.1h0M155.5 522.3h0M170.3 527.8h0M168.6 531h0M161.7 507.3h0M175.7 526.8h0M150.3 522.5h0M160.3 517.8h0M161.1 512.6h0M170 529.7h0M161.4 509.7h0M164.7 547.3h0M146.4 523.2h0M171.9 528.3h0M158.4 518.3h0M152.9 522.3h0M165.3 542.4h0M165.7 535h0M152.1 522.9h0M157.1 520.8h0M184.9 525.7h0M180.6 525.9h0M171.4 528.4h0M160.5 517.3h0M169.1 529.4h0M161 515.6h0M145.3 523.4h0M175.9 526.6h0M158 519.7h0M174.9 527.5h0M156.3 521.4h0M158.6 518.6h0M171.5 527.8h0M161.1 512.3h0M151.1 522.8h0M190.8 525.5h0M173.7 526.7h0M159.9 516h0M179 526.2h0M159.2 517.1h0M168.8 528.7h0M171.6 528h0M155.9 521.9h0M167.5 531.5h0M165.9 533.9h0" stroke="#d2c2fc" stroke-width="3.4" stroke-linecap="round" stroke-opacity="1.0" fill="none"/>
<path d="M138.1 522.7h0M151.9 520.6h0M149.1 522.2h0M157 517.4h0M147.9 522.5h0M155.4 518.9h0M165.9 542.2h0M158.5 516.7h0M150.4 520.8h0M181.3 527.7h0M170.4 530.4h0M156.1 519.8h0M179.7 527.8h0M165.8 544.9h0M161.1 510.1h0M166.3 543.7h0M165.4 542.6h0M172 530.9h0M154.6 518.7h0M181 527h0M155 519.1h0M154.8 519.8h0M166.2 539.6h0M170.9 529.7h0M160.3 510.5h0M171.1 531.3h0M171.6 531.4h0M166.3 538.9h0M161.1 511.1h0M156.6 517h0M174.1 527.9h0M178.3 528.3h0M134.4 523.6h0M165.9 544.5h0M157.1 517.6h0M172.9 530.3h0M160.5 510.6h0M158.1 515.6h0M165.5 546h0M177.3 527.6h0M161.1 505.8h0M167.4 536h0M160.2 511.6h0M149.7 522.3h0M160.3 512.6h0M166.5 537.1h0M160.9 510.7h0M167.6 533.1h0M157.4 518.1h0M175.5 528h0M168.3 533.3h0M173.7 528.4h0M152.8 520.8h0M156.1 519.6h0M169.9 532.5h0M160.1 510.3h0M151.7 521.2h0M165.8 541.5h0M152.2 521.7h0M169.9 530.5h0M156.9 518h0M174 528.6h0M166.2 544h0M170.4 531.3h0M171.1 529.7h0M178.5 527h0M159.1 513.1h0M172.8 529.8h0M145.7 521.7h0M184.5 527.2h0M179.4 527.2h0M150.9 522.1h0M174.7 529.3h0M165.9 543.1h0M166.9 535.6h0M151 520.5h0M167.6 533.6h0M157.3 518.6h0M160 514h0M182.6 527.3h0M166.3 540.3h0M155.7 519.5h0M169.2 531.1h0M161 510.7h0M160.7 512.5h0M169.6 533.2h0M169.5 533.5h0M147.3 522.1h0M180.6 527.2h0M171.7 531.4h0M161.2 507.2h0M183.9 526.8h0M159.8 515h0M188.9 526.7h0M158.7 514.2h0M179.5 527.3h0M165.8 542.4h0M157 518.4h0M169.7 530.8h0M174.8 528.1h0M159.1 516.2h0M168.9 534.2h0M149.1 521.6h0M159.1 513.7h0M178 528.2h0M169.3 533.7h0M173 529.6h0M161.1 502.5h0M175.9 528h0M139.6 523.3h0M167.4 537.7h0M165.4 549.3h0M177.8 527.4h0M171.1 529.7h0M161.3 499.7h0M150.2 520.9h0M175.5 528.3h0M156.4 519.1h0M155.6 519.1h0" stroke="#cebdfc" stroke-width="3.4" stroke-linecap="round" stroke-opacity="1.0" fill="none"/>
<path d="M165.8 557.1h0M158.3 511.5h0M173.6 530.7h0M177.6 528.7h0M177.1 531h0M173 532.4h0M156 517.2h0M151.9 518.3h0M174.3 529.9h0M150.8 518.6h0M154.4 516h0M151.9 519.5h0M152.4 519h0M184 528.9h0M173 532.1h0M160.6 505.4h0M157.5 514.4h0M178.8 529.1h0M153.4 517.2h0M160.6 501.2h0M156.5 515.7h0M159 509.6h0M158.9 509.3h0M181.6 529h0M177.2 528.9h0M154.8 515.5h0M194.6 526.6h0M171.7 534.5h0M144.1 520.8h0M155.3 514.6h0M156.2 516.6h0M180.5 528.5h0M166.9 543.2h0M158.3 513.2h0M157.4 511.6h0M168.2 538.6h0M173.7 531.7h0M158 511.7h0M170.8 534.6h0M153.5 518.1h0M172.4 532.5h0M169.6 538.2h0M148.3 520.6h0M135.9 522.1h0M168.1 538.8h0M180.6 528.5h0M158.6 513.2h0M156.3 515.7h0M145.9 521.2h0M156.4 516.2h0M168.9 539.5h0M168.9 538.5h0M183.1 528.8h0M168.6 539.9h0M173.5 532.6h0M142 521.7h0M171.4 531.7h0M166.1 550.2h0M159.4 506.2h0M167.3 540.6h0M167.8 537.8h0M149 519.5h0M158.7 512.3h0M170.9 532.5h0M157.9 514.6h0M138.3 521.9h0M173.9 531.6h0M153.4 518.5h0M155.2 517.9h0M156.6 516.1h0M152.3 518.6h0M169.9 534.2h0M140.2 521.9h0M156.6 514.1h0M168.8 539h0M175.9 530.6h0M182.1 529.3h0M147.5 519.5h0M149.5 519.7h0M188.1 527.2h0M153 517.6h0M171.4 533.4h0M155 516h0M156.3 514.1h0M160.5 500.6h0M156.4 513.3h0M145.3 521.1h0M184.4 528.3h0M166.6 551h0M166.5 545.7h0M154.3 518.4h0M169.7 536.6h0M155.3 515.2h0M141.9 521h0M171.5 532.5h0M159.6 510.6h0M159.7 507.3h0M178.5 529.8h0M176.4 529.6h0M159.6 503.8h0M158.5 512.4h0M158.2 510h0M147.4 520.4h0M174.4 530.3h0M157.8 512.7h0M160 504.5h0M170.3 533.5h0M179.7 528.8h0M180.7 528.2h0M172.2 531h0M158.5 512.2h0M160.1 503.6h0" stroke="#cab8fc" stroke-width="3.4" stroke-linecap="round" stroke-opacity="1.0" fill="none"/>
<path d="M157.1 510.5h0M179.4 532.4h0M147.4 518.3h0M159.5 502.2h0M150.8 515.2h0M179 532.2h0M181.1 529.8h0M168.9 546.5h0M160.1 493.5h0M158.1 508.8h0M156 512h0M168.9 542h0M152.3 514.2h0M170.3 542.8h0M171.1 537.2h0M155.9 508.2h0M150.3 516.3h0M167.4 548.6h0M155.6 513.2h0M150.4 516.5h0M170.5 540.6h0M176.2 533h0M170.2 540.3h0M185 530h0M181.1 529.8h0M160.7 486h0M173.3 536.8h0M184.8 530.4h0M170.7 539.7h0M150.6 516.2h0M156.2 510.7h0M189.6 528.6h0M169.8 544.8h0M183.3 529.1h0M177.4 531.2h0M139.7 520.5h0M157.9 508.7h0M131.5 521.6h0M148.7 518.7h0M155.8 512.8h0M171.3 540.7h0M156 512.2h0M155.5 510.8h0M186.6 529.8h0M177.3 533.6h0M145.9 517.7h0M173.3 535.1h0M144.5 518.1h0M157.2 510.9h0M168.6 542.6h0M148.1 518.7h0M188.5 528.7h0M183.9 529.4h0M150.6 517.8h0M187.3 529.1h0M167.5 546.9h0M171.9 537.2h0M185.4 529.7h0M178.5 531.4h0M147.8 517.8h0M170.9 536.9h0M181.6 529.7h0M169 541.7h0M156.4 511.7h0M159.8 499.6h0M179.1 530.6h0M158.3 507.4h0M172.3 535.4h0M156 509.2h0M189.4 529.4h0M158.8 506.6h0M180.2 531.9h0M157.2 504.9h0M176 533.1h0M169 547h0M149.2 518.5h0M150.1 516h0M182.2 530h0M180.9 530.3h0M170.3 539.3h0M153.7 513.4h0M150.7 516.3h0M146 518.9h0M148 517h0M180.7 530.6h0M174.6 534.1h0M169.4 541.5h0M175.2 532.1h0M130.8 521.3h0M154.9 510.7h0M157.6 505.3h0" stroke="#c6b3fc" stroke-width="3.4" stroke-linecap="round" stroke-opacity="1.0" fill="none"/>
<path d="M201.6 500.5h0M194.4 499.4h0M132.9 550.9h0M185.1 487h0M191.9 495.5h0M137.1 554.5h0M133.6 551.6h0M195 499.7h0M134.2 551.5h0M191.2 490.9h0M124.8 545.2h0M192.3 497h0M182.9 486.5h0M190.1 493.9h0M194.4 499.5h0M194.6 498.7h0M132.8 555h0M126.8 548.3h0M189.5 493h0M199.6 500.9h0M190.9 490.9h0M188.2 489.5h0M182.1 477.3h0M184.6 482.7h0M200 503.6h0M191.8 495.3h0M190.4 496.5h0M122.4 543.4h0M205.5 502.4h0M207.3 503.4h0M123.2 545.5h0M192 494.3h0M129.3 551.9h0M200.5 504.5h0M188.1 492.7h0M203.7 506.5h0M189.8 493.7h0M181.9 476.5h0M187.4 485.9h0M190.8 497h0M138.7 556.8h0M181.7 478.5h0M192.3 493.4h0M124.9 544.6h0M195.6 501h0M186.2 491.7h0M187.4 487.4h0M141 559.2h0M181.7 483.6h0M135.2 552.6h0M185.2 489.5h0M128.9 547.4h0M192.6 497.1h0M191.6 493.4h0M137.8 557.2h0M131.9 552.1h0M193.1 498.5h0M135.4 553.4h0M133.5 554.3h0M189 495.5h0M190.3 494.7h0M126.9 546.1h0M140.3 557.8h0M184.6 488.3h0M187.3 489.5h0M128.8 547.7h0M179.1 476h0M138.5 559.1h0M189.8 490.8h0M189 495.9h0M193.6 493.5h0M184.1 483.7h0M127.8 547.2h0M134.8 551.7h0M194.7 499.7h0M187.1 485.2h0M133.4 550.8h0M131.2 547.6h0M196.8 502.7h0M177.9 473.5h0M189.8 493.6h0M206.1 503.6h0M198.3 499.6h0M189.8 493.6h0M187.6 492h0M184.5 480.7h0M188.1 491.4h0M134.4 554.6h0M191.4 496.8h0M193.3 496.9h0M188.5 489.8h0M211.4 506.6h0M206.6 507.2h0M193.6 498.8h0M138.1 557.1h0M194.4 499.7h0M182.1 483.4h0M199.6 502.2h0M122.2 543.8h0M203.1 503.3h0M126.6 544.6h0M194.4 495.6h0M194.5 498.7h0M185.5 486.8h0M188.3 491.4h0M192.2 496.1h0M204.2 503h0M179.7 479.4h0M185.5 481.9h0M193.9 500.2h0M194.8 498.7h0M185 489.3h0M193 493.2h0M135.1 555.8h0M143.2 560.9h0M188.8 493.8h0M190 489.3h0M189 494.2h0M180 479.7h0M202.7 506.1h0M186 491.6h0M183.6 484.5h0M186.7 488h0M120.8 542.1h0M195.4 500.1h0M132.4 553.4h0M135.6 554.1h0M184.6 488.1h0M185 487.8h0M184.9 488.4h0M184.5 486.7h0M124.6 544.8h0M185.5 488.2h0M192.9 497.5h0M186.9 490.3h0M193.5 498.2h0M191.4 492.8h0M195.8 500.1h0M188.9 494.4h0M192.3 497.8h0M194.9 496.2h0M138.3 560.6h0" stroke="#fa9880" stroke-width="3.4" stroke-linecap="round" stroke-opacity="1.0" fill="none"/>
<path d="M173.3 541h0M168.7 553.5h0M174.6 536.4h0M153.7 509.1h0M172 541.1h0M177.1 534.3h0M191.2 530.6h0M184.5 533.5h0M182.9 532.6h0M154.3 509.2h0M172.5 538.9h0M178.4 534.2h0M192.7 529.6h0M147.9 515.3h0M149.9 512.7h0M154.1 507.6h0M152.9 512.2h0M148.6 514.1h0M150.8 510.9h0M153 509.8h0M144.6 515.3h0M145.5 517h0M152.9 509h0M155.9 506.4h0M170.5 546.6h0M151 510.8h0M204.4 527.9h0M158.3 495.9h0M186.5 531.9h0M187.6 531.7h0M207.1 528.8h0M150.5 513.3h0M182.4 533.4h0M148.8 515h0M168.7 550.4h0M137.4 519.5h0M154.5 509.8h0M153.9 509.5h0M174.7 538.5h0M175.1 535.8h0M149.4 515.3h0M150.5 510.7h0M152.6 511.2h0M176.9 537.6h0M177 535.3h0M151.8 512.1h0M153 512h0M185.7 532.4h0M147.8 516h0M151.1 511.1h0M151.8 510.9h0M151.9 509.8h0M172.8 540h0M173.6 538h0M175.5 535.5h0M146.7 517.1h0M202.8 529.1h0M170.3 548.9h0M148 514.4h0M182.7 533.2h0M173.8 541.2h0M155.6 508.4h0M167.7 560.5h0M143.2 517.6h0M171 544.7h0M154.5 509h0M179.9 532.6h0M177 536.7h0M150.4 511.4h0M176.1 538.5h0M172.8 540.2h0M173.1 540.7h0M177.2 534.7h0M175.8 539.3h0M156.7 504.9h0M156.4 505.3h0M159.7 487.6h0M178.7 533.6h0M148.1 514.6h0M156.3 506.3h0M155.4 504h0M171.3 547h0M146.7 516.1h0" stroke="#c3aefb" stroke-width="3.4" stroke-linecap="round" stroke-opacity="1.0" fill="none"/>
<path d="M152.6 504.4h0M184.2 534.4h0M150.3 509.8h0M182.9 535.2h0M182.1 537.8h0M145.2 514.1h0M140.7 516.1h0M171.2 551.7h0M148.7 511h0M155 503h0M179.1 538.7h0M148.8 511.3h0M138.8 517.3h0M179.3 540.5h0M185.8 533.2h0M151.2 507.3h0M150.9 505.8h0M143.6 514.8h0M142.3 513h0M177 541.2h0M142.9 513.3h0M149.1 507.1h0M175.8 541.3h0M185.2 535.6h0M174.9 541.3h0M184.6 535.6h0M197.2 531.2h0M185.4 534.8h0M178.5 539.9h0M175.2 540.9h0M181.7 536.2h0M137 517.5h0M196.3 530.9h0M149 510.9h0M184.7 536h0M182 535.6h0M146.8 509.8h0M147.8 508.7h0M176.8 539.4h0M128.5 518.1h0M170.6 552.5h0M185.9 535.4h0M178.9 539.1h0M138.1 515.4h0M137.6 515.5h0M195.3 531.4h0M146 511.2h0M179.6 536.1h0M153.7 500.4h0M153.2 504.5h0M173.4 544.8h0M187.8 535h0M191.6 532.5h0M151.7 504.8h0M172.1 546.5h0M186.7 533.8h0M155.7 493.1h0M180 536.5h0M187.8 533.6h0M144.7 511.5h0M143.6 512.7h0M135.7 516h0" stroke="#bfaafb" stroke-width="3.4" stroke-linecap="round" stroke-opacity="1.0" fill="none"/>
<path d="M151.2 502.2h0M140.6 509.9h0M136.1 514.9h0M147.8 505.9h0M177.9 544.8h0M149.2 503.2h0M175.1 550.6h0M148.3 503.5h0M137.8 514h0M146.5 504.8h0M139.6 513.6h0M151.1 502.6h0M188.1 537.7h0M174.7 547.8h0M175.6 550h0M140.1 510.9h0M195.2 533.3h0M139.2 510.6h0M145.3 505.9h0M182.5 541.3h0M192.3 534.7h0M190.3 537h0M193.4 534.8h0M179.7 541.3h0M143.1 508.8h0M150.2 500.8h0M153 499.1h0M139.8 513.9h0M190.6 535.1h0M185.8 539.9h0M188.4 535.5h0M184.9 540h0M150.8 501.4h0M183.9 538.8h0M180.4 540.9h0M149.1 505.6h0M184.2 538.5h0M157 484.7h0M195.1 533.4h0M155.9 490.9h0M181.5 540.9h0M146.1 505h0M181.7 540h0M180.9 539.6h0M149.9 504.9h0" stroke="#bba5fb" stroke-width="3.4" stroke-linecap="round" stroke-opacity="1.0" fill="none"/>
<path d="M199.9 492.8h0M194.8 487.1h0M124.1 552h0M138.9 563.5h0M199.9 491.8h0M184.4 473.9h0M186.4 478.6h0M180.9 470.1h0M188.5 483.1h0M192.5 492.1h0M189.8 485.1h0M133.4 559.7h0M199.8 492.4h0M199.8 495.1h0M189.3 484.6h0M191.9 487.7h0M196.9 490.2h0M137.4 564.5h0M209.5 503.8h0M194.4 492.8h0M132.8 561.8h0M126.8 551.7h0M195.3 492.1h0M199.1 497h0M187.8 478.4h0M199.8 492.4h0M211.3 501.4h0M202.3 495.3h0M197.1 490.8h0M195.8 494.4h0M129.2 558h0M199.4 494.4h0M116.2 547.1h0M123.8 553.8h0M210.2 502.7h0M132 558.1h0M191.2 482.4h0M127.9 555.5h0M186.9 483.3h0M186.4 476.3h0M200.4 492.7h0M190.8 485.4h0M128.4 552.7h0M197.9 492.8h0M193.6 492.3h0M189.4 487.9h0M191.4 485.1h0M200.8 496.7h0M199.1 496.5h0M193.1 491.1h0M198.5 493.9h0M131.9 556.3h0M123.8 552.9h0M198.3 493.2h0M194.6 491.3h0M202.5 499.3h0M194.1 491.1h0M196.4 493h0M124.4 554.8h0M198.3 491.5h0M113.5 546.5h0M188.1 483.2h0M197.7 492.3h0M182.9 475.9h0M186.3 483.1h0M201.3 499.3h0M191.1 489h0M199.1 492.1h0M129.5 556.8h0M197.8 493.1h0M127.7 553.4h0M188.6 483.3h0M218.9 507.5h0M189.1 481.8h0M115.8 548.7h0M208.3 499.4h0M121.8 548.4h0M202.1 499.5h0M122.1 552.1h0M199.4 492.8h0M126.6 552.4h0M130.4 560.6h0M199.7 492.7h0M192.5 489.8h0M120.5 547.7h0M129.6 553.7h0M185.4 479.7h0M196.7 491.7h0M192.4 486.9h0M189.7 482.6h0M189.8 487.5h0M191.4 487.9h0M199 491.2h0M123.9 553.3h0M200.3 498.7h0M192.6 491.3h0M194.1 489.2h0M127.5 553.6h0M196.3 490.2h0M128 554.3h0" stroke="#fa9279" stroke-width="3.4" stroke-linecap="round" stroke-opacity="1.0" fill="none"/>
<path d="M138.5 509.8h0M132.1 510.5h0M132.2 513.5h0M186.4 544h0M141.1 506.8h0M185.5 543.9h0M175.2 557.3h0M146.4 501.6h0M186.9 539.7h0M175.1 560.9h0M181.3 544.8h0M150.6 491.7h0M140.4 508.2h0M189.7 538.8h0M181.1 545.6h0M181.9 544.8h0M193 536.9h0M193.2 540.2h0M178 554.5h0M192.1 537.4h0M176.9 551.8h0M128.1 514.8h0M184.1 544.9h0M193.3 539h0M187.9 539.5h0M141.2 505.8h0M130.2 511.5h0M137.3 508.8h0" stroke="#b8a0fa" stroke-width="3.4" stroke-linecap="round" stroke-opacity="1.0" fill="none"/>
<path d="M121.4 510.7h0M199.4 538.2h0M132.5 509.6h0M120.4 511.6h0M185.2 551.5h0M146.8 495.6h0M146.6 491.3h0M140.5 500.6h0" stroke="#b49bfa" stroke-width="3.4" stroke-linecap="round" stroke-opacity="1.0" fill="none"/>
<path d="M194.7 544.4h0M125.1 505.5h0" stroke="#b096fa" stroke-width="3.4" stroke-linecap="round" stroke-opacity="1.0" fill="none"/>
<path d="M196.6 481.1h0M199.3 485.1h0M193 481h0M199.7 486.8h0M200.5 487.4h0M188.5 473.7h0M193 478.4h0M204.7 491.3h0M199.2 484h0M210.4 495.3h0M190.2 474.4h0M197.6 483.8h0M191.6 472.9h0M204.5 492.5h0M200.3 488.2h0M126.1 562.4h0M196.6 481.7h0M208.8 497h0M199.1 485.5h0M183.7 454.5h0M201.5 488.7h0M204.6 493.4h0M135.4 569.9h0M203.8 491.7h0M239.6 507.3h0M192.5 476.1h0M198.1 484.4h0M200.1 484.3h0M124.1 557.9h0M191 480.2h0M202.5 492.9h0M205.5 492.4h0M196.3 482.5h0M200.7 486.3h0M214.2 495.1h0M193.4 474.5h0M201.2 487.3h0M114.3 550.5h0M202.4 490.6h0M187.7 470.2h0M205.2 494.7h0M198.4 482.9h0M197.5 488.1h0M195.7 480.8h0M122.1 559.6h0M196.1 482.1h0M135.1 567.4h0M216.6 499.5h0M203.2 487.8h0M195.8 483.2h0M198.1 485.4h0M204.5 488.3h0M203.1 494.3h0M127.2 562.6h0M209.2 496.5h0M117.3 552.4h0M191.5 475h0M206.7 494.8h0M120.9 557.9h0M215 498.2h0M190 477.2h0M194.5 483.2h0M204.7 489.8h0M202.2 488.9h0M198.5 483.5h0M192.6 475.5h0M193.5 483.4h0M201.9 491.4h0M194.6 484.8h0M205 488.9h0M197.2 483.4h0M204.4 494.5h0M194.8 485.6h0M120.9 553.7h0M214.3 495.2h0M187.1 468.4h0M111.9 551.4h0M127.4 562.5h0M190.5 472h0M203.8 489.9h0M204.6 490.1h0M199 489.5h0M126.7 564.7h0M128.1 565h0M202.8 488.6h0M204 487.8h0M189.2 468.8h0M198.1 482h0M212 499.8h0M190.3 475.9h0M194.5 481.4h0M205.4 493h0M211 497.4h0M109.2 552.3h0M118.6 553.2h0M126.2 563.1h0" stroke="#fa8d72" stroke-width="3.4" stroke-linecap="round" stroke-opacity="1.0" fill="none"/>
<path d="M128.8 577.9h0M113.7 555.9h0M199.1 474.1h0M124.3 569.3h0M111.3 554.7h0M206.3 487h0M123.8 562.7h0M203.3 478.7h0M205.4 483.4h0M200.8 484.1h0M201.4 480.6h0M205.7 482.7h0M199.3 482.1h0M207.2 487.7h0M206.9 487.4h0M209.9 489.8h0M212.3 491.8h0M122.1 568h0M197.7 476.3h0M199.3 482.3h0M204.8 485.3h0M209.8 489.8h0M208.9 489.7h0M211.4 490h0M206 483.1h0M222 495.1h0M197.4 470h0M205.5 481.7h0M190.3 464.5h0M204.7 482.5h0M197.8 477.7h0M114.2 558.2h0M215.2 495.5h0M207.1 490.3h0M205 480.6h0M116.1 559.1h0M202.5 481.8h0M202.2 485.1h0M198.2 479.8h0M197.7 479.4h0M122.5 567.8h0M197.5 480.3h0M204.7 481h0M194.6 465.4h0M131.1 580.3h0M194.2 470.4h0M205.9 483.7h0M200.6 476.8h0M201.9 476.7h0M195.2 474.5h0M196.7 474.7h0M200.4 477h0M204.7 483.4h0M197.8 479h0M209.8 485.7h0M122.2 567.8h0M193.9 473.3h0M208.4 487.1h0M212.2 492.1h0M208.4 485.1h0M196 473.8h0M208.1 490.9h0M199.8 482.3h0M215.5 489.7h0M205.1 488.2h0M198.3 476.5h0M110.9 555.7h0M199 482.1h0M207.3 482.5h0M194.1 474.4h0M209 484.9h0M201.4 483.4h0M211.4 493.2h0M199 473.4h0M196.8 474.6h0M194.9 473h0M195.7 476.7h0M111.4 553.9h0M204.5 485.2h0M200.2 483.6h0M121.7 565.4h0M215.8 490.3h0M198.7 480h0M208.1 484.8h0M204 482.3h0M201.3 481.6h0M203.3 484.2h0M194.7 472.4h0M197 475.3h0M121.4 560.6h0M197.5 474.3h0M204.7 486.2h0M209.4 485.3h0M195.7 476.4h0M213.7 494.4h0M201.6 479.2h0" stroke="#f9876c" stroke-width="3.4" stroke-linecap="round" stroke-opacity="1.0" fill="none"/>
<path d="M201.3 551.5h0" stroke="#ac91f8" stroke-width="3.4" stroke-linecap="round" stroke-opacity="1.0" fill="none"/>
<path d="M202 552.8h0" stroke="#a78bf7" stroke-width="3.4" stroke-linecap="round" stroke-opacity="1.0" fill="none"/>
<path d="M130.2 489.1h0" stroke="#a386f5" stroke-width="3.4" stroke-linecap="round" stroke-opacity="1.0" fill="none"/>
<path d="M204.1 477.5h0M205.7 480h0M207.2 476.9h0M199.3 465.1h0M208.4 478.2h0M102.7 560.7h0M196.5 457.9h0M214.5 487.3h0M116.6 566h0M202.1 472.3h0M202.9 469.4h0M206.7 474.8h0M197.9 468.3h0M208.2 478.9h0M201.5 469.4h0M215.8 481.7h0M201.9 467.7h0M196.2 460.6h0M208.8 479.8h0M208.1 477.2h0M121 574.6h0M206.6 479.2h0M199.6 470.1h0M201.6 474.6h0M209.3 476.9h0M199.6 471.8h0M200.9 469.7h0M119.5 567.1h0M114.4 565.7h0M106.4 564.4h0M194.9 457.2h0M123.9 577.3h0M233.6 494.2h0M195.5 461.1h0M205.9 479h0M210.5 482.2h0M196.5 458.2h0M202.1 476.1h0M201.6 472.4h0M198.7 467.3h0M203.4 468.3h0M212.9 485.8h0M212 479.4h0M211.5 477.7h0M205.7 471.8h0M207 475.9h0M202.4 473.8h0M210.3 482.2h0M204.6 474.5h0M204.9 479.1h0M209.4 479.3h0M212.2 484.2h0M201.8 473.9h0M200.2 470.3h0M209.7 478.6h0M199.7 470.8h0M194 460.6h0M112.8 569.1h0M109.9 565h0M202.2 474h0M200.8 472.4h0" stroke="#f98265" stroke-width="3.4" stroke-linecap="round" stroke-opacity="1.0" fill="none"/>
<path d="M220.5 481h0M210.5 467.1h0M209.4 458.2h0M211.2 472.4h0M110 570.7h0M208.7 464.6h0M215.6 468.8h0M212.8 473.7h0M212.9 474h0M216.6 480.6h0M217 475.9h0M202.1 459h0M205.2 454.5h0M98.1 566.9h0M213.6 468.5h0M214 470h0M208.3 470.5h0M214.9 474.7h0M204.5 458.6h0M208.6 469.7h0M207.8 459.2h0M96.2 565h0M211.5 473.5h0M207.5 458.7h0M114.8 572h0M218.1 481.1h0M218.9 469.5h0M209.9 462.9h0M198.8 452.4h0M209.7 472.2h0M214.6 474.3h0M212.6 469.1h0M224.6 483.6h0M206.3 455.7h0M214 479.2h0M216.5 479.7h0M227 478.6h0M240 489.9h0M206.1 470.1h0M212 463.1h0M219.7 470.1h0M203.3 450h0M107.9 576.1h0M218.3 469h0M216.6 470h0M116.8 582.4h0M211 468.8h0M208.5 465.6h0M207.9 468.7h0M217.3 476h0M204.1 465.2h0M204.3 465.4h0M224.4 478.3h0M203.4 464.4h0M204.9 465.4h0M217.9 468.4h0M206.8 458.5h0M220.4 479.8h0M206.5 470.5h0M210.8 472.4h0M209 471.2h0M213.7 464.8h0M213.1 474.3h0M210 470.8h0M223 476.9h0M220.3 483.6h0M208 459.4h0M213.1 477.4h0M215.5 480.5h0M208.5 466.5h0M203.7 455.3h0M206.6 469.3h0M214.2 475.3h0M223 474.2h0M202.7 458.5h0M205.2 466.9h0M217.4 476.9h0M206 457.9h0M209.5 473.7h0M225 477.7h0M206.2 469.2h0M227.9 478.7h0M204.4 464.5h0M204.2 465h0M234.1 491.7h0M211.9 473h0M118.9 578h0M201.2 463.8h0M201.4 462.4h0M220.3 480.1h0M224.7 474.9h0M210.4 471.3h0M215.1 468.1h0M213.6 463.7h0M212.2 462.6h0M205.4 455.6h0M207.1 470.1h0M211.1 470.1h0M204.6 458.9h0M206.3 458.9h0M221.4 475.3h0" stroke="#f97c5e" stroke-width="3.4" stroke-linecap="round" stroke-opacity="1.0" fill="none"/>
<path d="M222.2 456.8h0M223 460.4h0M227.7 465h0M211 446.5h0M231.8 469.2h0M218.6 458.5h0M217.2 447.6h0M224.7 469.6h0M225.1 457.6h0M218.8 457.8h0M216 461.7h0M210.8 458.5h0M232.8 465.3h0M211.8 459.1h0M215.6 458.4h0M220.8 462.6h0M221 470.3h0M219.1 463.8h0M217.6 458.6h0M209.6 457.6h0M232.7 471h0M213.8 446.2h0M221.8 461.8h0M218.3 454.6h0M224.7 473.7h0M226.3 473.3h0M223 463.3h0M214.5 462.5h0M214.1 459.6h0M204.6 440.4h0M227.1 472.6h0M229.2 474.2h0M213.1 457.2h0M205.1 447.9h0M217.3 467h0M211.5 455.2h0M208.7 438.6h0M222.4 465.5h0M221 463.2h0M223.8 461.2h0M229.5 465.7h0M219.9 457.9h0M222.6 454.3h0M223.3 467.6h0M226.3 468.6h0M212.9 450.4h0M214.3 457.1h0M228.8 461.9h0M218.6 460.8h0M238.4 476.2h0M232.1 474.1h0M245.7 479.3h0M221.2 451.8h0M222.8 464.7h0M211.6 454.8h0M216.4 460.5h0M215.4 449.8h0M216.3 458.4h0M226.2 471h0M219.5 468.8h0M212.6 459.3h0M205.1 443.8h0M204.8 449.7h0M212.2 455h0M223.1 466.2h0M216.7 466h0M205.8 447.1h0M221.5 467.2h0M230.2 466.3h0M99.2 574.4h0M105.5 581.4h0" stroke="#f67559" stroke-width="3.4" stroke-linecap="round" stroke-opacity="1.0" fill="none"/>
<path d="M232.2 461.9h0M233.4 450.4h0M220.4 449.9h0M257.7 471.2h0M227.9 455.9h0M233 451.3h0M227.1 454.9h0M222.1 447.6h0M222.7 450.9h0M223.9 454.1h0M236.5 459.9h0M222.8 444h0M99.1 590.7h0M234.7 449.8h0M222.7 443.8h0M228.2 455.8h0M228.6 459.4h0M224.5 443.4h0M228.8 459.4h0M232.6 447.7h0M227.2 449h0M228.2 451.2h0M250.1 463.4h0M227.1 457.8h0M230.8 459.7h0M230.4 451.6h0M243.9 466.8h0M232.3 456.2h0M234.1 457.1h0M94.4 588.6h0" stroke="#f46e53" stroke-width="3.4" stroke-linecap="round" stroke-opacity="1.0" fill="none"/>
<path d="M229.9 439.4h0M242.5 455.5h0M254 453.6h0M246.5 452.4h0M230 434.9h0M237.6 447.2h0M227.7 434.4h0" stroke="#f1664e" stroke-width="3.4" stroke-linecap="round" stroke-opacity="1.0" fill="none"/>
<path d="M249.2 441.7h0M253.8 440.5h0M237.9 433h0M241.3 440.1h0M256.6 445.5h0" stroke="#ee5f48" stroke-width="3.4" stroke-linecap="round" stroke-opacity="1.0" fill="none"/>
<path d="M246 431.8h0" stroke="#ec5843" stroke-width="3.4" stroke-linecap="round" stroke-opacity="1.0" fill="none"/>
<path d="M247.3 415.1h0" stroke="#e9513e" stroke-width="3.4" stroke-linecap="round" stroke-opacity="1.0" fill="none"/>
<path d="M254.7 413.8h0" stroke="#e64a38" stroke-width="3.4" stroke-linecap="round" stroke-opacity="1.0" fill="none"/>
<path d="M264.9 405.9h0" stroke="#e34233" stroke-width="3.4" stroke-linecap="round" stroke-opacity="1.0" fill="none"/>
<path d="M275.3 392.8h0M268.6 395.3h0M285.9 410.8h0M296 396.5h0" stroke="#de3428" stroke-width="3.4" stroke-linecap="round" stroke-opacity="1.0" fill="none"/>
</g>
<path d="M163.5 361.5V633M55.5 524.8H327.5" stroke="#a8a8a8" stroke-width="0.75" stroke-opacity="0.9" fill="none"/>
<rect x="55.5" y="361.5" width="272.0" height="271.5" fill="none" stroke="#cfcfcf" stroke-width="1"/>
<path d="M60.9 633V636.2M112.2 633V636.2M163.5 633V636.2M214.8 633V636.2M266.1 633V636.2M317.4 633V636.2M52 613.9H55.5M52 524.8H55.5M52 435.6H55.5" stroke="#b5b5b5" stroke-width="0.9" fill="none"/>
<text transform="translate(60.9,648.9) scale(1.080,1)" font-size="11.4" fill="#222" text-anchor="middle" font-family='"Liberation Sans", sans-serif' font-weight="normal"  stroke="#222" stroke-width="0.15">-2</text>
<text transform="translate(112.2,648.9) scale(1.080,1)" font-size="11.4" fill="#222" text-anchor="middle" font-family='"Liberation Sans", sans-serif' font-weight="normal"  stroke="#222" stroke-width="0.15">-1</text>
<text transform="translate(163.5,648.9) scale(1.080,1)" font-size="11.4" fill="#222" text-anchor="middle" font-family='"Liberation Sans", sans-serif' font-weight="normal"  stroke="#222" stroke-width="0.15">0</text>
<text transform="translate(214.8,648.9) scale(1.080,1)" font-size="11.4" fill="#222" text-anchor="middle" font-family='"Liberation Sans", sans-serif' font-weight="normal"  stroke="#222" stroke-width="0.15">1</text>
<text transform="translate(266.1,648.9) scale(1.080,1)" font-size="11.4" fill="#222" text-anchor="middle" font-family='"Liberation Sans", sans-serif' font-weight="normal"  stroke="#222" stroke-width="0.15">2</text>
<text transform="translate(317.4,648.9) scale(1.080,1)" font-size="11.4" fill="#222" text-anchor="middle" font-family='"Liberation Sans", sans-serif' font-weight="normal"  stroke="#222" stroke-width="0.15">3</text>
<text transform="translate(49.5,618) scale(1.080,1)" font-size="11.4" fill="#222" text-anchor="end" font-family='"Liberation Sans", sans-serif' font-weight="normal"  stroke="#222" stroke-width="0.15">-2</text>
<text transform="translate(49.5,528.9) scale(1.080,1)" font-size="11.4" fill="#222" text-anchor="end" font-family='"Liberation Sans", sans-serif' font-weight="normal"  stroke="#222" stroke-width="0.15">0</text>
<text transform="translate(49.5,439.7) scale(1.080,1)" font-size="11.4" fill="#222" text-anchor="end" font-family='"Liberation Sans", sans-serif' font-weight="normal"  stroke="#222" stroke-width="0.15">2</text>
<text transform="translate(191.5,664.3) scale(1.115,1)" font-size="13.5" fill="#111" text-anchor="middle" font-family='"Liberation Sans", sans-serif' font-weight="normal"  stroke="#111" stroke-width="0.18">logFC / Malawi</text>
<text transform="translate(33,496.9) rotate(-90)" font-size="14.9" fill="#111" text-anchor="middle" font-family='"Liberation Sans", sans-serif' font-weight="normal"  stroke="#111" stroke-width="0.18">logFC / South Africa</text>
<defs><clipPath id="clipD"><rect x="384.5" y="360.5" width="295.0" height="273.0"/></clipPath></defs>
<path d="M429.2 360.5V633.5M492.1 360.5V633.5M555.1 360.5V633.5M618 360.5V633.5M681 360.5V633.5M384.5 587.5H679.5M384.5 530H679.5M384.5 472.4H679.5M384.5 414.9H679.5M384.5 357.3H679.5" stroke="#f4f4f4" stroke-width="0.6" fill="none"/>
<path d="M397.7 360.5V633.5M460.7 360.5V633.5M586.6 360.5V633.5M649.5 360.5V633.5M384.5 616.3H679.5M384.5 558.8H679.5M384.5 443.6H679.5M384.5 386.1H679.5" stroke="#eeeeee" stroke-width="0.7" fill="none"/>
<path d="M523.6 360.5V633.5M384.5 501.2H679.5" stroke="#b2b2b2" stroke-width="0.8" fill="none"/>
<g clip-path="url(#clipD)">
<path d="M526.6 489.9H545.8M536.2 503.1V476.7M532.7 502.2H563.6M548.1 511.9V492.5M510.4 490.5H551M530.7 502.4V478.7M520.6 466.6H571.3M546 481V452.2M538.5 482.1H558.1M548.3 491.1V473.1M523.1 490.2H544M533.5 509.1V471.4M464.7 496.7H533.8M499.3 506.4V487M542.6 472.3H564.7M553.6 486.8V457.9M508.3 514.7H537.8M523 524.1V505.3M512.9 493.3H553M532.9 505.5V481.2M524.4 486H549.8M537.1 496.7V475.4M466.6 517.7H520.1M493.3 536.5V498.9M490.5 507.4H527.1M508.8 512.9V501.8M533.4 469.2H563M548.2 480.3V458.1M501.5 517H520.8M511.1 526V508M495.4 502.8H537.8M516.6 510.3V495.3M495.9 501.1H528.2M512.1 507.6V494.7M541.1 480H581.1M561.1 486.1V473.9M528.5 476.3H566M547.3 489.6V463M494.1 489.6H541.9M518 507.2V472M480.2 541.4H525.2M502.7 551.4V531.3M511.4 493H538.8M525.1 499.9V486.1M514.3 493.8H546.6M530.4 498.8V488.8M517.1 480.7H572M544.5 502.3V459.2M509.8 474.2H570.8M540.3 483.8V464.5M509.7 477.4H558.6M534.2 481.7V473.1M504.4 489.4H540.8M522.6 498.2V480.6M503.9 497.6H563.6M533.7 504.7V490.6M528.7 468.8H566.5M547.6 487.6V450M493.4 489.7H529.3M511.4 502.5V477M497.8 512.5H543M520.4 525.3V499.8M502.8 517.3H523.3M513 529.5V505.2M535 491H564.8M549.9 503.8V478.3M528.7 488.7H543.9M536.3 511.9V465.5M522.1 485.8H572.6M547.4 503.7V468M529.5 493H567.5M548.5 511.8V474.1M533.4 473.1H555.4M544.4 483.7V462.5M508.6 520.3H529.9M519.2 528.1V512.5M497.7 511.2H544.9M521.3 518.9V503.5M524.8 496.9H547.3M536.1 508.4V485.5M533.9 482.4H553.9M543.9 498.6V466.2M527 488.2H558M542.5 497.3V479.1M469.8 527.7H510.9M490.3 535.2V520.1M509.8 502.3H540.6M525.2 522.3V482.3M501.4 511.8H521.2M511.3 518V505.7M480.7 511.7H518M499.3 529.9V493.6M492.3 521.6H540.8M516.6 539.3V503.9M501 504H529.6M515.3 511.2V496.8M475.8 526.9H516.7M496.2 536V517.8M516.1 486.8H533.6M524.8 496.3V477.2M553.1 475.2H589.3M571.2 483.4V466.9M516.3 511.6H539.9M528.1 524.4V498.9M509.6 488.1H536.3M523 498.3V477.9M527.9 479.7H555.8M541.9 496.5V462.9M531.8 494.1H558.9M545.4 505.1V483M527.3 508.5H549.2M538.3 532V485.1M521.8 492.7H543.3M532.5 511.1V474.4M516.3 486.1H544M530.1 492.1V480.1M499.9 511.8H527.2M513.5 523.6V500.1M499.9 520.5H531.1M515.5 529.1V511.8M505.6 482.9H553.2M529.4 494.9V470.8M493.5 519.5H524.5M509 525.8V513.2M541.5 489.4H558.9M550.2 503.6V475.2M511.6 486.1H564.5M538.1 495.6V476.6M502.7 509.2H538.5M520.6 517.9V500.5M563.7 481.7H579.8M571.7 494.1V469.2M512.6 502.2H534.2M523.4 511.9V492.5M489.6 507.2H541.1M515.4 515.9V498.5M527 472.7H569.6M548.3 480.3V465.1M519.8 497.2H561.9M540.9 507.8V486.5" stroke="#c6c6c6" stroke-width="0.9" stroke-opacity="0.55" fill="none"/>
<path d="M446.6 510.7H501M478.1 520V500" stroke="#c6c4c4" stroke-width="0.9" stroke-opacity="0.55" fill="none"/>
<path d="M471.6 561.5H511.8M491.7 569.2V553.7M549.3 459.2H589.3M569.3 473.3V445M474.9 532.6H489.6M482.3 540.4V524.8M548.6 462.7H598.7M573.6 501.4V423.9M550.3 472.2H590.3M570.3 481.1V463.2M551.3 460.3H587.6M569.4 479V441.6M570.4 468.9H585.9M578.2 486.4V451.4" stroke="#c8c0be" stroke-width="0.9" stroke-opacity="0.55" fill="none"/>
<path d="M446.6 529.7H473.8M460.6 540.8V518.5" stroke="#ccb2ac" stroke-width="0.9" stroke-opacity="0.55" fill="none"/>
<path d="M559.4 455.6H596.2M577.8 468.2V443M554.9 452.4H583.2M569.1 462V442.8M555.3 446.9H584.7M570 462.8V431" stroke="#cab9b6" stroke-width="0.9" stroke-opacity="0.55" fill="none"/>
<path d="M547 438.4H588.3M567.7 453.2V423.5M577.7 452.8H611.5M594.6 459.5V446.2M546 437.5H601.7M573.9 444.6V430.4M574.3 450.5H599.7M587 466.4V434.5M549.4 452.3H613.6M581.5 464V440.5" stroke="#cdb2ad" stroke-width="0.9" stroke-opacity="0.55" fill="none"/>
<path d="M588.9 460.8H626.8M608.3 473V448.7" stroke="#daa091" stroke-width="0.9" stroke-opacity="0.55" fill="none"/>
<path d="M548.8 445H622.8M585.8 451.7V438.3M565.2 438.6H592.9M579 449.7V427.6M566.3 443.7H609.3M587.8 460.1V427.2M576.1 445.5H596.8M586.4 459.2V431.8M564.2 438.3H603.1M583.6 447.8V428.8M574.1 434.4H592.4M583.3 446.7V422.1" stroke="#cfaca5" stroke-width="0.9" stroke-opacity="0.55" fill="none"/>
<path d="M456.4 585.9H500M478.1 598.1V573.8" stroke="#d88474" stroke-width="0.9" stroke-opacity="0.55" fill="none"/>
<path d="M436.9 564.7H474.8M457.7 580.6V548.6" stroke="#dca096" stroke-width="0.9" stroke-opacity="0.55" fill="none"/>
<path d="M558.8 426.6H602.7M580.7 440.2V413M575.5 428.1H602.6M589 437.4V418.9M575.4 436.6H601.5M588.4 451.1V422.1M579.3 428.4H596.5M587.9 436.7V420.1" stroke="#d1a69d" stroke-width="0.9" stroke-opacity="0.55" fill="none"/>
<path d="M566.5 411.8H604.4M586 434.1V394.3" stroke="#dca094" stroke-width="0.9" stroke-opacity="0.55" fill="none"/>
<path d="M577.5 426.1H618.7M598.1 440V412.2" stroke="#d49f94" stroke-width="0.9" stroke-opacity="0.55" fill="none"/>
<path d="M594.2 424.8H614.6M604.4 440.4V409.1" stroke="#d6988c" stroke-width="0.9" stroke-opacity="0.55" fill="none"/>
<path d="M585 425.8H650M621.5 459.4V402.1" stroke="#dea094" stroke-width="0.9" stroke-opacity="0.55" fill="none"/>
<path d="M421 604.4H479.7M450.5 621.5V588.4" stroke="#e2705c" stroke-width="0.9" stroke-opacity="0.55" fill="none"/>
<path d="M599.2 417.8H634M616.6 425.6V410.1" stroke="#d78276" stroke-width="0.9" stroke-opacity="0.55" fill="none"/>
<path d="M561.7 403.6H626.8M616.7 434.1V372.9" stroke="#d8ac9e" stroke-width="0.9" stroke-opacity="0.55" fill="none"/>
<path d="M515.6 498.5H541.1M528.3 519.5V477.5M509.8 485.5H561.7M535.8 521.5V449.5M502.6 494.7H538.7M520.7 506.9V482.5M524.2 479.4H539.1M531.7 494.2V464.6M505.5 483.5H540.2M522.9 500.5V466.4M492.6 534H517.6M505.1 541.1V526.9M498 522.5H529.5M513.8 534.1V511M478.2 496.9H505.4M491.8 508.5V485.4M503.9 507.1H527.9M515.9 515.6V498.6M471.2 533.7H516.1M493.6 539.5V528M486.2 509.7H535M510.6 522.2V497.1M523.6 468.8H553.3M538.4 475.9V461.7M539.1 471.5H570.7M554.9 481.1V461.8M544 480H570.6M557.3 492.2V467.8M536 484.2H555.2M545.6 496.7V471.6M532.3 490.9H567.2M549.7 498.6V483.3M509.7 506.4H535.6M522.6 516.2V496.7M538.2 481.8H579M558.6 489.1V474.5M496.3 514H525.6M511 529.5V498.5M475 539.3H519.6M497.3 555.5V523.1M488.6 492.8H547.7M518.1 508V477.5M475.4 521.8H515.7M495.6 532.6V511M519.9 510.6H543.5M531.7 534.9V486.2M537.4 478.2H573.1M555.3 488V468.4M538.1 490.7H564.2M551.1 504.4V476.9M475.9 517.3H531.9M503.9 528.2V506.4M518.6 495.8H527.9M523.2 508.7V483M540.3 496.3H571.7M556 506.7V486M540.3 480.3H590.4M565.4 490.1V470.5M522.3 473.2H555.3M538.8 481.2V465.3M506.6 491.3H538.8M522.7 511.5V471.1M498.7 499.4H541.8M520.3 506.1V492.8M518.5 484H573.8M546.1 499.5V468.5M517.7 485.9H558M537.9 492V479.7M531.5 486.3H597.7M564.6 492.1V480.6M521.7 483.4H556.9M539.3 492.7V474.2M516.6 507.9H546.6M531.6 514.9V500.9M477.1 526H499.8M488.5 533.5V518.6M500.8 500.9H522.8M511.8 515.7V486.2M524 499.4H550.6M537.3 524V474.8M491.6 505.1H538.2M514.9 512.4V497.9M519 494.5H545.4M532.2 501.5V487.5M526.7 470.7H568.3M547.5 503.7V437.7M509.5 484.3H537.5M523.5 495V473.6M496.8 516.8H510.8M503.8 524V509.6M556.3 487.4H573.5M564.9 501.1V473.8M534.7 489.8H562.7M548.7 504.1V475.4M506.9 506.1H528.7M517.8 519.2V493M503.3 472.3H565.6M534.4 488.9V455.7M489.3 512.2H517.6M503.5 525.6V498.8M463.1 525.2H521.9M492.5 539.5V510.9M517.6 466H548.9M533.3 474.4V457.5M538.4 478.5H561.6M550 504.4V452.6M471.8 497.9H524.1M497.9 508.1V487.6M528.1 495.9H545.8M536.9 501.7V490.1M484.6 500.8H540.4M512.5 511.1V490.4M517.5 530.4H536.3M526.9 547.5V513.2M513.7 495.1H543.2M528.5 507.5V482.6M509 495.8H549.1M529 508.4V483.1M525.2 513.7H564.8M545 527.5V499.9M499 514.8H526.8M512.9 530.8V498.8M533.4 486.9H561.5M547.5 493.1V480.6M516.6 493.4H546.3M531.5 503.6V483.2M516.9 482.1H555.5M536.2 496.1V468.1M500.2 499.7H525.4M512.8 511V488.3M530.5 457.9H572.6M551.5 467.6V448.2M502.9 484H527.3M515.1 496.1V471.8M541.1 479.9H575.9M558.5 490.1V469.8M509.3 493.4H529.5M519.4 505.3V481.4M492.1 516.6H526.8M509.4 530.7V502.5M536.6 495.3H559.6M548.1 500.8V489.8M517.6 495.5H538.2M527.9 505.7V485.3M498.8 516.6H528.8M513.8 529.8V503.4M491.6 506.1H524.8M508.2 527.4V484.8M502.1 523.7H528.2M515.1 533.5V513.9M496.5 501.4H540.7M518.6 511.9V491M517.5 473.8H582M549.7 484.5V463.2M489.7 531.2H506.1M497.9 542.4V519.9" stroke="#c6c6c6" stroke-width="0.9" stroke-opacity="0.55" fill="none"/>
<path d="M505 429.8H566M536.6 445V414" stroke="#c4c4c4" stroke-width="0.9" stroke-opacity="0.55" fill="none"/>
<path d="M546 462.2H571.9M559 476.8V447.5M547 454H581.1M564 466.4V441.7M551.5 459.3H564.3M557.9 469.1V449.6M548.2 460.8H574.2M561.2 471.5V450.1M549.1 462.8H565.2M557.2 475.4V450.2M559.9 463.6H568.8M564.3 473V454.2M545.4 466.9H584.9M565.1 478.3V455.4M535.7 447.8H578.8M557.3 458.6V437M540 465.6H582M561 474.9V456.3M552.2 452.5H571.5M561.8 459.2V445.7M554.6 464.3H576.7M565.6 478.7V449.8M557.3 457.9H580.1M568.7 465.5V450.4M544.8 458.6H569.4M557.1 464.5V452.8M554.3 456.8H579.8M567 464.3V449.4" stroke="#c8c0be" stroke-width="0.9" stroke-opacity="0.55" fill="none"/>
<path d="M477.7 573.5H514.6M495.2 589.4V558.3" stroke="#cdb6b2" stroke-width="0.9" stroke-opacity="0.55" fill="none"/>
<path d="M549 434.1H569.4M559.2 453.7V414.5M560.2 455.3H582.6M571.4 467.3V443.3" stroke="#cab9b6" stroke-width="0.9" stroke-opacity="0.55" fill="none"/>
<path d="M554.9 437H586.7M570.8 444.8V429.3M571.5 455.1H598.4M584.9 463.3V446.9M549.2 432.2H590.9M570 444.8V419.6M559.6 447.8H614.2M586.9 465.1V430.6" stroke="#cdb2ad" stroke-width="0.9" stroke-opacity="0.55" fill="none"/>
<path d="M562.3 418.6H599M580.6 440.8V396.4" stroke="#d1a69d" stroke-width="0.9" stroke-opacity="0.55" fill="none"/>
<path d="M572.6 430H627.2M599.9 439.7V420.3" stroke="#d49f94" stroke-width="0.9" stroke-opacity="0.55" fill="none"/>
<path d="M579.1 434.1H629.7M605.4 451.6V422.5" stroke="#de9687" stroke-width="0.9" stroke-opacity="0.55" fill="none"/>
<path d="M577.5 417.5H627.3M602.4 438.1V396.8" stroke="#d89284" stroke-width="0.9" stroke-opacity="0.55" fill="none"/>
<path d="M561.7 404.6H604.4M594.3 434.1V374.9" stroke="#d6aa9e" stroke-width="0.9" stroke-opacity="0.55" fill="none"/>
<path d="M614.1 398.8H666.2M639.8 419.6V378.2" stroke="#c8121e" stroke-width="0.9" stroke-opacity="0.55" fill="none"/>
<path d="M533.1 494.5H546.7M539.9 510.7V478.3M553.9 468.7H564.9M559.4 480.5V456.8M482.6 509.1H511.2M496.9 522.3V495.8M499 506.9H533.6M516.3 515.3V498.4M528.8 493.3H545.7M537.2 505.8V480.9M491.6 536.7H524.1M507.9 556.6V516.7M467.1 525.9H514.5M490.8 534.1V517.6M528.5 508.7H548.2M538.4 525.6V491.8M534.1 469.4H553.5M543.8 487.3V451.5M522.4 473H589.7M556.1 480.2V465.9M523.9 529.3H551.8M537.8 546.2V512.3M492.2 526.3H522.3M507.2 539.9V512.6M487.9 521.6H544.6M516.3 531.4V511.8M529.6 467.1H549.9M539.8 472.1V462M529.3 490.2H560.2M544.7 503.6V476.7M539.2 460.8H559.9M549.5 465.8V455.8M499.2 497.9H537M518.1 506.1V489.7M502.2 490H574M538.1 500V480.1M541.9 475H553.7M547.8 486.8V463.3M533.5 489.4H563.4M548.5 504.7V474.2M527.9 482H550.6M539.2 491.6V472.4M466.1 533H510.1M488.1 543.2V522.9M519.7 509.3H555.2M537.5 518.9V499.7M504.4 504.1H536M520.2 515.9V492.2M494 497.7H544.6M519.3 508.3V487.2M505.8 499H546.3M526.1 525.5V472.6M545.5 485.8H575.7M560.6 500.1V471.6M545.4 484.1H560.9M553.2 497.1V471.1M500.8 500.3H530.3M515.5 508.2V492.4M493.9 506.6H513.6M503.7 516.2V497M511.8 497.1H551.7M531.7 504.6V489.5M476.5 506.6H499M487.8 512.8V500.4M527.2 475.5H551.2M539.2 487.5V463.5M530.5 485.9H554.9M542.7 492.7V479.1M509.1 514.7H534.6M521.8 532.2V497.2M493.3 495.2H574M533.7 507.8V482.7M515.6 509H538.7M527.1 520.6V497.4M499.7 529.8H518.3M509 545.5V514M499.5 487.2H547.2M523.4 496.5V477.9M533.9 488.4H575M554.5 500.2V476.6M487.2 535H513.5M500.3 544V526M507.8 509.6H537.8M522.8 519.9V499.4M496.1 492.5H559.4M527.7 500.1V484.9M533.7 483.5H588.1M560.9 489.5V477.5M530.3 470.6H567.5M548.9 479.9V461.3M515 496H544.6M529.8 506.9V485.1M509.6 508.3H531.5M520.6 515.6V501.1M529.4 511.8H553.6M541.5 535.1V488.5M511.3 482.4H554.4M532.8 495.6V469.2M525.5 476.4H545.4M535.5 489.4V463.4M481.9 524.3H530.1M506 538.7V509.9M489.4 500.1H518.6M504 508.8V491.4M495.2 476.6H571.5M533.3 488.4V464.7M512.1 484.9H563.4M537.8 496.1V473.8M533.8 461.1H560.3M547.1 471.8V450.4M535.2 477.5H561.2M548.2 483V472M505.7 483.1H567.6M536.6 501.5V464.8M497.1 500.9H513.6M505.4 509.8V492M498.2 503.2H542.4M520.3 519.2V487.2M513.5 493.2H549.4M531.4 516V470.4M476 507.6H506M491 518.1V497M540.8 491.7H560.9M550.8 499.8V483.5M534 471.5H552.4M543.2 481.1V461.9M537.9 475.7H572M554.9 486.2V465.3M543.1 487H563.6M553.4 502.9V471.2M524.7 490.9H563.8M544.2 498.8V483.1M534.9 499.2H568.5M551.7 518.1V480.3M509.5 472.9H543.3M526.4 486V459.8M517.5 505.5H553.3M535.4 520.5V490.5M530.3 477.6H550.5M540.4 486.4V468.8M521.7 510.7H542.1M531.9 533.2V488.2M538.9 470.8H558.8M548.8 483.8V457.8M524.7 483.8H555.2M539.9 498.9V468.8M488.9 522.2H516.3M502.6 542.9V501.6M533.7 490.5H557.9M545.8 500.2V480.9M505.8 493.9H552.1M529 503.5V484.3M514.9 494.9H537.9M526.4 503.6V486.2M485.4 528.9H528.2M506.8 538.6V519.2M488.8 511.2H525.3M507.1 516.3V506M505.6 483.3H561.4M533.5 491.2V475.4M499.9 504.7H515.2M507.6 514.5V495M493.8 491.7H524.7M509.3 505.2V478.3" stroke="#c6c6c6" stroke-width="0.9" stroke-opacity="0.55" fill="none"/>
<path d="M477.7 565.7H534M514.3 589.4V552.5" stroke="#c4c4c4" stroke-width="0.9" stroke-opacity="0.55" fill="none"/>
<path d="M569.6 474.5H583M576.3 485.7V463.3M460.4 540.3H498.5M479.4 551.2V529.4M518.6 458.3H602.6M560.6 470V446.6M559.9 460.1H575M567.4 477.4V442.8M471.4 546.4H513M492.2 554.2V538.7M543.8 465.8H582.2M563 476.9V454.7M554.6 463.8H571.8M563.2 478.4V449.2" stroke="#c8c0be" stroke-width="0.9" stroke-opacity="0.55" fill="none"/>
<path d="M546.1 446.8H583.2M564.6 453V440.7M572.8 463.3H594.7M583.8 481.4V445.1M550.8 450.1H586.6M568.7 456.4V443.7M558.5 454.7H598.6M578.6 467.3V442.1M563.6 448.6H583M573.3 455.5V441.8" stroke="#cab9b6" stroke-width="0.9" stroke-opacity="0.55" fill="none"/>
<path d="M462 556.9H496M478.5 566V544.7" stroke="#d0b2ac" stroke-width="0.9" stroke-opacity="0.55" fill="none"/>
<path d="M582.2 459.9H610.3M596.3 473.4V446.5M547.3 451.2H609.6M578.4 460.8V441.7" stroke="#cdb2ad" stroke-width="0.9" stroke-opacity="0.55" fill="none"/>
<path d="M458.3 567H495.2M475.4 579.7V555.4" stroke="#daa59b" stroke-width="0.9" stroke-opacity="0.55" fill="none"/>
<path d="M553.6 433.5H596.2M574.9 450.8V416.2" stroke="#cfaca5" stroke-width="0.9" stroke-opacity="0.55" fill="none"/>
<path d="M581.9 433H598.6M590.3 445.2V420.9" stroke="#d1a69d" stroke-width="0.9" stroke-opacity="0.55" fill="none"/>
<path d="M575 419.2H612M594.3 443.8V397.2" stroke="#dc9687" stroke-width="0.9" stroke-opacity="0.55" fill="none"/>
<path d="M585.1 426.2H619.4M602.2 447.6V404.8M583.1 427.1H619.5M601.3 439.9V414.2" stroke="#d6988c" stroke-width="0.9" stroke-opacity="0.55" fill="none"/>
<path d="M606.8 417.1H632.1M619.4 428.4V405.8" stroke="#d78276" stroke-width="0.9" stroke-opacity="0.55" fill="none"/>
<path d="M611.8 409.4H658.4M634.9 428.3V389.8" stroke="#ce3434" stroke-width="0.9" stroke-opacity="0.55" fill="none"/>
<path d="M536.2 489.9h0M548.1 502.2h0M530.7 490.5h0M546 466.6h0M548.3 482.1h0M533.5 490.2h0M499.3 496.7h0M553.6 472.3h0M523 514.7h0M532.9 493.3h0M537.1 486h0M493.3 517.7h0M508.8 507.4h0M548.2 469.2h0M511.1 517h0M516.6 502.8h0M512.1 501.1h0M561.1 480h0M547.3 476.3h0M518 489.6h0M502.7 541.4h0M525.1 493h0M530.4 493.8h0M544.5 480.7h0M540.3 474.2h0M534.2 477.4h0M522.6 489.4h0M533.7 497.6h0M547.6 468.8h0M511.4 489.7h0M520.4 512.5h0M513 517.3h0M549.9 491h0M536.3 488.7h0M547.4 485.8h0M548.5 493h0M544.4 473.1h0M519.2 520.3h0M521.3 511.2h0M536.1 496.9h0M543.9 482.4h0M542.5 488.2h0M490.3 527.7h0M525.2 502.3h0M511.3 511.8h0M499.3 511.7h0M516.6 521.6h0M515.3 504h0M496.2 526.9h0M524.8 486.8h0M571.2 475.2h0M528.1 511.6h0M523 488.1h0M541.9 479.7h0M545.4 494.1h0M538.3 508.5h0M532.5 492.7h0M530.1 486.1h0M513.5 511.8h0M515.5 520.5h0M529.4 482.9h0M509 519.5h0M550.2 489.4h0M538.1 486.1h0M520.6 509.2h0M571.7 481.7h0M523.4 502.2h0M515.4 507.2h0M548.3 472.7h0M540.9 497.2h0M528.3 498.5h0M535.8 485.5h0M520.7 494.7h0M531.7 479.4h0M522.9 483.5h0M505.1 534h0M513.8 522.5h0M491.8 496.9h0M515.9 507.1h0M493.6 533.7h0M510.6 509.7h0M538.4 468.8h0M554.9 471.5h0M557.3 480h0M545.6 484.2h0M549.7 490.9h0M522.6 506.4h0M558.6 481.8h0M511 514h0M497.3 539.3h0M518.1 492.8h0M495.6 521.8h0M531.7 510.6h0M555.3 478.2h0M551.1 490.7h0M503.9 517.3h0M523.2 495.8h0M556 496.3h0M565.4 480.3h0M538.8 473.2h0M522.7 491.3h0M520.3 499.4h0M546.1 484h0M537.9 485.9h0M564.6 486.3h0M539.3 483.4h0M531.6 507.9h0M488.5 526h0M511.8 500.9h0M537.3 499.4h0M514.9 505.1h0M532.2 494.5h0M547.5 470.7h0M523.5 484.3h0M503.8 516.8h0M564.9 487.4h0M548.7 489.8h0M517.8 506.1h0M534.4 472.3h0M503.5 512.2h0M492.5 525.2h0M533.3 466h0M550 478.5h0M497.9 497.9h0M536.9 495.9h0M512.5 500.8h0M526.9 530.4h0M528.5 495.1h0M529 495.8h0M545 513.7h0M512.9 514.8h0M547.5 486.9h0M531.5 493.4h0M536.2 482.1h0M512.8 499.7h0M551.5 457.9h0M515.1 484h0M558.5 479.9h0M519.4 493.4h0M509.4 516.6h0M548.1 495.3h0M527.9 495.5h0M513.8 516.6h0M508.2 506.1h0M515.1 523.7h0M518.6 501.4h0M549.7 473.8h0M497.9 531.2h0M539.9 494.5h0M559.4 468.7h0M496.9 509.1h0M516.3 506.9h0M537.2 493.3h0M507.9 536.7h0M490.8 525.9h0M538.4 508.7h0M543.8 469.4h0M556.1 473h0M537.8 529.3h0M507.2 526.3h0M516.3 521.6h0M539.8 467.1h0M544.7 490.2h0M549.5 460.8h0M518.1 497.9h0M538.1 490h0M547.8 475h0M548.5 489.4h0M539.2 482h0M488.1 533h0M537.5 509.3h0M520.2 504.1h0M519.3 497.7h0M526.1 499h0M560.6 485.8h0M553.2 484.1h0M515.5 500.3h0M503.7 506.6h0M531.7 497.1h0M487.8 506.6h0M539.2 475.5h0M542.7 485.9h0M521.8 514.7h0M533.7 495.2h0M527.1 509h0M509 529.8h0M523.4 487.2h0M554.5 488.4h0M500.3 535h0M522.8 509.6h0M527.7 492.5h0M560.9 483.5h0M548.9 470.6h0M529.8 496h0M520.6 508.3h0M541.5 511.8h0M532.8 482.4h0M535.5 476.4h0M506 524.3h0M504 500.1h0M533.3 476.6h0M537.8 484.9h0M547.1 461.1h0M548.2 477.5h0M536.6 483.1h0M505.4 500.9h0M520.3 503.2h0M531.4 493.2h0M491 507.6h0M550.8 491.7h0M543.2 471.5h0M554.9 475.7h0M553.4 487h0M544.2 490.9h0M551.7 499.2h0M526.4 472.9h0M535.4 505.5h0M540.4 477.6h0M531.9 510.7h0M548.8 470.8h0M539.9 483.8h0M502.6 522.2h0M545.8 490.5h0M529 493.9h0M526.4 494.9h0M506.8 528.9h0M507.1 511.2h0M533.5 483.3h0M507.6 504.7h0M509.3 491.7h0" stroke="#c6c6c6" stroke-width="3.3" stroke-linecap="round" stroke-opacity="1.0" fill="none"/>
<path d="M478.1 510.7h0" stroke="#c6c4c4" stroke-width="3.3" stroke-linecap="round" stroke-opacity="1.0" fill="none"/>
<path d="M536.6 429.8h0M514.3 565.7h0" stroke="#c4c4c4" stroke-width="3.3" stroke-linecap="round" stroke-opacity="1.0" fill="none"/>
<path d="M491.7 561.5h0M569.3 459.2h0M482.3 532.6h0M573.6 462.7h0M570.3 472.2h0M569.4 460.3h0M578.2 468.9h0M559 462.2h0M564 454h0M557.9 459.3h0M561.2 460.8h0M557.2 462.8h0M564.3 463.6h0M565.1 466.9h0M557.3 447.8h0M561 465.6h0M561.8 452.5h0M565.6 464.3h0M568.7 457.9h0M557.1 458.6h0M567 456.8h0M576.3 474.5h0M479.4 540.3h0M560.6 458.3h0M567.4 460.1h0M492.2 546.4h0M563 465.8h0M563.2 463.8h0" stroke="#c8c0be" stroke-width="3.3" stroke-linecap="round" stroke-opacity="1.0" fill="none"/>
<path d="M460.6 529.7h0" stroke="#ccb2ac" stroke-width="3.3" stroke-linecap="round" stroke-opacity="1.0" fill="none"/>
<path d="M495.2 573.5h0" stroke="#cdb6b2" stroke-width="3.3" stroke-linecap="round" stroke-opacity="1.0" fill="none"/>
<path d="M577.8 455.6h0M569.1 452.4h0M570 446.9h0M559.2 434.1h0M571.4 455.3h0M564.6 446.8h0M583.8 463.3h0M568.7 450.1h0M578.6 454.7h0M573.3 448.6h0" stroke="#cab9b6" stroke-width="3.3" stroke-linecap="round" stroke-opacity="1.0" fill="none"/>
<path d="M478.5 556.9h0" stroke="#d0b2ac" stroke-width="3.3" stroke-linecap="round" stroke-opacity="1.0" fill="none"/>
<path d="M567.7 438.4h0M594.6 452.8h0M573.9 437.5h0M587 450.5h0M581.5 452.3h0M570.8 437h0M584.9 455.1h0M570 432.2h0M586.9 447.8h0M596.3 459.9h0M578.4 451.2h0" stroke="#cdb2ad" stroke-width="3.3" stroke-linecap="round" stroke-opacity="1.0" fill="none"/>
<path d="M475.4 567h0" stroke="#daa59b" stroke-width="3.3" stroke-linecap="round" stroke-opacity="1.0" fill="none"/>
<path d="M608.3 460.8h0" stroke="#daa091" stroke-width="3.3" stroke-linecap="round" stroke-opacity="1.0" fill="none"/>
<path d="M585.8 445h0M579 438.6h0M587.8 443.7h0M586.4 445.5h0M583.6 438.3h0M583.3 434.4h0M574.9 433.5h0" stroke="#cfaca5" stroke-width="3.3" stroke-linecap="round" stroke-opacity="1.0" fill="none"/>
<path d="M478.1 585.9h0" stroke="#d88474" stroke-width="3.3" stroke-linecap="round" stroke-opacity="1.0" fill="none"/>
<path d="M457.7 564.7h0" stroke="#dca096" stroke-width="3.3" stroke-linecap="round" stroke-opacity="1.0" fill="none"/>
<path d="M580.7 426.6h0M589 428.1h0M588.4 436.6h0M587.9 428.4h0M580.6 418.6h0M590.3 433h0" stroke="#d1a69d" stroke-width="3.3" stroke-linecap="round" stroke-opacity="1.0" fill="none"/>
<path d="M605.4 434.1h0" stroke="#de9687" stroke-width="3.3" stroke-linecap="round" stroke-opacity="1.0" fill="none"/>
<path d="M598.1 426.1h0M599.9 430h0" stroke="#d49f94" stroke-width="3.3" stroke-linecap="round" stroke-opacity="1.0" fill="none"/>
<path d="M586 411.8h0" stroke="#dca094" stroke-width="3.3" stroke-linecap="round" stroke-opacity="1.0" fill="none"/>
<path d="M594.3 419.2h0" stroke="#dc9687" stroke-width="3.3" stroke-linecap="round" stroke-opacity="1.0" fill="none"/>
<path d="M604.4 424.8h0M602.2 426.2h0M601.3 427.1h0" stroke="#d6988c" stroke-width="3.3" stroke-linecap="round" stroke-opacity="1.0" fill="none"/>
<path d="M602.4 417.5h0" stroke="#d89284" stroke-width="3.3" stroke-linecap="round" stroke-opacity="1.0" fill="none"/>
<path d="M594.3 404.6h0" stroke="#d6aa9e" stroke-width="3.3" stroke-linecap="round" stroke-opacity="1.0" fill="none"/>
<path d="M621.5 425.8h0" stroke="#dea094" stroke-width="3.3" stroke-linecap="round" stroke-opacity="1.0" fill="none"/>
<path d="M450.5 604.4h0" stroke="#e2705c" stroke-width="3.3" stroke-linecap="round" stroke-opacity="1.0" fill="none"/>
<path d="M616.6 417.8h0M619.4 417.1h0" stroke="#d78276" stroke-width="3.3" stroke-linecap="round" stroke-opacity="1.0" fill="none"/>
<path d="M616.7 403.6h0" stroke="#d8ac9e" stroke-width="3.3" stroke-linecap="round" stroke-opacity="1.0" fill="none"/>
<path d="M634.9 409.4h0" stroke="#ce3434" stroke-width="3.3" stroke-linecap="round" stroke-opacity="1.0" fill="none"/>
<path d="M639.8 398.8h0" stroke="#c8121e" stroke-width="3.3" stroke-linecap="round" stroke-opacity="1.0" fill="none"/>
</g>
<rect x="384.5" y="360.5" width="295.0" height="273.0" fill="none" stroke="#6b6b6b" stroke-width="1"/>
<path d="M397.7 633.5V637M460.7 633.5V637M523.6 633.5V637M586.6 633.5V637M649.5 633.5V637M381 616.3H384.5M381 558.8H384.5M381 501.2H384.5M381 443.6H384.5M381 386.1H384.5" stroke="#6b6b6b" stroke-width="0.9" fill="none"/>
<text transform="translate(397.7,647.7) scale(1.180,1)" font-size="10.6" fill="#4d4d4d" text-anchor="middle" font-family='"Liberation Sans", sans-serif' font-weight="normal"  stroke="#4d4d4d" stroke-width="0.15">−2</text>
<text transform="translate(460.7,647.7) scale(1.180,1)" font-size="10.6" fill="#4d4d4d" text-anchor="middle" font-family='"Liberation Sans", sans-serif' font-weight="normal"  stroke="#4d4d4d" stroke-width="0.15">−1</text>
<text transform="translate(523.6,647.7) scale(1.180,1)" font-size="10.6" fill="#4d4d4d" text-anchor="middle" font-family='"Liberation Sans", sans-serif' font-weight="normal"  stroke="#4d4d4d" stroke-width="0.15">0</text>
<text transform="translate(586.6,647.7) scale(1.180,1)" font-size="10.6" fill="#4d4d4d" text-anchor="middle" font-family='"Liberation Sans", sans-serif' font-weight="normal"  stroke="#4d4d4d" stroke-width="0.15">1</text>
<text transform="translate(649.5,647.7) scale(1.180,1)" font-size="10.6" fill="#4d4d4d" text-anchor="middle" font-family='"Liberation Sans", sans-serif' font-weight="normal"  stroke="#4d4d4d" stroke-width="0.15">2</text>
<text transform="translate(377.5,620.1) scale(1.100,1)" font-size="10.8" fill="#4d4d4d" text-anchor="end" font-family='"Liberation Sans", sans-serif' font-weight="normal"  stroke="#4d4d4d" stroke-width="0.15">−2</text>
<text transform="translate(377.5,562.6) scale(1.100,1)" font-size="10.8" fill="#4d4d4d" text-anchor="end" font-family='"Liberation Sans", sans-serif' font-weight="normal"  stroke="#4d4d4d" stroke-width="0.15">−1</text>
<text transform="translate(377.5,505.1) scale(1.100,1)" font-size="10.8" fill="#4d4d4d" text-anchor="end" font-family='"Liberation Sans", sans-serif' font-weight="normal"  stroke="#4d4d4d" stroke-width="0.15">0</text>
<text transform="translate(377.5,447.5) scale(1.100,1)" font-size="10.8" fill="#4d4d4d" text-anchor="end" font-family='"Liberation Sans", sans-serif' font-weight="normal"  stroke="#4d4d4d" stroke-width="0.15">1</text>
<text transform="translate(377.5,390) scale(1.100,1)" font-size="10.8" fill="#4d4d4d" text-anchor="end" font-family='"Liberation Sans", sans-serif' font-weight="normal"  stroke="#4d4d4d" stroke-width="0.15">2</text>
<text transform="translate(532.1,665.4) scale(1.100,1)" font-size="13.3" fill="#111" text-anchor="middle" font-family='"Liberation Sans", sans-serif' font-weight="normal"  stroke="#111" stroke-width="0.18">logFC / Malawi</text>
<text transform="translate(356,496.6) scale(1.080,1) rotate(-90)" font-size="14.35" fill="#111" text-anchor="middle" font-family='"Liberation Sans", sans-serif' font-weight="normal"  stroke="#111" stroke-width="0.18">logFC / South Africa</text>
<text transform="translate(532.1,349.9) scale(1.036,1)" font-size="14" fill="#111" text-anchor="middle" font-family='"Liberation Sans", sans-serif' font-weight="normal"  stroke="#111" stroke-width="0.18">Immune activation (324 genes)</text>
</svg></body></html>
